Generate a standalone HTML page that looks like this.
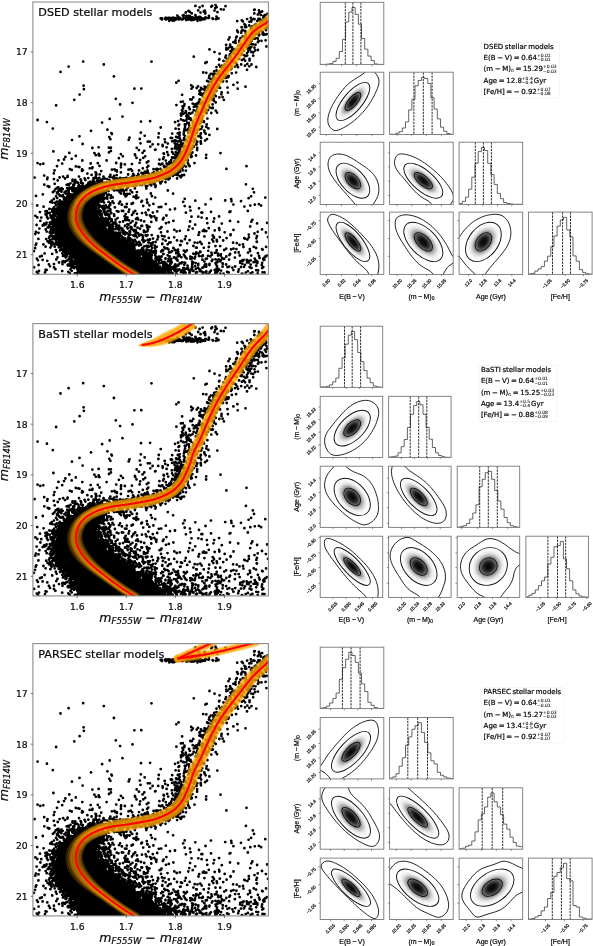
<!DOCTYPE html><html><head><meta charset="utf-8"><title>Stellar models</title>
<style>html,body{margin:0;padding:0;background:#fff}svg{display:block}text{font-family:"DejaVu Sans","Liberation Sans",sans-serif;fill:#0a0a0a;stroke:#0a0a0a;stroke-width:0.22px}.lib{font-family:"Liberation Sans","DejaVu Sans",sans-serif;stroke:#0a0a0a;stroke-width:0.2px}.it{font-style:italic}</style></head><body>
<svg width="593" height="946" viewBox="0 0 593 946">
<rect width="593" height="946" fill="#fff"/>
<defs>
<g id="stars"><path d="M84.3 190.0L69.6 195.5L62.5 202.7L58.8 211.0L55.5 222.3L56.4 233.1L60.0 239.4L65.4 247.2L71.8 255.6L79.3 264.1L85.3 276.0L157.2 276.0L141.0 263.0L117.9 242.6L100.4 221.8L94.1 206.6L94.3 195.8L101.1 191.3L94.5 191.5Z" fill="#000" stroke="#000" stroke-width="2" stroke-linejoin="round"/><path d="M149.0 257.5h0M133.3 252.5h0M159.6 258.6h0M160.2 267.0h0M169.9 273.4h0M164.4 273.5h0M163.5 272.9h0M46.3 224.0h0M165.5 258.8h0M61.3 242.4h0M151.6 270.1h0M133.5 230.0h0M155.5 268.9h0M121.8 244.7h0M152.2 263.2h0M156.7 271.7h0M174.2 237.3h0M128.7 248.0h0M180.0 263.1h0M55.1 223.0h0M172.7 268.7h0M216.5 272.5h0M143.0 262.7h0M149.3 262.6h0M150.7 252.4h0M102.5 220.4h0M148.5 253.5h0M138.0 260.1h0M105.6 226.0h0M156.9 270.2h0M133.5 253.8h0M108.9 231.2h0M157.9 271.1h0M206.2 264.4h0M185.1 262.9h0M50.5 215.3h0M106.5 225.7h0M121.8 242.3h0M143.3 254.0h0M51.9 221.7h0M156.6 267.4h0M54.9 210.8h0M118.5 236.7h0M171.9 272.9h0M122.9 238.4h0M168.3 268.7h0M125.6 247.6h0M156.8 272.3h0M119.3 243.1h0M52.9 223.4h0M151.1 269.2h0M108.1 220.9h0M112.5 228.4h0M103.2 221.6h0M184.4 273.5h0M58.6 207.1h0M102.8 224.5h0M152.8 268.5h0M151.8 259.6h0M159.1 269.9h0M148.5 266.2h0M135.5 252.0h0M125.6 244.2h0M74.3 263.2h0M152.2 263.6h0M183.3 273.8h0M181.8 270.4h0M177.0 266.2h0M145.8 255.8h0M174.6 268.1h0M140.7 261.6h0M155.5 258.5h0M54.4 220.5h0M136.8 259.0h0M143.1 261.0h0M154.1 270.5h0M153.8 266.1h0M125.7 246.5h0M128.4 234.1h0M111.2 221.3h0M120.7 242.4h0M144.5 252.7h0M57.8 235.7h0M168.1 273.8h0M113.3 223.7h0M182.0 271.7h0M52.5 221.4h0M147.3 246.9h0M54.1 221.3h0M155.6 271.4h0M154.2 266.6h0M126.1 243.9h0M70.4 259.1h0M136.7 258.8h0M143.6 242.0h0M139.1 260.8h0M169.5 265.7h0M135.5 255.9h0M164.0 269.4h0M151.7 270.8h0M132.0 254.9h0M144.3 259.3h0M136.6 257.1h0M163.0 263.8h0M139.2 235.5h0M53.9 225.1h0M172.3 267.5h0M149.5 266.7h0M189.9 271.8h0M151.4 267.5h0M70.9 259.8h0M102.6 223.3h0M142.4 240.0h0M171.8 272.8h0M52.9 217.9h0M149.7 269.4h0M150.1 263.7h0M136.8 258.4h0M110.5 229.9h0M122.7 245.3h0M159.9 266.6h0M97.2 211.0h0M149.6 267.3h0M115.4 229.2h0M142.9 257.3h0M165.6 267.4h0M148.6 265.2h0M148.4 266.4h0M129.3 252.3h0M146.8 262.4h0M154.7 270.8h0M56.0 241.1h0M125.7 249.4h0M191.7 268.3h0M128.1 239.5h0M163.5 270.0h0M139.5 252.5h0M77.6 265.1h0M143.3 261.1h0M175.9 250.4h0M117.9 228.8h0M137.9 259.1h0M126.0 246.4h0M71.1 263.7h0M129.1 248.2h0M146.2 257.7h0M114.9 237.9h0M160.7 270.5h0M150.7 262.4h0M52.2 211.7h0M141.9 262.9h0M142.5 235.4h0M175.2 268.4h0M148.5 268.0h0M112.5 233.8h0M148.1 266.6h0M69.1 265.6h0M122.0 245.3h0M154.7 273.1h0M184.5 262.6h0M146.5 262.6h0M148.8 263.1h0M79.2 266.1h0M127.5 250.6h0M169.9 265.2h0M151.3 270.3h0M134.4 244.4h0M138.4 255.7h0M141.7 261.6h0M137.2 257.5h0M157.4 273.2h0M52.6 216.8h0M162.2 262.3h0M117.3 237.5h0M58.9 239.6h0M155.5 271.7h0M57.2 235.2h0M178.2 256.3h0M151.0 270.5h0M130.9 252.4h0M148.1 267.4h0M165.3 262.6h0M55.1 224.1h0M170.2 271.3h0M152.2 262.6h0M176.6 269.5h0M153.2 272.7h0M144.6 265.1h0M209.5 264.0h0M147.9 265.1h0M140.0 259.0h0M139.6 242.6h0M137.5 227.7h0M152.2 244.3h0M159.0 272.8h0M167.6 271.2h0M178.0 255.9h0M154.7 272.8h0M138.9 257.6h0M124.4 245.5h0M52.7 220.8h0M151.4 270.5h0M141.3 262.2h0M136.7 257.5h0M112.4 234.3h0M117.8 240.0h0M204.6 265.5h0M136.8 242.7h0M55.4 226.3h0M156.1 272.8h0M152.1 270.4h0M56.6 213.7h0M181.8 271.0h0M143.4 258.4h0M154.4 268.1h0M103.8 211.9h0M191.5 269.3h0M163.8 268.2h0M135.7 257.8h0M202.9 255.8h0M147.6 268.0h0M220.3 273.6h0M145.6 265.4h0M179.3 269.4h0M60.0 206.4h0M127.9 249.4h0M150.0 266.9h0M166.6 264.4h0M135.5 257.6h0M122.4 243.4h0M165.1 273.4h0M57.7 207.4h0M70.4 254.8h0M154.6 269.7h0M184.8 256.2h0M132.5 221.2h0M150.5 266.4h0M145.9 254.0h0M168.0 261.3h0M167.7 271.5h0M137.5 259.0h0M162.8 273.3h0M184.0 268.1h0M122.9 245.7h0M196.6 272.1h0M151.0 259.8h0M37.3 217.4h0M137.0 259.4h0M154.4 271.1h0M134.5 251.3h0M152.5 271.8h0M135.8 257.2h0M158.4 268.3h0M60.4 240.3h0M118.4 242.9h0M52.6 222.0h0M47.7 227.3h0M174.8 271.0h0M138.2 258.4h0M140.4 260.2h0M176.5 270.8h0M170.9 268.8h0M143.6 254.0h0M139.9 258.1h0M159.7 267.9h0M165.9 265.9h0M134.3 251.8h0M154.6 264.4h0M71.1 259.5h0M140.4 258.7h0M52.2 216.0h0M156.9 272.9h0M121.3 245.5h0M189.5 272.3h0M168.5 271.7h0M134.2 253.9h0M62.6 245.8h0M184.3 271.9h0M56.9 244.6h0M199.7 271.1h0M138.9 250.7h0M146.1 261.6h0M154.7 251.0h0M146.1 266.5h0M154.3 262.2h0M151.3 245.8h0M146.9 262.7h0M139.0 253.1h0M157.8 272.9h0M163.2 265.5h0M65.3 248.3h0M156.2 259.1h0M169.3 259.4h0M125.0 226.1h0M128.8 249.8h0M128.2 249.1h0M152.7 267.9h0M171.2 267.3h0M105.5 223.8h0M118.6 242.2h0M142.3 252.8h0M148.0 263.9h0M56.7 213.2h0M107.8 224.7h0M126.9 248.8h0M148.0 267.6h0M114.2 237.2h0M56.6 252.2h0M184.8 272.6h0M49.4 208.9h0M146.0 251.2h0M60.9 203.1h0M131.5 248.9h0M142.6 260.3h0M118.7 227.2h0M132.2 253.2h0M178.6 270.1h0M116.2 236.0h0M170.0 272.3h0M54.6 216.5h0M130.4 234.6h0M142.1 261.1h0M152.7 260.8h0M45.5 214.3h0M56.6 234.0h0M146.2 266.0h0M148.1 265.5h0M55.7 236.1h0M145.0 264.4h0M143.4 261.8h0M117.6 218.1h0M78.5 265.0h0M151.9 271.3h0M128.5 224.7h0M169.6 256.4h0M139.4 254.6h0M147.9 263.9h0M132.0 253.1h0M149.9 267.5h0M106.8 219.6h0M157.8 267.5h0M156.8 273.2h0M140.0 228.7h0M130.7 250.5h0M176.0 271.3h0M66.3 254.8h0M153.2 269.3h0M51.9 228.6h0M183.8 254.6h0M118.1 233.8h0M135.1 255.8h0M159.2 267.2h0M153.7 272.0h0M158.0 271.8h0M134.5 248.6h0M149.2 259.9h0M108.9 207.5h0M53.0 232.0h0M146.0 262.5h0M108.3 231.1h0M157.7 273.6h0M45.6 246.7h0M57.3 242.1h0M154.2 263.0h0M158.0 236.2h0M162.9 271.7h0M156.1 258.5h0M145.9 263.7h0M139.7 257.3h0M132.8 248.1h0M162.3 270.8h0M136.2 222.9h0M170.5 262.0h0M154.9 271.4h0M156.0 250.8h0M91.6 174.9h0M97.0 197.3h0M87.6 184.9h0M92.7 183.4h0M89.9 184.5h0M100.5 193.5h0M100.3 185.7h0M96.1 200.5h0M87.1 189.9h0M97.2 195.0h0M92.8 183.6h0M100.6 184.3h0M99.5 189.2h0M93.0 180.4h0M92.0 188.6h0M100.9 189.3h0M71.3 194.8h0M101.3 188.4h0M88.8 190.0h0M80.3 190.9h0M98.8 181.0h0M103.8 197.6h0M97.1 186.7h0M100.1 188.9h0M90.0 189.3h0M95.0 187.0h0M82.6 188.7h0M65.9 193.7h0M96.2 188.0h0M82.1 188.0h0M102.7 198.0h0M102.0 192.3h0M89.9 186.0h0M95.7 176.9h0M81.3 190.9h0M93.8 186.0h0M97.6 180.1h0M93.0 184.2h0M97.7 197.5h0M95.9 185.5h0M90.9 184.8h0M90.6 190.4h0M103.9 194.2h0M100.6 186.4h0M97.2 181.1h0M94.8 199.1h0M88.1 190.3h0M94.6 184.1h0M102.5 197.3h0M99.1 186.1h0M99.0 194.8h0M96.1 189.5h0M93.3 189.7h0M97.9 178.6h0M94.1 189.9h0M93.4 186.8h0M87.0 187.0h0M88.7 188.4h0M97.7 190.0h0M80.3 187.0h0M82.7 187.4h0M85.6 187.6h0M93.4 185.0h0M98.3 200.1h0M100.9 191.1h0M92.1 188.9h0M88.0 184.0h0M87.0 188.4h0M102.7 190.8h0M92.6 185.0h0M95.4 186.2h0M94.0 188.1h0M99.3 188.6h0M98.0 185.3h0M95.4 187.8h0M97.3 193.8h0M95.6 188.4h0M102.8 194.9h0M95.2 190.6h0M76.6 182.0h0M88.0 188.7h0M102.9 191.1h0M92.8 188.7h0M93.6 179.8h0M95.2 199.9h0M95.8 194.9h0M77.5 191.6h0M88.8 188.6h0M99.9 201.0h0M100.5 195.3h0M101.6 191.2h0M98.0 202.8h0M96.5 195.1h0M78.9 185.1h0M96.5 174.5h0M100.5 190.1h0M101.4 190.6h0M103.8 199.2h0M102.8 199.7h0M98.2 197.3h0M96.9 184.2h0M79.0 188.1h0M100.9 196.2h0M101.3 195.7h0M96.5 185.1h0M100.1 189.1h0M100.7 190.7h0M87.1 189.9h0M80.0 187.9h0M96.8 205.4h0M97.1 190.1h0M88.0 190.0h0M73.2 190.0h0M92.2 182.2h0M94.7 198.9h0M97.5 199.6h0M101.9 197.3h0M96.1 201.5h0M101.1 197.0h0M98.8 198.6h0M98.1 197.0h0M102.3 191.5h0M99.9 188.4h0M96.6 187.3h0M86.0 186.7h0M62.8 195.7h0M102.1 188.9h0M100.9 185.3h0M98.3 194.6h0M94.1 188.3h0M87.2 188.8h0M173.2 153.7h0M161.0 175.1h0M117.7 184.3h0M148.7 179.6h0M183.7 163.9h0M177.9 172.6h0M119.0 184.1h0M135.6 184.4h0M90.3 186.8h0M113.6 187.7h0M151.3 179.3h0M103.8 193.9h0M105.2 182.9h0M113.7 180.2h0M83.9 189.2h0M188.9 147.4h0M160.6 183.4h0M187.9 163.1h0M117.6 183.5h0M187.3 146.0h0M137.4 176.0h0M136.8 183.4h0M99.7 183.9h0M176.3 159.0h0M132.9 180.4h0M100.2 189.2h0M168.3 169.5h0M183.4 161.0h0M150.6 182.3h0M92.5 183.1h0M116.4 180.2h0M130.6 178.0h0M93.6 188.7h0M119.8 185.4h0M113.7 184.5h0M154.1 177.0h0M175.9 166.1h0M173.9 172.2h0M100.3 189.7h0M110.2 183.7h0M95.8 196.2h0M179.1 145.2h0M158.0 176.4h0M180.7 146.6h0M146.7 172.7h0M106.5 182.4h0M187.6 152.5h0M108.6 182.6h0M189.6 166.2h0M101.9 188.2h0M101.9 181.4h0M123.1 180.4h0M93.6 188.9h0M153.9 184.0h0M156.0 169.4h0M171.0 173.0h0M102.8 186.6h0M133.8 181.7h0M191.1 155.6h0M143.4 179.9h0M190.6 149.6h0M110.8 186.6h0M165.9 171.7h0M166.6 178.1h0M188.8 150.9h0M188.3 152.9h0M149.3 179.2h0M152.0 179.1h0M182.6 146.8h0M145.9 186.3h0M97.7 198.8h0M117.2 190.0h0M188.3 147.1h0M160.5 168.9h0M110.4 187.7h0M155.3 178.6h0M182.9 160.7h0M108.2 183.9h0M137.0 177.6h0M141.9 179.0h0M147.0 177.6h0M107.1 179.1h0M197.1 150.1h0M172.4 164.0h0M102.8 190.9h0M159.1 179.3h0M141.3 179.2h0M134.5 178.2h0M155.4 187.0h0M179.2 153.6h0M120.9 179.0h0M133.7 181.0h0M108.1 183.5h0M105.2 192.3h0M160.3 175.2h0M178.6 172.2h0M156.0 181.0h0M180.9 153.0h0M133.7 185.3h0M144.8 176.3h0M128.5 181.5h0M164.7 175.4h0M99.4 185.0h0M187.0 153.7h0M115.1 184.8h0M169.3 162.1h0M95.9 189.1h0M131.4 179.4h0M158.0 176.3h0M157.5 173.1h0M150.8 183.2h0M99.7 196.4h0M174.4 158.2h0M92.1 190.4h0M95.5 188.2h0M127.9 181.8h0M151.2 178.7h0M111.5 186.7h0M107.1 184.9h0M176.1 167.3h0M189.0 151.0h0M123.1 180.3h0M85.1 186.8h0M186.1 155.5h0M158.6 178.1h0M131.0 180.5h0M90.3 181.9h0M176.8 163.4h0M127.0 185.2h0M175.5 166.6h0M184.4 157.7h0M179.8 157.2h0M139.5 180.3h0M88.1 188.9h0M179.3 163.0h0M126.0 178.0h0M188.5 147.2h0M102.7 194.4h0M155.7 173.8h0M114.8 187.0h0M192.4 152.5h0M158.0 180.3h0M147.8 181.7h0M140.8 179.9h0M142.8 176.6h0M179.5 164.1h0M128.4 180.7h0M180.6 162.3h0M158.6 178.0h0M139.6 177.1h0M169.5 164.1h0M98.0 187.2h0M114.5 185.3h0M101.8 183.6h0M120.1 177.8h0M148.6 178.9h0M172.5 168.1h0M187.0 148.0h0M144.8 176.3h0M112.6 189.0h0M108.9 184.0h0M104.1 193.0h0M129.2 181.7h0M182.9 154.7h0M115.6 183.7h0M115.0 183.9h0M157.5 171.5h0M108.5 185.2h0M184.0 153.1h0M170.1 167.9h0M160.1 174.5h0M129.3 182.6h0M188.1 146.3h0M116.8 178.4h0M181.4 159.7h0M109.6 187.2h0M155.2 180.7h0M183.9 164.9h0M155.6 175.2h0M150.3 177.5h0M166.6 163.5h0M166.0 178.5h0M136.7 179.5h0M101.3 184.4h0M142.5 178.2h0M184.6 158.6h0M175.3 165.4h0M182.0 156.4h0M126.6 177.8h0M157.9 176.2h0M184.4 148.3h0M158.7 180.2h0M98.2 189.3h0M118.3 184.3h0M94.4 196.1h0M186.9 159.9h0M176.0 168.2h0M165.8 173.1h0M107.8 190.5h0M133.9 182.4h0M136.5 178.0h0M129.1 185.3h0M149.1 181.8h0M172.5 175.5h0M174.2 161.7h0M179.2 160.5h0M126.3 189.7h0M174.2 166.1h0M171.1 174.5h0M88.5 186.6h0M96.4 186.7h0M180.3 159.7h0M143.5 173.1h0M170.5 172.0h0M128.2 179.4h0M101.3 186.6h0M173.6 170.5h0M109.8 181.7h0M152.8 182.5h0M179.5 155.7h0M91.4 184.1h0M126.0 182.5h0M109.4 186.2h0M110.9 183.9h0M141.5 173.0h0M187.8 149.7h0M109.2 182.1h0M177.0 169.3h0M186.1 153.3h0M149.0 177.9h0M114.1 190.4h0M128.7 178.3h0M156.3 179.8h0M178.7 169.0h0M112.6 177.6h0M126.4 190.2h0M138.5 174.9h0M111.7 187.9h0M180.8 159.3h0M155.4 174.7h0M99.8 195.1h0M122.3 184.1h0M148.3 180.9h0M128.0 187.6h0M161.4 172.8h0M127.9 181.9h0M112.8 186.8h0M176.5 159.9h0M185.1 159.6h0M186.5 150.6h0M110.7 182.7h0M132.5 185.7h0M121.2 181.3h0M150.5 175.5h0M177.1 167.4h0M171.8 168.1h0M169.6 177.9h0M105.3 185.8h0M137.6 176.9h0M178.3 173.1h0M180.1 163.7h0M123.8 190.9h0M88.5 189.6h0M187.3 156.1h0M174.5 166.4h0M110.2 187.0h0M114.9 183.3h0M99.0 193.2h0M135.8 185.6h0M115.7 184.4h0M110.4 187.7h0M184.1 156.7h0M166.1 166.7h0M187.1 150.2h0M133.2 181.9h0M181.7 153.4h0M149.5 180.4h0M143.9 182.2h0M154.6 183.9h0M120.9 188.8h0M176.4 163.8h0M175.4 163.7h0M101.1 183.6h0M149.3 182.4h0M99.6 192.9h0M160.1 182.1h0M122.3 179.1h0M112.9 183.5h0M185.3 146.5h0M110.1 183.1h0M90.3 186.9h0M95.4 196.7h0M119.6 184.0h0M147.2 186.1h0M188.6 164.5h0M143.1 174.5h0M170.9 169.0h0M97.2 190.4h0M178.8 157.3h0M161.0 171.8h0M180.3 152.1h0M105.7 184.7h0M101.5 184.8h0M115.6 183.8h0M122.3 189.7h0M173.1 163.1h0M158.6 174.2h0M178.2 156.9h0M123.1 185.9h0M116.6 190.2h0M163.1 178.3h0M153.2 181.3h0M165.5 182.2h0M182.3 155.1h0M178.0 156.7h0M162.3 178.1h0M109.5 180.2h0M154.0 174.3h0M128.1 183.3h0M129.6 193.9h0M190.8 148.2h0M128.4 181.0h0M172.8 175.9h0M103.5 184.4h0M142.1 180.0h0M183.8 153.7h0M165.7 174.4h0M104.8 178.6h0M190.9 157.0h0M100.9 185.2h0M189.7 150.6h0M166.0 171.8h0M187.7 155.5h0M177.8 169.1h0M182.2 152.3h0M180.8 168.1h0M157.8 169.1h0M149.6 184.2h0M99.3 178.0h0M136.4 185.2h0M153.2 173.8h0M177.2 164.7h0M162.4 173.5h0M125.6 179.5h0M152.1 177.0h0M185.3 151.5h0M185.7 149.6h0M182.9 145.5h0M179.6 167.0h0M164.8 172.3h0M156.5 168.9h0M123.6 179.3h0M121.0 189.8h0M179.5 165.9h0M132.7 179.1h0M174.7 174.6h0M101.6 193.1h0M187.8 154.1h0M97.4 183.5h0M164.9 174.2h0M121.2 186.2h0M127.3 187.3h0M142.9 177.0h0M123.1 180.5h0M184.6 146.9h0M117.8 190.1h0M124.2 194.4h0M136.9 192.1h0M119.5 183.2h0M156.3 175.4h0M162.8 174.2h0M148.4 178.2h0M121.6 179.4h0M102.3 185.2h0M172.9 167.5h0M100.8 184.8h0M190.5 148.1h0M162.5 173.7h0M117.5 182.9h0M147.9 172.3h0M102.4 187.8h0M184.2 153.9h0M114.7 182.0h0M152.3 177.8h0M88.5 189.5h0M168.6 171.3h0M123.5 178.4h0M146.3 188.5h0M183.3 155.6h0M161.8 170.4h0M96.9 200.9h0M179.5 160.7h0M96.0 187.6h0M187.8 160.3h0M131.0 180.5h0M118.7 186.9h0M125.5 183.7h0M185.9 150.3h0M139.2 182.4h0M89.1 190.5h0M133.1 173.9h0M144.8 183.9h0M144.7 179.7h0M186.8 152.2h0M111.4 186.3h0M155.8 185.7h0M102.7 179.1h0M182.9 160.7h0M113.7 184.4h0M101.2 186.1h0M106.0 192.9h0M174.7 166.6h0M108.0 188.6h0M160.2 173.1h0M96.9 195.9h0M94.5 182.0h0M179.2 162.1h0M160.1 178.1h0M182.3 158.7h0M110.8 183.1h0M121.7 190.3h0M139.0 170.5h0M96.5 195.0h0M180.2 166.5h0M175.3 155.6h0M176.7 174.9h0M117.4 182.2h0M177.9 175.1h0M146.7 176.3h0M139.7 184.9h0M154.5 175.9h0M125.1 180.5h0M124.4 185.0h0M114.8 182.8h0M96.7 190.8h0M177.0 166.2h0M156.5 176.1h0M187.3 159.2h0M166.1 170.6h0M130.5 190.4h0M122.0 182.1h0M100.5 190.2h0M122.2 178.6h0M184.7 149.1h0M169.2 174.0h0M146.9 177.0h0M89.4 189.7h0M185.0 159.6h0M162.0 177.4h0M175.8 167.9h0M165.1 173.1h0M131.8 181.9h0M120.3 184.3h0M137.4 183.0h0M142.6 178.8h0M103.2 183.4h0M162.8 172.7h0M168.0 176.2h0M84.9 186.5h0M133.4 183.1h0M94.7 189.5h0M136.8 179.9h0M169.7 178.2h0M183.6 150.8h0M107.2 185.5h0M166.8 173.7h0M185.0 149.9h0M116.3 179.7h0M93.5 190.1h0M122.9 189.4h0M142.1 176.2h0M125.1 180.7h0M191.8 147.9h0M114.3 179.7h0M143.2 182.0h0M106.9 186.8h0M147.5 170.5h0M141.8 181.7h0M158.4 179.5h0M120.6 181.3h0M101.5 189.0h0M125.7 185.1h0M145.8 182.2h0M116.2 183.0h0M112.8 186.5h0M122.8 183.2h0M105.9 190.5h0M160.4 173.7h0M125.4 178.2h0M180.2 171.7h0M134.4 181.5h0M92.3 187.7h0M164.7 172.3h0M143.4 176.1h0M180.8 153.6h0M101.8 193.6h0M94.9 198.2h0M100.7 186.7h0M117.5 183.3h0M106.6 183.1h0M191.2 153.4h0M111.3 182.1h0M185.5 148.7h0M165.1 176.4h0M82.6 185.8h0M108.6 191.1h0M152.6 173.9h0M149.0 177.9h0M163.8 165.9h0M82.1 188.0h0M89.4 189.7h0M149.5 183.5h0M172.9 164.7h0M185.9 170.7h0M95.3 187.6h0M182.4 145.3h0M185.6 159.9h0M106.0 193.0h0M175.0 167.1h0M145.0 181.1h0M158.3 177.1h0M150.5 175.7h0M186.0 166.6h0M103.2 190.3h0M191.8 147.9h0M185.4 150.9h0M123.8 185.6h0M109.9 185.5h0M188.5 146.5h0M129.9 182.3h0M162.1 181.3h0M162.0 175.8h0M174.6 169.6h0M92.4 190.9h0M180.4 165.8h0M122.2 183.6h0M181.9 163.4h0M180.3 157.5h0M162.0 172.6h0M128.9 184.0h0M154.0 172.4h0M186.0 151.9h0M119.6 184.3h0M94.8 189.9h0M154.4 178.1h0M184.3 155.4h0M100.5 186.2h0M182.0 160.9h0M128.1 174.5h0M149.5 174.2h0M171.0 162.5h0M145.9 182.4h0M174.5 168.5h0M110.3 176.9h0M88.1 185.8h0M180.1 159.6h0M103.2 186.0h0M155.0 177.7h0M102.8 186.6h0M166.8 168.0h0M169.5 176.0h0M129.6 184.8h0M144.9 177.0h0M105.5 186.5h0M127.1 181.0h0M130.4 181.0h0M177.2 160.5h0M180.9 157.9h0M164.4 178.0h0M106.9 184.2h0M185.7 157.6h0M154.5 180.8h0M121.8 190.6h0M148.8 173.8h0M143.1 178.1h0M165.3 173.5h0M92.7 188.5h0M146.3 177.7h0M101.0 187.7h0M119.4 187.2h0M176.9 149.2h0M159.0 173.7h0M256.9 31.2h0M230.5 51.1h0M184.8 124.4h0M208.4 128.4h0M185.2 149.3h0M224.2 66.4h0M192.5 145.3h0M241.5 46.1h0M196.1 122.8h0M203.9 102.7h0M224.0 69.6h0M251.2 27.7h0M231.8 73.3h0M186.6 130.1h0M233.8 53.5h0M260.1 12.1h0M202.8 96.4h0M207.5 88.2h0M203.8 109.8h0M251.0 28.5h0M249.2 25.5h0M251.4 44.1h0M255.1 34.5h0M253.7 37.3h0M223.2 71.5h0M218.9 74.8h0M203.0 103.0h0M217.3 87.0h0M210.7 74.0h0M211.4 108.1h0M202.4 116.4h0M259.0 35.4h0M262.6 34.2h0M194.9 104.5h0M197.0 141.7h0M245.6 56.2h0M239.0 58.8h0M220.2 74.2h0M214.0 94.6h0M244.4 43.3h0M195.1 130.1h0M232.9 61.6h0M232.5 61.4h0M198.5 118.9h0M191.4 137.8h0M191.1 120.1h0M245.4 31.3h0M241.1 45.0h0M241.9 46.4h0M255.1 38.5h0M262.1 20.3h0M219.2 74.2h0M179.9 148.4h0M245.7 40.2h0M267.3 27.0h0M199.1 129.5h0M257.9 34.1h0M201.7 89.0h0M260.0 30.4h0M258.0 28.5h0M258.4 18.9h0M237.2 64.9h0M197.2 114.7h0M240.2 48.4h0M252.5 26.9h0M247.0 41.8h0M199.7 113.0h0M213.8 86.4h0M216.2 90.7h0M237.5 49.7h0M199.0 117.7h0M232.0 47.5h0M222.7 81.5h0M252.1 26.5h0M246.5 43.1h0M267.2 26.9h0M230.9 69.3h0M236.9 50.9h0M254.5 30.3h0M210.1 98.4h0M251.4 20.2h0M198.4 113.8h0M205.2 87.7h0M265.0 15.4h0M261.6 20.6h0M188.0 142.8h0M235.8 63.0h0M202.3 103.4h0M249.5 38.0h0M184.7 135.8h0M249.0 44.8h0M224.8 74.4h0M231.6 52.7h0M251.9 32.4h0M204.7 108.0h0M228.5 39.6h0M193.2 137.7h0M265.0 22.4h0M191.7 99.6h0M204.9 108.8h0M260.9 26.9h0M257.8 38.6h0M228.7 75.8h0M205.9 98.6h0M240.6 47.9h0M186.4 156.4h0M239.3 42.2h0M203.9 104.1h0M211.6 98.4h0M191.8 132.5h0M201.8 110.3h0M200.3 136.4h0M195.8 114.8h0M216.6 83.5h0M192.2 140.8h0M255.6 33.4h0M257.3 26.1h0M214.0 100.9h0M191.7 133.1h0M202.7 108.6h0M245.8 39.4h0M191.8 131.1h0M212.4 80.9h0M258.2 26.3h0M230.7 57.6h0M255.8 27.6h0M250.9 34.9h0M219.9 78.0h0M226.1 44.8h0M216.5 70.5h0M259.0 19.9h0M229.9 54.5h0M189.9 141.4h0M226.0 55.6h0M191.5 128.2h0M201.4 121.6h0M260.8 22.9h0M201.0 143.7h0M219.1 59.8h0M194.0 142.1h0M237.6 49.0h0M243.8 59.0h0M263.4 33.4h0M251.5 41.1h0M213.3 78.3h0M224.6 68.4h0M251.3 47.1h0M194.6 138.8h0M239.3 40.7h0M251.3 47.1h0M252.7 38.9h0M263.4 17.4h0M216.0 90.6h0M185.3 158.9h0M185.8 153.9h0M246.8 42.5h0M211.6 96.3h0M255.9 24.1h0M234.5 49.2h0M196.7 118.8h0M210.8 92.9h0M202.3 107.7h0M256.1 24.4h0M252.6 34.7h0M197.8 122.1h0M224.6 75.8h0M264.9 22.3h0M202.5 109.9h0M262.0 31.1h0M266.5 24.5h0M262.8 32.4h0M261.1 21.0h0M196.6 104.6h0M202.2 126.6h0M202.1 105.5h0M198.5 114.6h0M241.5 46.9h0M200.9 133.3h0M244.4 55.3h0M187.9 150.5h0M212.9 95.5h0M201.1 138.0h0M189.0 113.2h0M206.4 113.1h0M213.7 98.7h0M203.4 109.6h0M250.5 37.1h0M252.3 34.5h0M226.0 75.3h0M222.2 68.2h0M214.1 85.1h0M216.6 83.6h0M228.4 76.4h0M261.9 24.7h0M258.3 27.7h0M238.0 67.2h0M263.9 17.3h0M194.6 134.7h0M212.6 104.4h0M191.1 137.0h0M189.5 127.5h0M239.0 49.2h0M209.4 75.7h0M196.4 103.8h0M223.5 60.9h0M191.0 153.3h0M196.4 125.8h0M236.5 55.3h0M251.4 52.0h0M202.2 105.5h0M192.8 146.9h0M266.8 27.5h0M233.5 50.0h0M186.7 141.0h0M218.7 85.6h0M184.0 138.1h0M244.1 44.7h0M187.4 114.8h0M212.0 85.3h0M206.7 62.2h0M260.3 23.4h0M205.1 140.6h0M247.6 48.6h0M180.0 149.2h0M208.5 105.4h0M243.6 50.7h0M245.5 40.0h0M193.4 128.1h0M208.0 97.4h0M208.0 110.1h0M215.7 102.4h0M227.3 61.4h0M263.6 34.8h0M200.2 123.1h0M254.5 31.2h0M247.2 55.6h0M248.2 51.5h0M200.2 103.3h0M232.3 50.0h0M224.9 67.8h0M265.9 18.9h0M206.0 112.2h0M241.6 27.2h0M200.6 133.9h0M227.4 76.4h0M183.2 156.3h0M189.7 138.6h0M215.0 78.6h0M246.1 45.3h0M193.3 97.4h0M196.0 155.5h0M220.4 74.3h0M183.4 158.7h0M199.1 103.5h0M265.5 34.6h0M223.0 81.0h0M263.4 16.1h0M219.4 80.0h0M189.4 154.1h0M227.7 68.4h0M265.2 22.7h0M231.3 67.1h0M204.0 122.0h0M199.3 94.0h0M181.3 142.8h0M203.8 89.3h0M242.1 44.1h0M226.5 61.6h0M210.6 92.9h0M208.7 97.0h0M242.9 21.4h0M190.3 129.9h0M203.2 105.9h0M199.3 117.8h0M247.0 53.1h0M183.5 157.9h0M245.1 60.7h0M215.8 79.9h0M195.0 133.5h0M208.4 87.9h0M193.4 126.7h0M194.0 123.4h0M225.4 69.1h0M192.5 112.6h0M246.9 38.6h0M212.8 79.6h0M216.5 67.1h0M210.6 79.0h0M184.6 128.8h0M225.4 57.5h0M253.5 18.9h0M193.1 121.6h0M204.0 93.2h0M229.5 47.3h0M246.3 27.1h0M251.9 30.5h0M216.9 78.3h0M266.7 14.7h0M262.9 20.4h0M239.7 50.4h0M197.3 141.8h0M232.3 62.0h0M238.1 50.1h0M218.9 75.6h0M197.1 109.6h0M221.4 94.3h0M199.8 100.2h0M233.4 62.0h0M264.4 16.5h0M263.2 23.1h0M198.9 124.0h0M240.6 54.3h0M233.4 84.8h0M234.2 61.8h0M189.0 107.4h0M245.8 36.1h0M210.9 82.4h0M214.1 71.3h0M199.4 91.0h0M220.1 87.9h0M226.5 64.9h0M207.4 101.4h0M255.0 34.4h0M189.8 131.8h0M226.3 71.5h0M196.4 129.9h0M227.7 70.1h0M218.7 72.2h0M194.5 163.1h0M224.1 77.1h0M208.3 100.4h0M259.8 18.9h0M200.5 93.0h0M267.4 13.9h0M199.1 122.7h0M264.3 22.5h0M256.3 67.0h0M254.7 9.6h0M209.6 96.7h0M194.3 139.4h0M229.8 55.3h0M259.2 25.4h0M212.8 73.8h0M261.8 21.0h0M204.3 130.7h0M198.0 86.3h0M220.1 71.6h0M250.8 17.8h0M241.6 31.2h0M195.2 128.1h0M245.5 25.2h0M201.0 115.0h0M255.2 29.1h0M241.9 60.1h0M200.7 142.1h0M202.7 94.1h0M223.8 74.4h0M192.8 86.9h0M206.1 157.9h0M249.3 66.3h0M198.7 101.9h0M250.0 42.4h0M266.3 21.1h0M208.8 85.1h0M234.2 50.6h0M220.8 75.4h0M235.9 63.1h0M189.5 148.4h0M193.8 106.8h0M237.2 21.1h0M188.4 130.0h0M212.0 81.5h0M217.3 129.0h0M257.3 20.9h0M264.7 15.1h0M192.7 103.6h0M192.0 148.7h0M178.5 125.3h0M222.6 97.1h0M201.3 128.9h0M244.8 30.9h0M223.4 74.1h0M221.6 92.4h0M225.7 70.9h0M196.5 144.5h0M262.5 19.9h0M202.6 111.4h0M213.1 92.7h0M265.4 18.2h0M195.0 131.4h0M253.2 55.7h0M244.5 24.2h0M197.4 112.0h0M237.4 82.6h0M229.6 37.3h0M211.1 89.4h0M225.8 77.6h0M266.0 30.2h0M244.0 43.8h0M209.4 134.9h0M227.9 92.6h0M254.2 9.9h0M209.5 107.3h0M264.7 15.1h0M187.3 123.0h0M185.0 153.6h0M219.0 64.8h0M211.3 113.0h0M215.7 110.6h0M262.1 11.5h0M260.8 14.9h0M229.7 58.4h0M212.9 108.0h0M235.4 54.6h0M237.1 30.6h0M255.5 44.7h0M226.7 77.5h0M196.1 111.4h0M241.8 20.3h0M249.9 49.4h0M261.5 40.8h0M215.7 79.1h0M249.4 21.8h0M237.9 32.2h0M244.7 37.0h0M241.5 53.3h0M236.1 37.7h0M253.0 44.4h0M236.1 72.6h0M241.6 31.2h0M248.4 47.6h0M219.3 76.7h0M249.5 60.5h0M206.3 72.8h0M252.1 33.4h0M200.4 120.4h0M258.7 40.9h0M206.7 124.5h0M201.0 87.9h0M231.5 60.5h0M254.5 38.7h0M206.2 154.8h0M226.7 81.4h0M266.8 34.2h0M254.3 13.4h0M265.6 40.3h0M203.5 121.8h0M247.0 69.8h0M213.5 76.0h0M251.5 41.0h0M200.3 118.3h0M196.9 132.7h0M214.6 94.9h0M235.0 66.6h0M191.8 156.6h0M217.0 83.0h0M225.2 77.9h0M191.2 85.3h0M240.4 38.1h0M217.9 87.4h0M230.6 57.5h0M231.1 66.1h0M214.5 52.1h0M188.4 132.8h0M205.4 63.0h0M245.5 86.7h0M175.4 140.3h0M184.8 130.3h0M204.5 132.0h0M207.4 118.6h0M245.9 43.5h0M245.7 33.4h0M206.4 98.8h0M183.4 143.6h0M257.9 42.2h0M190.5 118.4h0M224.9 64.5h0M184.5 104.1h0M203.4 103.9h0M182.1 94.8h0M219.6 53.7h0M254.5 19.2h0M249.3 41.0h0M242.0 54.4h0M213.2 92.0h0M250.7 38.1h0M227.6 59.2h0M241.4 48.4h0M212.2 81.6h0M204.7 89.8h0M265.1 18.8h0M219.4 97.4h0M242.5 30.0h0M250.0 47.8h0M207.8 89.9h0M191.5 88.7h0M201.8 118.9h0M237.7 88.7h0M203.7 121.1h0M262.2 24.0h0M226.4 49.6h0M242.7 48.5h0M191.6 156.6h0M220.9 81.0h0M180.9 101.8h0M200.7 141.4h0M203.5 111.8h0M241.2 64.5h0M235.6 42.9h0M217.0 112.6h0M258.9 10.4h0M206.0 91.2h0M195.2 139.7h0M247.3 64.0h0M210.8 94.4h0M251.6 29.1h0M210.2 99.1h0M226.8 61.0h0M196.7 88.0h0M190.2 136.8h0M257.3 38.2h0M212.6 107.9h0M199.6 99.4h0M230.1 44.6h0M257.8 14.6h0M207.0 139.1h0M225.3 65.6h0M213.4 89.9h0M236.8 36.6h0M197.2 147.9h0M231.7 68.2h0M259.2 12.8h0M215.8 96.2h0M204.6 86.6h0M211.8 82.9h0M193.9 146.5h0M219.4 59.2h0M210.1 94.1h0M208.3 81.6h0M210.5 86.8h0M241.5 49.3h0M235.5 40.5h0M245.0 65.7h0M197.4 103.5h0M182.0 144.4h0M255.1 50.5h0M246.5 47.1h0M193.7 110.2h0M258.9 32.8h0M233.4 42.2h0M242.8 36.5h0M227.6 49.0h0M206.3 126.9h0M264.9 28.4h0M238.6 45.7h0M247.1 19.1h0M212.6 99.6h0M230.6 55.9h0M197.7 107.1h0M203.2 72.5h0M254.9 38.3h0M200.8 94.7h0M222.2 65.6h0M196.2 144.4h0M227.5 87.6h0M195.4 132.2h0M210.5 98.5h0M214.9 88.5h0M200.0 90.4h0M219.7 80.2h0M256.1 33.8h0M249.6 58.9h0M257.4 28.7h0M246.9 39.4h0M254.5 47.7h0M226.3 48.0h0M196.1 106.4h0M228.3 77.1h0M266.4 46.5h0M219.4 73.5h0M257.9 50.0h0M222.9 72.9h0M179.6 135.5h0M209.0 77.9h0M196.5 129.9h0M243.1 36.7h0M215.7 91.2h0M215.3 73.9h0M251.5 64.5h0M223.9 99.8h0M206.8 102.5h0M247.2 40.4h0M197.6 115.6h0M241.3 32.8h0M237.2 30.7h0M207.1 80.9h0M228.9 57.8h0M234.2 53.7h0M216.8 74.1h0M205.7 109.9h0M254.7 24.9h0M222.8 77.7h0M253.2 52.4h0M245.0 27.0h0M230.5 46.4h0M205.7 133.7h0M221.5 79.1h0M251.3 21.6h0M262.1 20.3h0M213.8 74.5h0M259.2 34.8h0M202.3 102.0h0M216.3 90.8h0M209.3 85.4h0M223.1 73.9h0M175.4 146.9h0M176.6 153.5h0M183.2 154.7h0M173.8 164.3h0M168.2 155.0h0M180.9 156.4h0M172.1 151.9h0M177.4 145.2h0M172.2 133.6h0M178.2 163.9h0M174.7 161.4h0M172.1 141.3h0M186.8 151.1h0M179.9 150.2h0M180.7 145.0h0M175.7 154.8h0M179.7 151.7h0M176.4 156.1h0M167.2 152.2h0M174.6 143.3h0M180.3 149.4h0M179.1 136.7h0M178.2 155.7h0M178.2 155.8h0M181.1 143.0h0M179.9 153.5h0M183.9 140.0h0M181.2 140.6h0M172.1 157.4h0M180.1 139.4h0M176.9 144.7h0M167.8 143.6h0M175.6 145.7h0M188.5 137.1h0M179.7 132.7h0M178.4 158.5h0M174.8 140.7h0M180.6 155.1h0M178.7 147.0h0M162.7 146.2h0M182.8 146.6h0M179.3 151.3h0M176.6 141.2h0M173.4 157.7h0M174.7 148.4h0M183.2 158.4h0M176.8 155.0h0M176.1 136.9h0M175.7 152.1h0M179.7 146.7h0M179.3 152.7h0M178.1 148.1h0M177.8 153.8h0M178.9 150.8h0M177.1 144.1h0M176.9 146.5h0M172.1 138.1h0M175.6 128.7h0M176.4 156.9h0M179.8 138.5h0M186.8 147.4h0M179.2 124.6h0M182.6 111.6h0M186.2 120.5h0M189.5 118.9h0M183.7 134.5h0M189.8 109.2h0M194.9 132.2h0M189.2 137.3h0M182.5 106.4h0M190.3 99.4h0M178.1 121.1h0M175.1 122.2h0M185.2 140.0h0M190.8 130.9h0M185.1 127.0h0M182.0 110.2h0M180.9 113.7h0M183.1 120.4h0M176.4 105.1h0M188.9 122.9h0M187.4 118.3h0M189.2 125.3h0M184.1 120.7h0M184.3 105.6h0M181.1 115.7h0M185.3 112.9h0M198.3 136.2h0M190.7 148.2h0M188.1 118.3h0M183.1 108.3h0M185.8 111.1h0M185.9 112.3h0M188.5 116.4h0M186.4 115.9h0M186.8 117.6h0M183.1 113.9h0M182.8 101.6h0M190.4 113.7h0M188.0 129.2h0M177.4 137.6h0M185.8 139.6h0M185.6 124.4h0M193.2 124.7h0M177.8 133.4h0M179.8 19.1h0M192.5 18.6h0M168.5 17.8h0M197.7 18.6h0M200.4 17.1h0M186.5 19.8h0M181.5 19.3h0M218.5 18.4h0M185.0 18.2h0M212.6 18.5h0M196.0 18.8h0M189.2 19.0h0M203.5 18.7h0M190.6 17.2h0M195.6 18.9h0M166.1 18.0h0M199.3 16.8h0M166.2 19.5h0M187.2 18.2h0M197.6 17.6h0M190.9 20.0h0M204.2 19.2h0M180.9 18.9h0M189.7 18.6h0M188.1 18.8h0M216.0 19.2h0M216.5 16.7h0M184.6 17.8h0M194.8 18.2h0M165.5 17.8h0M196.8 17.7h0M198.5 18.2h0M186.3 20.0h0M205.2 17.6h0M194.1 19.4h0M194.8 17.7h0M173.1 18.0h0M179.5 17.7h0M174.0 20.6h0M175.5 18.1h0M178.7 17.4h0M169.3 20.8h0M178.0 17.9h0M208.3 18.1h0M195.0 18.4h0M188.0 17.1h0M182.2 19.4h0M175.8 18.4h0M165.3 19.0h0M172.4 20.6h0M171.1 19.7h0M165.0 18.7h0M176.7 19.1h0M169.8 18.0h0M187.6 18.7h0M199.5 17.5h0M203.1 18.8h0M161.9 18.4h0M204.2 18.6h0M175.2 18.7h0M185.9 17.5h0M172.4 18.0h0M169.8 19.1h0M200.3 20.2h0M184.1 17.6h0M198.2 17.7h0M175.1 18.7h0M209.0 17.8h0M201.4 18.2h0M191.9 17.9h0M183.6 18.2h0M182.8 19.0h0M217.3 18.7h0M178.3 18.3h0M160.7 18.4h0M172.1 18.2h0M177.4 15.7h0M175.5 19.7h0M197.5 20.8h0M201.4 18.9h0M172.9 19.9h0M186.4 17.5h0M196.6 18.5h0M205.2 18.9h0M169.2 19.3h0M173.4 19.8h0M172.6 18.5h0M194.0 19.8h0M167.3 18.6h0M197.8 19.3h0M182.8 15.6h0M173.6 17.8h0M188.0 18.6h0M187.0 18.6h0M192.4 17.3h0M161.9 19.4h0M196.4 18.0h0M170.7 18.4h0M174.8 19.4h0M202.2 19.4h0M197.9 18.2h0M186.0 16.5h0M183.0 19.2h0M203.0 18.8h0M196.0 16.9h0M175.2 19.1h0M175.9 18.4h0M192.0 20.0h0M179.3 17.9h0M173.5 19.7h0M205.8 17.6h0M189.9 16.2h0M192.2 18.6h0M187.9 18.7h0M192.6 18.1h0M178.6 19.3h0M188.3 19.6h0M187.4 18.9h0M190.9 17.7h0M213.0 18.9h0M199.6 7.3h0M205.2 12.2h0M183.6 15.1h0M195.4 15.2h0M195.4 5.9h0M185.7 12.7h0M225.5 6.2h0M188.9 16.0h0M191.7 13.4h0M202.6 6.0h0M203.8 11.5h0M189.8 11.8h0M214.5 10.6h0M200.5 12.6h0M215.2 8.2h0M198.2 10.4h0M188.5 11.0h0M208.9 16.0h0M186.5 16.0h0M220.9 9.3h0M217.5 12.2h0M215.5 5.1h0M204.9 10.6h0M205.2 13.6h0M205.1 12.6h0M185.9 12.4h0M211.3 6.7h0M216.7 7.1h0M212.1 5.8h0M223.7 9.6h0M115.8 98.8h0M180.9 156.9h0M134.2 175.3h0M134.4 88.7h0M78.4 186.4h0M121.1 163.7h0M164.8 176.7h0M165.8 160.6h0M111.6 183.2h0M140.8 132.7h0M66.7 184.8h0M67.6 176.0h0M95.8 155.2h0M159.0 164.0h0M79.6 94.6h0M103.8 64.5h0M79.0 176.6h0M75.8 155.9h0M92.5 167.3h0M75.8 166.4h0M120.9 172.4h0M99.5 155.5h0M121.0 164.9h0M144.2 178.5h0M141.0 121.6h0M182.1 168.1h0M87.4 173.6h0M181.9 175.2h0M178.8 129.1h0M181.0 119.4h0M174.3 140.7h0M107.4 129.7h0M90.1 181.9h0M171.8 148.8h0M148.2 176.9h0M134.9 154.4h0M144.3 150.8h0M152.6 173.1h0M184.1 175.0h0M102.1 122.6h0M63.1 176.6h0M153.5 169.2h0M90.7 163.5h0M105.4 182.9h0M158.2 144.3h0M79.5 136.3h0M140.5 143.3h0M183.1 166.4h0M176.9 152.8h0M136.3 179.5h0M103.5 176.6h0M110.4 139.2h0M176.0 173.6h0M65.4 156.9h0M143.3 157.8h0M68.5 184.8h0M148.4 161.3h0M82.0 170.9h0M142.6 152.8h0M40.3 164.3h0M168.5 179.4h0M83.9 89.2h0M163.8 157.3h0M128.7 139.8h0M166.6 147.3h0M144.7 181.0h0M80.2 186.2h0M129.5 137.7h0M122.9 156.3h0M123.8 179.1h0M177.5 166.8h0M122.5 116.6h0M162.6 144.9h0M138.2 174.0h0M54.5 170.5h0M180.9 177.3h0M139.8 139.0h0M44.2 175.6h0M158.4 137.4h0M132.3 176.5h0M165.2 142.2h0M53.8 173.4h0M37.6 163.1h0M99.7 174.4h0M150.4 179.6h0M98.6 147.3h0M49.3 186.7h0M147.8 141.7h0M114.5 169.3h0M171.6 170.8h0M177.1 178.5h0M160.7 127.5h0M148.3 166.0h0M43.3 163.7h0M144.8 171.7h0M142.8 168.3h0M54.7 183.8h0M183.9 132.0h0M116.9 171.5h0M73.4 184.7h0M89.7 168.3h0M179.9 176.2h0M182.9 170.3h0M163.6 153.3h0M140.2 159.8h0M145.4 172.1h0M132.1 170.7h0M149.9 141.7h0M59.8 189.3h0M97.6 182.4h0M55.7 188.8h0M116.2 163.0h0M165.7 179.0h0M163.0 177.2h0M168.1 164.5h0M149.1 175.8h0M109.7 118.9h0M145.2 173.0h0M69.3 152.9h0M146.8 162.5h0M118.8 181.9h0M99.5 165.9h0M95.5 172.3h0M170.9 161.1h0M111.9 134.0h0M124.8 164.4h0M164.0 153.9h0M154.1 174.3h0M57.7 180.4h0M47.2 179.2h0M98.7 153.9h0M53.9 179.2h0M47.5 177.6h0M177.4 148.2h0M82.8 183.5h0M184.3 130.4h0M109.3 137.2h0M103.7 182.8h0M178.6 80.8h0M174.5 173.2h0M176.6 174.2h0M165.8 175.0h0M150.3 177.6h0M37.6 120.0h0M122.6 183.0h0M110.9 150.9h0M175.8 170.6h0M111.9 169.7h0M181.1 156.2h0M160.6 164.6h0M46.9 122.1h0M53.4 151.4h0M109.5 176.9h0M172.5 169.7h0M79.4 167.1h0M62.2 163.6h0M139.6 162.8h0M98.8 155.3h0M167.3 176.9h0M175.6 170.5h0M111.4 133.1h0M101.2 171.1h0M160.8 177.2h0M159.4 159.6h0M173.0 174.4h0M120.9 167.3h0M86.7 185.7h0M82.3 160.5h0M83.6 85.7h0M85.4 180.0h0M49.1 187.1h0M74.0 187.8h0M116.8 170.5h0M130.7 169.1h0M106.6 160.5h0M164.7 139.3h0M178.7 141.4h0M108.9 147.7h0M92.2 168.3h0M110.4 175.0h0M118.9 158.2h0M145.2 156.3h0M128.5 169.7h0M110.9 147.7h0M150.3 146.7h0M176.3 82.7h0M114.2 181.7h0M72.5 179.8h0M154.6 175.7h0M127.7 178.6h0M170.8 137.9h0M114.1 176.0h0M163.1 159.0h0M162.4 171.6h0M117.5 178.9h0M131.9 164.1h0M115.2 170.4h0M91.0 130.8h0M177.2 170.6h0M116.7 175.1h0M84.6 178.3h0M44.3 184.7h0M132.8 182.6h0M178.2 158.0h0M78.4 166.8h0M171.2 167.2h0M138.9 150.1h0M80.9 187.3h0M162.3 163.7h0M168.0 168.4h0M109.0 152.4h0M144.5 172.8h0M180.0 169.5h0M164.4 167.4h0M136.7 147.8h0M80.5 187.3h0M145.3 176.1h0M82.1 169.5h0M144.7 135.8h0M47.7 186.2h0M173.1 172.1h0M171.3 159.8h0M155.1 149.8h0M69.9 169.2h0M118.5 179.3h0M65.0 178.5h0M115.1 178.6h0M155.5 149.6h0M183.4 145.2h0M94.4 153.1h0M162.3 272.0h0M241.0 267.0h0M253.5 262.2h0M156.4 259.7h0M159.0 258.7h0M164.2 261.8h0M177.0 240.4h0M190.1 221.5h0M123.2 211.0h0M169.4 268.3h0M160.3 270.6h0M159.0 259.1h0M242.3 263.7h0M148.6 268.3h0M223.7 258.8h0M254.0 192.3h0M145.1 256.8h0M215.9 264.3h0M145.6 212.7h0M261.1 205.6h0M250.7 264.6h0M165.3 248.4h0M207.5 86.9h0M249.8 249.1h0M189.9 207.0h0M214.7 230.4h0M143.9 232.1h0M201.7 244.0h0M170.9 270.8h0M250.6 273.4h0M245.9 184.3h0M244.3 238.2h0M152.9 242.5h0M155.1 248.4h0M246.7 259.9h0M226.6 238.1h0M239.5 244.8h0M221.0 260.1h0M144.9 259.9h0M195.1 256.9h0M256.2 265.7h0M125.6 196.4h0M143.5 253.9h0M155.5 252.1h0M148.0 229.6h0M196.3 252.5h0M209.8 272.0h0M206.1 265.1h0M238.2 271.7h0M232.4 267.7h0M136.1 236.0h0M126.8 204.0h0M127.4 227.4h0M175.4 264.4h0M135.2 155.3h0M162.3 273.7h0M179.4 255.9h0M200.3 269.7h0M226.1 264.5h0M142.1 225.9h0M206.3 231.1h0M152.6 144.4h0M222.8 263.9h0M178.4 253.4h0M171.7 262.3h0M124.0 193.2h0M219.0 269.7h0M168.5 258.9h0M221.9 257.8h0M148.3 246.6h0M148.4 242.6h0M151.5 245.0h0M120.9 154.2h0M184.7 206.1h0M149.2 240.3h0M247.4 239.5h0M201.4 271.4h0M184.3 264.8h0M120.5 240.7h0M193.4 246.0h0M245.7 272.6h0M164.3 247.4h0M263.7 260.1h0M223.5 273.7h0M262.6 249.7h0M198.3 263.8h0M131.2 251.4h0M255.2 262.1h0M196.1 247.7h0M267.1 222.9h0M227.1 271.9h0M156.5 218.1h0M168.8 237.9h0M141.2 262.6h0M220.3 261.4h0M224.7 232.3h0M257.4 261.7h0M248.0 252.7h0M203.7 272.4h0M265.1 256.7h0M182.0 241.3h0M243.5 247.0h0M170.5 252.2h0M200.1 251.7h0M150.8 243.5h0M163.1 250.5h0M136.5 157.8h0M130.8 239.6h0M202.4 259.7h0M187.3 269.0h0M175.9 257.9h0M194.8 257.4h0M129.5 251.0h0M139.0 245.6h0M251.3 221.7h0M192.7 228.6h0M133.2 235.3h0M192.1 261.7h0M243.6 259.8h0M263.2 258.9h0M198.0 267.8h0M184.5 270.7h0M130.3 252.6h0M174.4 270.0h0M256.9 236.2h0M151.9 254.9h0M248.8 234.6h0M183.4 272.7h0M233.4 270.1h0M137.0 255.8h0M209.2 243.1h0M204.4 236.5h0M258.1 270.5h0M171.1 263.4h0M185.4 257.3h0M155.2 197.6h0M182.9 271.2h0M162.3 268.7h0M166.5 269.9h0M263.3 267.1h0M211.0 211.8h0M220.5 153.1h0M246.5 166.2h0M127.4 224.3h0M185.9 212.7h0M178.0 249.6h0M133.5 253.1h0M156.3 257.6h0M256.4 238.3h0M173.7 266.7h0M167.8 190.5h0M168.9 270.9h0M204.4 261.6h0M177.6 270.7h0M184.3 270.4h0M156.2 267.7h0M178.3 252.0h0M249.6 267.1h0M189.3 226.5h0M206.4 273.3h0M141.0 220.4h0M125.1 225.7h0M169.2 242.7h0M190.3 256.6h0M201.6 217.6h0M144.4 246.3h0M203.6 267.1h0M225.2 200.5h0M174.0 257.5h0M219.1 216.5h0M143.3 239.9h0M150.1 259.5h0M189.6 240.2h0M153.7 266.6h0M153.3 268.7h0M231.2 199.2h0M243.0 260.7h0M155.3 255.2h0M266.8 255.6h0M201.7 256.3h0M251.3 255.6h0M152.3 267.6h0M165.0 263.9h0M217.0 270.8h0M147.8 260.9h0M128.4 237.2h0M137.0 257.2h0M203.8 247.8h0M132.6 252.8h0M240.1 262.8h0M167.4 248.5h0M193.1 262.2h0M184.9 239.2h0M161.2 207.0h0M144.9 262.2h0M121.6 229.9h0M256.7 241.7h0M161.5 227.1h0M212.2 239.6h0M176.9 273.6h0M234.9 257.6h0M136.3 198.4h0M167.9 266.7h0M191.8 257.4h0M167.5 265.3h0M211.4 252.7h0M153.4 203.9h0M216.7 268.4h0M214.2 218.5h0M245.0 238.7h0M230.1 254.0h0M166.9 266.1h0M167.7 255.3h0M217.5 260.1h0M229.2 266.6h0M202.8 273.9h0M193.5 270.9h0M151.2 185.4h0M244.9 264.8h0M227.5 267.2h0M205.8 258.9h0M215.4 273.4h0M241.0 201.2h0M257.4 263.1h0M176.7 231.4h0M206.9 258.6h0M163.6 218.0h0M130.6 252.7h0M218.6 259.4h0M250.7 260.4h0M155.6 242.0h0M202.9 273.1h0M152.0 248.0h0M259.6 257.9h0M137.1 237.3h0M127.0 242.7h0M155.4 271.4h0M226.4 168.9h0M241.9 273.6h0M175.0 269.7h0M243.0 244.4h0M192.0 258.3h0M149.9 239.5h0M151.3 221.9h0M226.2 248.7h0M176.1 273.9h0M242.4 274.0h0M195.8 268.9h0M165.9 269.4h0M147.1 252.7h0M128.7 252.1h0M262.1 262.8h0M208.0 255.8h0M194.7 242.6h0M209.4 265.0h0M172.1 251.2h0M162.0 177.0h0M169.8 265.8h0M185.6 272.7h0M139.8 255.3h0M165.8 204.1h0M206.3 271.5h0M161.4 256.8h0M202.3 212.6h0M135.9 251.8h0M127.0 245.8h0M156.5 256.9h0M170.2 264.0h0M127.7 228.5h0M214.9 252.8h0M160.6 228.3h0M195.9 273.0h0M215.5 259.3h0M138.9 259.0h0M250.1 251.1h0M214.0 237.7h0M167.7 244.3h0M175.0 268.0h0M183.8 250.6h0M161.1 259.9h0M230.0 220.9h0M222.6 263.5h0M252.4 272.4h0M169.0 271.8h0M159.8 263.2h0M162.9 239.3h0M188.3 229.9h0M181.8 175.8h0M201.4 212.6h0M189.5 273.1h0M181.0 240.9h0M196.7 247.7h0M175.0 208.7h0M150.2 267.0h0M169.0 252.5h0M190.4 258.9h0M166.0 264.4h0M157.5 272.1h0M239.7 255.5h0M128.9 235.7h0M210.4 256.4h0M242.0 260.7h0M148.4 210.0h0M236.4 249.1h0M186.6 258.4h0M256.9 241.9h0M161.1 251.5h0M165.5 258.3h0M194.6 258.6h0M196.9 272.4h0M149.4 266.8h0M199.1 256.0h0M99.5 214.7h0M238.8 269.4h0M147.1 265.2h0M218.4 268.9h0M229.1 259.6h0M111.8 227.5h0M191.9 269.2h0M118.7 232.9h0M161.6 273.2h0M142.9 260.3h0M149.8 260.4h0M192.7 263.7h0M215.4 272.3h0M165.1 265.4h0M155.7 253.0h0M164.4 272.9h0M137.3 252.1h0M123.1 238.5h0M132.9 246.2h0M116.0 238.5h0M136.0 231.7h0M122.0 237.5h0M192.7 270.8h0M182.0 262.3h0M162.3 250.2h0M135.3 224.8h0M163.7 262.7h0M170.9 272.4h0M169.4 272.8h0M137.6 250.6h0M143.9 230.6h0M181.5 263.3h0M178.7 264.3h0M206.2 266.8h0M119.4 240.7h0M152.6 266.7h0M165.5 273.5h0M152.8 212.6h0M151.0 268.4h0M142.4 259.7h0M150.8 263.0h0M175.3 270.6h0M129.4 252.7h0M138.3 257.4h0M100.5 218.8h0M134.8 226.0h0M183.3 268.1h0M157.9 273.5h0M176.2 253.2h0M156.8 264.5h0M172.7 273.4h0M148.7 268.8h0M99.0 207.4h0M224.2 258.7h0M165.8 268.4h0M142.0 201.0h0M185.8 236.4h0M157.0 263.9h0M210.9 270.7h0M120.2 190.3h0M156.1 266.6h0M127.4 219.9h0M170.7 270.6h0M156.4 258.2h0M164.0 270.9h0M164.8 271.5h0M130.7 226.9h0M151.4 256.9h0M162.1 262.8h0M192.2 264.2h0M158.4 260.5h0M148.7 259.4h0M169.5 271.5h0M202.8 230.9h0M187.5 265.6h0M150.1 270.2h0M148.6 253.6h0M129.9 240.6h0M149.4 205.3h0M156.3 271.8h0M147.2 263.7h0M142.3 262.1h0M180.1 245.2h0M150.5 258.9h0M120.3 234.7h0M174.7 265.6h0M164.6 268.7h0M176.3 259.2h0M180.9 272.2h0M178.4 265.4h0M181.4 257.3h0M167.7 269.3h0M147.8 239.9h0M153.5 269.1h0M153.5 252.6h0M119.0 203.5h0M132.4 255.1h0M228.6 272.5h0M147.2 257.2h0M126.6 194.4h0M240.2 261.3h0M156.8 246.8h0M150.1 254.3h0M163.5 273.0h0M198.5 234.9h0M111.9 233.8h0M143.3 258.4h0M115.6 237.4h0M160.5 273.9h0M134.0 250.2h0M133.1 241.0h0M151.6 267.9h0M143.6 259.9h0M108.5 213.9h0M148.7 250.1h0M124.4 243.4h0M99.9 219.0h0M156.1 270.5h0M166.1 265.9h0M133.0 255.3h0M127.0 233.2h0M161.6 256.3h0M177.6 260.7h0M134.9 239.9h0M226.3 256.4h0M130.1 238.4h0M101.2 216.5h0M164.6 269.9h0M135.2 210.9h0M164.5 273.8h0M216.5 273.1h0M143.0 255.6h0M163.2 253.8h0M123.7 232.1h0M134.2 247.3h0M103.2 223.5h0M195.1 266.2h0M158.9 256.7h0M149.7 266.1h0M149.0 246.6h0M155.8 262.0h0M137.5 258.9h0M159.3 267.3h0M123.3 233.6h0M136.0 219.0h0M121.9 210.8h0M146.8 262.7h0M147.2 202.5h0M162.3 244.2h0M101.5 198.8h0M143.2 264.6h0M215.6 263.1h0M171.0 260.7h0M125.7 214.2h0M125.1 234.4h0M158.2 237.1h0M179.8 255.4h0M124.9 238.6h0M188.0 267.8h0M105.6 224.8h0M142.0 213.1h0M139.9 251.1h0M155.8 218.4h0M127.3 193.8h0M192.1 266.5h0M173.4 248.0h0M154.7 245.7h0M136.6 250.8h0M181.6 270.7h0M118.8 228.6h0M115.5 222.3h0M146.6 266.0h0M151.3 217.3h0M134.9 255.6h0M123.7 233.3h0M115.6 219.7h0M151.7 235.1h0M146.7 246.0h0M190.5 210.6h0M149.1 258.1h0M154.2 269.1h0M255.4 260.1h0M102.9 223.9h0M189.2 270.1h0M130.3 238.9h0M114.5 236.0h0M128.4 241.4h0M151.2 250.4h0M154.8 265.0h0M138.2 197.6h0M117.7 240.3h0M126.3 217.4h0M151.5 216.4h0M157.2 257.8h0M164.5 236.5h0M162.3 243.6h0M193.4 253.7h0M128.6 211.9h0M110.4 209.8h0M158.8 261.5h0M198.3 216.7h0M128.5 250.0h0M110.2 209.2h0M147.4 226.7h0M137.5 217.8h0M163.6 272.1h0M122.4 228.7h0M163.5 254.1h0M165.6 240.7h0M144.2 221.4h0M137.2 244.2h0M137.4 254.0h0M112.0 221.2h0M162.3 268.1h0M216.7 250.2h0M206.2 265.9h0M116.5 224.5h0M177.0 259.4h0M146.8 255.1h0M195.7 254.2h0M145.8 263.2h0M186.4 268.6h0M146.4 259.5h0M214.7 270.1h0M141.3 201.8h0M105.7 222.8h0M140.9 234.7h0M143.5 254.4h0M192.3 267.4h0M113.6 203.1h0M109.4 205.5h0M134.5 249.9h0M105.8 205.4h0M130.1 249.2h0M107.5 219.0h0M167.5 231.5h0M150.0 251.3h0M101.0 218.9h0M151.9 196.2h0M130.6 222.8h0M110.1 204.9h0M106.3 198.1h0M112.9 226.5h0M102.2 207.6h0M159.6 228.6h0M120.1 201.7h0M129.2 209.6h0M100.7 219.4h0M149.5 226.9h0M107.4 207.1h0M132.0 214.9h0M101.3 213.9h0M147.5 235.1h0M133.5 212.8h0M100.3 201.2h0M119.5 192.0h0M105.6 198.2h0M120.2 234.8h0M129.1 245.6h0M183.2 201.8h0M124.5 216.3h0M137.0 213.8h0M141.1 249.9h0M141.7 250.3h0M130.8 246.5h0M121.2 240.4h0M143.2 206.0h0M97.0 194.5h0M173.4 220.9h0M125.0 207.0h0M132.7 248.5h0M147.5 202.9h0M166.0 223.2h0M133.5 212.2h0M120.5 239.3h0M184.7 198.8h0M224.2 250.0h0M130.7 248.7h0M119.2 239.1h0M168.6 249.6h0M114.2 215.9h0M109.8 226.3h0M185.3 251.9h0M96.3 194.7h0M132.2 192.3h0M115.9 226.3h0M102.8 195.3h0M105.9 198.2h0M108.9 231.7h0M128.9 251.4h0M98.7 212.4h0M170.0 209.6h0M126.7 220.1h0M107.1 197.2h0M109.2 226.7h0M94.7 202.5h0M104.8 212.7h0M130.1 232.0h0M102.8 218.0h0M146.7 249.4h0M133.0 203.0h0M170.7 242.3h0M117.8 228.1h0M127.5 217.6h0M112.7 197.5h0M97.0 200.9h0M131.6 203.9h0M145.7 235.2h0M147.4 226.0h0M147.3 227.5h0M174.9 209.1h0M128.2 248.7h0M186.9 250.4h0M103.9 195.1h0M123.0 221.5h0M120.5 232.6h0M136.0 196.9h0M157.4 239.4h0M180.6 245.1h0M173.1 193.7h0M187.2 243.3h0M206.8 218.5h0M140.4 250.6h0M118.3 233.1h0M197.5 242.8h0M156.3 220.2h0M110.6 227.7h0M166.4 215.5h0M112.5 201.3h0M99.5 195.2h0M109.9 232.7h0M100.4 206.1h0M200.5 252.0h0M143.2 250.6h0M142.9 237.5h0M130.2 242.4h0M129.0 220.3h0M143.4 249.4h0M134.7 197.1h0M138.2 219.4h0M96.3 205.9h0M102.2 196.4h0M146.4 235.9h0M115.0 223.0h0M108.2 215.0h0M146.5 250.0h0M135.8 241.6h0M95.7 196.6h0M109.0 216.6h0M146.5 214.8h0M109.3 215.1h0M107.2 207.4h0M133.6 196.7h0M103.1 200.5h0M120.8 244.1h0M98.0 204.9h0M150.8 193.5h0M98.8 196.7h0M134.0 231.3h0M132.6 251.3h0M135.8 244.9h0M162.9 219.4h0M191.5 216.7h0M110.4 211.2h0M118.3 238.8h0M109.1 224.9h0M100.4 218.4h0M100.7 211.2h0M154.3 216.3h0M148.3 246.0h0M251.1 196.3h0M146.7 225.4h0M109.0 194.7h0M100.6 220.5h0M119.9 236.0h0M141.4 225.9h0M96.5 201.9h0M104.4 210.8h0M100.0 210.6h0M134.2 248.3h0M111.0 195.5h0M142.8 250.8h0M131.0 243.2h0M104.1 222.8h0M111.3 213.1h0M115.2 234.2h0M179.8 230.8h0M158.8 207.2h0M138.2 233.5h0M162.0 235.9h0M120.9 193.5h0M135.6 230.1h0M126.6 195.6h0M95.7 202.7h0M142.6 250.9h0M136.4 232.7h0M130.5 227.5h0M149.9 215.5h0M136.4 195.3h0M125.1 220.0h0M199.0 208.3h0M161.0 232.3h0M101.7 215.1h0M153.0 238.6h0M132.3 240.0h0M99.5 201.4h0M103.1 223.7h0M125.7 194.5h0M111.7 219.3h0M146.8 199.6h0M125.2 232.5h0M119.7 222.1h0M175.0 250.0h0M110.7 197.9h0M104.2 207.2h0M157.2 211.4h0M155.0 247.4h0M128.0 247.6h0M108.6 201.9h0M255.9 260.6h0M230.4 211.5h0M264.0 257.8h0M257.7 273.5h0M254.5 233.5h0M248.6 262.4h0M219.8 237.1h0M252.4 219.8h0M261.8 265.1h0M229.5 212.0h0M199.2 232.5h0M230.6 234.5h0M218.1 255.5h0M235.2 252.5h0M256.3 270.2h0M219.4 230.0h0M216.2 262.7h0M233.1 242.7h0M268.0 237.2h0M259.0 256.0h0M205.5 204.4h0M233.4 204.6h0M207.3 223.2h0M238.2 221.8h0M209.1 274.0h0M262.0 229.4h0M236.8 243.1h0M195.7 263.1h0M262.2 268.0h0M195.3 200.7h0M257.7 231.8h0M231.5 201.3h0M264.5 259.6h0M247.9 260.9h0M248.6 198.2h0M254.8 204.7h0M266.1 246.9h0M218.1 254.0h0M204.0 230.0h0M202.8 255.3h0M212.5 259.7h0M208.8 228.2h0M253.8 246.8h0M202.5 267.7h0M265.3 197.6h0M233.5 229.9h0M220.9 254.4h0M265.9 232.5h0M215.0 270.1h0M213.3 241.5h0M200.2 242.0h0M247.8 210.9h0M219.1 228.2h0M262.1 249.2h0M217.0 265.9h0M220.2 246.1h0M217.0 241.4h0M248.8 261.0h0M250.3 205.6h0M238.7 252.5h0M208.2 250.8h0M235.2 266.5h0M247.0 262.4h0M244.0 266.8h0M222.6 266.7h0M204.8 231.0h0M244.4 206.6h0M216.7 239.9h0M247.9 271.3h0M231.1 249.4h0M264.5 272.5h0M198.2 265.0h0M221.8 223.6h0M250.6 267.7h0M199.1 268.8h0M195.2 224.7h0M257.9 253.2h0M220.6 255.5h0M210.9 199.0h0M211.8 261.0h0M265.7 256.6h0M230.5 235.2h0M254.7 258.6h0M217.9 271.3h0M250.2 226.5h0M233.5 248.6h0M223.2 240.5h0M262.5 272.3h0M211.9 254.7h0M229.4 255.1h0M217.6 262.1h0M198.4 253.6h0M257.1 223.4h0M208.8 247.0h0M221.1 270.6h0M212.7 235.5h0M251.5 267.9h0M205.3 264.3h0M248.9 237.3h0M256.1 248.0h0M213.5 221.7h0M213.7 236.9h0M215.8 273.0h0M216.4 252.4h0M62.5 264.2h0M39.0 271.0h0M44.6 253.4h0M74.8 273.3h0M82.6 144.0h0M53.9 264.1h0M72.0 140.1h0M38.4 238.9h0M42.6 259.9h0M40.4 220.9h0M42.7 225.5h0M33.9 251.2h0M38.6 265.0h0M40.0 256.6h0M47.3 260.8h0M77.2 273.7h0M59.6 177.5h0M37.9 260.3h0M36.3 243.7h0M56.5 239.8h0M74.3 99.8h0M57.0 166.2h0M51.5 245.5h0M55.4 269.2h0M64.0 159.5h0M36.0 195.9h0M58.5 160.3h0M50.0 266.3h0M58.7 247.3h0M62.2 271.1h0M56.1 105.4h0M45.0 272.5h0M34.6 177.6h0M43.6 206.7h0M36.6 225.0h0M46.2 239.1h0M55.5 233.1h0M59.0 262.5h0M82.9 170.3h0M41.8 255.9h0M57.5 257.3h0M49.7 236.5h0M39.4 228.6h0M50.7 217.5h0M52.2 217.2h0M48.9 264.3h0M63.3 251.6h0M69.8 273.4h0M35.1 248.2h0M36.8 272.0h0M71.7 158.8h0M35.3 234.1h0M71.7 270.8h0M52.8 128.6h0M52.2 253.9h0M54.3 211.1h0M38.1 273.9h0M54.0 267.4h0M35.7 245.1h0M45.6 269.8h0M46.6 270.0h0M71.6 260.2h0M59.1 208.8h0M54.4 191.0h0M34.1 267.3h0M60.2 204.6h0M76.7 266.7h0M252.8 188.8h0M141.3 88.6h0M83.2 61.6h0M220.3 66.8h0M151.5 61.7h0M145.4 261.8h0M150.1 121.2h0M215.5 246.1h0M142.0 185.0h0M174.3 229.8h0M132.5 102.8h0M178.2 162.9h0M199.7 120.0h0M193.8 56.7h0M120.1 104.5h0M134.9 188.4h0M68.6 66.6h0M209.5 49.4h0M60.5 71.9h0M113.9 76.4h0M147.1 167.3h0M51.2 235.8h0M168.8 222.3h0M148.1 256.2h0M158.8 133.4h0M258.9 204.2h0M82.2 186.8h0M76.1 188.4h0M70.7 194.3h0M80.2 187.5h0M82.8 189.5h0M80.6 179.5h0M76.5 191.7h0M74.3 184.8h0M73.1 186.4h0M68.7 191.1h0M82.8 186.3h0M79.3 189.7h0M78.2 186.8h0M68.7 185.2h0M69.6 188.0h0M68.7 192.4h0M77.1 191.8h0M80.5 189.3h0M68.4 191.3h0M72.5 190.6h0M67.2 188.2h0M68.6 190.1h0M72.6 180.0h0M74.4 188.3h0M71.1 188.8h0M75.2 179.9h0M74.5 192.5h0M67.5 176.9h0M68.3 189.5h0M82.9 186.6h0M73.4 186.9h0M75.2 182.7h0M71.7 169.9h0M78.8 185.2h0M73.0 187.7h0M72.4 191.0h0M77.6 188.9h0M70.5 183.3h0M75.4 190.4h0M82.4 189.0h0M68.3 192.8h0M82.4 188.9h0M68.2 184.3h0M78.2 183.0h0M81.0 189.8h0M81.2 180.7h0M81.2 183.0h0M74.7 182.2h0M81.2 189.8h0M71.5 187.6h0M72.5 181.0h0M59.8 200.4h0M56.0 196.3h0M60.4 190.5h0M64.8 198.3h0M66.1 198.0h0M64.0 198.9h0M64.7 198.4h0M62.8 195.2h0M63.5 196.9h0M61.4 191.7h0M68.0 196.5h0M64.5 192.5h0M67.3 196.5h0M59.7 195.5h0M57.2 198.0h0M60.5 190.3h0M58.5 190.4h0M61.3 201.9h0M67.5 196.4h0M62.7 189.2h0M64.4 197.5h0M57.8 192.1h0M57.2 187.9h0M57.0 193.4h0M58.4 187.3h0M57.2 192.3h0M61.6 188.1h0M58.9 194.3h0M52.9 192.2h0M68.3 194.6h0M62.1 201.6h0M61.0 196.1h0M65.9 191.1h0M58.2 210.0h0M52.4 202.6h0M59.4 206.0h0M61.8 202.2h0M57.5 208.1h0M55.0 203.0h0M53.4 208.6h0M54.0 207.3h0M56.9 209.1h0M61.7 202.9h0M57.7 204.1h0M57.9 207.7h0M59.1 205.4h0M56.8 201.7h0M53.9 199.0h0M58.7 204.8h0M55.9 205.3h0M59.9 205.7h0M57.6 210.7h0M59.3 201.4h0M55.5 209.2h0M50.2 202.1h0M59.6 202.5h0M51.8 200.6h0M42.8 194.4h0M60.3 205.3h0M60.9 202.9h0M59.9 202.3h0M58.7 207.7h0M52.2 217.3h0M45.4 211.4h0M37.2 205.5h0M39.9 212.1h0M53.2 217.3h0M56.4 212.2h0M54.5 215.3h0M54.8 220.0h0M55.1 215.3h0M57.2 212.5h0M55.7 213.1h0M53.5 212.5h0M46.9 211.1h0M56.3 212.2h0M35.4 215.8h0M49.7 213.0h0M52.5 219.4h0M54.9 221.2h0M55.4 220.0h0M47.7 212.9h0M52.5 218.5h0M46.5 214.9h0M53.9 209.4h0M47.0 216.9h0M54.4 221.5h0M47.3 213.3h0M47.8 218.5h0M53.8 218.3h0M53.3 215.0h0M53.1 212.3h0M52.2 217.7h0M41.3 217.6h0M52.3 209.6h0M53.6 211.4h0M51.7 218.3h0M52.8 217.5h0M51.9 209.3h0M45.7 229.5h0M55.7 230.5h0M53.9 231.1h0M52.7 233.2h0M53.0 222.5h0M51.5 227.6h0M54.3 223.6h0M48.1 227.5h0M49.8 222.6h0M55.5 231.9h0M52.7 228.4h0M38.5 232.8h0M52.5 228.9h0M35.9 232.0h0M52.9 225.7h0M50.6 227.2h0M52.6 224.3h0M46.6 222.7h0M54.6 222.1h0M51.9 229.7h0M52.8 228.2h0M53.7 228.8h0M50.3 224.0h0M51.6 228.4h0M51.5 232.7h0M50.8 230.0h0M52.6 224.2h0M50.7 233.6h0M53.5 226.8h0M52.7 229.0h0M49.1 225.5h0M53.5 224.3h0M44.6 225.0h0M44.1 223.7h0M49.7 232.4h0M46.7 231.6h0M53.4 237.9h0M55.7 236.7h0M47.6 241.3h0M51.3 242.3h0M49.1 238.0h0M49.1 242.7h0M57.4 238.8h0M51.2 244.6h0M56.5 239.1h0M55.4 235.5h0M51.3 235.8h0M52.6 239.2h0M50.0 240.2h0M57.4 237.3h0M52.5 242.3h0M55.0 239.0h0M53.6 236.4h0M52.3 239.4h0M56.8 236.2h0M53.6 238.9h0M51.9 236.3h0M43.4 244.4h0M56.1 238.0h0M56.0 236.9h0M54.7 246.7h0M57.8 244.6h0M64.0 246.5h0M58.7 241.9h0M59.0 245.3h0M60.8 249.3h0M36.9 258.7h0M64.0 248.0h0M61.0 246.8h0M59.7 242.3h0M61.9 244.4h0M54.0 244.2h0M60.1 250.4h0M59.0 244.7h0M62.0 249.7h0M64.4 247.3h0M56.1 242.4h0M62.7 244.4h0M60.2 246.2h0M54.5 244.2h0M61.8 243.2h0M63.9 248.0h0M61.3 249.0h0M57.1 243.4h0M61.2 249.4h0M59.7 244.6h0M58.5 242.6h0M55.8 250.1h0M50.4 247.6h0M67.8 254.3h0M64.5 247.9h0M66.4 249.6h0M66.5 256.4h0M62.5 262.1h0M56.3 259.5h0M69.6 257.1h0M70.5 255.5h0M68.8 253.3h0M62.4 261.6h0M66.4 254.8h0M65.1 253.0h0M65.4 252.9h0M63.0 249.2h0M67.1 253.5h0M63.5 261.2h0M66.7 255.1h0M65.0 250.0h0M65.6 249.2h0M67.9 253.0h0M67.6 252.5h0M63.0 255.9h0M65.6 257.3h0M65.9 257.3h0M62.3 253.3h0M70.6 255.7h0M63.7 250.3h0M63.6 255.4h0M65.2 255.4h0M63.8 249.2h0M65.5 249.4h0M67.2 251.6h0M68.8 259.0h0M70.6 263.8h0M73.9 268.2h0M72.9 260.9h0M65.0 262.2h0M73.5 266.4h0M73.9 263.2h0M68.3 271.8h0M77.3 265.6h0M71.2 265.8h0M67.9 265.6h0M71.5 261.8h0M75.9 263.9h0M67.7 265.2h0M77.1 263.8h0M76.8 262.9h0M72.3 257.4h0M68.7 264.5h0M77.7 263.4h0M68.0 264.6h0M74.1 267.3h0M73.3 266.5h0M70.5 269.3h0M67.0 260.6h0M75.5 261.5h0M75.6 266.9h0M74.0 263.8h0M66.1 260.8h0M72.0 264.0h0M72.6 266.5h0M74.7 260.8h0M69.8 261.6h0M71.5 267.4h0M77.3 266.9h0M79.7 265.5h0M78.4 271.9h0M77.1 268.8h0M81.2 273.5h0M77.0 273.0h0M78.8 272.4h0M82.8 273.0h0M81.3 270.8h0M83.8 273.5h0M80.7 271.7h0M79.3 268.2h0M79.5 271.6h0M81.6 270.6h0M77.6 267.8h0M80.4 273.0h0M81.4 268.8h0M77.6 269.7h0M80.4 269.4h0M78.7 268.3h0M79.7 270.0h0M151.2 266.6h0M145.8 263.0h0M157.6 265.6h0M155.2 255.4h0M144.0 264.4h0M144.0 264.4h0M155.3 271.0h0M146.0 260.9h0M152.0 270.9h0M155.0 263.2h0M145.2 265.2h0M144.6 262.7h0M147.8 263.5h0M158.1 271.1h0M146.2 266.3h0M152.2 251.9h0M152.2 271.2h0M171.3 258.8h0M155.9 259.5h0M144.1 260.7h0M150.1 255.9h0M148.1 267.8h0M145.9 265.7h0M146.1 263.6h0M145.3 262.0h0M150.5 269.8h0M150.6 266.0h0M158.0 268.4h0M148.4 257.7h0M154.1 270.9h0M144.3 261.8h0M155.7 259.6h0M151.8 269.7h0M148.7 254.2h0M151.6 265.4h0M152.4 265.8h0M151.7 269.7h0M157.7 271.6h0M145.2 264.8h0M156.1 262.9h0M146.2 263.7h0M153.0 271.2h0M153.8 268.1h0M153.0 269.2h0M157.9 273.6h0M159.7 271.1h0M150.0 260.3h0M155.5 272.1h0M153.4 270.0h0M146.9 266.7h0M145.0 263.6h0M146.0 265.9h0M144.2 264.5h0M144.4 259.8h0M157.4 273.7h0M157.8 264.4h0M153.1 251.5h0M159.9 269.8h0M150.5 268.7h0M149.8 258.7h0M158.3 269.4h0M166.7 265.4h0M137.5 256.7h0M131.2 240.3h0M138.3 258.3h0M136.5 252.2h0M139.1 241.8h0M122.7 245.8h0M140.2 258.8h0M141.1 244.6h0M126.9 245.2h0M127.6 246.8h0M131.8 245.3h0M147.4 231.3h0M134.6 256.5h0M126.1 240.7h0M122.2 245.6h0M138.8 251.3h0M130.4 251.8h0M142.4 247.8h0M125.4 246.4h0M132.2 243.6h0M133.3 243.0h0M145.5 231.9h0M134.2 246.7h0M125.4 238.3h0M136.4 258.0h0M142.2 251.1h0M139.1 258.8h0M132.9 246.9h0M122.8 245.3h0M127.4 249.6h0M123.4 237.6h0M123.7 239.7h0M137.0 256.0h0M136.2 256.0h0M141.9 260.9h0M132.7 251.1h0M121.8 240.6h0M144.1 258.7h0M122.6 238.2h0M131.1 245.6h0M129.3 248.1h0M119.2 241.8h0M136.0 256.1h0M130.6 249.5h0M129.0 245.5h0M132.7 253.8h0M129.2 250.5h0M119.6 241.9h0M139.2 253.5h0M145.1 240.8h0M129.9 243.3h0M133.9 253.1h0M127.2 240.7h0M128.7 244.7h0M136.1 252.8h0M141.4 258.4h0M136.2 256.9h0M127.0 248.1h0M136.5 256.7h0M140.9 253.9h0M139.0 255.9h0M134.0 253.7h0M135.9 256.5h0M124.5 242.1h0M122.1 241.0h0M125.7 243.9h0M139.9 245.0h0M130.4 252.2h0M133.5 255.6h0M138.1 259.6h0M134.6 236.0h0M138.7 259.1h0M141.1 261.6h0M127.6 249.8h0M124.2 246.9h0M128.9 249.7h0M118.6 242.5h0M135.5 233.8h0M123.6 246.2h0M136.1 254.0h0M132.1 253.8h0M121.9 240.0h0M127.0 243.0h0M124.0 245.5h0M140.5 253.2h0M132.2 253.3h0M141.2 252.4h0M147.4 253.2h0M131.4 252.8h0M130.9 245.3h0M130.1 250.8h0M115.4 223.7h0M123.6 231.0h0M111.1 230.7h0M108.0 221.9h0M109.1 230.2h0M121.5 236.1h0M118.5 226.2h0M116.1 232.7h0M116.9 239.9h0M114.9 235.9h0M106.5 224.4h0M131.1 229.2h0M104.2 223.3h0M113.3 231.6h0M104.2 221.7h0M115.8 236.7h0M112.8 234.6h0M131.6 227.6h0M113.1 231.8h0M118.7 228.8h0M110.5 230.5h0M111.0 229.0h0M107.1 222.1h0M104.8 224.9h0M107.6 220.3h0M111.3 224.7h0M108.7 223.5h0M103.2 223.4h0M109.1 227.1h0M111.1 233.6h0M111.8 227.6h0M108.5 230.3h0M118.1 235.4h0M117.8 238.3h0M118.1 240.9h0M115.4 234.4h0M108.4 219.6h0M115.1 238.3h0M118.1 235.0h0M116.1 228.3h0M108.9 228.7h0M114.4 232.9h0M109.5 228.5h0M110.2 225.0h0M114.1 234.9h0M107.5 223.8h0M118.0 239.7h0M108.9 229.5h0M111.5 233.4h0M119.1 225.6h0M110.6 232.0h0M107.3 224.2h0M106.0 221.2h0M115.4 234.1h0M124.0 231.7h0M125.2 218.9h0M104.6 223.6h0M118.3 237.0h0M111.6 234.4h0M104.1 224.8h0M109.0 222.8h0M103.8 219.8h0M116.8 211.1h0M109.1 224.5h0M114.2 234.6h0M120.7 227.8h0M104.3 225.3h0M113.0 228.8h0M114.1 222.8h0M119.0 238.4h0M113.1 232.2h0M112.1 230.9h0M123.1 231.6h0M104.6 225.0h0M105.7 224.0h0M110.1 218.5h0M118.8 230.0h0M106.1 224.0h0M129.5 231.3h0M101.0 219.9h0M103.3 219.0h0M103.4 219.0h0M100.7 220.3h0M98.7 208.1h0M96.1 208.0h0M105.0 208.4h0M100.6 220.7h0M95.2 207.9h0M103.4 208.2h0M97.7 210.7h0M109.2 216.6h0M107.7 210.9h0M100.4 218.5h0M103.5 219.0h0M102.3 220.1h0M106.1 213.0h0M99.5 212.2h0M99.6 210.4h0M102.9 219.1h0M102.1 219.3h0M103.3 205.8h0M98.0 213.5h0M100.6 218.7h0M100.6 219.4h0M105.7 218.4h0M122.0 204.8h0M104.9 214.3h0M101.5 213.7h0M105.7 215.1h0M118.5 211.7h0M99.7 215.0h0M114.9 207.4h0M96.4 210.5h0M114.1 214.4h0M101.3 206.6h0M126.5 207.1h0M100.9 220.7h0M101.3 206.4h0M96.9 211.2h0M103.2 209.6h0M95.5 207.4h0M95.6 207.3h0M109.3 210.6h0M98.6 208.2h0M98.0 212.0h0M94.8 198.2h0M95.4 203.9h0M98.6 201.0h0M96.9 204.3h0M110.4 203.5h0M98.4 200.0h0M97.3 199.6h0M96.7 204.6h0M97.9 204.7h0M98.7 198.2h0M99.6 199.3h0M94.7 200.1h0M97.4 199.2h0M95.5 198.8h0M95.3 198.6h0M97.7 201.6h0M96.5 197.7h0M95.5 204.0h0M99.4 204.9h0M98.0 200.4h0M97.5 201.2h0M96.5 204.3h0M104.1 202.6h0M96.6 201.6h0M121.7 204.7h0M100.1 205.7h0M96.8 199.5h0M98.9 195.4h0M107.3 198.7h0M97.3 194.5h0M99.0 194.9h0M104.2 191.0h0M103.7 192.2h0M96.3 194.8h0M101.6 201.7h0M107.3 195.1h0M101.0 195.8h0M103.9 191.1h0M96.4 194.8h0M100.2 194.4h0M98.6 196.4h0M100.7 192.0h0M103.2 192.3h0M100.1 198.2h0M97.4 194.7h0M100.0 200.2h0M98.4 193.4h0M99.0 195.5h0M110.4 203.8h0M102.7 189.7h0M100.1 193.8h0M97.2 196.7h0M108.2 195.1h0M99.3 192.7h0M102.5 190.0h0M96.5 189.7h0M100.6 189.9h0M98.2 189.2h0M99.3 182.0h0M97.7 182.0h0M95.1 189.7h0M101.1 180.2h0M99.6 181.9h0M102.6 192.0h0M98.4 187.8h0M99.4 189.3h0M102.7 192.7h0M95.7 189.8h0M98.8 187.1h0M101.7 184.0h0M96.3 191.0h0M101.2 184.5h0M97.1 186.5h0M101.9 189.3h0M103.1 189.5h0M96.8 189.5h0M101.3 186.9h0M97.6 185.4h0M94.7 190.6h0M96.6 189.2h0M102.0 192.0h0M94.4 189.4h0M88.3 178.1h0M86.8 187.4h0M94.5 182.8h0M93.5 178.1h0M84.2 188.1h0M94.9 185.8h0M88.3 185.4h0M86.2 185.6h0M87.8 189.4h0M86.2 189.6h0M90.9 185.8h0M95.9 178.1h0M85.6 187.0h0M92.4 148.0h0M87.5 187.9h0M84.4 188.2h0M92.3 185.7h0M91.5 189.0h0M86.6 185.8h0M92.2 182.3h0M84.9 188.7h0M85.9 185.9h0M90.1 184.1h0M88.6 182.6h0M92.4 187.2h0M96.0 172.6h0M93.4 183.2h0M96.0 174.8h0M87.7 185.7h0M91.9 190.3h0M97.8 163.2h0M91.3 190.4h0" fill="none" stroke="#000" stroke-width="2.8" stroke-linecap="round"/></g>
<clipPath id="cmdclip"><rect x="32.9" y="2.0" width="235.5" height="272.3"/></clipPath>
</defs>
<g transform="translate(0,0.0)">
<g clip-path="url(#cmdclip)">
<use href="#stars"/>
<path d="M272.0 16.0L271.1 17.8L269.9 19.4L268.6 20.8L267.2 22.1L265.6 23.3L264.0 24.4L262.3 25.4L260.6 26.4L258.9 27.4L257.3 28.5L255.7 29.7L254.2 31.0L252.8 32.3L251.5 33.8L250.2 35.3L249.0 36.8L247.8 38.4L246.7 40.0L245.6 41.7L244.5 43.3L243.3 45.0L242.2 46.6L241.1 48.2L240.0 49.9L238.9 51.5L237.8 53.1L236.6 54.7L235.5 56.3L234.3 57.8L233.2 59.4L232.0 61.0L230.8 62.5L229.6 64.0L228.4 65.6L227.2 67.1L225.9 68.6L224.7 70.2L223.5 71.7L222.3 73.3L221.1 74.8L219.9 76.4L218.8 78.0L217.7 79.6L216.6 81.2L215.5 82.9L214.5 84.6L213.5 86.3L212.5 88.0L211.6 89.7L210.7 91.4L209.7 93.1L208.9 94.9L208.0 96.6L207.2 98.4L206.3 100.2L205.5 102.0L204.8 103.8L204.0 105.6L203.2 107.4L202.4 109.2L201.7 111.0L200.9 112.8L200.0 114.6L199.2 116.3L198.4 118.1L197.7 119.9L196.9 121.7L196.2 123.6L195.4 125.4L194.8 127.2L194.1 129.1L193.5 130.9L192.9 132.8L192.3 134.7L191.8 136.6L191.2 138.4L190.6 140.3L190.0 142.2L189.3 144.0L188.5 145.8L187.8 147.6L187.0 149.4L186.2 151.2L185.4 153.0L184.6 154.8L183.7 156.5L182.7 158.2L181.7 159.9L180.6 161.5L179.3 163.0L178.0 164.5L176.7 165.9L175.2 167.3L173.7 168.5L172.1 169.7L170.5 170.8L168.8 171.8L167.1 172.7L165.3 173.5L163.5 174.3L161.7 175.1L159.9 175.8L158.1 176.5L156.2 177.2L154.3 177.7L152.4 178.2L150.5 178.7L148.6 179.1L146.7 179.5L144.7 179.8L142.8 180.2L140.9 180.5L139.0 180.9L137.0 181.2L135.1 181.6L133.2 181.9L131.2 182.2L129.3 182.5L127.4 182.8L125.4 183.1L123.5 183.3L121.5 183.6L119.6 183.9L117.6 184.1L115.7 184.4L113.8 184.7L111.8 185.1L109.9 185.4L108.0 185.9L106.1 186.4L104.2 186.9L102.3 187.5L100.5 188.1L98.6 188.8L96.8 189.5L95.0 190.3L93.2 191.1L91.5 192.0L89.8 193.0L88.1 194.1L86.5 195.2L85.0 196.5L83.5 197.8L82.2 199.2L80.9 200.7L79.8 202.3L78.9 204.1L78.0 205.8" fill="none" stroke="#ffa500" stroke-opacity="0.15" stroke-width="10.4" stroke-linejoin="round"/>
<path d="M272.0 16.0L271.1 17.8L269.9 19.4L268.6 20.8L267.2 22.1L265.6 23.3L264.0 24.4L262.3 25.4L260.6 26.4L258.9 27.4L257.3 28.5L255.7 29.7L254.2 31.0L252.8 32.3L251.5 33.8L250.2 35.3L249.0 36.8L247.8 38.4L246.7 40.0L245.6 41.7L244.5 43.3L243.3 45.0L242.2 46.6L241.1 48.2L240.0 49.9L238.9 51.5L237.8 53.1L236.6 54.7L235.5 56.3L234.3 57.8L233.2 59.4L232.0 61.0L230.8 62.5L229.6 64.0L228.4 65.6L227.2 67.1L225.9 68.6L224.7 70.2L223.5 71.7L222.3 73.3L221.1 74.8L219.9 76.4L218.8 78.0L217.7 79.6L216.6 81.2L215.5 82.9L214.5 84.6L213.5 86.3L212.5 88.0L211.6 89.7L210.7 91.4L209.7 93.1L208.9 94.9L208.0 96.6L207.2 98.4L206.3 100.2L205.5 102.0L204.8 103.8L204.0 105.6L203.2 107.4L202.4 109.2L201.7 111.0L200.9 112.8L200.0 114.6L199.2 116.3L198.4 118.1L197.7 119.9L196.9 121.7L196.2 123.6L195.4 125.4L194.8 127.2L194.1 129.1L193.5 130.9L192.9 132.8L192.3 134.7L191.8 136.6L191.2 138.4L190.6 140.3L190.0 142.2L189.3 144.0L188.5 145.8L187.8 147.6L187.0 149.4L186.2 151.2L185.4 153.0L184.6 154.8L183.7 156.5L182.7 158.2L181.7 159.9L180.6 161.5L179.3 163.0L178.0 164.5L176.7 165.9L175.2 167.3L173.7 168.5L172.1 169.7L170.5 170.8L168.8 171.8L167.1 172.7L165.3 173.5L163.5 174.3L161.7 175.1L159.9 175.8L158.1 176.5L156.2 177.2L154.3 177.7L152.4 178.2L150.5 178.7L148.6 179.1L146.7 179.5L144.7 179.8L142.8 180.2L140.9 180.5L139.0 180.9L137.0 181.2L135.1 181.6L133.2 181.9L131.2 182.2L129.3 182.5L127.4 182.8L125.4 183.1L123.5 183.3L121.5 183.6L119.6 183.9L117.6 184.1L115.7 184.4L113.8 184.7L111.8 185.1L109.9 185.4L108.0 185.9L106.1 186.4L104.2 186.9L102.3 187.5L100.5 188.1L98.6 188.8L96.8 189.5L95.0 190.3L93.2 191.1L91.5 192.0L89.8 193.0L88.1 194.1L86.5 195.2L85.0 196.5L83.5 197.8" fill="none" stroke="#ffa500" stroke-opacity="0.15" stroke-width="10.4" stroke-linejoin="round"/>
<path d="M272.0 16.0L271.1 17.8L269.9 19.4L268.6 20.8L267.2 22.1L265.6 23.3L264.0 24.4L262.3 25.4L260.6 26.4L258.9 27.4L257.3 28.5L255.7 29.7L254.2 31.0L252.8 32.3L251.5 33.8L250.2 35.3L249.0 36.8L247.8 38.4L246.7 40.0L245.6 41.7L244.5 43.3L243.3 45.0L242.2 46.6L241.1 48.2L240.0 49.9L238.9 51.5L237.8 53.1L236.6 54.7L235.5 56.3L234.3 57.8L233.2 59.4L232.0 61.0L230.8 62.5L229.6 64.0L228.4 65.6L227.2 67.1L225.9 68.6L224.7 70.2L223.5 71.7L222.3 73.3L221.1 74.8L219.9 76.4L218.8 78.0L217.7 79.6L216.6 81.2L215.5 82.9L214.5 84.6L213.5 86.3L212.5 88.0L211.6 89.7L210.7 91.4L209.7 93.1L208.9 94.9L208.0 96.6L207.2 98.4L206.3 100.2L205.5 102.0L204.8 103.8L204.0 105.6L203.2 107.4L202.4 109.2L201.7 111.0L200.9 112.8L200.0 114.6L199.2 116.3L198.4 118.1L197.7 119.9L196.9 121.7L196.2 123.6L195.4 125.4L194.8 127.2L194.1 129.1L193.5 130.9L192.9 132.8L192.3 134.7L191.8 136.6L191.2 138.4L190.6 140.3L190.0 142.2L189.3 144.0L188.5 145.8L187.8 147.6L187.0 149.4L186.2 151.2L185.4 153.0L184.6 154.8L183.7 156.5L182.7 158.2L181.7 159.9L180.6 161.5L179.3 163.0L178.0 164.5L176.7 165.9L175.2 167.3L173.7 168.5L172.1 169.7L170.5 170.8L168.8 171.8L167.1 172.7L165.3 173.5L163.5 174.3L161.7 175.1L159.9 175.8L158.1 176.5L156.2 177.2L154.3 177.7L152.4 178.2L150.5 178.7L148.6 179.1L146.7 179.5L144.7 179.8L142.8 180.2L140.9 180.5L139.0 180.9L137.0 181.2L135.1 181.6L133.2 181.9L131.2 182.2L129.3 182.5L127.4 182.8L125.4 183.1L123.5 183.3L121.5 183.6L119.6 183.9L117.6 184.1L115.7 184.4L113.8 184.7L111.8 185.1L109.9 185.4L108.0 185.9L106.1 186.4L104.2 186.9L102.3 187.5L100.5 188.1L98.6 188.8L96.8 189.5L95.0 190.3L93.2 191.1L91.5 192.0" fill="none" stroke="#ffa500" stroke-opacity="0.15" stroke-width="10.4" stroke-linejoin="round"/>
<path d="M272.0 16.0L271.1 17.8L269.9 19.4L268.6 20.8L267.2 22.1L265.6 23.3L264.0 24.4L262.3 25.4L260.6 26.4L258.9 27.4L257.3 28.5L255.7 29.7L254.2 31.0L252.8 32.3L251.5 33.8L250.2 35.3L249.0 36.8L247.8 38.4L246.7 40.0L245.6 41.7L244.5 43.3L243.3 45.0L242.2 46.6L241.1 48.2L240.0 49.9L238.9 51.5L237.8 53.1L236.6 54.7L235.5 56.3L234.3 57.8L233.2 59.4L232.0 61.0L230.8 62.5L229.6 64.0L228.4 65.6L227.2 67.1L225.9 68.6L224.7 70.2L223.5 71.7L222.3 73.3L221.1 74.8L219.9 76.4L218.8 78.0L217.7 79.6L216.6 81.2L215.5 82.9L214.5 84.6L213.5 86.3L212.5 88.0L211.6 89.7L210.7 91.4L209.7 93.1L208.9 94.9L208.0 96.6L207.2 98.4L206.3 100.2L205.5 102.0L204.8 103.8L204.0 105.6L203.2 107.4L202.4 109.2L201.7 111.0L200.9 112.8L200.0 114.6L199.2 116.3L198.4 118.1L197.7 119.9L196.9 121.7L196.2 123.6L195.4 125.4L194.8 127.2L194.1 129.1L193.5 130.9L192.9 132.8L192.3 134.7L191.8 136.6L191.2 138.4L190.6 140.3L190.0 142.2L189.3 144.0L188.5 145.8L187.8 147.6L187.0 149.4L186.2 151.2L185.4 153.0L184.6 154.8L183.7 156.5L182.7 158.2L181.7 159.9L180.6 161.5L179.3 163.0L178.0 164.5L176.7 165.9L175.2 167.3L173.7 168.5L172.1 169.7L170.5 170.8L168.8 171.8L167.1 172.7L165.3 173.5L163.5 174.3L161.7 175.1L159.9 175.8L158.1 176.5L156.2 177.2L154.3 177.7L152.4 178.2L150.5 178.7L148.6 179.1L146.7 179.5L144.7 179.8L142.8 180.2L140.9 180.5L139.0 180.9L137.0 181.2L135.1 181.6L133.2 181.9L131.2 182.2L129.3 182.5L127.4 182.8L125.4 183.1L123.5 183.3L121.5 183.6L119.6 183.9L117.6 184.1L115.7 184.4L113.8 184.7L111.8 185.1L109.9 185.4L108.0 185.9L106.1 186.4L104.2 186.9L102.3 187.5L100.5 188.1L98.6 188.8" fill="none" stroke="#ffa500" stroke-opacity="0.15" stroke-width="10.4" stroke-linejoin="round"/>
<path d="M272.0 16.0L271.1 17.8L269.9 19.4L268.6 20.8L267.2 22.1L265.6 23.3L264.0 24.4L262.3 25.4L260.6 26.4L258.9 27.4L257.3 28.5L255.7 29.7L254.2 31.0L252.8 32.3L251.5 33.8L250.2 35.3L249.0 36.8L247.8 38.4L246.7 40.0L245.6 41.7L244.5 43.3L243.3 45.0L242.2 46.6L241.1 48.2L240.0 49.9L238.9 51.5L237.8 53.1L236.6 54.7L235.5 56.3L234.3 57.8L233.2 59.4L232.0 61.0L230.8 62.5L229.6 64.0L228.4 65.6L227.2 67.1L225.9 68.6L224.7 70.2L223.5 71.7L222.3 73.3L221.1 74.8L219.9 76.4L218.8 78.0L217.7 79.6L216.6 81.2L215.5 82.9L214.5 84.6L213.5 86.3L212.5 88.0L211.6 89.7L210.7 91.4L209.7 93.1L208.9 94.9L208.0 96.6L207.2 98.4L206.3 100.2L205.5 102.0L204.8 103.8L204.0 105.6L203.2 107.4L202.4 109.2L201.7 111.0L200.9 112.8L200.0 114.6L199.2 116.3L198.4 118.1L197.7 119.9L196.9 121.7L196.2 123.6L195.4 125.4L194.8 127.2L194.1 129.1L193.5 130.9L192.9 132.8L192.3 134.7L191.8 136.6L191.2 138.4L190.6 140.3L190.0 142.2L189.3 144.0L188.5 145.8L187.8 147.6L187.0 149.4L186.2 151.2L185.4 153.0L184.6 154.8L183.7 156.5L182.7 158.2L181.7 159.9L180.6 161.5L179.3 163.0L178.0 164.5L176.7 165.9L175.2 167.3L173.7 168.5L172.1 169.7L170.5 170.8L168.8 171.8L167.1 172.7L165.3 173.5L163.5 174.3L161.7 175.1L159.9 175.8L158.1 176.5L156.2 177.2L154.3 177.7L152.4 178.2L150.5 178.7L148.6 179.1L146.7 179.5L144.7 179.8L142.8 180.2L140.9 180.5L139.0 180.9L137.0 181.2L135.1 181.6L133.2 181.9L131.2 182.2L129.3 182.5L127.4 182.8L125.4 183.1L123.5 183.3L121.5 183.6L119.6 183.9L117.6 184.1L115.7 184.4L113.8 184.7L111.8 185.1L109.9 185.4L108.0 185.9" fill="none" stroke="#ffa500" stroke-opacity="0.15" stroke-width="10.4" stroke-linejoin="round"/>
<path d="M272.0 16.0L271.1 17.8L269.9 19.4L268.6 20.8L267.2 22.1L265.6 23.3L264.0 24.4L262.3 25.4L260.6 26.4L258.9 27.4L257.3 28.5L255.7 29.7L254.2 31.0L252.8 32.3L251.5 33.8L250.2 35.3L249.0 36.8L247.8 38.4L246.7 40.0L245.6 41.7L244.5 43.3L243.3 45.0L242.2 46.6L241.1 48.2L240.0 49.9L238.9 51.5L237.8 53.1L236.6 54.7L235.5 56.3L234.3 57.8L233.2 59.4L232.0 61.0L230.8 62.5L229.6 64.0L228.4 65.6L227.2 67.1L225.9 68.6L224.7 70.2L223.5 71.7L222.3 73.3L221.1 74.8L219.9 76.4L218.8 78.0L217.7 79.6L216.6 81.2L215.5 82.9L214.5 84.6L213.5 86.3L212.5 88.0L211.6 89.7L210.7 91.4L209.7 93.1L208.9 94.9L208.0 96.6L207.2 98.4L206.3 100.2L205.5 102.0L204.8 103.8L204.0 105.6L203.2 107.4L202.4 109.2L201.7 111.0L200.9 112.8L200.0 114.6L199.2 116.3L198.4 118.1L197.7 119.9L196.9 121.7L196.2 123.6L195.4 125.4L194.8 127.2L194.1 129.1L193.5 130.9L192.9 132.8L192.3 134.7L191.8 136.6L191.2 138.4L190.6 140.3L190.0 142.2L189.3 144.0L188.5 145.8L187.8 147.6L187.0 149.4L186.2 151.2L185.4 153.0L184.6 154.8L183.7 156.5L182.7 158.2L181.7 159.9L180.6 161.5L179.3 163.0L178.0 164.5L176.7 165.9L175.2 167.3L173.7 168.5L172.1 169.7L170.5 170.8L168.8 171.8L167.1 172.7L165.3 173.5L163.5 174.3L161.7 175.1L159.9 175.8L158.1 176.5L156.2 177.2L154.3 177.7L152.4 178.2L150.5 178.7L148.6 179.1L146.7 179.5L144.7 179.8L142.8 180.2L140.9 180.5L139.0 180.9L137.0 181.2L135.1 181.6L133.2 181.9L131.2 182.2L129.3 182.5L127.4 182.8L125.4 183.1L123.5 183.3L121.5 183.6L119.6 183.9L117.6 184.1" fill="none" stroke="#ffa500" stroke-opacity="0.15" stroke-width="10.4" stroke-linejoin="round"/>
<path d="M275.7 17.7L274.1 20.7L272.0 23.2L269.7 25.3L267.3 27.1L265.0 28.6L262.7 29.9L260.6 31.2L258.7 32.6L257.0 34.0L255.4 35.6L253.8 37.4L252.3 39.3L250.8 41.3L249.3 43.4L247.9 45.6L246.4 47.8L244.9 50.0L243.4 52.2L241.9 54.4L240.4 56.5L238.8 58.7L237.3 60.8L235.7 62.9L234.0 65.0L232.4 67.1L230.8 69.2L229.1 71.2L227.5 73.2L225.9 75.3L224.4 77.3L222.9 79.3L221.4 81.4L220.0 83.5L218.7 85.6L217.4 87.8L216.1 90.0L214.9 92.2L213.7 94.4L212.5 96.7L211.4 99.0L210.3 101.3L209.3 103.6L208.3 106.0L207.2 108.4L206.2 110.8L205.1 113.3L204.0 115.7L203.0 118.0L201.9 120.4L200.9 122.7L200.0 125.1L199.0 127.4L198.2 129.8L197.4 132.2L196.6 134.6L195.9 137.1L195.1 139.6L194.3 142.2L193.3 144.8L192.3 147.4L191.3 149.9L190.2 152.3L189.1 154.7L187.9 157.2L186.6 159.7L185.1 162.2L183.4 164.5L181.5 166.8L179.5 168.9L177.4 170.8L175.1 172.6L172.7 174.3L170.1 175.7L167.6 177.0L165.1 178.1L162.7 179.1L160.1 180.1L157.5 181.1L154.8 181.9L152.1 182.5L149.4 183.1L146.8 183.6L144.2 184.1L141.6 184.6L139.1 185.0L136.5 185.5L133.9 185.9L131.2 186.4L128.6 186.8L126.0 187.1L123.3 187.5L120.8 187.8L118.2 188.2L115.7 188.5L113.2 188.9L110.8 189.4L108.3 190.0L105.9 190.6L103.6 191.3L101.2 192.1L98.9 192.9L96.7 193.9L94.5 195.0L92.4 196.2L90.4 197.5L88.6 198.9L86.9 200.5L85.5 202.2L84.3 203.9L83.4 205.8L82.6 207.8L82.0 209.9L81.6 212.0L81.3 214.1L81.3 216.1L81.4 217.9L81.8 219.9L82.4 221.9L83.1 223.9L84.1 225.9L85.1 227.9L86.3 229.9L87.6 231.9L89.0 233.9L90.5 235.9L92.1 237.8L93.8 239.7L95.5 241.5L97.3 243.2L99.2 245.0L101.1 246.6L103.0 248.3L105.1 250.0L107.1 251.6L109.1 253.2L111.2 254.8L113.2 256.4L115.3 258.0L117.4 259.5L119.5 261.0L121.6 262.5L123.7 264.0L125.8 265.4L128.0 266.8L130.2 268.2L132.4 269.6L134.6 270.9L136.9 272.3L139.1 273.7" fill="none" stroke="#ffa200" stroke-opacity="0.17" stroke-width="3" stroke-linejoin="round"/>
<path d="M275.0 17.4L273.4 20.2L271.4 22.7L269.2 24.7L266.9 26.4L264.6 27.9L262.3 29.2L260.2 30.5L258.2 31.9L256.5 33.4L254.8 35.1L253.2 36.9L251.6 38.8L250.1 40.9L248.6 43.0L247.2 45.2L245.7 47.4L244.2 49.5L242.7 51.7L241.2 53.9L239.7 56.0L238.2 58.2L236.6 60.3L235.0 62.4L233.4 64.5L231.8 66.6L230.1 68.6L228.5 70.7L226.9 72.7L225.3 74.8L223.7 76.8L222.2 78.8L220.7 80.9L219.3 83.0L218.0 85.2L216.7 87.4L215.4 89.6L214.2 91.8L213.0 94.1L211.8 96.3L210.7 98.6L209.6 101.0L208.5 103.3L207.5 105.7L206.5 108.1L205.4 110.5L204.4 112.9L203.3 115.3L202.2 117.7L201.2 120.1L200.2 122.4L199.2 124.8L198.3 127.1L197.4 129.5L196.6 131.9L195.8 134.4L195.1 136.9L194.3 139.4L193.5 142.0L192.6 144.5L191.6 147.1L190.5 149.5L189.4 151.9L188.4 154.3L187.2 156.8L185.9 159.3L184.4 161.7L182.8 164.0L180.9 166.2L179.0 168.3L176.9 170.2L174.6 172.0L172.2 173.6L169.8 175.0L167.3 176.2L164.8 177.3L162.4 178.4L159.8 179.4L157.2 180.3L154.6 181.1L151.9 181.7L149.2 182.3L146.6 182.8L144.1 183.3L141.5 183.8L138.9 184.2L136.3 184.7L133.7 185.1L131.1 185.6L128.5 186.0L125.9 186.3L123.2 186.7L120.7 187.0L118.1 187.4L115.6 187.7L113.1 188.1L110.6 188.6L108.1 189.2L105.7 189.8L103.3 190.5L100.9 191.3L98.6 192.2L96.3 193.2L94.1 194.3L92.0 195.5L90.0 196.8L88.1 198.3L86.3 199.9L84.8 201.6L83.6 203.4L82.5 205.3L81.7 207.4L81.0 209.6L80.5 211.8L80.2 214.0L80.2 216.1L80.3 218.1L80.7 220.1L81.4 222.2L82.2 224.3L83.1 226.4L84.3 228.5L85.5 230.5L86.9 232.5L88.3 234.5L89.9 236.5L91.5 238.4L93.2 240.3L95.0 242.1L96.8 243.8L98.7 245.5L100.6 247.2L102.6 248.9L104.6 250.5L106.7 252.1L108.7 253.7L110.8 255.3L112.9 256.9L114.9 258.5L117.0 260.0L119.1 261.6L121.2 263.1L123.3 264.5L125.5 266.0L127.6 267.4L129.8 268.7L132.0 270.1L134.3 271.5L136.5 272.8L138.8 274.3" fill="none" stroke="#ffa200" stroke-opacity="0.21" stroke-width="3" stroke-linejoin="round"/>
<path d="M274.2 17.0L272.7 19.8L270.8 22.1L268.7 24.0L266.4 25.7L264.1 27.2L261.9 28.5L259.7 29.9L257.7 31.3L255.9 32.8L254.2 34.5L252.5 36.3L251.0 38.3L249.5 40.4L248.0 42.5L246.5 44.7L245.0 46.9L243.5 49.1L242.0 51.3L240.5 53.4L239.0 55.6L237.5 57.7L235.9 59.8L234.4 61.9L232.7 64.0L231.1 66.1L229.5 68.1L227.8 70.2L226.2 72.2L224.6 74.2L223.1 76.3L221.5 78.4L220.1 80.5L218.7 82.6L217.3 84.7L216.0 86.9L214.7 89.2L213.4 91.4L212.2 93.7L211.1 96.0L209.9 98.3L208.8 100.6L207.8 103.0L206.8 105.4L205.7 107.8L204.7 110.2L203.6 112.6L202.6 115.0L201.5 117.4L200.4 119.7L199.4 122.1L198.4 124.5L197.5 126.9L196.6 129.3L195.8 131.7L195.0 134.1L194.3 136.6L193.5 139.2L192.7 141.7L191.8 144.3L190.8 146.8L189.8 149.2L188.7 151.6L187.6 154.0L186.5 156.4L185.2 158.9L183.7 161.3L182.1 163.5L180.3 165.7L178.4 167.7L176.3 169.6L174.1 171.3L171.8 172.9L169.4 174.3L166.9 175.5L164.5 176.6L162.0 177.6L159.5 178.6L157.0 179.5L154.3 180.3L151.7 180.9L149.1 181.5L146.5 182.0L143.9 182.5L141.3 182.9L138.8 183.4L136.2 183.9L133.6 184.3L131.0 184.8L128.4 185.2L125.7 185.5L123.1 185.9L120.5 186.2L118.0 186.5L115.4 186.9L112.9 187.3L110.4 187.8L108.0 188.4L105.5 189.0L103.1 189.8L100.7 190.6L98.3 191.5L96.0 192.5L93.7 193.5L91.6 194.8L89.5 196.1L87.5 197.6L85.8 199.2L84.2 201.0L82.8 202.9L81.7 204.9L80.8 207.0L80.0 209.3L79.5 211.6L79.2 213.8L79.1 216.1L79.2 218.2L79.7 220.4L80.3 222.6L81.2 224.8L82.2 226.9L83.4 229.0L84.7 231.1L86.1 233.2L87.6 235.2L89.2 237.1L90.9 239.0L92.6 240.9L94.4 242.7L96.3 244.4L98.2 246.1L100.2 247.8L102.2 249.4L104.2 251.1L106.3 252.7L108.3 254.3L110.4 255.9L112.5 257.4L114.5 259.0L116.6 260.6L118.7 262.1L120.8 263.6L123.0 265.1L125.1 266.5L127.3 267.9L129.5 269.3L131.7 270.6L133.9 272.0L136.2 273.4L138.4 274.8" fill="none" stroke="#ffa200" stroke-opacity="0.24" stroke-width="3" stroke-linejoin="round"/>
<path d="M273.5 16.7L272.1 19.3L270.2 21.5L268.2 23.4L266.0 25.0L263.7 26.5L261.4 27.8L259.3 29.2L257.2 30.6L255.3 32.2L253.6 33.9L251.9 35.8L250.3 37.8L248.8 39.9L247.3 42.0L245.8 44.2L244.3 46.4L242.9 48.6L241.4 50.8L239.9 53.0L238.4 55.1L236.8 57.2L235.3 59.3L233.7 61.4L232.1 63.5L230.5 65.6L228.8 67.6L227.2 69.7L225.6 71.7L224.0 73.7L222.4 75.8L220.9 77.9L219.4 80.0L218.0 82.1L216.6 84.3L215.3 86.5L214.0 88.8L212.7 91.0L211.5 93.3L210.3 95.6L209.2 97.9L208.1 100.3L207.0 102.6L206.0 105.0L205.0 107.4L203.9 109.8L202.9 112.3L201.8 114.6L200.7 117.0L199.7 119.4L198.7 121.8L197.7 124.2L196.7 126.6L195.9 129.0L195.0 131.4L194.3 133.9L193.5 136.4L192.8 138.9L191.9 141.4L191.0 144.0L190.1 146.4L189.0 148.9L187.9 151.3L186.9 153.7L185.7 156.1L184.5 158.5L183.1 160.8L181.5 163.0L179.7 165.1L177.8 167.1L175.8 169.0L173.7 170.7L171.4 172.2L169.0 173.5L166.6 174.7L164.2 175.8L161.7 176.8L159.2 177.8L156.7 178.7L154.1 179.5L151.5 180.1L148.9 180.7L146.3 181.2L143.8 181.7L141.2 182.1L138.6 182.6L136.0 183.1L133.4 183.5L130.8 183.9L128.2 184.3L125.6 184.7L123.0 185.1L120.4 185.4L117.9 185.7L115.3 186.1L112.8 186.5L110.3 187.0L107.8 187.6L105.3 188.3L102.8 189.0L100.4 189.8L98.0 190.7L95.7 191.7L93.4 192.8L91.2 194.1L89.0 195.4L87.0 196.9L85.2 198.6L83.5 200.4L82.1 202.3L80.9 204.4L79.9 206.6L79.1 208.9L78.5 211.3L78.1 213.7L78.0 216.1L78.1 218.4L78.6 220.7L79.3 223.0L80.2 225.2L81.3 227.4L82.5 229.6L83.9 231.7L85.3 233.8L86.9 235.8L88.6 237.7L90.3 239.6L92.1 241.5L93.9 243.3L95.8 245.0L97.7 246.7L99.7 248.4L101.7 250.0L103.8 251.6L105.9 253.2L107.9 254.8L110.0 256.4L112.1 258.0L114.2 259.5L116.2 261.1L118.4 262.6L120.5 264.1L122.6 265.6L124.8 267.0L126.9 268.4L129.1 269.8L131.4 271.2L133.6 272.6L135.8 273.9L138.1 275.3" fill="none" stroke="#ffa200" stroke-opacity="0.28" stroke-width="3" stroke-linejoin="round"/>
<path d="M272.7 16.3L271.4 18.8L269.7 21.0L267.7 22.8L265.5 24.3L263.3 25.8L261.0 27.1L258.8 28.5L256.7 30.0L254.8 31.6L253.0 33.4L251.3 35.3L249.7 37.3L248.1 39.4L246.6 41.6L245.1 43.8L243.7 46.0L242.2 48.2L240.7 50.3L239.2 52.5L237.7 54.6L236.2 56.7L234.6 58.8L233.1 60.9L231.5 63.0L229.8 65.1L228.2 67.1L226.6 69.1L224.9 71.2L223.3 73.2L221.8 75.3L220.2 77.4L218.7 79.5L217.3 81.7L215.9 83.9L214.5 86.1L213.2 88.4L212.0 90.6L210.8 92.9L209.6 95.2L208.5 97.6L207.4 99.9L206.3 102.3L205.3 104.7L204.2 107.1L203.2 109.5L202.1 111.9L201.1 114.3L200.0 116.7L198.9 119.1L197.9 121.5L196.9 123.9L196.0 126.3L195.1 128.7L194.3 131.2L193.5 133.7L192.7 136.2L192.0 138.7L191.2 141.2L190.3 143.7L189.3 146.1L188.3 148.5L187.2 150.9L186.1 153.3L185.0 155.7L183.8 158.1L182.4 160.4L180.8 162.5L179.1 164.6L177.2 166.5L175.3 168.3L173.2 170.0L170.9 171.5L168.6 172.8L166.2 174.0L163.8 175.1L161.4 176.1L159.0 177.1L156.5 177.9L153.9 178.7L151.3 179.3L148.8 179.9L146.2 180.4L143.6 180.9L141.0 181.3L138.5 181.8L135.9 182.3L133.3 182.7L130.7 183.1L128.1 183.5L125.5 183.9L122.9 184.2L120.3 184.6L117.8 184.9L115.2 185.3L112.6 185.7L110.1 186.2L107.6 186.8L105.1 187.5L102.6 188.2L100.1 189.1L97.7 190.0L95.3 191.0L93.0 192.1L90.8 193.4L88.6 194.8L86.5 196.3L84.6 198.0L82.8 199.8L81.3 201.8L80.0 203.9L78.9 206.2L78.1 208.6L77.4 211.1L77.0 213.6L76.9 216.1L77.0 218.5L77.5 221.0L78.2 223.4L79.2 225.7L80.3 228.0L81.6 230.2L83.1 232.3L84.6 234.4L86.2 236.4L87.9 238.3L89.7 240.2L91.5 242.1L93.4 243.9L95.3 245.6L97.3 247.3L99.3 248.9L101.3 250.5L103.4 252.1L105.4 253.7L107.5 255.3L109.6 256.9L111.7 258.5L113.8 260.1L115.9 261.6L118.0 263.1L120.1 264.6L122.3 266.1L124.4 267.6L126.6 269.0L128.8 270.4L131.0 271.7L133.3 273.1L135.5 274.5L137.7 275.9" fill="none" stroke="#ffa200" stroke-opacity="0.31" stroke-width="3" stroke-linejoin="round"/>
<path d="M272.0 16.0L270.7 18.4L269.1 20.4L267.2 22.1L265.1 23.6L262.9 25.1L260.6 26.4L258.4 27.8L256.2 29.3L254.2 31.0L252.4 32.8L250.7 34.8L249.0 36.8L247.5 38.9L245.9 41.1L244.5 43.3L243.0 45.5L241.5 47.7L240.0 49.9L238.5 52.0L237.0 54.1L235.5 56.3L234.0 58.4L232.4 60.4L230.8 62.5L229.2 64.6L227.6 66.6L225.9 68.6L224.3 70.7L222.7 72.7L221.1 74.8L219.5 76.9L218.0 79.1L216.6 81.2L215.2 83.4L213.8 85.7L212.5 88.0L211.3 90.2L210.0 92.6L208.9 94.9L207.7 97.2L206.6 99.6L205.5 102.0L204.5 104.4L203.5 106.8L202.4 109.2L201.4 111.6L200.3 114.0L199.2 116.3L198.2 118.7L197.1 121.1L196.2 123.6L195.2 126.0L194.3 128.5L193.5 130.9L192.7 133.4L191.9 135.9L191.2 138.4L190.4 140.9L189.5 143.4L188.5 145.8L187.5 148.2L186.4 150.6L185.4 153.0L184.3 155.4L183.1 157.7L181.7 159.9L180.2 162.0L178.5 164.0L176.7 165.9L174.7 167.7L172.7 169.3L170.5 170.8L168.2 172.1L165.9 173.2L163.5 174.3L161.1 175.3L158.7 176.3L156.2 177.2L153.7 177.9L151.2 178.5L148.6 179.1L146.0 179.6L143.5 180.1L140.9 180.5L138.3 181.0L135.7 181.5L133.2 181.9L130.6 182.3L128.0 182.7L125.4 183.1L122.8 183.4L120.2 183.8L117.6 184.1L115.1 184.5L112.5 184.9L109.9 185.4L107.4 186.0L104.8 186.7L102.3 187.5L99.9 188.3L97.4 189.2L95.0 190.3L92.7 191.4L90.4 192.7L88.1 194.1L86.0 195.6L84.0 197.3L82.2 199.2L80.5 201.3L79.2 203.5L78.0 205.8L77.1 208.3L76.4 210.9L75.9 213.4L75.8 216.1L75.9 218.7L76.4 221.2L77.2 223.7L78.2 226.2L79.4 228.5L80.8 230.7L82.2 232.9L83.8 235.0L85.5 237.0L87.2 238.9L89.0 240.8L90.9 242.7L92.8 244.5L94.8 246.2L96.8 247.9L98.8 249.5L100.9 251.1L103.0 252.7L105.0 254.3L107.1 255.9L109.2 257.5L111.3 259.0L113.4 260.6L115.5 262.1L117.6 263.7L119.7 265.2L121.9 266.6L124.1 268.1L126.3 269.5L128.5 270.9L130.7 272.3L132.9 273.6L135.2 275.0L137.4 276.4" fill="none" stroke="#ffa200" stroke-opacity="0.35" stroke-width="3" stroke-linejoin="round"/>
<path d="M271.3 15.7L270.0 17.9L268.5 19.8L266.6 21.5L264.6 23.0L262.4 24.4L260.2 25.7L257.9 27.1L255.7 28.7L253.7 30.4L251.8 32.2L250.0 34.2L248.4 36.3L246.8 38.5L245.3 40.7L243.8 42.9L242.3 45.1L240.8 47.2L239.3 49.4L237.9 51.5L236.4 53.7L234.8 55.8L233.3 57.9L231.7 59.9L230.2 62.0L228.6 64.0L226.9 66.1L225.3 68.1L223.7 70.2L222.0 72.2L220.4 74.3L218.9 76.4L217.4 78.6L215.9 80.8L214.5 83.0L213.1 85.3L211.8 87.5L210.5 89.9L209.3 92.2L208.1 94.5L207.0 96.9L205.9 99.3L204.8 101.7L203.8 104.1L202.7 106.5L201.7 108.9L200.6 111.2L199.6 113.6L198.5 116.0L197.4 118.4L196.4 120.8L195.4 123.3L194.4 125.7L193.5 128.2L192.7 130.7L191.9 133.2L191.2 135.7L190.4 138.2L189.6 140.7L188.7 143.1L187.8 145.5L186.8 147.9L185.7 150.3L184.6 152.7L183.5 155.0L182.3 157.3L181.0 159.5L179.5 161.5L177.9 163.5L176.1 165.3L174.2 167.1L172.2 168.7L170.1 170.1L167.9 171.4L165.5 172.5L163.2 173.5L160.8 174.6L158.4 175.5L155.9 176.4L153.5 177.1L151.0 177.7L148.4 178.3L145.9 178.8L143.3 179.2L140.7 179.7L138.2 180.2L135.6 180.7L133.0 181.1L130.5 181.5L127.9 181.9L125.3 182.3L122.7 182.6L120.1 183.0L117.5 183.3L114.9 183.7L112.3 184.1L109.7 184.6L107.2 185.2L104.6 185.9L102.1 186.7L99.6 187.5L97.1 188.5L94.7 189.5L92.3 190.7L89.9 191.9L87.6 193.3L85.4 194.9L83.3 196.6L81.4 198.5L79.6 200.6L78.1 202.9L76.8 205.3L75.8 207.9L75.0 210.5L74.5 213.3L74.3 216.1L74.5 218.9L75.0 221.6L75.8 224.2L76.9 226.8L78.2 229.2L79.6 231.5L81.2 233.7L82.8 235.8L84.6 237.8L86.4 239.7L88.3 241.6L90.2 243.4L92.2 245.2L94.2 246.9L96.2 248.5L98.3 250.2L100.4 251.7L102.5 253.3L104.6 254.9L106.7 256.5L108.7 258.0L110.8 259.6L113.0 261.2L115.1 262.7L117.2 264.2L119.3 265.7L121.5 267.2L123.7 268.7L125.9 270.1L128.1 271.5L130.3 272.9L132.6 274.2L134.8 275.6L137.0 277.0" fill="none" stroke="#ffa200" stroke-opacity="0.31" stroke-width="3" stroke-linejoin="round"/>
<path d="M270.5 15.3L269.3 17.5L267.9 19.3L266.1 20.8L264.2 22.3L262.0 23.7L259.7 25.0L257.5 26.4L255.2 28.0L253.1 29.8L251.2 31.7L249.4 33.7L247.7 35.8L246.1 38.0L244.6 40.2L243.1 42.4L241.6 44.6L240.1 46.8L238.7 48.9L237.2 51.1L235.7 53.2L234.2 55.3L232.6 57.4L231.1 59.4L229.5 61.5L227.9 63.5L226.3 65.6L224.6 67.6L223.0 69.7L221.4 71.7L219.8 73.8L218.2 76.0L216.7 78.1L215.2 80.3L213.8 82.6L212.4 84.9L211.1 87.1L209.8 89.5L208.6 91.8L207.4 94.2L206.2 96.5L205.1 98.9L204.0 101.3L203.0 103.7L202.0 106.1L200.9 108.5L199.9 110.9L198.8 113.3L197.7 115.7L196.7 118.1L195.6 120.5L194.6 122.9L193.7 125.4L192.8 127.9L191.9 130.4L191.1 132.9L190.4 135.5L189.6 138.0L188.8 140.4L188.0 142.8L187.0 145.2L186.0 147.5L184.9 149.9L183.9 152.3L182.8 154.6L181.6 156.9L180.3 159.0L178.9 161.0L177.3 162.9L175.5 164.8L173.7 166.5L171.7 168.0L169.7 169.4L167.5 170.6L165.2 171.7L162.8 172.8L160.5 173.8L158.1 174.8L155.7 175.6L153.3 176.3L150.8 176.9L148.3 177.5L145.7 178.0L143.2 178.4L140.6 178.9L138.0 179.4L135.5 179.8L132.9 180.3L130.3 180.7L127.8 181.1L125.2 181.5L122.6 181.8L120.0 182.1L117.4 182.5L114.8 182.9L112.2 183.3L109.6 183.8L107.0 184.5L104.4 185.1L101.8 185.9L99.3 186.8L96.8 187.7L94.3 188.8L91.9 189.9L89.5 191.2L87.1 192.6L84.8 194.1L82.6 195.9L80.6 197.8L78.7 199.9L77.0 202.3L75.7 204.8L74.5 207.5L73.7 210.2L73.1 213.1L72.8 216.1L73.0 219.0L73.6 222.0L74.4 224.8L75.6 227.4L76.9 229.9L78.5 232.2L80.1 234.4L81.9 236.5L83.7 238.6L85.6 240.5L87.5 242.3L89.5 244.1L91.5 245.9L93.6 247.6L95.7 249.2L97.8 250.8L99.9 252.4L102.0 253.9L104.1 255.5L106.2 257.1L108.3 258.6L110.4 260.2L112.5 261.7L114.6 263.3L116.8 264.8L118.9 266.3L121.1 267.8L123.3 269.3L125.5 270.7L127.7 272.1L130.0 273.5L132.2 274.8L134.4 276.2L136.6 277.6" fill="none" stroke="#ffa200" stroke-opacity="0.28" stroke-width="3" stroke-linejoin="round"/>
<path d="M269.8 15.0L268.7 17.0L267.3 18.7L265.6 20.2L263.7 21.6L261.6 23.0L259.3 24.3L257.0 25.7L254.7 27.4L252.6 29.2L250.6 31.1L248.8 33.2L247.1 35.3L245.4 37.5L243.9 39.7L242.4 42.0L240.9 44.1L239.5 46.3L238.0 48.5L236.5 50.6L235.0 52.7L233.5 54.8L232.0 56.9L230.4 58.9L228.9 61.0L227.3 63.0L225.6 65.1L224.0 67.1L222.4 69.2L220.7 71.2L219.1 73.3L217.5 75.5L216.0 77.7L214.5 79.9L213.1 82.2L211.7 84.4L210.4 86.7L209.1 89.1L207.9 91.4L206.7 93.8L205.5 96.2L204.4 98.6L203.3 101.0L202.2 103.4L201.2 105.8L200.2 108.2L199.1 110.6L198.1 113.0L197.0 115.3L195.9 117.7L194.9 120.2L193.9 122.6L192.9 125.1L192.0 127.6L191.1 130.2L190.3 132.7L189.6 135.2L188.8 137.7L188.1 140.1L187.2 142.5L186.3 144.9L185.3 147.2L184.2 149.6L183.1 152.0L182.1 154.3L180.9 156.5L179.6 158.5L178.2 160.5L176.6 162.4L174.9 164.2L173.1 165.8L171.2 167.4L169.2 168.7L167.1 169.9L164.9 171.0L162.5 172.0L160.1 173.1L157.8 174.0L155.4 174.8L153.0 175.5L150.6 176.1L148.1 176.7L145.6 177.2L143.0 177.6L140.4 178.1L137.9 178.6L135.3 179.0L132.8 179.5L130.2 179.9L127.7 180.3L125.1 180.7L122.5 181.0L119.9 181.3L117.3 181.7L114.7 182.1L112.0 182.5L109.4 183.1L106.8 183.7L104.2 184.4L101.6 185.1L99.0 186.0L96.5 187.0L94.0 188.0L91.5 189.2L89.0 190.4L86.6 191.8L84.2 193.4L81.9 195.1L79.8 197.1L77.7 199.3L76.0 201.7L74.5 204.3L73.3 207.1L72.3 209.9L71.6 212.9L71.4 216.1L71.5 219.2L72.1 222.3L73.1 225.3L74.3 228.0L75.7 230.6L77.3 232.9L79.0 235.2L80.9 237.3L82.8 239.3L84.7 241.3L86.7 243.1L88.8 244.9L90.9 246.6L93.0 248.3L95.1 249.9L97.3 251.5L99.4 253.0L101.5 254.6L103.6 256.1L105.7 257.7L107.9 259.2L110.0 260.8L112.1 262.3L114.2 263.9L116.4 265.4L118.5 266.9L120.7 268.4L122.9 269.9L125.1 271.3L127.4 272.7L129.6 274.1L131.8 275.4L134.0 276.8L136.2 278.2" fill="none" stroke="#ffa200" stroke-opacity="0.24" stroke-width="3" stroke-linejoin="round"/>
<path d="M269.0 14.6L268.0 16.5L266.7 18.1L265.1 19.6L263.2 20.9L261.1 22.3L258.9 23.6L256.6 25.1L254.2 26.7L252.0 28.6L250.0 30.6L248.1 32.7L246.4 34.8L244.8 37.0L243.2 39.3L241.7 41.5L240.3 43.7L238.8 45.9L237.3 48.0L235.8 50.1L234.4 52.2L232.8 54.3L231.3 56.4L229.8 58.5L228.2 60.5L226.6 62.5L225.0 64.5L223.4 66.6L221.7 68.6L220.1 70.7L218.5 72.8L216.9 75.0L215.3 77.2L213.8 79.5L212.4 81.7L211.0 84.0L209.7 86.3L208.4 88.7L207.1 91.0L205.9 93.4L204.8 95.8L203.6 98.2L202.5 100.7L201.5 103.1L200.5 105.5L199.4 107.9L198.4 110.2L197.3 112.6L196.2 115.0L195.2 117.4L194.1 119.9L193.1 122.3L192.1 124.8L191.2 127.4L190.4 129.9L189.6 132.5L188.8 135.0L188.1 137.5L187.3 139.9L186.4 142.2L185.5 144.5L184.5 146.9L183.4 149.3L182.4 151.6L181.3 153.9L180.2 156.1L179.0 158.1L177.6 160.0L176.0 161.8L174.4 163.6L172.6 165.2L170.7 166.7L168.8 168.0L166.7 169.2L164.5 170.3L162.2 171.3L159.8 172.3L157.5 173.2L155.2 174.0L152.8 174.7L150.4 175.3L148.0 175.9L145.4 176.4L142.9 176.8L140.3 177.3L137.7 177.8L135.2 178.2L132.6 178.7L130.1 179.1L127.5 179.5L125.0 179.8L122.4 180.2L119.8 180.5L117.2 180.9L114.5 181.3L111.9 181.7L109.2 182.3L106.6 182.9L103.9 183.6L101.3 184.4L98.7 185.2L96.2 186.2L93.6 187.2L91.1 188.4L88.6 189.7L86.1 191.1L83.6 192.6L81.2 194.4L78.9 196.4L76.8 198.6L74.9 201.1L73.3 203.8L72.0 206.6L70.9 209.6L70.2 212.7L69.9 216.0L70.1 219.4L70.7 222.7L71.7 225.8L73.0 228.6L74.5 231.3L76.2 233.7L78.0 236.0L79.9 238.1L81.9 240.1L83.9 242.0L86.0 243.9L88.1 245.6L90.2 247.3L92.4 249.0L94.6 250.6L96.7 252.1L98.9 253.7L101.0 255.2L103.2 256.7L105.3 258.3L107.4 259.8L109.5 261.3L111.7 262.9L113.8 264.4L116.0 266.0L118.1 267.5L120.3 269.0L122.5 270.4L124.7 271.9L127.0 273.3L129.2 274.7L131.5 276.0L133.7 277.4L135.8 278.8" fill="none" stroke="#ffa200" stroke-opacity="0.21" stroke-width="3" stroke-linejoin="round"/>
<path d="M268.3 14.3L267.3 16.1L266.1 17.6L264.6 18.9L262.8 20.2L260.7 21.6L258.5 22.9L256.1 24.4L253.7 26.1L251.5 28.0L249.4 30.0L247.5 32.1L245.8 34.3L244.1 36.6L242.6 38.8L241.0 41.0L239.6 43.2L238.1 45.4L236.6 47.5L235.2 49.7L233.7 51.8L232.2 53.8L230.7 55.9L229.1 58.0L227.6 60.0L226.0 62.0L224.4 64.0L222.7 66.1L221.1 68.1L219.4 70.2L217.8 72.4L216.2 74.5L214.7 76.7L213.2 79.0L211.7 81.3L210.3 83.6L209.0 85.9L207.7 88.3L206.4 90.7L205.2 93.1L204.0 95.5L202.9 97.9L201.8 100.3L200.7 102.8L199.7 105.2L198.7 107.6L197.6 109.9L196.6 112.3L195.5 114.7L194.4 117.1L193.4 119.5L192.3 122.0L191.4 124.6L190.4 127.1L189.6 129.7L188.8 132.2L188.0 134.8L187.3 137.2L186.5 139.6L185.7 141.9L184.8 144.2L183.8 146.6L182.7 148.9L181.6 151.3L180.6 153.6L179.5 155.7L178.3 157.6L176.9 159.5L175.4 161.3L173.8 163.0L172.1 164.6L170.2 166.0L168.4 167.3L166.4 168.5L164.2 169.5L161.9 170.5L159.5 171.5L157.2 172.5L154.9 173.3L152.6 174.0L150.2 174.5L147.8 175.1L145.3 175.6L142.7 176.0L140.1 176.5L137.6 177.0L135.0 177.4L132.5 177.9L129.9 178.3L127.4 178.7L124.9 179.0L122.3 179.4L119.7 179.7L117.1 180.1L114.4 180.5L111.7 180.9L109.1 181.5L106.4 182.1L103.7 182.8L101.1 183.6L98.5 184.5L95.9 185.4L93.3 186.5L90.7 187.6L88.1 188.9L85.6 190.3L83.1 191.9L80.6 193.6L78.1 195.6L75.9 198.0L73.9 200.5L72.1 203.3L70.7 206.2L69.6 209.3L68.8 212.6L68.4 216.0L68.6 219.6L69.2 223.1L70.3 226.3L71.7 229.2L73.3 231.9L75.0 234.4L76.9 236.7L78.9 238.9L81.0 240.9L83.1 242.8L85.2 244.6L87.4 246.4L89.6 248.0L91.8 249.7L94.0 251.3L96.2 252.8L98.4 254.3L100.6 255.8L102.7 257.3L104.8 258.9L107.0 260.4L109.1 261.9L111.2 263.5L113.4 265.0L115.5 266.5L117.7 268.1L119.9 269.6L122.1 271.0L124.4 272.5L126.6 273.9L128.9 275.3L131.1 276.6L133.3 278.0L135.5 279.4" fill="none" stroke="#ffa200" stroke-opacity="0.17" stroke-width="3" stroke-linejoin="round"/>
<path d="M109.2 185.4L106.7 186.0L104.2 186.7L101.6 187.5L99.2 188.3L96.7 189.3L94.3 190.4L92.0 191.5L89.7 192.8L87.5 194.3L85.3 195.8L83.3 197.6L81.5 199.5L79.9 201.6L78.6 203.9L77.5 206.3L76.6 208.8L75.9 211.4L75.5 214.1L75.4 216.7L75.7 219.4L76.2 222.0L77.1 224.5L78.2 226.9L79.4 229.2L80.8 231.5L82.4 233.6L84.0 235.7L85.7 237.7L87.5 239.6L89.3 241.5L91.2 243.3L93.1 245.1L95.1 246.8L97.2 248.4L99.2 250.1L101.3 251.7L103.4 253.3L105.4 254.8L107.5 256.4L109.6 258.0L111.7 259.6L113.8 261.1L115.9 262.7L118.0 264.2L120.2 265.7L122.3 267.2L124.5 268.6L126.7 270.0L128.9 271.4L131.2 272.8L133.4 274.1L135.6 275.5L137.8 276.9" fill="none" stroke="#ffa200" stroke-opacity="0.33" stroke-width="2.6" stroke-linejoin="round"/>
<path d="M109.0 184.4L106.4 185.0L103.9 185.7L101.3 186.5L98.8 187.4L96.3 188.4L93.9 189.4L91.5 190.6L89.1 191.9L86.8 193.3L84.6 194.9L82.4 196.7L80.5 198.6L78.7 200.8L77.2 203.2L76.0 205.7L74.9 208.3L74.2 211.1L73.7 213.9L73.6 216.8L73.8 219.7L74.5 222.5L75.4 225.2L76.6 227.7L77.9 230.1L79.4 232.4L81.1 234.6L82.8 236.7L84.6 238.7L86.5 240.6L88.4 242.4L90.3 244.2L92.4 246.0L94.4 247.6L96.5 249.3L98.6 250.9L100.7 252.5L102.8 254.0L104.9 255.6L107.0 257.2L109.1 258.7L111.2 260.3L113.3 261.8L115.4 263.4L117.5 264.9L119.7 266.4L121.8 267.9L124.0 269.3L126.2 270.8L128.5 272.2L130.7 273.5L132.9 274.9L135.2 276.3L137.3 277.7" fill="none" stroke="#ffa200" stroke-opacity="0.33" stroke-width="2.6" stroke-linejoin="round"/>
<path d="M108.8 183.4L106.2 184.0L103.6 184.7L101.0 185.5L98.5 186.4L95.9 187.4L93.4 188.5L91.0 189.6L88.5 190.9L86.1 192.4L83.8 194.0L81.6 195.8L79.4 197.8L77.5 200.0L75.9 202.5L74.5 205.1L73.3 207.9L72.4 210.7L71.9 213.7L71.7 216.8L72.0 220.0L72.7 223.0L73.7 225.8L74.9 228.5L76.4 231.0L78.0 233.3L79.8 235.5L81.6 237.6L83.5 239.6L85.4 241.5L87.4 243.4L89.5 245.1L91.6 246.9L93.7 248.5L95.8 250.1L97.9 251.7L100.0 253.3L102.2 254.8L104.3 256.3L106.4 257.9L108.5 259.5L110.6 261.0L112.7 262.6L114.9 264.1L117.0 265.6L119.2 267.1L121.4 268.6L123.6 270.1L125.8 271.5L128.0 272.9L130.3 274.3L132.5 275.6L134.7 277.0L136.9 278.4" fill="none" stroke="#ffa200" stroke-opacity="0.33" stroke-width="2.6" stroke-linejoin="round"/>

<path d="M272.0 16.0L271.1 17.8L269.9 19.4L268.6 20.8L267.2 22.1L265.6 23.3L264.0 24.4L262.3 25.4L260.6 26.4L258.9 27.4L257.3 28.5L255.7 29.7L254.2 31.0L252.8 32.3L251.5 33.8L250.2 35.3L249.0 36.8L247.8 38.4L246.7 40.0L245.6 41.7L244.5 43.3L243.3 45.0L242.2 46.6L241.1 48.2L240.0 49.9L238.9 51.5L237.8 53.1L236.6 54.7L235.5 56.3L234.3 57.8L233.2 59.4L232.0 61.0L230.8 62.5L229.6 64.0L228.4 65.6L227.2 67.1L225.9 68.6L224.7 70.2L223.5 71.7L222.3 73.3L221.1 74.8L219.9 76.4L218.8 78.0L217.7 79.6L216.6 81.2L215.5 82.9L214.5 84.6L213.5 86.3L212.5 88.0L211.6 89.7L210.7 91.4L209.7 93.1L208.9 94.9L208.0 96.6L207.2 98.4L206.3 100.2L205.5 102.0L204.8 103.8L204.0 105.6L203.2 107.4L202.4 109.2L201.7 111.0L200.9 112.8L200.0 114.6L199.2 116.3L198.4 118.1L197.7 119.9L196.9 121.7L196.2 123.6L195.4 125.4L194.8 127.2L194.1 129.1L193.5 130.9L192.9 132.8L192.3 134.7L191.8 136.6L191.2 138.4L190.6 140.3L190.0 142.2L189.3 144.0L188.5 145.8L187.8 147.6L187.0 149.4L186.2 151.2L185.4 153.0L184.6 154.8L183.7 156.5L182.7 158.2L181.7 159.9L180.6 161.5L179.3 163.0L178.0 164.5L176.7 165.9L175.2 167.3L173.7 168.5L172.1 169.7L170.5 170.8L168.8 171.8L167.1 172.7L165.3 173.5L163.5 174.3L161.7 175.1L159.9 175.8L158.1 176.5L156.2 177.2L154.3 177.7L152.4 178.2L150.5 178.7L148.6 179.1L146.7 179.5L144.7 179.8L142.8 180.2L140.9 180.5L139.0 180.9L137.0 181.2L135.1 181.6L133.2 181.9L131.2 182.2L129.3 182.5L127.4 182.8L125.4 183.1L123.5 183.3L121.5 183.6L119.6 183.9L117.6 184.1L115.7 184.4L113.8 184.7L111.8 185.1L109.9 185.4L108.0 185.9L106.1 186.4L104.2 186.9L102.3 187.5L100.5 188.1L98.6 188.8L96.8 189.5L95.0 190.3L93.2 191.1L91.5 192.0L89.8 193.0L88.1 194.1L86.5 195.2L85.0 196.5L83.5 197.8L82.2 199.2L80.9 200.7L79.8 202.3L78.9 204.1L78.0 205.8L77.3 207.7L76.7 209.6L76.2 211.5L75.9 213.4L75.8 215.4L75.8 217.4L76.0 219.3L76.4 221.2L77.0 223.1L77.7 225.0L78.5 226.8L79.4 228.5L80.4 230.2L81.5 231.8L82.6 233.4L83.8 235.0L85.1 236.5L86.4 238.0L87.7 239.4L89.0 240.8L90.4 242.2L91.9 243.6L93.3 244.9L94.8 246.2L96.3 247.4L97.8 248.7L99.3 249.9L100.9 251.1L102.4 252.3L104.0 253.5L105.6 254.7L107.1 255.9L108.7 257.1L110.2 258.2L111.8 259.4L113.4 260.6L115.0 261.7L116.5 262.9L118.1 264.0L119.7 265.2L121.4 266.3L123.0 267.4L124.6 268.5L126.3 269.5L127.9 270.6L129.6 271.6L131.3 272.6L132.9 273.6L134.6 274.7L136.3 275.7L137.9 276.8" fill="none" stroke="#ff0000" stroke-width="2.1" stroke-linejoin="round"/>
</g>
<rect x="32.9" y="2.0" width="235.5" height="272.3" fill="none" stroke="#8c8c8c" stroke-width="1.1"/>
<path d="M32.9 51.9h-2.2" stroke="#555" stroke-width="0.8"/>
<text x="27.6" y="55.3" font-size="9.2" text-anchor="end">17</text>
<path d="M32.9 102.6h-2.2" stroke="#555" stroke-width="0.8"/>
<text x="27.6" y="106.0" font-size="9.2" text-anchor="end">18</text>
<path d="M32.9 153.3h-2.2" stroke="#555" stroke-width="0.8"/>
<text x="27.6" y="156.7" font-size="9.2" text-anchor="end">19</text>
<path d="M32.9 204.0h-2.2" stroke="#555" stroke-width="0.8"/>
<text x="27.6" y="207.4" font-size="9.2" text-anchor="end">20</text>
<path d="M32.9 254.7h-2.2" stroke="#555" stroke-width="0.8"/>
<text x="27.6" y="258.1" font-size="9.2" text-anchor="end">21</text>
<path d="M77.2 274.3v2.2" stroke="#555" stroke-width="0.8"/>
<text x="77.2" y="288.0" font-size="9.2" text-anchor="middle">1.6</text>
<path d="M126.3 274.3v2.2" stroke="#555" stroke-width="0.8"/>
<text x="126.3" y="288.0" font-size="9.2" text-anchor="middle">1.7</text>
<path d="M175.4 274.3v2.2" stroke="#555" stroke-width="0.8"/>
<text x="175.4" y="288.0" font-size="9.2" text-anchor="middle">1.8</text>
<path d="M224.5 274.3v2.2" stroke="#555" stroke-width="0.8"/>
<text x="224.5" y="288.0" font-size="9.2" text-anchor="middle">1.9</text>
<text x="38.3" y="16.4" font-size="11.2">DSED stellar models</text>
<text x="150.6" y="300.6" font-size="12.5" text-anchor="middle" class="it">m<tspan font-size="8.6" dy="2.2">F555W</tspan><tspan dy="-2.2"> − m</tspan><tspan font-size="8.6" dy="2.2">F814W</tspan></text>
<text transform="translate(8.2,139) rotate(-90)" font-size="12.6" text-anchor="middle" class="it">m<tspan font-size="8.4" dy="2.2">F814W</tspan></text>
</g>
<g transform="translate(0,321.6)">
<g clip-path="url(#cmdclip)">
<use href="#stars"/>
<path d="M271.0 4.0L270.1 5.8L269.1 7.6L268.0 9.2L266.8 10.8L265.6 12.3L264.2 13.8L262.9 15.3L261.4 16.7L260.0 18.1L258.6 19.6L257.2 21.0L255.8 22.4L254.4 23.9L253.1 25.4L251.9 27.0L250.6 28.6L249.5 30.2L248.3 31.8L247.2 33.5L246.1 35.1L245.0 36.8L243.9 38.5L242.8 40.2L241.7 41.9L240.6 43.6L239.5 45.2L238.4 46.9L237.2 48.6L236.1 50.2L235.0 51.9L233.9 53.5L232.8 55.2L231.6 56.9L230.5 58.5L229.4 60.2L228.3 61.9L227.2 63.5L226.1 65.2L225.1 66.9L224.0 68.6L222.9 70.3L221.9 72.0L220.8 73.7L219.8 75.5L218.8 77.2L217.8 78.9L216.9 80.7L215.9 82.5L215.0 84.2L214.1 86.0L213.2 87.8L212.3 89.6L211.5 91.4L210.7 93.2L209.8 95.1L209.0 96.9L208.2 98.7L207.5 100.6L206.7 102.4L205.9 104.3L205.1 106.1L204.3 108.0L203.6 109.8L202.8 111.7L202.0 113.5L201.2 115.3L200.3 117.2L199.5 119.0L198.6 120.8L197.7 122.6L196.8 124.3L195.8 126.1L194.9 127.9L194.1 129.7L193.3 131.5L192.6 133.4L192.0 135.3L191.4 137.3L190.9 139.2L190.3 141.1L189.7 143.0L188.9 144.9L188.2 146.7L187.4 148.5L186.5 150.4L185.7 152.2L184.9 154.0L184.0 155.8L183.1 157.6L182.1 159.3L180.9 161.0L179.7 162.6L178.4 164.1L177.0 165.6L175.6 167.0L174.1 168.3L172.5 169.5L170.8 170.6L169.1 171.6L167.3 172.6L165.5 173.4L163.7 174.2L161.8 175.0L160.0 175.8L158.1 176.5L156.2 177.2L154.3 177.7L152.4 178.3L150.4 178.7L148.4 179.1L146.5 179.5L144.5 179.9L142.5 180.2L140.6 180.6L138.6 180.9L136.6 181.3L134.7 181.7L132.7 182.0L130.7 182.3L128.7 182.6L126.8 182.9L124.8 183.2L122.8 183.4L120.8 183.7L118.8 184.0L116.8 184.2L114.8 184.5L112.9 184.9L110.9 185.2L108.9 185.7L107.0 186.1L105.1 186.6L103.1 187.2L101.2 187.8L99.3 188.5L97.5 189.2L95.6 190.0L93.8 190.8L92.0 191.7L90.3 192.7L88.6 193.8L86.9 194.9L85.3 196.2L83.8 197.5L82.4 199.0L81.1 200.5L80.0 202.1L79.0 203.9L78.1 205.7" fill="none" stroke="#ffa500" stroke-opacity="0.15" stroke-width="10.6" stroke-linejoin="round"/>
<path d="M271.0 4.0L270.1 5.8L269.1 7.6L268.0 9.2L266.8 10.8L265.6 12.3L264.2 13.8L262.9 15.3L261.4 16.7L260.0 18.1L258.6 19.6L257.2 21.0L255.8 22.4L254.4 23.9L253.1 25.4L251.9 27.0L250.6 28.6L249.5 30.2L248.3 31.8L247.2 33.5L246.1 35.1L245.0 36.8L243.9 38.5L242.8 40.2L241.7 41.9L240.6 43.6L239.5 45.2L238.4 46.9L237.2 48.6L236.1 50.2L235.0 51.9L233.9 53.5L232.8 55.2L231.6 56.9L230.5 58.5L229.4 60.2L228.3 61.9L227.2 63.5L226.1 65.2L225.1 66.9L224.0 68.6L222.9 70.3L221.9 72.0L220.8 73.7L219.8 75.5L218.8 77.2L217.8 78.9L216.9 80.7L215.9 82.5L215.0 84.2L214.1 86.0L213.2 87.8L212.3 89.6L211.5 91.4L210.7 93.2L209.8 95.1L209.0 96.9L208.2 98.7L207.5 100.6L206.7 102.4L205.9 104.3L205.1 106.1L204.3 108.0L203.6 109.8L202.8 111.7L202.0 113.5L201.2 115.3L200.3 117.2L199.5 119.0L198.6 120.8L197.7 122.6L196.8 124.3L195.8 126.1L194.9 127.9L194.1 129.7L193.3 131.5L192.6 133.4L192.0 135.3L191.4 137.3L190.9 139.2L190.3 141.1L189.7 143.0L188.9 144.9L188.2 146.7L187.4 148.5L186.5 150.4L185.7 152.2L184.9 154.0L184.0 155.8L183.1 157.6L182.1 159.3L180.9 161.0L179.7 162.6L178.4 164.1L177.0 165.6L175.6 167.0L174.1 168.3L172.5 169.5L170.8 170.6L169.1 171.6L167.3 172.6L165.5 173.4L163.7 174.2L161.8 175.0L160.0 175.8L158.1 176.5L156.2 177.2L154.3 177.7L152.4 178.3L150.4 178.7L148.4 179.1L146.5 179.5L144.5 179.9L142.5 180.2L140.6 180.6L138.6 180.9L136.6 181.3L134.7 181.7L132.7 182.0L130.7 182.3L128.7 182.6L126.8 182.9L124.8 183.2L122.8 183.4L120.8 183.7L118.8 184.0L116.8 184.2L114.8 184.5L112.9 184.9L110.9 185.2L108.9 185.7L107.0 186.1L105.1 186.6L103.1 187.2L101.2 187.8L99.3 188.5L97.5 189.2L95.6 190.0L93.8 190.8L92.0 191.7L90.3 192.7L88.6 193.8L86.9 194.9L85.3 196.2L83.8 197.5" fill="none" stroke="#ffa500" stroke-opacity="0.15" stroke-width="10.6" stroke-linejoin="round"/>
<path d="M271.0 4.0L270.1 5.8L269.1 7.6L268.0 9.2L266.8 10.8L265.6 12.3L264.2 13.8L262.9 15.3L261.4 16.7L260.0 18.1L258.6 19.6L257.2 21.0L255.8 22.4L254.4 23.9L253.1 25.4L251.9 27.0L250.6 28.6L249.5 30.2L248.3 31.8L247.2 33.5L246.1 35.1L245.0 36.8L243.9 38.5L242.8 40.2L241.7 41.9L240.6 43.6L239.5 45.2L238.4 46.9L237.2 48.6L236.1 50.2L235.0 51.9L233.9 53.5L232.8 55.2L231.6 56.9L230.5 58.5L229.4 60.2L228.3 61.9L227.2 63.5L226.1 65.2L225.1 66.9L224.0 68.6L222.9 70.3L221.9 72.0L220.8 73.7L219.8 75.5L218.8 77.2L217.8 78.9L216.9 80.7L215.9 82.5L215.0 84.2L214.1 86.0L213.2 87.8L212.3 89.6L211.5 91.4L210.7 93.2L209.8 95.1L209.0 96.9L208.2 98.7L207.5 100.6L206.7 102.4L205.9 104.3L205.1 106.1L204.3 108.0L203.6 109.8L202.8 111.7L202.0 113.5L201.2 115.3L200.3 117.2L199.5 119.0L198.6 120.8L197.7 122.6L196.8 124.3L195.8 126.1L194.9 127.9L194.1 129.7L193.3 131.5L192.6 133.4L192.0 135.3L191.4 137.3L190.9 139.2L190.3 141.1L189.7 143.0L188.9 144.9L188.2 146.7L187.4 148.5L186.5 150.4L185.7 152.2L184.9 154.0L184.0 155.8L183.1 157.6L182.1 159.3L180.9 161.0L179.7 162.6L178.4 164.1L177.0 165.6L175.6 167.0L174.1 168.3L172.5 169.5L170.8 170.6L169.1 171.6L167.3 172.6L165.5 173.4L163.7 174.2L161.8 175.0L160.0 175.8L158.1 176.5L156.2 177.2L154.3 177.7L152.4 178.3L150.4 178.7L148.4 179.1L146.5 179.5L144.5 179.9L142.5 180.2L140.6 180.6L138.6 180.9L136.6 181.3L134.7 181.7L132.7 182.0L130.7 182.3L128.7 182.6L126.8 182.9L124.8 183.2L122.8 183.4L120.8 183.7L118.8 184.0L116.8 184.2L114.8 184.5L112.9 184.9L110.9 185.2L108.9 185.7L107.0 186.1L105.1 186.6L103.1 187.2L101.2 187.8L99.3 188.5L97.5 189.2L95.6 190.0L93.8 190.8L92.0 191.7" fill="none" stroke="#ffa500" stroke-opacity="0.15" stroke-width="10.6" stroke-linejoin="round"/>
<path d="M271.0 4.0L270.1 5.8L269.1 7.6L268.0 9.2L266.8 10.8L265.6 12.3L264.2 13.8L262.9 15.3L261.4 16.7L260.0 18.1L258.6 19.6L257.2 21.0L255.8 22.4L254.4 23.9L253.1 25.4L251.9 27.0L250.6 28.6L249.5 30.2L248.3 31.8L247.2 33.5L246.1 35.1L245.0 36.8L243.9 38.5L242.8 40.2L241.7 41.9L240.6 43.6L239.5 45.2L238.4 46.9L237.2 48.6L236.1 50.2L235.0 51.9L233.9 53.5L232.8 55.2L231.6 56.9L230.5 58.5L229.4 60.2L228.3 61.9L227.2 63.5L226.1 65.2L225.1 66.9L224.0 68.6L222.9 70.3L221.9 72.0L220.8 73.7L219.8 75.5L218.8 77.2L217.8 78.9L216.9 80.7L215.9 82.5L215.0 84.2L214.1 86.0L213.2 87.8L212.3 89.6L211.5 91.4L210.7 93.2L209.8 95.1L209.0 96.9L208.2 98.7L207.5 100.6L206.7 102.4L205.9 104.3L205.1 106.1L204.3 108.0L203.6 109.8L202.8 111.7L202.0 113.5L201.2 115.3L200.3 117.2L199.5 119.0L198.6 120.8L197.7 122.6L196.8 124.3L195.8 126.1L194.9 127.9L194.1 129.7L193.3 131.5L192.6 133.4L192.0 135.3L191.4 137.3L190.9 139.2L190.3 141.1L189.7 143.0L188.9 144.9L188.2 146.7L187.4 148.5L186.5 150.4L185.7 152.2L184.9 154.0L184.0 155.8L183.1 157.6L182.1 159.3L180.9 161.0L179.7 162.6L178.4 164.1L177.0 165.6L175.6 167.0L174.1 168.3L172.5 169.5L170.8 170.6L169.1 171.6L167.3 172.6L165.5 173.4L163.7 174.2L161.8 175.0L160.0 175.8L158.1 176.5L156.2 177.2L154.3 177.7L152.4 178.3L150.4 178.7L148.4 179.1L146.5 179.5L144.5 179.9L142.5 180.2L140.6 180.6L138.6 180.9L136.6 181.3L134.7 181.7L132.7 182.0L130.7 182.3L128.7 182.6L126.8 182.9L124.8 183.2L122.8 183.4L120.8 183.7L118.8 184.0L116.8 184.2L114.8 184.5L112.9 184.9L110.9 185.2L108.9 185.7L107.0 186.1L105.1 186.6L103.1 187.2L101.2 187.8L99.3 188.5" fill="none" stroke="#ffa500" stroke-opacity="0.15" stroke-width="10.6" stroke-linejoin="round"/>
<path d="M271.0 4.0L270.1 5.8L269.1 7.6L268.0 9.2L266.8 10.8L265.6 12.3L264.2 13.8L262.9 15.3L261.4 16.7L260.0 18.1L258.6 19.6L257.2 21.0L255.8 22.4L254.4 23.9L253.1 25.4L251.9 27.0L250.6 28.6L249.5 30.2L248.3 31.8L247.2 33.5L246.1 35.1L245.0 36.8L243.9 38.5L242.8 40.2L241.7 41.9L240.6 43.6L239.5 45.2L238.4 46.9L237.2 48.6L236.1 50.2L235.0 51.9L233.9 53.5L232.8 55.2L231.6 56.9L230.5 58.5L229.4 60.2L228.3 61.9L227.2 63.5L226.1 65.2L225.1 66.9L224.0 68.6L222.9 70.3L221.9 72.0L220.8 73.7L219.8 75.5L218.8 77.2L217.8 78.9L216.9 80.7L215.9 82.5L215.0 84.2L214.1 86.0L213.2 87.8L212.3 89.6L211.5 91.4L210.7 93.2L209.8 95.1L209.0 96.9L208.2 98.7L207.5 100.6L206.7 102.4L205.9 104.3L205.1 106.1L204.3 108.0L203.6 109.8L202.8 111.7L202.0 113.5L201.2 115.3L200.3 117.2L199.5 119.0L198.6 120.8L197.7 122.6L196.8 124.3L195.8 126.1L194.9 127.9L194.1 129.7L193.3 131.5L192.6 133.4L192.0 135.3L191.4 137.3L190.9 139.2L190.3 141.1L189.7 143.0L188.9 144.9L188.2 146.7L187.4 148.5L186.5 150.4L185.7 152.2L184.9 154.0L184.0 155.8L183.1 157.6L182.1 159.3L180.9 161.0L179.7 162.6L178.4 164.1L177.0 165.6L175.6 167.0L174.1 168.3L172.5 169.5L170.8 170.6L169.1 171.6L167.3 172.6L165.5 173.4L163.7 174.2L161.8 175.0L160.0 175.8L158.1 176.5L156.2 177.2L154.3 177.7L152.4 178.3L150.4 178.7L148.4 179.1L146.5 179.5L144.5 179.9L142.5 180.2L140.6 180.6L138.6 180.9L136.6 181.3L134.7 181.7L132.7 182.0L130.7 182.3L128.7 182.6L126.8 182.9L124.8 183.2L122.8 183.4L120.8 183.7L118.8 184.0L116.8 184.2L114.8 184.5L112.9 184.9L110.9 185.2L108.9 185.7" fill="none" stroke="#ffa500" stroke-opacity="0.15" stroke-width="10.6" stroke-linejoin="round"/>
<path d="M271.0 4.0L270.1 5.8L269.1 7.6L268.0 9.2L266.8 10.8L265.6 12.3L264.2 13.8L262.9 15.3L261.4 16.7L260.0 18.1L258.6 19.6L257.2 21.0L255.8 22.4L254.4 23.9L253.1 25.4L251.9 27.0L250.6 28.6L249.5 30.2L248.3 31.8L247.2 33.5L246.1 35.1L245.0 36.8L243.9 38.5L242.8 40.2L241.7 41.9L240.6 43.6L239.5 45.2L238.4 46.9L237.2 48.6L236.1 50.2L235.0 51.9L233.9 53.5L232.8 55.2L231.6 56.9L230.5 58.5L229.4 60.2L228.3 61.9L227.2 63.5L226.1 65.2L225.1 66.9L224.0 68.6L222.9 70.3L221.9 72.0L220.8 73.7L219.8 75.5L218.8 77.2L217.8 78.9L216.9 80.7L215.9 82.5L215.0 84.2L214.1 86.0L213.2 87.8L212.3 89.6L211.5 91.4L210.7 93.2L209.8 95.1L209.0 96.9L208.2 98.7L207.5 100.6L206.7 102.4L205.9 104.3L205.1 106.1L204.3 108.0L203.6 109.8L202.8 111.7L202.0 113.5L201.2 115.3L200.3 117.2L199.5 119.0L198.6 120.8L197.7 122.6L196.8 124.3L195.8 126.1L194.9 127.9L194.1 129.7L193.3 131.5L192.6 133.4L192.0 135.3L191.4 137.3L190.9 139.2L190.3 141.1L189.7 143.0L188.9 144.9L188.2 146.7L187.4 148.5L186.5 150.4L185.7 152.2L184.9 154.0L184.0 155.8L183.1 157.6L182.1 159.3L180.9 161.0L179.7 162.6L178.4 164.1L177.0 165.6L175.6 167.0L174.1 168.3L172.5 169.5L170.8 170.6L169.1 171.6L167.3 172.6L165.5 173.4L163.7 174.2L161.8 175.0L160.0 175.8L158.1 176.5L156.2 177.2L154.3 177.7L152.4 178.3L150.4 178.7L148.4 179.1L146.5 179.5L144.5 179.9L142.5 180.2L140.6 180.6L138.6 180.9L136.6 181.3L134.7 181.7L132.7 182.0L130.7 182.3L128.7 182.6L126.8 182.9L124.8 183.2L122.8 183.4L120.8 183.7L118.8 184.0" fill="none" stroke="#ffa500" stroke-opacity="0.15" stroke-width="10.6" stroke-linejoin="round"/>
<path d="M274.8 5.7L273.5 8.5L271.9 11.0L270.1 13.4L268.3 15.6L266.4 17.7L264.4 19.7L262.5 21.6L260.6 23.5L258.8 25.3L257.2 27.2L255.6 29.1L254.0 31.1L252.5 33.2L251.0 35.3L249.6 37.5L248.1 39.7L246.7 41.9L245.2 44.2L243.7 46.4L242.2 48.7L240.7 50.9L239.2 53.1L237.7 55.3L236.2 57.5L234.8 59.8L233.3 62.0L231.8 64.2L230.4 66.4L229.0 68.6L227.5 70.8L226.2 73.1L224.8 75.3L223.5 77.6L222.1 79.8L220.9 82.1L219.6 84.4L218.4 86.7L217.3 89.1L216.1 91.4L215.0 93.8L214.0 96.2L212.9 98.6L211.8 101.0L210.8 103.5L209.8 105.9L208.7 108.4L207.7 110.8L206.6 113.3L205.6 115.8L204.4 118.3L203.3 120.8L202.1 123.3L200.8 125.7L199.6 128.1L198.4 130.3L197.4 132.5L196.6 134.8L195.8 137.2L195.1 139.7L194.3 142.4L193.4 145.1L192.3 147.7L191.2 150.3L190.1 152.7L189.0 155.2L187.8 157.7L186.4 160.3L184.8 162.8L183.0 165.2L181.0 167.5L179.0 169.6L176.7 171.5L174.3 173.3L171.8 174.9L169.2 176.3L166.6 177.5L164.1 178.6L161.5 179.7L158.9 180.7L156.1 181.6L153.4 182.3L150.6 183.0L147.9 183.5L145.3 184.0L142.7 184.5L140.0 185.0L137.4 185.4L134.7 185.9L132.0 186.3L129.4 186.8L126.7 187.2L124.0 187.5L121.3 187.8L118.7 188.2L116.1 188.6L113.6 189.0L111.1 189.4L108.6 190.0L106.2 190.6L103.7 191.3L101.3 192.1L99.0 193.0L96.7 194.0L94.5 195.0L92.3 196.2L90.3 197.6L88.4 199.0L86.8 200.6L85.3 202.3L84.1 204.1L83.2 206.1L82.4 208.2L81.8 210.3L81.3 212.5L81.1 214.6L81.1 216.6L81.3 218.5L81.8 220.6L82.5 222.6L83.3 224.7L84.3 226.7L85.5 228.8L86.8 230.9L88.2 232.9L89.7 234.9L91.3 236.9L92.9 238.8L94.7 240.7L96.5 242.5L98.4 244.2L100.3 246.0L102.3 247.7L104.3 249.4L106.4 251.0L108.5 252.7L110.6 254.3L112.7 256.0L114.8 257.6L116.9 259.1L119.0 260.7L121.2 262.2L123.4 263.7L125.5 265.2L127.7 266.7L129.9 268.1L132.2 269.4L134.5 270.8L136.8 272.2L139.1 273.7" fill="none" stroke="#ffa200" stroke-opacity="0.17" stroke-width="3" stroke-linejoin="round"/>
<path d="M274.1 5.4L272.7 8.1L271.2 10.6L269.5 12.9L267.6 15.1L265.8 17.1L263.8 19.1L261.9 21.0L260.0 22.9L258.2 24.7L256.5 26.6L254.9 28.6L253.3 30.6L251.8 32.7L250.3 34.8L248.9 37.0L247.4 39.2L246.0 41.5L244.5 43.7L243.0 46.0L241.5 48.2L240.0 50.4L238.5 52.7L237.0 54.9L235.6 57.1L234.1 59.3L232.6 61.5L231.1 63.7L229.7 65.9L228.2 68.2L226.8 70.4L225.4 72.6L224.1 74.9L222.7 77.2L221.4 79.4L220.1 81.7L218.9 84.0L217.7 86.3L216.5 88.7L215.4 91.0L214.3 93.4L213.2 95.8L212.1 98.3L211.1 100.7L210.0 103.1L209.0 105.6L207.9 108.0L206.9 110.5L205.9 113.0L204.8 115.5L203.7 117.9L202.5 120.4L201.3 122.9L200.1 125.3L198.8 127.7L197.7 130.0L196.7 132.2L195.8 134.5L195.0 136.9L194.3 139.5L193.5 142.1L192.6 144.8L191.5 147.4L190.4 149.9L189.3 152.4L188.2 154.8L187.0 157.3L185.7 159.9L184.1 162.4L182.3 164.7L180.4 166.9L178.4 168.9L176.2 170.9L173.8 172.6L171.4 174.2L168.8 175.6L166.3 176.8L163.8 177.8L161.2 178.9L158.6 179.9L155.9 180.8L153.2 181.5L150.5 182.1L147.8 182.7L145.1 183.2L142.5 183.6L139.9 184.1L137.2 184.6L134.6 185.1L131.9 185.5L129.2 185.9L126.5 186.3L123.9 186.7L121.2 187.0L118.6 187.4L116.0 187.7L113.5 188.1L110.9 188.6L108.4 189.2L106.0 189.8L103.5 190.5L101.1 191.3L98.7 192.2L96.4 193.2L94.1 194.3L91.9 195.5L89.9 196.9L87.9 198.4L86.2 200.0L84.6 201.8L83.4 203.6L82.3 205.6L81.5 207.8L80.8 210.0L80.3 212.3L80.1 214.5L80.0 216.6L80.3 218.7L80.8 220.9L81.5 223.0L82.4 225.1L83.4 227.3L84.7 229.4L86.0 231.4L87.5 233.5L89.0 235.5L90.6 237.5L92.3 239.4L94.1 241.3L96.0 243.1L97.9 244.8L99.8 246.5L101.9 248.2L103.9 249.9L106.0 251.6L108.1 253.2L110.2 254.9L112.3 256.5L114.4 258.1L116.5 259.7L118.7 261.2L120.8 262.8L123.0 264.3L125.2 265.8L127.4 267.2L129.6 268.6L131.9 270.0L134.1 271.4L136.4 272.8L138.7 274.2" fill="none" stroke="#ffa200" stroke-opacity="0.21" stroke-width="3" stroke-linejoin="round"/>
<path d="M273.3 5.0L272.0 7.6L270.5 10.1L268.8 12.4L267.0 14.5L265.1 16.5L263.2 18.5L261.3 20.4L259.4 22.3L257.6 24.2L255.9 26.1L254.3 28.1L252.7 30.1L251.1 32.2L249.6 34.4L248.2 36.5L246.7 38.8L245.2 41.0L243.8 43.3L242.3 45.5L240.8 47.7L239.3 50.0L237.8 52.2L236.3 54.4L234.9 56.6L233.4 58.8L231.9 61.0L230.4 63.2L229.0 65.5L227.5 67.7L226.1 69.9L224.7 72.2L223.3 74.5L222.0 76.7L220.7 79.0L219.4 81.3L218.2 83.6L216.9 86.0L215.8 88.3L214.6 90.7L213.5 93.1L212.4 95.5L211.3 97.9L210.3 100.4L209.2 102.8L208.2 105.3L207.2 107.7L206.1 110.2L205.1 112.6L204.0 115.1L202.9 117.6L201.8 120.0L200.6 122.5L199.3 124.9L198.1 127.3L196.9 129.6L195.9 131.9L195.0 134.2L194.2 136.7L193.5 139.2L192.7 141.9L191.8 144.5L190.8 147.1L189.7 149.6L188.6 152.0L187.5 154.5L186.3 157.0L184.9 159.5L183.4 161.9L181.7 164.2L179.8 166.3L177.8 168.3L175.7 170.2L173.4 171.9L170.9 173.5L168.4 174.8L165.9 176.0L163.4 177.1L160.9 178.1L158.3 179.1L155.7 180.0L153.0 180.7L150.3 181.3L147.6 181.9L145.0 182.3L142.3 182.8L139.7 183.3L137.1 183.8L134.4 184.2L131.8 184.7L129.1 185.1L126.4 185.5L123.8 185.8L121.1 186.2L118.5 186.5L115.9 186.9L113.3 187.3L110.8 187.8L108.2 188.4L105.7 189.0L103.2 189.8L100.8 190.6L98.4 191.5L96.0 192.5L93.7 193.6L91.5 194.8L89.4 196.2L87.4 197.7L85.6 199.4L84.0 201.2L82.6 203.1L81.5 205.2L80.6 207.4L79.8 209.7L79.3 212.1L79.0 214.4L79.0 216.7L79.2 218.9L79.7 221.1L80.5 223.4L81.4 225.6L82.6 227.8L83.8 229.9L85.2 232.0L86.7 234.1L88.3 236.1L90.0 238.1L91.8 240.0L93.6 241.8L95.4 243.7L97.4 245.4L99.4 247.1L101.4 248.8L103.5 250.5L105.6 252.1L107.7 253.8L109.8 255.4L111.9 257.0L114.0 258.6L116.1 260.2L118.3 261.8L120.5 263.3L122.6 264.8L124.8 266.3L127.0 267.7L129.3 269.1L131.5 270.5L133.8 271.9L136.1 273.3L138.4 274.8" fill="none" stroke="#ffa200" stroke-opacity="0.24" stroke-width="3" stroke-linejoin="round"/>
<path d="M272.5 4.7L271.3 7.2L269.8 9.6L268.2 11.9L266.4 14.0L264.5 16.0L262.6 17.9L260.7 19.8L258.8 21.7L257.0 23.6L255.3 25.5L253.6 27.5L252.0 29.6L250.4 31.7L248.9 33.9L247.5 36.1L246.0 38.3L244.5 40.5L243.1 42.8L241.6 45.0L240.1 47.3L238.6 49.5L237.1 51.7L235.7 53.9L234.2 56.1L232.7 58.4L231.2 60.6L229.7 62.8L228.3 65.0L226.8 67.2L225.4 69.5L224.0 71.8L222.6 74.0L221.3 76.3L220.0 78.6L218.7 80.9L217.4 83.2L216.2 85.6L215.0 87.9L213.9 90.3L212.7 92.7L211.6 95.1L210.6 97.6L209.5 100.0L208.5 102.5L207.4 104.9L206.4 107.4L205.4 109.9L204.3 112.3L203.2 114.8L202.1 117.2L201.0 119.7L199.8 122.1L198.6 124.5L197.3 126.9L196.2 129.2L195.1 131.6L194.2 134.0L193.4 136.4L192.7 139.0L191.9 141.6L191.0 144.2L190.0 146.8L188.9 149.2L187.8 151.7L186.7 154.1L185.5 156.6L184.2 159.0L182.7 161.4L181.0 163.6L179.2 165.7L177.2 167.7L175.1 169.6L172.9 171.3L170.5 172.8L168.1 174.1L165.6 175.2L163.1 176.3L160.6 177.3L158.0 178.3L155.4 179.2L152.8 179.9L150.1 180.5L147.5 181.0L144.8 181.5L142.2 182.0L139.6 182.5L136.9 183.0L134.3 183.4L131.6 183.9L129.0 184.3L126.3 184.7L123.7 185.0L121.0 185.4L118.4 185.7L115.8 186.1L113.2 186.5L110.6 187.0L108.0 187.6L105.5 188.2L103.0 189.0L100.5 189.8L98.1 190.7L95.7 191.7L93.3 192.9L91.1 194.1L88.9 195.5L86.9 197.1L85.0 198.8L83.3 200.6L81.9 202.6L80.6 204.8L79.6 207.0L78.9 209.4L78.3 211.9L78.0 214.3L77.9 216.7L78.2 219.1L78.7 221.4L79.5 223.8L80.5 226.1L81.7 228.3L83.0 230.5L84.5 232.6L86.0 234.7L87.7 236.7L89.4 238.7L91.2 240.6L93.0 242.4L94.9 244.2L96.9 246.0L98.9 247.7L101.0 249.4L103.1 251.0L105.2 252.7L107.3 254.3L109.4 255.9L111.5 257.5L113.6 259.1L115.8 260.7L117.9 262.3L120.1 263.8L122.3 265.3L124.5 266.8L126.7 268.3L128.9 269.7L131.2 271.1L133.5 272.5L135.8 273.9L138.0 275.3" fill="none" stroke="#ffa200" stroke-opacity="0.28" stroke-width="3" stroke-linejoin="round"/>
<path d="M271.8 4.3L270.5 6.8L269.1 9.1L267.5 11.3L265.8 13.4L263.9 15.4L262.0 17.3L260.1 19.2L258.2 21.1L256.4 23.0L254.6 25.0L252.9 27.0L251.3 29.1L249.8 31.2L248.2 33.4L246.8 35.6L245.3 37.8L243.8 40.1L242.4 42.3L240.9 44.6L239.4 46.8L237.9 49.0L236.5 51.2L235.0 53.5L233.5 55.7L232.0 57.9L230.5 60.1L229.0 62.3L227.6 64.6L226.1 66.8L224.7 69.0L223.3 71.3L221.9 73.6L220.6 75.9L219.2 78.2L217.9 80.5L216.7 82.8L215.4 85.2L214.3 87.6L213.1 90.0L212.0 92.4L210.9 94.8L209.8 97.2L208.7 99.7L207.7 102.1L206.7 104.6L205.6 107.1L204.6 109.5L203.5 112.0L202.5 114.4L201.4 116.9L200.3 119.3L199.1 121.7L197.8 124.1L196.6 126.5L195.4 128.9L194.3 131.3L193.4 133.7L192.6 136.2L191.9 138.8L191.1 141.4L190.2 143.9L189.2 146.4L188.1 148.9L187.0 151.3L185.9 153.8L184.8 156.2L183.5 158.6L182.0 160.9L180.4 163.1L178.6 165.2L176.7 167.1L174.6 168.9L172.4 170.6L170.1 172.0L167.7 173.3L165.2 174.5L162.8 175.5L160.3 176.6L157.8 177.5L155.2 178.4L152.6 179.1L149.9 179.7L147.3 180.2L144.7 180.7L142.0 181.2L139.4 181.7L136.8 182.1L134.1 182.6L131.5 183.0L128.9 183.4L126.2 183.8L123.5 184.2L120.9 184.5L118.3 184.9L115.6 185.3L113.0 185.7L110.4 186.2L107.8 186.8L105.3 187.4L102.7 188.2L100.2 189.0L97.8 190.0L95.3 191.0L93.0 192.2L90.7 193.4L88.5 194.8L86.3 196.4L84.4 198.1L82.6 200.0L81.1 202.1L79.8 204.3L78.7 206.7L77.9 209.1L77.3 211.7L76.9 214.2L76.8 216.7L77.1 219.3L77.7 221.7L78.5 224.2L79.6 226.5L80.8 228.8L82.2 231.0L83.7 233.2L85.3 235.3L87.0 237.3L88.7 239.3L90.6 241.2L92.5 243.0L94.4 244.8L96.4 246.6L98.5 248.3L100.5 249.9L102.6 251.6L104.7 253.2L106.9 254.8L109.0 256.5L111.1 258.1L113.2 259.7L115.4 261.2L117.5 262.8L119.7 264.4L121.9 265.9L124.1 267.4L126.3 268.8L128.6 270.2L130.9 271.6L133.1 273.0L135.4 274.4L137.7 275.9" fill="none" stroke="#ffa200" stroke-opacity="0.31" stroke-width="3" stroke-linejoin="round"/>
<path d="M271.0 4.0L269.8 6.4L268.4 8.7L266.8 10.8L265.1 12.8L263.3 14.8L261.4 16.7L259.5 18.6L257.6 20.5L255.8 22.4L254.0 24.4L252.3 26.5L250.6 28.6L249.1 30.7L247.5 32.9L246.1 35.1L244.6 37.4L243.1 39.6L241.7 41.9L240.2 44.1L238.7 46.3L237.2 48.6L235.8 50.8L234.3 53.0L232.8 55.2L231.3 57.4L229.8 59.6L228.3 61.9L226.9 64.1L225.4 66.3L224.0 68.6L222.6 70.9L221.2 73.2L219.8 75.5L218.5 77.8L217.2 80.1L215.9 82.5L214.7 84.8L213.5 87.2L212.3 89.6L211.2 92.0L210.1 94.5L209.0 96.9L208.0 99.4L206.9 101.8L205.9 104.3L204.9 106.7L203.8 109.2L202.8 111.7L201.7 114.1L200.6 116.5L199.5 119.0L198.3 121.4L197.1 123.7L195.8 126.1L194.6 128.5L193.5 130.9L192.6 133.4L191.8 136.0L191.1 138.5L190.3 141.1L189.4 143.6L188.4 146.1L187.4 148.5L186.3 151.0L185.2 153.4L184.0 155.8L182.8 158.2L181.3 160.4L179.7 162.6L178.0 164.6L176.1 166.5L174.1 168.3L171.9 169.9L169.7 171.3L167.3 172.6L164.9 173.7L162.4 174.8L160.0 175.8L157.5 176.7L154.9 177.6L152.4 178.3L149.8 178.9L147.1 179.4L144.5 179.9L141.9 180.3L139.3 180.8L136.6 181.3L134.0 181.8L131.4 182.2L128.7 182.6L126.1 183.0L123.4 183.3L120.8 183.7L118.1 184.0L115.5 184.4L112.9 184.9L110.2 185.4L107.6 186.0L105.1 186.6L102.5 187.4L100.0 188.3L97.5 189.2L95.0 190.3L92.6 191.4L90.3 192.7L88.0 194.2L85.8 195.8L83.8 197.5L82.0 199.5L80.3 201.6L79.0 203.9L77.8 206.3L76.9 208.8L76.3 211.5L75.9 214.1L75.8 216.8L76.0 219.4L76.6 222.0L77.5 224.6L78.6 227.0L79.9 229.4L81.3 231.6L82.9 233.8L84.6 235.9L86.3 237.9L88.1 239.9L90.0 241.8L91.9 243.6L93.9 245.4L95.9 247.1L98.0 248.8L100.1 250.5L102.2 252.1L104.3 253.8L106.5 255.4L108.6 257.0L110.7 258.6L112.8 260.2L115.0 261.8L117.2 263.3L119.3 264.9L121.5 266.4L123.8 267.9L126.0 269.4L128.2 270.8L130.5 272.2L132.8 273.6L135.1 275.0L137.3 276.4" fill="none" stroke="#ffa200" stroke-opacity="0.35" stroke-width="3" stroke-linejoin="round"/>
<path d="M270.2 3.7L269.1 6.0L267.7 8.2L266.2 10.3L264.5 12.3L262.7 14.2L260.9 16.1L259.0 18.0L257.0 19.9L255.2 21.9L253.4 23.9L251.6 26.0L250.0 28.1L248.4 30.3L246.9 32.5L245.4 34.7L243.9 36.9L242.4 39.2L241.0 41.4L239.5 43.7L238.0 45.9L236.5 48.1L235.1 50.3L233.6 52.5L232.1 54.7L230.6 56.9L229.1 59.2L227.6 61.4L226.2 63.6L224.7 65.9L223.3 68.2L221.9 70.4L220.5 72.7L219.1 75.0L217.8 77.4L216.5 79.7L215.2 82.1L213.9 84.4L212.7 86.8L211.6 89.3L210.5 91.7L209.3 94.1L208.3 96.6L207.2 99.0L206.2 101.5L205.1 104.0L204.1 106.4L203.0 108.9L202.0 111.3L200.9 113.8L199.9 116.2L198.7 118.6L197.6 121.0L196.3 123.4L195.1 125.7L193.9 128.1L192.8 130.6L191.8 133.2L191.0 135.7L190.3 138.3L189.5 140.8L188.6 143.3L187.7 145.8L186.6 148.2L185.5 150.6L184.4 153.1L183.3 155.5L182.0 157.8L180.6 160.0L179.1 162.0L177.4 164.0L175.5 165.9L173.5 167.6L171.4 169.2L169.3 170.6L166.9 171.8L164.6 172.9L162.1 174.0L159.7 175.0L157.2 175.9L154.7 176.7L152.2 177.4L149.6 178.0L147.0 178.5L144.4 179.0L141.7 179.5L139.1 180.0L136.5 180.5L133.9 180.9L131.2 181.4L128.6 181.8L126.0 182.2L123.3 182.5L120.7 182.9L118.0 183.2L115.4 183.6L112.7 184.0L110.1 184.6L107.4 185.2L104.8 185.8L102.2 186.6L99.7 187.5L97.2 188.4L94.7 189.5L92.2 190.7L89.8 192.0L87.5 193.4L85.2 195.0L83.1 196.8L81.1 198.7L79.4 200.9L77.9 203.3L76.6 205.8L75.6 208.4L74.9 211.2L74.4 214.0L74.3 216.8L74.6 219.7L75.2 222.5L76.2 225.1L77.3 227.7L78.7 230.1L80.2 232.4L81.9 234.6L83.6 236.7L85.4 238.7L87.3 240.7L89.2 242.5L91.2 244.4L93.3 246.1L95.4 247.8L97.5 249.5L99.6 251.2L101.7 252.8L103.9 254.4L106.0 256.0L108.1 257.6L110.3 259.2L112.4 260.8L114.6 262.4L116.7 263.9L118.9 265.5L121.1 267.0L123.4 268.5L125.6 269.9L127.9 271.4L130.2 272.8L132.4 274.2L134.7 275.6L136.9 277.0" fill="none" stroke="#ffa200" stroke-opacity="0.31" stroke-width="3" stroke-linejoin="round"/>
<path d="M269.5 3.3L268.3 5.6L267.0 7.7L265.5 9.8L263.9 11.7L262.1 13.6L260.3 15.5L258.4 17.4L256.5 19.3L254.6 21.3L252.7 23.3L251.0 25.4L249.3 27.6L247.7 29.8L246.2 32.0L244.7 34.2L243.2 36.5L241.7 38.7L240.3 41.0L238.8 43.2L237.3 45.4L235.9 47.6L234.4 49.8L232.9 52.0L231.4 54.3L229.9 56.5L228.4 58.7L226.9 60.9L225.4 63.2L224.0 65.4L222.6 67.7L221.1 70.0L219.7 72.3L218.4 74.6L217.0 76.9L215.7 79.3L214.4 81.7L213.2 84.1L212.0 86.5L210.8 88.9L209.7 91.3L208.6 93.8L207.5 96.2L206.4 98.7L205.4 101.2L204.3 103.6L203.3 106.1L202.3 108.5L201.2 111.0L200.2 113.4L199.1 115.9L198.0 118.2L196.8 120.6L195.6 123.0L194.4 125.3L193.1 127.8L192.0 130.3L191.0 132.9L190.2 135.5L189.5 138.1L188.7 140.6L187.9 143.0L186.9 145.4L185.8 147.9L184.7 150.3L183.6 152.7L182.5 155.1L181.3 157.3L180.0 159.5L178.4 161.5L176.7 163.5L174.9 165.3L173.0 167.0L171.0 168.5L168.8 169.9L166.6 171.1L164.2 172.2L161.8 173.2L159.3 174.2L156.9 175.1L154.5 175.9L152.0 176.6L149.4 177.2L146.8 177.7L144.2 178.2L141.6 178.7L139.0 179.2L136.3 179.6L133.7 180.1L131.1 180.5L128.5 181.0L125.9 181.3L123.2 181.7L120.6 182.0L117.9 182.4L115.2 182.8L112.6 183.2L109.9 183.7L107.2 184.3L104.6 185.0L102.0 185.8L99.4 186.7L96.8 187.7L94.3 188.7L91.8 189.9L89.4 191.2L87.0 192.6L84.6 194.2L82.4 196.0L80.3 198.0L78.4 200.3L76.8 202.7L75.4 205.3L74.3 208.0L73.5 210.9L73.0 213.8L72.8 216.9L73.1 219.9L73.8 222.9L74.8 225.7L76.1 228.3L77.5 230.8L79.1 233.1L80.8 235.3L82.6 237.5L84.5 239.5L86.5 241.4L88.5 243.3L90.5 245.1L92.6 246.9L94.8 248.5L96.9 250.2L99.1 251.8L101.2 253.4L103.4 255.0L105.5 256.6L107.7 258.2L109.8 259.8L112.0 261.4L114.2 262.9L116.3 264.5L118.5 266.0L120.7 267.6L123.0 269.1L125.2 270.5L127.5 272.0L129.8 273.4L132.1 274.8L134.3 276.2L136.6 277.6" fill="none" stroke="#ffa200" stroke-opacity="0.28" stroke-width="3" stroke-linejoin="round"/>
<path d="M268.7 3.0L267.6 5.2L266.3 7.3L264.9 9.3L263.2 11.2L261.5 13.1L259.7 14.9L257.8 16.8L255.9 18.7L253.9 20.7L252.1 22.8L250.3 24.9L248.6 27.1L247.0 29.3L245.5 31.5L244.0 33.8L242.5 36.0L241.0 38.3L239.6 40.5L238.1 42.7L236.6 44.9L235.2 47.2L233.7 49.4L232.2 51.6L230.7 53.8L229.2 56.0L227.7 58.2L226.2 60.5L224.7 62.7L223.3 65.0L221.8 67.3L220.4 69.6L219.0 71.9L217.7 74.2L216.3 76.5L215.0 78.9L213.7 81.3L212.4 83.7L211.2 86.1L210.1 88.5L208.9 91.0L207.8 93.4L206.7 95.9L205.7 98.4L204.6 100.8L203.6 103.3L202.5 105.8L201.5 108.2L200.5 110.7L199.4 113.1L198.3 115.5L197.2 117.9L196.1 120.2L194.9 122.6L193.6 125.0L192.4 127.4L191.2 130.0L190.2 132.6L189.4 135.2L188.6 137.8L187.9 140.3L187.1 142.7L186.1 145.1L185.1 147.5L184.0 150.0L182.9 152.4L181.8 154.7L180.6 156.9L179.3 159.0L177.8 161.0L176.1 162.9L174.3 164.7L172.5 166.3L170.5 167.8L168.4 169.1L166.2 170.3L163.9 171.4L161.4 172.4L159.0 173.4L156.6 174.4L154.2 175.1L151.8 175.8L149.2 176.4L146.7 176.9L144.1 177.4L141.4 177.9L138.8 178.3L136.2 178.8L133.6 179.3L131.0 179.7L128.4 180.1L125.7 180.5L123.1 180.9L120.5 181.2L117.8 181.6L115.1 182.0L112.4 182.4L109.7 182.9L107.1 183.5L104.4 184.2L101.7 185.0L99.1 185.9L96.5 186.9L94.0 188.0L91.4 189.1L88.9 190.4L86.4 191.9L84.0 193.5L81.7 195.3L79.5 197.3L77.4 199.6L75.7 202.1L74.2 204.8L73.0 207.7L72.1 210.6L71.5 213.7L71.4 216.9L71.7 220.2L72.4 223.3L73.4 226.2L74.8 229.0L76.3 231.5L78.0 233.9L79.8 236.1L81.7 238.3L83.6 240.3L85.7 242.2L87.7 244.1L89.9 245.8L92.0 247.6L94.2 249.2L96.4 250.9L98.6 252.5L100.7 254.0L102.9 255.6L105.1 257.2L107.2 258.8L109.4 260.4L111.6 261.9L113.7 263.5L115.9 265.1L118.1 266.6L120.3 268.2L122.6 269.7L124.8 271.1L127.1 272.6L129.4 274.0L131.7 275.4L134.0 276.7L136.2 278.2" fill="none" stroke="#ffa200" stroke-opacity="0.24" stroke-width="3" stroke-linejoin="round"/>
<path d="M267.9 2.6L266.9 4.8L265.6 6.8L264.2 8.7L262.6 10.6L260.9 12.5L259.1 14.3L257.2 16.2L255.3 18.1L253.3 20.1L251.5 22.2L249.7 24.4L248.0 26.6L246.3 28.8L244.8 31.0L243.3 33.3L241.8 35.6L240.3 37.8L238.9 40.0L237.4 42.3L235.9 44.5L234.5 46.7L233.0 48.9L231.5 51.1L230.0 53.3L228.5 55.5L227.0 57.8L225.5 60.0L224.0 62.3L222.6 64.5L221.1 66.8L219.7 69.1L218.3 71.4L216.9 73.8L215.6 76.1L214.2 78.5L213.0 80.9L211.7 83.3L210.5 85.7L209.3 88.2L208.2 90.6L207.0 93.1L206.0 95.6L204.9 98.0L203.8 100.5L202.8 103.0L201.8 105.4L200.7 107.9L199.7 110.3L198.6 112.8L197.6 115.2L196.5 117.5L195.3 119.9L194.1 122.2L192.9 124.6L191.6 127.0L190.4 129.6L189.4 132.3L188.6 135.0L187.8 137.6L187.1 140.1L186.3 142.4L185.3 144.8L184.3 147.2L183.2 149.6L182.1 152.0L181.0 154.3L179.9 156.5L178.6 158.5L177.1 160.5L175.5 162.3L173.8 164.1L171.9 165.7L170.0 167.1L168.0 168.4L165.8 169.5L163.5 170.6L161.1 171.7L158.7 172.7L156.4 173.6L154.0 174.3L151.6 175.0L149.1 175.6L146.5 176.1L143.9 176.6L141.3 177.0L138.7 177.5L136.0 178.0L133.4 178.5L130.8 178.9L128.2 179.3L125.6 179.7L123.0 180.0L120.4 180.4L117.7 180.7L115.0 181.1L112.3 181.6L109.6 182.1L106.9 182.7L104.2 183.4L101.5 184.2L98.8 185.1L96.2 186.1L93.6 187.2L91.0 188.4L88.5 189.7L85.9 191.1L83.4 192.7L81.0 194.5L78.6 196.6L76.5 199.0L74.6 201.6L73.0 204.3L71.7 207.3L70.7 210.3L70.1 213.6L69.9 217.0L70.2 220.4L71.0 223.7L72.1 226.8L73.5 229.6L75.1 232.2L76.9 234.6L78.7 236.9L80.7 239.0L82.8 241.1L84.9 243.0L87.0 244.8L89.2 246.6L91.4 248.3L93.6 249.9L95.8 251.6L98.0 253.1L100.2 254.7L102.4 256.2L104.6 257.8L106.8 259.4L108.9 260.9L111.1 262.5L113.3 264.1L115.5 265.7L117.7 267.2L119.9 268.7L122.2 270.2L124.5 271.7L126.8 273.2L129.1 274.6L131.3 276.0L133.6 277.3L135.8 278.7" fill="none" stroke="#ffa200" stroke-opacity="0.21" stroke-width="3" stroke-linejoin="round"/>
<path d="M267.2 2.3L266.1 4.4L264.9 6.3L263.5 8.2L262.0 10.1L260.3 11.9L258.5 13.8L256.6 15.6L254.7 17.6L252.7 19.6L250.8 21.7L249.0 23.8L247.3 26.1L245.7 28.3L244.1 30.6L242.6 32.8L241.1 35.1L239.6 37.4L238.2 39.6L236.7 41.8L235.2 44.0L233.8 46.2L232.3 48.4L230.8 50.6L229.3 52.9L227.8 55.1L226.3 57.3L224.8 59.6L223.3 61.8L221.9 64.1L220.4 66.4L219.0 68.7L217.6 71.0L216.2 73.3L214.8 75.7L213.5 78.1L212.2 80.5L211.0 82.9L209.7 85.4L208.5 87.8L207.4 90.3L206.3 92.8L205.2 95.2L204.1 97.7L203.1 100.2L202.0 102.6L201.0 105.1L199.9 107.6L198.9 110.0L197.9 112.4L196.8 114.8L195.7 117.2L194.6 119.5L193.4 121.8L192.1 124.2L190.9 126.7L189.7 129.3L188.6 132.1L187.8 134.8L187.0 137.4L186.3 139.8L185.5 142.1L184.6 144.5L183.5 146.8L182.4 149.3L181.4 151.7L180.3 154.0L179.1 156.1L177.9 158.0L176.5 159.9L174.9 161.7L173.2 163.4L171.4 165.0L169.5 166.4L167.6 167.7L165.5 168.8L163.2 169.9L160.8 170.9L158.4 171.9L156.1 172.8L153.7 173.5L151.3 174.2L148.9 174.7L146.4 175.2L143.8 175.7L141.1 176.2L138.5 176.7L135.9 177.2L133.3 177.6L130.7 178.1L128.1 178.5L125.5 178.8L122.9 179.2L120.3 179.5L117.6 179.9L114.9 180.3L112.1 180.8L109.4 181.3L106.7 181.9L103.9 182.6L101.2 183.4L98.6 184.3L95.9 185.3L93.3 186.4L90.6 187.6L88.0 188.9L85.4 190.3L82.8 191.9L80.2 193.8L77.8 195.9L75.5 198.3L73.5 201.0L71.8 203.8L70.4 206.9L69.4 210.0L68.6 213.4L68.4 217.0L68.7 220.7L69.5 224.1L70.7 227.3L72.2 230.3L73.9 232.9L75.7 235.4L77.7 237.7L79.8 239.8L81.9 241.8L84.1 243.7L86.3 245.6L88.5 247.3L90.8 249.0L93.0 250.6L95.3 252.2L97.5 253.8L99.8 255.3L102.0 256.9L104.1 258.4L106.3 260.0L108.5 261.5L110.7 263.1L112.9 264.7L115.1 266.2L117.3 267.8L119.5 269.3L121.8 270.8L124.1 272.3L126.4 273.8L128.7 275.2L131.0 276.6L133.2 277.9L135.4 279.3" fill="none" stroke="#ffa200" stroke-opacity="0.17" stroke-width="3" stroke-linejoin="round"/>
<path d="M110.2 185.2L107.6 185.8L105.0 186.4L102.4 187.2L99.9 188.1L97.4 189.0L94.9 190.1L92.5 191.2L90.2 192.5L87.9 194.0L85.7 195.6L83.6 197.3L81.7 199.3L80.1 201.4L78.7 203.7L77.5 206.2L76.6 208.7L75.9 211.4L75.5 214.1L75.4 216.8L75.7 219.5L76.3 222.1L77.2 224.7L78.3 227.2L79.6 229.5L81.1 231.8L82.6 234.0L84.3 236.1L86.1 238.1L87.9 240.1L89.8 242.0L91.7 243.8L93.7 245.6L95.8 247.3L97.9 249.0L100.0 250.7L102.1 252.3L104.2 253.9L106.3 255.5L108.5 257.1L110.6 258.7L112.7 260.3L114.9 261.9L117.1 263.5L119.2 265.0L121.4 266.5L123.7 268.0L125.9 269.5L128.2 270.9L130.4 272.3L132.7 273.7L135.0 275.1L137.2 276.5" fill="none" stroke="#ffa200" stroke-opacity="0.33" stroke-width="2.6" stroke-linejoin="round"/>
<path d="M110.0 184.1L107.3 184.7L104.7 185.4L102.1 186.2L99.5 187.1L97.0 188.1L94.5 189.1L92.0 190.3L89.6 191.6L87.2 193.0L84.9 194.6L82.7 196.4L80.7 198.4L78.9 200.6L77.3 203.0L76.0 205.6L75.0 208.2L74.2 211.0L73.7 213.9L73.6 216.9L73.9 219.8L74.5 222.7L75.5 225.4L76.7 228.0L78.1 230.4L79.7 232.7L81.3 235.0L83.1 237.1L85.0 239.1L86.9 241.0L88.9 242.9L90.9 244.7L93.0 246.5L95.1 248.2L97.2 249.9L99.3 251.5L101.5 253.1L103.6 254.7L105.8 256.3L107.9 257.9L110.0 259.5L112.2 261.1L114.4 262.6L116.5 264.2L118.7 265.8L120.9 267.3L123.2 268.8L125.4 270.2L127.7 271.7L130.0 273.1L132.3 274.5L134.5 275.9L136.8 277.3" fill="none" stroke="#ffa200" stroke-opacity="0.33" stroke-width="2.6" stroke-linejoin="round"/>
<path d="M109.8 183.1L107.1 183.7L104.4 184.4L101.8 185.2L99.2 186.1L96.6 187.1L94.0 188.1L91.5 189.3L89.0 190.6L86.6 192.1L84.2 193.7L81.8 195.5L79.7 197.5L77.7 199.8L76.0 202.3L74.5 204.9L73.3 207.7L72.5 210.7L71.9 213.7L71.7 216.9L72.0 220.1L72.7 223.2L73.8 226.1L75.1 228.8L76.6 231.3L78.3 233.7L80.0 235.9L81.9 238.1L83.9 240.1L85.9 242.0L87.9 243.9L90.0 245.7L92.2 247.4L94.3 249.1L96.5 250.7L98.7 252.3L100.9 253.9L103.0 255.5L105.2 257.0L107.3 258.6L109.5 260.2L111.7 261.8L113.8 263.4L116.0 264.9L118.2 266.5L120.4 268.0L122.7 269.5L124.9 271.0L127.2 272.4L129.5 273.8L131.8 275.2L134.1 276.6L136.3 278.0" fill="none" stroke="#ffa200" stroke-opacity="0.33" stroke-width="2.6" stroke-linejoin="round"/>
<path d="M138.6 24.4L140.7 24.9L142.9 25.1L145.0 25.3L147.2 25.4L149.4 25.4L151.6 25.3L153.8 25.2L156.1 25.0L158.3 24.7L160.5 24.3L162.7 23.8L164.9 23.3L167.0 22.8L169.0 22.0L171.0 21.1L172.9 20.3L174.8 19.3L176.8 18.4L178.7 17.4L180.6 16.4L182.6 15.4L184.5 14.3L186.3 13.2L188.2 12.0L190.0 10.9L191.7 9.8L193.5 8.7L195.2 7.6L196.9 6.5L191.2 -4.8L189.4 -3.7L187.6 -2.5L185.8 -1.4L184.1 -0.3L182.4 0.8L180.7 1.9L178.9 2.9L177.2 3.9L175.5 4.8L173.8 5.8L172.1 6.7L170.3 7.5L168.5 8.4L166.6 9.3L164.8 10.1L162.9 11.0L161.2 12.0L159.5 13.1L157.9 14.2L156.2 15.2L154.4 16.1L152.7 17.0L150.9 17.9L149.1 18.7L147.2 19.5L145.3 20.3L143.3 21.1L141.4 21.9L139.4 22.7Z" fill="#ffa500" fill-opacity="0.35"/>
<path d="M138.6 24.4L140.7 24.8L142.8 24.9L145.0 25.0L147.1 25.0L149.3 25.0L151.5 24.9L153.7 24.7L155.9 24.4L158.1 24.0L160.3 23.6L162.4 23.1L164.5 22.6L166.7 22.0L168.7 21.2L170.6 20.3L172.5 19.4L174.4 18.5L176.4 17.6L178.3 16.6L180.2 15.6L182.1 14.6L184.0 13.5L185.9 12.4L187.7 11.3L189.5 10.1L191.2 9.0L193.0 7.9L194.7 6.8L196.5 5.7L191.7 -4.0L189.9 -2.9L188.1 -1.8L186.3 -0.7L184.6 0.5L182.8 1.6L181.1 2.6L179.4 3.7L177.7 4.7L176.0 5.6L174.2 6.6L172.5 7.5L170.7 8.3L168.8 9.2L167.0 10.1L165.1 10.9L163.3 11.8L161.6 12.8L159.8 13.9L158.1 14.9L156.4 15.8L154.6 16.7L152.9 17.6L151.0 18.4L149.2 19.2L147.3 19.9L145.3 20.6L143.4 21.3L141.4 22.0L139.4 22.7Z" fill="#ffa500" fill-opacity="0.55"/>
<path d="M138.6 24.4L140.7 24.6L142.8 24.7L144.9 24.7L147.1 24.6L149.2 24.5L151.4 24.3L153.5 24.0L155.7 23.6L157.8 23.2L159.9 22.7L162.0 22.2L164.1 21.5L166.2 20.9L168.2 20.1L170.1 19.2L172.0 18.3L173.9 17.4L175.8 16.5L177.7 15.6L179.6 14.6L181.5 13.5L183.4 12.5L185.2 11.4L187.0 10.2L188.8 9.1L190.6 8.0L192.3 6.9L194.1 5.8L195.8 4.7L192.3 -3.0L190.5 -1.9L188.7 -0.8L187.0 0.4L185.2 1.5L183.5 2.6L181.7 3.6L180.0 4.7L178.3 5.7L176.6 6.7L174.8 7.6L173.0 8.5L171.2 9.4L169.4 10.3L167.5 11.2L165.6 12.0L163.8 12.9L162.0 13.9L160.2 14.8L158.5 15.8L156.7 16.7L154.9 17.5L153.1 18.3L151.2 19.0L149.3 19.7L147.4 20.4L145.4 21.0L143.4 21.6L141.4 22.2L139.4 22.8Z" fill="#ffa500" fill-opacity="0.60"/>
<path d="M142.6 23.3L143.6 23.1L144.7 23.0L145.7 22.8L146.7 22.6L147.7 22.5L148.8 22.3L149.8 22.1L150.8 21.8L151.8 21.6L152.8 21.3L153.8 21.1L154.8 20.8L155.8 20.5L156.8 20.2L157.8 19.8L158.8 19.5L159.7 19.1L160.7 18.7L161.7 18.4L162.6 18.0L163.6 17.6L164.5 17.1L165.5 16.7L166.4 16.3L167.4 15.9L168.3 15.4L169.3 15.0L170.2 14.5L171.2 14.1L172.1 13.7L173.0 13.2L174.0 12.7L174.9 12.3L175.8 11.8L176.7 11.3L177.7 10.9L178.6 10.4L179.5 9.9L180.4 9.3L181.3 8.8L182.2 8.3L183.1 7.8L183.9 7.2L184.8 6.7L185.7 6.1L186.6 5.6L187.5 5.0L188.3 4.5L189.2 3.9L190.1 3.3L191.0 2.8L191.9 2.2L192.7 1.7L193.6 1.1L194.5 0.6" fill="none" stroke="#ff0000" stroke-width="2.1" stroke-linecap="round"/>
<path d="M271.0 4.0L270.1 5.8L269.1 7.6L268.0 9.2L266.8 10.8L265.6 12.3L264.2 13.8L262.9 15.3L261.4 16.7L260.0 18.1L258.6 19.6L257.2 21.0L255.8 22.4L254.4 23.9L253.1 25.4L251.9 27.0L250.6 28.6L249.5 30.2L248.3 31.8L247.2 33.5L246.1 35.1L245.0 36.8L243.9 38.5L242.8 40.2L241.7 41.9L240.6 43.6L239.5 45.2L238.4 46.9L237.2 48.6L236.1 50.2L235.0 51.9L233.9 53.5L232.8 55.2L231.6 56.9L230.5 58.5L229.4 60.2L228.3 61.9L227.2 63.5L226.1 65.2L225.1 66.9L224.0 68.6L222.9 70.3L221.9 72.0L220.8 73.7L219.8 75.5L218.8 77.2L217.8 78.9L216.9 80.7L215.9 82.5L215.0 84.2L214.1 86.0L213.2 87.8L212.3 89.6L211.5 91.4L210.7 93.2L209.8 95.1L209.0 96.9L208.2 98.7L207.5 100.6L206.7 102.4L205.9 104.3L205.1 106.1L204.3 108.0L203.6 109.8L202.8 111.7L202.0 113.5L201.2 115.3L200.3 117.2L199.5 119.0L198.6 120.8L197.7 122.6L196.8 124.3L195.8 126.1L194.9 127.9L194.1 129.7L193.3 131.5L192.6 133.4L192.0 135.3L191.4 137.3L190.9 139.2L190.3 141.1L189.7 143.0L188.9 144.9L188.2 146.7L187.4 148.5L186.5 150.4L185.7 152.2L184.9 154.0L184.0 155.8L183.1 157.6L182.1 159.3L180.9 161.0L179.7 162.6L178.4 164.1L177.0 165.6L175.6 167.0L174.1 168.3L172.5 169.5L170.8 170.6L169.1 171.6L167.3 172.6L165.5 173.4L163.7 174.2L161.8 175.0L160.0 175.8L158.1 176.5L156.2 177.2L154.3 177.7L152.4 178.3L150.4 178.7L148.4 179.1L146.5 179.5L144.5 179.9L142.5 180.2L140.6 180.6L138.6 180.9L136.6 181.3L134.7 181.7L132.7 182.0L130.7 182.3L128.7 182.6L126.8 182.9L124.8 183.2L122.8 183.4L120.8 183.7L118.8 184.0L116.8 184.2L114.8 184.5L112.9 184.9L110.9 185.2L108.9 185.7L107.0 186.1L105.1 186.6L103.1 187.2L101.2 187.8L99.3 188.5L97.5 189.2L95.6 190.0L93.8 190.8L92.0 191.7L90.3 192.7L88.6 193.8L86.9 194.9L85.3 196.2L83.8 197.5L82.4 199.0L81.1 200.5L80.0 202.1L79.0 203.9L78.1 205.7L77.3 207.6L76.7 209.5L76.3 211.5L75.9 213.4L75.8 215.4L75.8 217.4L76.0 219.4L76.5 221.4L77.1 223.3L77.8 225.2L78.6 227.0L79.6 228.8L80.6 230.5L81.7 232.2L82.9 233.8L84.1 235.4L85.4 236.9L86.7 238.4L88.1 239.9L89.5 241.3L90.9 242.7L92.4 244.1L93.9 245.4L95.4 246.7L97.0 248.0L98.5 249.3L100.1 250.5L101.7 251.7L103.3 252.9L104.9 254.2L106.5 255.4L108.0 256.6L109.6 257.8L111.2 259.0L112.8 260.2L114.5 261.4L116.1 262.6L117.7 263.7L119.3 264.9L121.0 266.0L122.6 267.2L124.3 268.3L126.0 269.4L127.7 270.4L129.4 271.5L131.1 272.5L132.8 273.6L134.5 274.6L136.2 275.7L137.9 276.8" fill="none" stroke="#ff0000" stroke-width="2.1" stroke-linejoin="round"/>
</g>
<rect x="32.9" y="2.0" width="235.5" height="272.3" fill="none" stroke="#8c8c8c" stroke-width="1.1"/>
<path d="M32.9 51.9h-2.2" stroke="#555" stroke-width="0.8"/>
<text x="27.6" y="55.3" font-size="9.2" text-anchor="end">17</text>
<path d="M32.9 102.6h-2.2" stroke="#555" stroke-width="0.8"/>
<text x="27.6" y="106.0" font-size="9.2" text-anchor="end">18</text>
<path d="M32.9 153.3h-2.2" stroke="#555" stroke-width="0.8"/>
<text x="27.6" y="156.7" font-size="9.2" text-anchor="end">19</text>
<path d="M32.9 204.0h-2.2" stroke="#555" stroke-width="0.8"/>
<text x="27.6" y="207.4" font-size="9.2" text-anchor="end">20</text>
<path d="M32.9 254.7h-2.2" stroke="#555" stroke-width="0.8"/>
<text x="27.6" y="258.1" font-size="9.2" text-anchor="end">21</text>
<path d="M77.2 274.3v2.2" stroke="#555" stroke-width="0.8"/>
<text x="77.2" y="288.0" font-size="9.2" text-anchor="middle">1.6</text>
<path d="M126.3 274.3v2.2" stroke="#555" stroke-width="0.8"/>
<text x="126.3" y="288.0" font-size="9.2" text-anchor="middle">1.7</text>
<path d="M175.4 274.3v2.2" stroke="#555" stroke-width="0.8"/>
<text x="175.4" y="288.0" font-size="9.2" text-anchor="middle">1.8</text>
<path d="M224.5 274.3v2.2" stroke="#555" stroke-width="0.8"/>
<text x="224.5" y="288.0" font-size="9.2" text-anchor="middle">1.9</text>
<text x="38.3" y="16.4" font-size="11.2">BaSTI stellar models</text>
<text x="150.6" y="300.6" font-size="12.5" text-anchor="middle" class="it">m<tspan font-size="8.6" dy="2.2">F555W</tspan><tspan dy="-2.2"> − m</tspan><tspan font-size="8.6" dy="2.2">F814W</tspan></text>
<text transform="translate(8.2,139) rotate(-90)" font-size="12.6" text-anchor="middle" class="it">m<tspan font-size="8.4" dy="2.2">F814W</tspan></text>
</g>
<g transform="translate(0,641.6)">
<g clip-path="url(#cmdclip)">
<use href="#stars"/>
<path d="M272.0 16.5L270.7 17.9L269.3 19.3L267.9 20.7L266.5 22.0L265.0 23.4L263.6 24.7L262.1 26.0L260.7 27.3L259.2 28.6L257.8 30.0L256.4 31.3L255.0 32.7L253.7 34.1L252.3 35.5L251.0 37.0L249.8 38.5L248.5 40.0L247.3 41.5L246.1 43.0L244.9 44.5L243.7 46.1L242.5 47.6L241.3 49.2L240.1 50.7L238.9 52.3L237.7 53.8L236.5 55.4L235.3 56.9L234.1 58.5L232.9 60.0L231.7 61.6L230.5 63.1L229.3 64.7L228.2 66.2L227.0 67.8L225.9 69.4L224.7 71.0L223.6 72.6L222.5 74.2L221.4 75.8L220.3 77.5L219.3 79.1L218.3 80.8L217.2 82.5L216.3 84.1L215.3 85.8L214.4 87.6L213.5 89.3L212.6 91.0L211.7 92.8L210.8 94.5L210.0 96.3L209.1 98.1L208.3 99.8L207.5 101.6L206.7 103.4L205.9 105.2L205.1 107.0L204.3 108.8L203.5 110.5L202.7 112.3L201.9 114.1L201.1 115.9L200.2 117.6L199.3 119.4L198.4 121.1L197.5 122.8L196.6 124.6L195.7 126.3L194.8 128.1L194.0 129.8L193.3 131.6L192.6 133.5L192.0 135.3L191.5 137.2L190.9 139.1L190.3 141.0L189.7 142.8L189.0 144.6L188.3 146.5L187.5 148.2L186.7 150.0L185.9 151.8L185.1 153.6L184.3 155.4L183.4 157.1L182.4 158.8L181.3 160.4L180.2 162.0L178.9 163.5L177.6 165.0L176.2 166.4L174.8 167.7L173.2 168.9L171.6 170.1L170.0 171.1L168.3 172.1L166.5 172.9L164.8 173.7L163.0 174.5L161.2 175.3L159.4 176.0L157.5 176.7L155.7 177.3L153.8 177.9L151.9 178.4L150.0 178.8L148.1 179.2L146.2 179.6L144.2 179.9L142.3 180.3L140.4 180.6L138.5 181.0L136.5 181.3L134.6 181.7L132.7 182.0L130.8 182.3L128.8 182.6L126.9 182.9L125.0 183.2L123.0 183.4L121.1 183.7L119.1 183.9L117.2 184.2L115.3 184.5L113.3 184.8L111.4 185.1L109.5 185.5L107.6 186.0L105.7 186.5L103.8 187.0L102.0 187.6L100.1 188.2L98.3 188.9L96.5 189.6L94.7 190.4L92.9 191.3L91.2 192.2L89.5 193.2L87.8 194.3L86.2 195.4L84.7 196.7L83.3 198.0L82.0 199.4L80.7 201.0L79.7 202.6L78.7 204.3L77.9 206.1" fill="none" stroke="#ffa500" stroke-opacity="0.15" stroke-width="12.0" stroke-linejoin="round"/>
<path d="M272.0 16.5L270.7 17.9L269.3 19.3L267.9 20.7L266.5 22.0L265.0 23.4L263.6 24.7L262.1 26.0L260.7 27.3L259.2 28.6L257.8 30.0L256.4 31.3L255.0 32.7L253.7 34.1L252.3 35.5L251.0 37.0L249.8 38.5L248.5 40.0L247.3 41.5L246.1 43.0L244.9 44.5L243.7 46.1L242.5 47.6L241.3 49.2L240.1 50.7L238.9 52.3L237.7 53.8L236.5 55.4L235.3 56.9L234.1 58.5L232.9 60.0L231.7 61.6L230.5 63.1L229.3 64.7L228.2 66.2L227.0 67.8L225.9 69.4L224.7 71.0L223.6 72.6L222.5 74.2L221.4 75.8L220.3 77.5L219.3 79.1L218.3 80.8L217.2 82.5L216.3 84.1L215.3 85.8L214.4 87.6L213.5 89.3L212.6 91.0L211.7 92.8L210.8 94.5L210.0 96.3L209.1 98.1L208.3 99.8L207.5 101.6L206.7 103.4L205.9 105.2L205.1 107.0L204.3 108.8L203.5 110.5L202.7 112.3L201.9 114.1L201.1 115.9L200.2 117.6L199.3 119.4L198.4 121.1L197.5 122.8L196.6 124.6L195.7 126.3L194.8 128.1L194.0 129.8L193.3 131.6L192.6 133.5L192.0 135.3L191.5 137.2L190.9 139.1L190.3 141.0L189.7 142.8L189.0 144.6L188.3 146.5L187.5 148.2L186.7 150.0L185.9 151.8L185.1 153.6L184.3 155.4L183.4 157.1L182.4 158.8L181.3 160.4L180.2 162.0L178.9 163.5L177.6 165.0L176.2 166.4L174.8 167.7L173.2 168.9L171.6 170.1L170.0 171.1L168.3 172.1L166.5 172.9L164.8 173.7L163.0 174.5L161.2 175.3L159.4 176.0L157.5 176.7L155.7 177.3L153.8 177.9L151.9 178.4L150.0 178.8L148.1 179.2L146.2 179.6L144.2 179.9L142.3 180.3L140.4 180.6L138.5 181.0L136.5 181.3L134.6 181.7L132.7 182.0L130.8 182.3L128.8 182.6L126.9 182.9L125.0 183.2L123.0 183.4L121.1 183.7L119.1 183.9L117.2 184.2L115.3 184.5L113.3 184.8L111.4 185.1L109.5 185.5L107.6 186.0L105.7 186.5L103.8 187.0L102.0 187.6L100.1 188.2L98.3 188.9L96.5 189.6L94.7 190.4L92.9 191.3L91.2 192.2L89.5 193.2L87.8 194.3L86.2 195.4L84.7 196.7L83.3 198.0" fill="none" stroke="#ffa500" stroke-opacity="0.15" stroke-width="12.0" stroke-linejoin="round"/>
<path d="M272.0 16.5L270.7 17.9L269.3 19.3L267.9 20.7L266.5 22.0L265.0 23.4L263.6 24.7L262.1 26.0L260.7 27.3L259.2 28.6L257.8 30.0L256.4 31.3L255.0 32.7L253.7 34.1L252.3 35.5L251.0 37.0L249.8 38.5L248.5 40.0L247.3 41.5L246.1 43.0L244.9 44.5L243.7 46.1L242.5 47.6L241.3 49.2L240.1 50.7L238.9 52.3L237.7 53.8L236.5 55.4L235.3 56.9L234.1 58.5L232.9 60.0L231.7 61.6L230.5 63.1L229.3 64.7L228.2 66.2L227.0 67.8L225.9 69.4L224.7 71.0L223.6 72.6L222.5 74.2L221.4 75.8L220.3 77.5L219.3 79.1L218.3 80.8L217.2 82.5L216.3 84.1L215.3 85.8L214.4 87.6L213.5 89.3L212.6 91.0L211.7 92.8L210.8 94.5L210.0 96.3L209.1 98.1L208.3 99.8L207.5 101.6L206.7 103.4L205.9 105.2L205.1 107.0L204.3 108.8L203.5 110.5L202.7 112.3L201.9 114.1L201.1 115.9L200.2 117.6L199.3 119.4L198.4 121.1L197.5 122.8L196.6 124.6L195.7 126.3L194.8 128.1L194.0 129.8L193.3 131.6L192.6 133.5L192.0 135.3L191.5 137.2L190.9 139.1L190.3 141.0L189.7 142.8L189.0 144.6L188.3 146.5L187.5 148.2L186.7 150.0L185.9 151.8L185.1 153.6L184.3 155.4L183.4 157.1L182.4 158.8L181.3 160.4L180.2 162.0L178.9 163.5L177.6 165.0L176.2 166.4L174.8 167.7L173.2 168.9L171.6 170.1L170.0 171.1L168.3 172.1L166.5 172.9L164.8 173.7L163.0 174.5L161.2 175.3L159.4 176.0L157.5 176.7L155.7 177.3L153.8 177.9L151.9 178.4L150.0 178.8L148.1 179.2L146.2 179.6L144.2 179.9L142.3 180.3L140.4 180.6L138.5 181.0L136.5 181.3L134.6 181.7L132.7 182.0L130.8 182.3L128.8 182.6L126.9 182.9L125.0 183.2L123.0 183.4L121.1 183.7L119.1 183.9L117.2 184.2L115.3 184.5L113.3 184.8L111.4 185.1L109.5 185.5L107.6 186.0L105.7 186.5L103.8 187.0L102.0 187.6L100.1 188.2L98.3 188.9L96.5 189.6L94.7 190.4L92.9 191.3L91.2 192.2" fill="none" stroke="#ffa500" stroke-opacity="0.15" stroke-width="12.0" stroke-linejoin="round"/>
<path d="M272.0 16.5L270.7 17.9L269.3 19.3L267.9 20.7L266.5 22.0L265.0 23.4L263.6 24.7L262.1 26.0L260.7 27.3L259.2 28.6L257.8 30.0L256.4 31.3L255.0 32.7L253.7 34.1L252.3 35.5L251.0 37.0L249.8 38.5L248.5 40.0L247.3 41.5L246.1 43.0L244.9 44.5L243.7 46.1L242.5 47.6L241.3 49.2L240.1 50.7L238.9 52.3L237.7 53.8L236.5 55.4L235.3 56.9L234.1 58.5L232.9 60.0L231.7 61.6L230.5 63.1L229.3 64.7L228.2 66.2L227.0 67.8L225.9 69.4L224.7 71.0L223.6 72.6L222.5 74.2L221.4 75.8L220.3 77.5L219.3 79.1L218.3 80.8L217.2 82.5L216.3 84.1L215.3 85.8L214.4 87.6L213.5 89.3L212.6 91.0L211.7 92.8L210.8 94.5L210.0 96.3L209.1 98.1L208.3 99.8L207.5 101.6L206.7 103.4L205.9 105.2L205.1 107.0L204.3 108.8L203.5 110.5L202.7 112.3L201.9 114.1L201.1 115.9L200.2 117.6L199.3 119.4L198.4 121.1L197.5 122.8L196.6 124.6L195.7 126.3L194.8 128.1L194.0 129.8L193.3 131.6L192.6 133.5L192.0 135.3L191.5 137.2L190.9 139.1L190.3 141.0L189.7 142.8L189.0 144.6L188.3 146.5L187.5 148.2L186.7 150.0L185.9 151.8L185.1 153.6L184.3 155.4L183.4 157.1L182.4 158.8L181.3 160.4L180.2 162.0L178.9 163.5L177.6 165.0L176.2 166.4L174.8 167.7L173.2 168.9L171.6 170.1L170.0 171.1L168.3 172.1L166.5 172.9L164.8 173.7L163.0 174.5L161.2 175.3L159.4 176.0L157.5 176.7L155.7 177.3L153.8 177.9L151.9 178.4L150.0 178.8L148.1 179.2L146.2 179.6L144.2 179.9L142.3 180.3L140.4 180.6L138.5 181.0L136.5 181.3L134.6 181.7L132.7 182.0L130.8 182.3L128.8 182.6L126.9 182.9L125.0 183.2L123.0 183.4L121.1 183.7L119.1 183.9L117.2 184.2L115.3 184.5L113.3 184.8L111.4 185.1L109.5 185.5L107.6 186.0L105.7 186.5L103.8 187.0L102.0 187.6L100.1 188.2L98.3 188.9" fill="none" stroke="#ffa500" stroke-opacity="0.15" stroke-width="12.0" stroke-linejoin="round"/>
<path d="M272.0 16.5L270.7 17.9L269.3 19.3L267.9 20.7L266.5 22.0L265.0 23.4L263.6 24.7L262.1 26.0L260.7 27.3L259.2 28.6L257.8 30.0L256.4 31.3L255.0 32.7L253.7 34.1L252.3 35.5L251.0 37.0L249.8 38.5L248.5 40.0L247.3 41.5L246.1 43.0L244.9 44.5L243.7 46.1L242.5 47.6L241.3 49.2L240.1 50.7L238.9 52.3L237.7 53.8L236.5 55.4L235.3 56.9L234.1 58.5L232.9 60.0L231.7 61.6L230.5 63.1L229.3 64.7L228.2 66.2L227.0 67.8L225.9 69.4L224.7 71.0L223.6 72.6L222.5 74.2L221.4 75.8L220.3 77.5L219.3 79.1L218.3 80.8L217.2 82.5L216.3 84.1L215.3 85.8L214.4 87.6L213.5 89.3L212.6 91.0L211.7 92.8L210.8 94.5L210.0 96.3L209.1 98.1L208.3 99.8L207.5 101.6L206.7 103.4L205.9 105.2L205.1 107.0L204.3 108.8L203.5 110.5L202.7 112.3L201.9 114.1L201.1 115.9L200.2 117.6L199.3 119.4L198.4 121.1L197.5 122.8L196.6 124.6L195.7 126.3L194.8 128.1L194.0 129.8L193.3 131.6L192.6 133.5L192.0 135.3L191.5 137.2L190.9 139.1L190.3 141.0L189.7 142.8L189.0 144.6L188.3 146.5L187.5 148.2L186.7 150.0L185.9 151.8L185.1 153.6L184.3 155.4L183.4 157.1L182.4 158.8L181.3 160.4L180.2 162.0L178.9 163.5L177.6 165.0L176.2 166.4L174.8 167.7L173.2 168.9L171.6 170.1L170.0 171.1L168.3 172.1L166.5 172.9L164.8 173.7L163.0 174.5L161.2 175.3L159.4 176.0L157.5 176.7L155.7 177.3L153.8 177.9L151.9 178.4L150.0 178.8L148.1 179.2L146.2 179.6L144.2 179.9L142.3 180.3L140.4 180.6L138.5 181.0L136.5 181.3L134.6 181.7L132.7 182.0L130.8 182.3L128.8 182.6L126.9 182.9L125.0 183.2L123.0 183.4L121.1 183.7L119.1 183.9L117.2 184.2L115.3 184.5L113.3 184.8L111.4 185.1L109.5 185.5L107.6 186.0" fill="none" stroke="#ffa500" stroke-opacity="0.15" stroke-width="12.0" stroke-linejoin="round"/>
<path d="M272.0 16.5L270.7 17.9L269.3 19.3L267.9 20.7L266.5 22.0L265.0 23.4L263.6 24.7L262.1 26.0L260.7 27.3L259.2 28.6L257.8 30.0L256.4 31.3L255.0 32.7L253.7 34.1L252.3 35.5L251.0 37.0L249.8 38.5L248.5 40.0L247.3 41.5L246.1 43.0L244.9 44.5L243.7 46.1L242.5 47.6L241.3 49.2L240.1 50.7L238.9 52.3L237.7 53.8L236.5 55.4L235.3 56.9L234.1 58.5L232.9 60.0L231.7 61.6L230.5 63.1L229.3 64.7L228.2 66.2L227.0 67.8L225.9 69.4L224.7 71.0L223.6 72.6L222.5 74.2L221.4 75.8L220.3 77.5L219.3 79.1L218.3 80.8L217.2 82.5L216.3 84.1L215.3 85.8L214.4 87.6L213.5 89.3L212.6 91.0L211.7 92.8L210.8 94.5L210.0 96.3L209.1 98.1L208.3 99.8L207.5 101.6L206.7 103.4L205.9 105.2L205.1 107.0L204.3 108.8L203.5 110.5L202.7 112.3L201.9 114.1L201.1 115.9L200.2 117.6L199.3 119.4L198.4 121.1L197.5 122.8L196.6 124.6L195.7 126.3L194.8 128.1L194.0 129.8L193.3 131.6L192.6 133.5L192.0 135.3L191.5 137.2L190.9 139.1L190.3 141.0L189.7 142.8L189.0 144.6L188.3 146.5L187.5 148.2L186.7 150.0L185.9 151.8L185.1 153.6L184.3 155.4L183.4 157.1L182.4 158.8L181.3 160.4L180.2 162.0L178.9 163.5L177.6 165.0L176.2 166.4L174.8 167.7L173.2 168.9L171.6 170.1L170.0 171.1L168.3 172.1L166.5 172.9L164.8 173.7L163.0 174.5L161.2 175.3L159.4 176.0L157.5 176.7L155.7 177.3L153.8 177.9L151.9 178.4L150.0 178.8L148.1 179.2L146.2 179.6L144.2 179.9L142.3 180.3L140.4 180.6L138.5 181.0L136.5 181.3L134.6 181.7L132.7 182.0L130.8 182.3L128.8 182.6L126.9 182.9L125.0 183.2L123.0 183.4L121.1 183.7L119.1 183.9L117.2 184.2" fill="none" stroke="#ffa500" stroke-opacity="0.15" stroke-width="12.0" stroke-linejoin="round"/>
<path d="M275.6 19.8L273.7 21.8L271.8 23.8L269.8 25.6L267.9 27.4L265.9 29.2L264.0 30.9L262.1 32.7L260.3 34.4L258.5 36.1L256.8 37.9L255.2 39.7L253.5 41.6L251.9 43.6L250.3 45.5L248.7 47.6L247.1 49.6L245.5 51.7L243.9 53.7L242.3 55.8L240.7 57.9L239.1 59.9L237.5 62.0L236.0 64.0L234.4 66.1L232.9 68.1L231.3 70.2L229.8 72.3L228.4 74.3L226.9 76.4L225.5 78.5L224.1 80.7L222.8 82.8L221.5 84.9L220.2 87.1L219.0 89.3L217.8 91.6L216.6 93.8L215.5 96.1L214.4 98.4L213.3 100.7L212.2 103.1L211.2 105.4L210.1 107.8L209.1 110.2L208.0 112.6L206.9 115.0L205.8 117.4L204.6 119.8L203.4 122.2L202.1 124.6L200.9 126.9L199.8 129.1L198.7 131.3L197.8 133.4L197.1 135.6L196.3 138.0L195.6 140.5L194.8 143.1L193.8 145.8L192.8 148.4L191.7 150.8L190.6 153.2L189.5 155.7L188.3 158.2L187.0 160.7L185.4 163.2L183.6 165.6L181.6 167.8L179.6 169.9L177.4 171.9L175.0 173.7L172.5 175.3L169.9 176.7L167.4 177.9L164.9 179.0L162.4 180.1L159.8 181.1L157.1 182.0L154.4 182.8L151.7 183.4L149.0 184.0L146.4 184.5L143.8 185.0L141.3 185.4L138.7 185.9L136.1 186.4L133.5 186.8L130.9 187.2L128.2 187.6L125.6 188.0L123.0 188.3L120.4 188.7L117.9 189.0L115.4 189.4L112.9 189.8L110.5 190.2L108.1 190.8L105.8 191.4L103.4 192.1L101.1 192.8L98.8 193.7L96.6 194.6L94.4 195.6L92.4 196.7L90.4 198.0L88.6 199.4L86.9 200.9L85.5 202.5L84.3 204.2L83.4 206.1L82.6 208.1L82.0 210.2L81.6 212.3L81.3 214.3L81.3 216.3L81.5 218.1L81.9 220.1L82.5 222.0L83.2 224.0L84.2 226.0L85.2 228.1L86.4 230.1L87.8 232.1L89.2 234.1L90.7 236.0L92.2 237.9L93.9 239.8L95.6 241.6L97.4 243.3L99.3 245.1L101.2 246.7L103.2 248.4L105.2 250.0L107.2 251.7L109.2 253.3L111.3 254.9L113.3 256.5L115.4 258.0L117.5 259.6L119.5 261.1L121.6 262.6L123.8 264.0L125.9 265.5L128.0 266.9L130.2 268.2L132.4 269.6L134.6 270.9L136.9 272.3L139.1 273.7" fill="none" stroke="#ffa200" stroke-opacity="0.17" stroke-width="3" stroke-linejoin="round"/>
<path d="M274.9 19.1L273.0 21.1L271.1 23.1L269.2 24.9L267.2 26.7L265.3 28.5L263.3 30.2L261.4 31.9L259.6 33.7L257.8 35.4L256.1 37.2L254.4 39.1L252.8 41.0L251.1 42.9L249.5 44.9L247.9 47.0L246.4 49.0L244.8 51.1L243.1 53.1L241.5 55.2L239.9 57.3L238.4 59.3L236.8 61.4L235.2 63.4L233.6 65.5L232.1 67.5L230.6 69.6L229.0 71.7L227.6 73.8L226.1 75.9L224.7 78.0L223.3 80.1L221.9 82.3L220.6 84.4L219.4 86.6L218.1 88.9L216.9 91.1L215.8 93.4L214.6 95.7L213.5 98.0L212.4 100.3L211.3 102.7L210.3 105.0L209.2 107.4L208.2 109.8L207.1 112.2L206.0 114.6L204.9 117.0L203.7 119.4L202.5 121.8L201.3 124.1L200.0 126.4L198.9 128.6L197.8 130.9L196.9 133.0L196.1 135.3L195.4 137.7L194.7 140.2L193.9 142.8L192.9 145.5L191.9 148.0L190.8 150.4L189.7 152.8L188.7 155.2L187.5 157.7L186.1 160.2L184.5 162.7L182.8 165.0L180.9 167.2L178.9 169.2L176.8 171.1L174.5 172.9L172.0 174.5L169.5 175.9L167.0 177.1L164.5 178.1L162.0 179.2L159.5 180.2L156.8 181.1L154.2 181.8L151.5 182.5L148.8 183.0L146.2 183.5L143.7 184.0L141.1 184.5L138.5 184.9L135.9 185.4L133.3 185.9L130.7 186.3L128.1 186.7L125.5 187.0L122.9 187.4L120.3 187.7L117.8 188.0L115.2 188.4L112.8 188.8L110.3 189.3L107.9 189.9L105.5 190.5L103.1 191.2L100.8 192.0L98.5 192.8L96.2 193.7L94.0 194.8L91.9 195.9L89.9 197.2L88.0 198.7L86.3 200.2L84.8 201.9L83.5 203.7L82.5 205.6L81.7 207.7L81.0 209.8L80.5 212.0L80.2 214.2L80.2 216.3L80.4 218.3L80.8 220.3L81.4 222.4L82.3 224.5L83.2 226.6L84.4 228.6L85.6 230.7L87.0 232.7L88.5 234.7L90.0 236.6L91.6 238.5L93.3 240.4L95.1 242.2L96.9 243.9L98.8 245.6L100.7 247.3L102.7 249.0L104.7 250.6L106.8 252.2L108.8 253.8L110.9 255.4L112.9 257.0L115.0 258.5L117.1 260.1L119.2 261.6L121.3 263.1L123.4 264.6L125.5 266.0L127.7 267.4L129.9 268.8L132.1 270.1L134.3 271.5L136.5 272.9L138.8 274.3" fill="none" stroke="#ffa200" stroke-opacity="0.21" stroke-width="3" stroke-linejoin="round"/>
<path d="M274.2 18.5L272.3 20.4L270.4 22.4L268.5 24.2L266.5 26.0L264.6 27.7L262.7 29.5L260.8 31.2L258.9 33.0L257.1 34.7L255.4 36.6L253.7 38.4L252.0 40.4L250.4 42.3L248.8 44.3L247.2 46.4L245.6 48.4L244.0 50.5L242.4 52.5L240.8 54.6L239.2 56.7L237.6 58.7L236.0 60.8L234.4 62.8L232.8 64.9L231.3 67.0L229.8 69.0L228.2 71.1L226.8 73.2L225.3 75.3L223.9 77.5L222.5 79.6L221.1 81.8L219.8 84.0L218.5 86.2L217.3 88.4L216.1 90.7L214.9 92.9L213.7 95.2L212.6 97.6L211.5 99.9L210.5 102.2L209.4 104.6L208.3 107.0L207.3 109.4L206.2 111.8L205.1 114.1L204.0 116.5L202.8 118.9L201.6 121.3L200.4 123.7L199.2 125.9L198.0 128.2L196.9 130.5L196.0 132.7L195.2 135.0L194.5 137.4L193.7 139.9L192.9 142.5L192.0 145.1L191.0 147.6L189.9 150.0L188.8 152.4L187.8 154.8L186.6 157.3L185.3 159.7L183.7 162.1L182.0 164.4L180.2 166.5L178.2 168.5L176.1 170.4L173.9 172.1L171.5 173.6L169.0 175.0L166.6 176.2L164.1 177.2L161.7 178.3L159.1 179.3L156.5 180.1L153.9 180.9L151.3 181.5L148.6 182.1L146.0 182.6L143.5 183.0L140.9 183.5L138.3 184.0L135.8 184.4L133.2 184.9L130.6 185.3L128.0 185.7L125.3 186.1L122.7 186.4L120.2 186.7L117.6 187.1L115.1 187.4L112.6 187.9L110.1 188.4L107.7 188.9L105.2 189.6L102.8 190.3L100.5 191.1L98.1 192.0L95.8 192.9L93.6 194.0L91.4 195.2L89.4 196.5L87.4 198.0L85.7 199.5L84.1 201.3L82.8 203.1L81.6 205.2L80.7 207.3L80.0 209.5L79.5 211.8L79.2 214.1L79.1 216.3L79.3 218.4L79.7 220.6L80.4 222.8L81.3 225.0L82.3 227.1L83.5 229.2L84.8 231.3L86.2 233.3L87.8 235.3L89.3 237.2L91.0 239.1L92.8 241.0L94.6 242.8L96.4 244.5L98.3 246.2L100.3 247.9L102.3 249.5L104.3 251.1L106.4 252.7L108.4 254.3L110.5 255.9L112.5 257.5L114.6 259.1L116.7 260.6L118.8 262.1L120.9 263.6L123.0 265.1L125.2 266.5L127.3 267.9L129.5 269.3L131.7 270.7L134.0 272.0L136.2 273.4L138.4 274.8" fill="none" stroke="#ffa200" stroke-opacity="0.24" stroke-width="3" stroke-linejoin="round"/>
<path d="M273.4 17.8L271.6 19.8L269.7 21.6L267.8 23.5L265.9 25.3L263.9 27.0L262.0 28.8L260.1 30.5L258.2 32.3L256.4 34.1L254.7 35.9L252.9 37.8L251.3 39.7L249.6 41.7L248.0 43.7L246.4 45.8L244.8 47.8L243.2 49.9L241.6 51.9L240.0 54.0L238.4 56.1L236.8 58.1L235.2 60.2L233.6 62.2L232.1 64.3L230.5 66.4L229.0 68.5L227.4 70.5L226.0 72.7L224.5 74.8L223.0 76.9L221.6 79.1L220.3 81.3L218.9 83.5L217.6 85.7L216.4 87.9L215.2 90.2L214.0 92.5L212.9 94.8L211.7 97.1L210.6 99.5L209.6 101.8L208.5 104.2L207.4 106.6L206.4 109.0L205.3 111.4L204.2 113.7L203.1 116.1L202.0 118.5L200.8 120.9L199.5 123.2L198.3 125.5L197.1 127.8L196.0 130.1L195.1 132.3L194.3 134.7L193.5 137.1L192.8 139.7L192.0 142.2L191.1 144.7L190.1 147.2L189.0 149.6L188.0 152.0L186.9 154.4L185.7 156.8L184.4 159.2L182.9 161.6L181.3 163.8L179.5 165.8L177.6 167.8L175.5 169.6L173.3 171.3L171.0 172.8L168.6 174.1L166.2 175.3L163.7 176.3L161.3 177.4L158.8 178.3L156.3 179.2L153.7 179.9L151.1 180.6L148.5 181.1L145.9 181.6L143.3 182.1L140.7 182.5L138.2 183.0L135.6 183.5L133.0 183.9L130.4 184.3L127.8 184.7L125.2 185.1L122.6 185.4L120.0 185.8L117.5 186.1L114.9 186.5L112.4 186.9L109.9 187.4L107.4 188.0L105.0 188.6L102.5 189.4L100.1 190.2L97.8 191.1L95.4 192.1L93.2 193.2L91.0 194.4L88.9 195.8L86.9 197.2L85.0 198.9L83.4 200.7L82.0 202.6L80.8 204.7L79.8 206.9L79.0 209.2L78.4 211.6L78.1 214.0L78.0 216.3L78.2 218.6L78.6 220.9L79.4 223.2L80.3 225.4L81.4 227.6L82.6 229.8L84.0 231.9L85.5 233.9L87.0 235.9L88.7 237.9L90.4 239.7L92.2 241.6L94.0 243.4L95.9 245.1L97.9 246.8L99.8 248.4L101.9 250.1L103.9 251.7L106.0 253.3L108.0 254.9L110.1 256.5L112.1 258.0L114.2 259.6L116.3 261.1L118.4 262.6L120.5 264.1L122.7 265.6L124.8 267.1L127.0 268.5L129.2 269.8L131.4 271.2L133.6 272.6L135.8 273.9L138.1 275.3" fill="none" stroke="#ffa200" stroke-opacity="0.28" stroke-width="3" stroke-linejoin="round"/>
<path d="M272.7 17.2L270.9 19.1L269.1 20.9L267.2 22.8L265.2 24.5L263.3 26.3L261.4 28.0L259.4 29.8L257.6 31.6L255.7 33.4L253.9 35.2L252.2 37.1L250.5 39.1L248.9 41.1L247.2 43.1L245.6 45.1L244.0 47.2L242.4 49.3L240.8 51.3L239.2 53.4L237.6 55.5L236.0 57.5L234.4 59.6L232.9 61.6L231.3 63.7L229.7 65.8L228.2 67.9L226.7 70.0L225.1 72.1L223.7 74.2L222.2 76.4L220.8 78.5L219.4 80.7L218.1 83.0L216.8 85.2L215.5 87.5L214.3 89.7L213.1 92.1L212.0 94.4L210.9 96.7L209.8 99.1L208.7 101.4L207.6 103.8L206.5 106.2L205.5 108.6L204.4 110.9L203.3 113.3L202.2 115.7L201.1 118.1L199.9 120.4L198.7 122.7L197.4 125.0L196.3 127.3L195.2 129.6L194.2 132.0L193.3 134.4L192.6 136.9L191.9 139.4L191.1 141.9L190.2 144.4L189.2 146.8L188.1 149.2L187.1 151.6L186.0 154.0L184.8 156.4L183.6 158.7L182.1 161.0L180.5 163.1L178.8 165.2L176.9 167.1L174.9 168.9L172.7 170.5L170.5 172.0L168.2 173.2L165.8 174.4L163.4 175.4L160.9 176.5L158.5 177.4L156.0 178.3L153.4 179.0L150.8 179.6L148.3 180.2L145.7 180.6L143.1 181.1L140.6 181.6L138.0 182.1L135.4 182.5L132.9 183.0L130.3 183.4L127.7 183.8L125.1 184.1L122.5 184.5L119.9 184.8L117.3 185.1L114.8 185.5L112.2 186.0L109.7 186.5L107.2 187.1L104.7 187.7L102.2 188.5L99.8 189.3L97.4 190.2L95.1 191.3L92.7 192.4L90.5 193.6L88.4 195.0L86.3 196.5L84.4 198.2L82.7 200.1L81.2 202.1L79.9 204.2L78.8 206.5L78.0 208.9L77.4 211.4L77.0 213.8L76.9 216.3L77.1 218.8L77.6 221.2L78.3 223.6L79.3 225.9L80.5 228.2L81.8 230.3L83.2 232.5L84.7 234.5L86.3 236.5L88.0 238.5L89.8 240.4L91.6 242.2L93.5 244.0L95.4 245.7L97.4 247.4L99.4 249.0L101.4 250.6L103.5 252.2L105.5 253.8L107.6 255.4L109.7 257.0L111.8 258.6L113.8 260.1L115.9 261.7L118.0 263.2L120.2 264.7L122.3 266.2L124.5 267.6L126.6 269.0L128.8 270.4L131.1 271.8L133.3 273.1L135.5 274.5L137.7 275.9" fill="none" stroke="#ffa200" stroke-opacity="0.31" stroke-width="3" stroke-linejoin="round"/>
<path d="M272.0 16.5L270.2 18.4L268.4 20.2L266.5 22.0L264.6 23.8L262.6 25.6L260.7 27.3L258.8 29.1L256.9 30.8L255.0 32.7L253.2 34.6L251.5 36.5L249.8 38.5L248.1 40.5L246.5 42.5L244.9 44.5L243.3 46.6L241.7 48.7L240.1 50.7L238.5 52.8L236.9 54.9L235.3 56.9L233.7 59.0L232.1 61.0L230.5 63.1L228.9 65.2L227.4 67.3L225.9 69.4L224.3 71.5L222.9 73.7L221.4 75.8L220.0 78.0L218.6 80.2L217.2 82.5L215.9 84.7L214.7 87.0L213.5 89.3L212.3 91.6L211.1 93.9L210.0 96.3L208.9 98.7L207.8 101.0L206.7 103.4L205.6 105.8L204.6 108.2L203.5 110.5L202.4 112.9L201.3 115.3L200.2 117.6L199.0 120.0L197.8 122.3L196.6 124.6L195.4 126.9L194.3 129.2L193.3 131.6L192.4 134.1L191.6 136.6L190.9 139.1L190.1 141.6L189.3 144.0L188.3 146.5L187.2 148.8L186.2 151.2L185.1 153.6L184.0 156.0L182.7 158.2L181.3 160.4L179.8 162.5L178.1 164.5L176.2 166.4L174.3 168.1L172.2 169.7L170.0 171.1L167.7 172.4L165.4 173.5L163.0 174.5L160.6 175.5L158.1 176.5L155.7 177.3L153.2 178.0L150.6 178.7L148.1 179.2L145.5 179.7L142.9 180.1L140.4 180.6L137.8 181.1L135.3 181.5L132.7 182.0L130.1 182.4L127.5 182.8L125.0 183.2L122.4 183.5L119.8 183.8L117.2 184.2L114.6 184.6L112.1 185.0L109.5 185.5L107.0 186.1L104.4 186.8L102.0 187.6L99.5 188.4L97.1 189.4L94.7 190.4L92.3 191.6L90.0 192.9L87.8 194.3L85.7 195.8L83.8 197.6L82.0 199.4L80.4 201.5L79.0 203.7L77.9 206.1L77.0 208.6L76.3 211.1L75.9 213.7L75.8 216.3L76.0 218.9L76.5 221.5L77.3 224.0L78.3 226.4L79.5 228.7L80.9 230.9L82.4 233.1L84.0 235.1L85.6 237.1L87.4 239.1L89.2 241.0L91.0 242.8L92.9 244.6L94.9 246.3L96.9 248.0L98.9 249.6L101.0 251.2L103.1 252.8L105.1 254.4L107.2 255.9L109.3 257.5L111.4 259.1L113.5 260.6L115.6 262.2L117.7 263.7L119.8 265.2L121.9 266.7L124.1 268.1L126.3 269.6L128.5 270.9L130.7 272.3L133.0 273.7L135.2 275.0L137.4 276.4" fill="none" stroke="#ffa200" stroke-opacity="0.35" stroke-width="3" stroke-linejoin="round"/>
<path d="M271.3 15.8L269.5 17.7L267.7 19.5L265.8 21.3L263.9 23.1L262.0 24.8L260.0 26.6L258.1 28.3L256.2 30.1L254.3 32.0L252.5 33.9L250.7 35.8L249.0 37.8L247.4 39.8L245.7 41.9L244.1 43.9L242.5 46.0L240.9 48.1L239.3 50.1L237.7 52.2L236.1 54.2L234.5 56.3L232.9 58.4L231.3 60.4L229.7 62.5L228.2 64.6L226.6 66.7L225.1 68.8L223.5 71.0L222.1 73.1L220.6 75.3L219.2 77.5L217.8 79.7L216.4 82.0L215.1 84.2L213.8 86.5L212.6 88.8L211.4 91.2L210.2 93.5L209.1 95.9L208.0 98.2L206.9 100.6L205.8 103.0L204.7 105.4L203.7 107.8L202.6 110.1L201.5 112.5L200.4 114.9L199.3 117.2L198.2 119.5L196.9 121.8L195.7 124.1L194.5 126.5L193.4 128.8L192.3 131.3L191.5 133.8L190.7 136.3L190.0 138.8L189.2 141.3L188.4 143.7L187.4 146.1L186.3 148.4L185.3 150.8L184.2 153.2L183.1 155.5L181.9 157.8L180.5 159.9L179.0 161.9L177.3 163.8L175.5 165.7L173.6 167.4L171.6 168.9L169.5 170.3L167.3 171.5L165.0 172.6L162.6 173.6L160.2 174.6L157.8 175.6L155.4 176.4L152.9 177.1L150.4 177.7L147.9 178.2L145.3 178.7L142.8 179.2L140.2 179.7L137.6 180.1L135.1 180.6L132.5 181.0L130.0 181.4L127.4 181.8L124.8 182.2L122.2 182.5L119.7 182.9L117.1 183.2L114.5 183.6L111.9 184.1L109.3 184.6L106.7 185.2L104.2 185.9L101.7 186.7L99.2 187.5L96.7 188.5L94.3 189.5L91.9 190.7L89.5 192.0L87.2 193.4L85.0 195.0L82.9 196.7L81.0 198.6L79.2 200.8L77.7 203.1L76.5 205.5L75.5 208.1L74.7 210.8L74.2 213.5L74.0 216.3L74.2 219.2L74.8 221.9L75.6 224.6L76.7 227.1L78.0 229.5L79.5 231.8L81.1 234.0L82.8 236.1L84.6 238.1L86.4 240.0L88.3 241.8L90.2 243.6L92.2 245.4L94.2 247.1L96.3 248.7L98.4 250.3L100.4 251.9L102.5 253.5L104.6 255.0L106.7 256.6L108.8 258.1L110.9 259.7L113.0 261.3L115.1 262.8L117.2 264.3L119.4 265.8L121.5 267.3L123.7 268.8L125.9 270.2L128.1 271.6L130.3 272.9L132.6 274.3L134.8 275.7L137.0 277.0" fill="none" stroke="#ffa200" stroke-opacity="0.31" stroke-width="3" stroke-linejoin="round"/>
<path d="M270.6 15.2L268.8 17.0L267.0 18.8L265.1 20.6L263.2 22.4L261.3 24.1L259.4 25.8L257.4 27.6L255.5 29.4L253.6 31.3L251.8 33.2L250.0 35.2L248.3 37.2L246.6 39.2L244.9 41.3L243.3 43.3L241.7 45.4L240.1 47.5L238.5 49.5L236.9 51.6L235.3 53.6L233.7 55.7L232.1 57.8L230.5 59.8L228.9 61.9L227.4 64.0L225.8 66.1L224.3 68.3L222.7 70.4L221.2 72.6L219.8 74.8L218.3 77.0L216.9 79.2L215.6 81.5L214.2 83.7L213.0 86.1L211.7 88.4L210.5 90.7L209.3 93.1L208.2 95.5L207.1 97.8L206.0 100.2L204.9 102.6L203.8 105.0L202.8 107.4L201.7 109.7L200.7 112.1L199.6 114.4L198.4 116.8L197.3 119.1L196.1 121.3L194.8 123.7L193.6 126.0L192.5 128.4L191.4 130.9L190.5 133.5L189.8 136.0L189.0 138.5L188.3 141.0L187.4 143.3L186.5 145.7L185.4 148.0L184.4 150.4L183.3 152.8L182.2 155.1L181.0 157.3L179.7 159.3L178.2 161.3L176.6 163.2L174.9 165.0L173.0 166.6L171.0 168.1L169.0 169.4L166.8 170.6L164.5 171.7L162.2 172.7L159.8 173.7L157.5 174.7L155.1 175.5L152.7 176.2L150.2 176.8L147.7 177.3L145.2 177.8L142.6 178.2L140.0 178.7L137.5 179.2L134.9 179.6L132.4 180.1L129.8 180.5L127.3 180.9L124.7 181.2L122.1 181.5L119.5 181.9L116.9 182.2L114.3 182.6L111.7 183.1L109.1 183.6L106.5 184.3L103.9 185.0L101.4 185.8L98.8 186.6L96.3 187.6L93.8 188.7L91.4 189.8L89.0 191.1L86.6 192.5L84.3 194.1L82.1 195.8L80.0 197.8L78.1 200.0L76.5 202.4L75.1 204.9L73.9 207.6L73.0 210.4L72.4 213.3L72.2 216.4L72.4 219.4L73.0 222.4L74.0 225.2L75.2 227.9L76.6 230.4L78.1 232.7L79.8 234.9L81.6 237.0L83.5 239.0L85.4 240.9L87.4 242.7L89.4 244.5L91.5 246.2L93.6 247.9L95.7 249.5L97.8 251.0L99.9 252.6L102.0 254.1L104.1 255.7L106.2 257.2L108.3 258.8L110.4 260.3L112.5 261.9L114.7 263.4L116.8 264.9L118.9 266.4L121.1 267.9L123.3 269.4L125.5 270.8L127.7 272.2L130.0 273.6L132.2 274.9L134.4 276.3L136.6 277.7" fill="none" stroke="#ffa200" stroke-opacity="0.28" stroke-width="3" stroke-linejoin="round"/>
<path d="M269.8 14.5L268.1 16.4L266.3 18.1L264.5 19.9L262.6 21.6L260.7 23.4L258.7 25.1L256.8 26.9L254.8 28.7L252.9 30.6L251.1 32.6L249.3 34.5L247.5 36.6L245.8 38.6L244.2 40.7L242.5 42.7L240.9 44.8L239.3 46.9L237.7 48.9L236.1 51.0L234.5 53.0L232.9 55.1L231.3 57.2L229.7 59.3L228.2 61.3L226.6 63.4L225.0 65.6L223.5 67.7L221.9 69.8L220.4 72.0L219.0 74.2L217.5 76.4L216.1 78.7L214.7 81.0L213.4 83.3L212.1 85.6L210.8 87.9L209.6 90.3L208.5 92.7L207.3 95.0L206.2 97.4L205.1 99.8L204.0 102.2L203.0 104.6L201.9 107.0L200.8 109.3L199.8 111.7L198.7 114.0L197.6 116.3L196.4 118.6L195.2 120.9L194.0 123.2L192.8 125.6L191.6 128.0L190.5 130.6L189.6 133.2L188.8 135.8L188.1 138.3L187.3 140.7L186.5 143.0L185.6 145.3L184.6 147.6L183.5 150.0L182.4 152.4L181.3 154.6L180.2 156.8L178.9 158.8L177.5 160.7L175.9 162.5L174.2 164.2L172.4 165.8L170.5 167.3L168.5 168.6L166.4 169.7L164.1 170.8L161.8 171.8L159.4 172.8L157.1 173.7L154.8 174.5L152.4 175.2L150.0 175.8L147.5 176.3L145.0 176.8L142.4 177.3L139.9 177.7L137.3 178.2L134.7 178.7L132.2 179.1L129.7 179.5L127.1 179.9L124.6 180.2L122.0 180.6L119.4 180.9L116.8 181.3L114.2 181.7L111.5 182.1L108.9 182.7L106.3 183.3L103.6 184.0L101.1 184.8L98.5 185.7L96.0 186.7L93.4 187.8L90.9 189.0L88.5 190.2L86.0 191.7L83.6 193.2L81.3 195.0L79.1 197.0L77.0 199.2L75.2 201.7L73.6 204.3L72.4 207.1L71.4 210.1L70.7 213.2L70.4 216.4L70.6 219.7L71.3 222.9L72.3 225.9L73.6 228.6L75.1 231.2L76.8 233.6L78.6 235.8L80.5 237.9L82.4 239.9L84.4 241.8L86.5 243.6L88.6 245.3L90.7 247.0L92.9 248.7L95.0 250.2L97.2 251.8L99.4 253.3L101.5 254.8L103.6 256.3L105.7 257.9L107.9 259.4L110.0 260.9L112.1 262.5L114.2 264.0L116.4 265.5L118.5 267.0L120.7 268.5L122.9 270.0L125.1 271.4L127.3 272.8L129.6 274.2L131.8 275.6L134.0 276.9L136.2 278.3" fill="none" stroke="#ffa200" stroke-opacity="0.24" stroke-width="3" stroke-linejoin="round"/>
<path d="M269.1 13.9L267.4 15.7L265.6 17.4L263.8 19.2L261.9 20.9L260.0 22.6L258.1 24.4L256.1 26.2L254.2 28.0L252.2 29.9L250.4 31.9L248.5 33.9L246.8 35.9L245.1 38.0L243.4 40.1L241.8 42.1L240.2 44.2L238.6 46.3L237.0 48.3L235.4 50.4L233.8 52.4L232.2 54.5L230.6 56.6L229.0 58.7L227.4 60.8L225.8 62.9L224.2 65.0L222.7 67.1L221.1 69.3L219.6 71.5L218.1 73.7L216.7 75.9L215.3 78.2L213.9 80.5L212.5 82.8L211.2 85.1L210.0 87.5L208.8 89.8L207.6 92.2L206.4 94.6L205.3 97.0L204.2 99.4L203.1 101.8L202.1 104.2L201.0 106.6L199.9 108.9L198.9 111.3L197.8 113.6L196.7 115.9L195.5 118.2L194.3 120.4L193.1 122.7L191.9 125.1L190.7 127.6L189.6 130.2L188.7 132.9L187.9 135.5L187.2 138.0L186.4 140.4L185.6 142.6L184.7 144.9L183.7 147.2L182.6 149.6L181.5 152.0L180.5 154.2L179.3 156.3L178.1 158.2L176.7 160.1L175.2 161.8L173.5 163.5L171.8 165.1L169.9 166.5L168.0 167.7L166.0 168.9L163.7 169.9L161.4 170.9L159.1 171.9L156.8 172.8L154.5 173.6L152.2 174.3L149.8 174.8L147.3 175.3L144.8 175.8L142.2 176.3L139.7 176.8L137.1 177.2L134.6 177.7L132.0 178.1L129.5 178.5L127.0 178.9L124.4 179.3L121.9 179.6L119.3 180.0L116.6 180.3L114.0 180.7L111.3 181.2L108.7 181.7L106.0 182.4L103.4 183.1L100.8 183.9L98.2 184.8L95.6 185.8L93.0 186.9L90.5 188.1L88.0 189.4L85.4 190.8L82.9 192.4L80.5 194.1L78.1 196.1L75.9 198.5L73.9 201.0L72.2 203.8L70.8 206.7L69.7 209.7L69.0 213.0L68.7 216.4L68.8 219.9L69.5 223.3L70.6 226.5L72.0 229.4L73.6 232.1L75.4 234.5L77.3 236.8L79.3 238.9L81.4 240.8L83.5 242.7L85.6 244.5L87.8 246.2L90.0 247.8L92.2 249.4L94.4 251.0L96.6 252.5L98.8 254.0L101.0 255.5L103.1 257.0L105.2 258.5L107.4 260.0L109.5 261.6L111.6 263.1L113.8 264.6L115.9 266.2L118.1 267.7L120.3 269.1L122.5 270.6L124.7 272.1L126.9 273.5L129.2 274.8L131.4 276.2L133.6 277.5L135.8 278.9" fill="none" stroke="#ffa200" stroke-opacity="0.21" stroke-width="3" stroke-linejoin="round"/>
<path d="M268.4 13.2L266.7 15.0L265.0 16.7L263.1 18.5L261.3 20.2L259.3 21.9L257.4 23.7L255.4 25.5L253.5 27.3L251.5 29.2L249.6 31.2L247.8 33.2L246.0 35.3L244.3 37.4L242.6 39.4L241.0 41.5L239.4 43.6L237.8 45.7L236.2 47.7L234.6 49.8L233.0 51.8L231.4 53.9L229.8 56.0L228.2 58.1L226.6 60.2L225.0 62.3L223.4 64.4L221.9 66.5L220.3 68.7L218.8 70.9L217.3 73.1L215.9 75.4L214.4 77.7L213.0 80.0L211.7 82.3L210.4 84.7L209.1 87.0L207.9 89.4L206.7 91.8L205.6 94.2L204.4 96.6L203.3 99.0L202.2 101.4L201.2 103.8L200.1 106.2L199.0 108.5L198.0 110.9L196.9 113.2L195.8 115.5L194.7 117.7L193.5 120.0L192.2 122.3L191.0 124.7L189.8 127.2L188.7 129.9L187.7 132.6L186.9 135.2L186.2 137.7L185.5 140.1L184.7 142.3L183.8 144.5L182.8 146.8L181.7 149.2L180.6 151.6L179.6 153.8L178.5 155.8L177.3 157.7L176.0 159.5L174.5 161.2L172.8 162.8L171.1 164.3L169.3 165.7L167.5 166.9L165.5 168.0L163.3 169.0L161.0 170.0L158.7 171.0L156.4 171.9L154.2 172.7L151.9 173.3L149.6 173.9L147.1 174.4L144.6 174.9L142.1 175.3L139.5 175.8L137.0 176.3L134.4 176.7L131.9 177.2L129.4 177.6L126.8 177.9L124.3 178.3L121.7 178.6L119.1 179.0L116.5 179.3L113.8 179.8L111.2 180.2L108.5 180.8L105.8 181.4L103.1 182.2L100.5 183.0L97.8 183.9L95.2 184.9L92.6 186.0L90.0 187.2L87.4 188.5L84.8 189.9L82.2 191.5L79.7 193.3L77.2 195.3L74.8 197.7L72.6 200.3L70.8 203.2L69.3 206.2L68.1 209.3L67.2 212.8L66.9 216.4L67.1 220.2L67.8 223.8L68.9 227.1L70.4 230.1L72.1 232.9L74.0 235.4L76.0 237.7L78.1 239.8L80.3 241.8L82.5 243.6L84.7 245.4L87.0 247.0L89.3 248.7L91.5 250.2L93.8 251.8L96.0 253.2L98.3 254.7L100.5 256.2L102.6 257.7L104.8 259.2L106.9 260.7L109.0 262.2L111.2 263.7L113.3 265.2L115.5 266.8L117.7 268.3L119.8 269.8L122.1 271.2L124.3 272.7L126.6 274.1L128.8 275.5L131.0 276.8L133.2 278.2L135.4 279.5" fill="none" stroke="#ffa200" stroke-opacity="0.17" stroke-width="3" stroke-linejoin="round"/>
<path d="M108.8 185.4L106.3 186.1L103.8 186.8L101.3 187.6L98.8 188.4L96.4 189.4L94.0 190.5L91.6 191.7L89.4 193.0L87.1 194.4L85.0 196.0L83.1 197.8L81.3 199.7L79.7 201.9L78.4 204.2L77.3 206.6L76.4 209.1L75.8 211.7L75.4 214.3L75.3 217.0L75.6 219.6L76.2 222.2L77.1 224.8L78.2 227.2L79.5 229.5L80.9 231.7L82.4 233.8L84.1 235.9L85.8 237.9L87.6 239.8L89.4 241.6L91.3 243.5L93.2 245.2L95.2 246.9L97.3 248.6L99.3 250.2L101.4 251.8L103.4 253.3L105.5 254.9L107.6 256.5L109.7 258.1L111.8 259.6L113.9 261.2L116.0 262.7L118.1 264.2L120.2 265.7L122.4 267.2L124.6 268.6L126.7 270.1L129.0 271.4L131.2 272.8L133.4 274.2L135.6 275.5L137.8 276.9" fill="none" stroke="#ffa200" stroke-opacity="0.33" stroke-width="2.6" stroke-linejoin="round"/>
<path d="M108.5 184.3L106.0 184.9L103.4 185.6L100.9 186.4L98.4 187.3L95.9 188.3L93.4 189.4L91.0 190.6L88.7 191.9L86.4 193.3L84.1 194.9L82.0 196.7L80.0 198.7L78.3 200.9L76.7 203.3L75.5 205.9L74.5 208.5L73.7 211.3L73.2 214.2L73.1 217.1L73.4 220.0L74.1 222.9L75.1 225.6L76.3 228.1L77.7 230.5L79.2 232.8L80.9 235.0L82.7 237.0L84.5 239.0L86.4 240.9L88.3 242.7L90.3 244.5L92.3 246.2L94.4 247.9L96.5 249.5L98.6 251.1L100.7 252.6L102.8 254.2L104.9 255.7L107.0 257.3L109.1 258.8L111.2 260.4L113.3 261.9L115.4 263.5L117.5 265.0L119.7 266.5L121.9 268.0L124.0 269.4L126.3 270.8L128.5 272.2L130.7 273.6L132.9 274.9L135.1 276.3L137.3 277.7" fill="none" stroke="#ffa200" stroke-opacity="0.33" stroke-width="2.6" stroke-linejoin="round"/>
<path d="M108.3 183.1L105.7 183.7L103.1 184.5L100.5 185.3L97.9 186.2L95.4 187.2L92.9 188.3L90.4 189.5L88.0 190.8L85.6 192.3L83.2 193.9L80.9 195.7L78.8 197.7L76.8 200.0L75.1 202.5L73.7 205.2L72.5 208.0L71.6 210.9L71.0 214.0L70.9 217.2L71.2 220.4L71.9 223.5L73.0 226.4L74.3 229.1L75.9 231.6L77.5 233.9L79.3 236.1L81.2 238.2L83.2 240.2L85.2 242.0L87.2 243.8L89.3 245.6L91.4 247.2L93.6 248.9L95.7 250.4L97.9 252.0L100.0 253.5L102.2 255.0L104.3 256.6L106.4 258.1L108.5 259.6L110.6 261.2L112.7 262.7L114.9 264.2L117.0 265.8L119.2 267.3L121.3 268.7L123.5 270.2L125.8 271.6L128.0 273.0L130.2 274.4L132.4 275.7L134.6 277.1L136.8 278.5" fill="none" stroke="#ffa200" stroke-opacity="0.33" stroke-width="2.6" stroke-linejoin="round"/>
<path d="M177.6 17.0L210.1 2.1L213.0 0.8" fill="none" stroke="#ffa200" stroke-opacity="0.40" stroke-width="8.5" stroke-linecap="round" stroke-linejoin="round"/>
<path d="M177.6 17.0L210.1 2.1L213.0 0.8" fill="none" stroke="#ffa200" stroke-opacity="0.50" stroke-width="6.5" stroke-linecap="round" stroke-linejoin="round"/>
<path d="M177.6 17.0L210.1 2.1L213.0 0.8" fill="none" stroke="#ffa200" stroke-opacity="0.60" stroke-width="4.5" stroke-linecap="round" stroke-linejoin="round"/>
<path d="M177.6 17.0L179.6 16.8L181.7 16.6L183.7 16.4L185.8 16.1L187.8 15.9L189.8 15.6L191.9 15.3L193.9 15.0L195.9 14.6L198.0 14.3L200.0 13.9L202.0 13.6L204.0 13.2L206.0 12.8L208.1 12.4L210.1 12.0L212.1 11.5L214.1 11.1L216.1 10.7L218.1 10.2L220.1 9.8L222.1 9.3L224.1 8.8L226.1 8.3L228.1 7.9L230.1 7.4L232.1 6.9L234.1 6.4L236.1 5.9L238.1 5.4L240.1 4.9L242.1 4.4L244.1 3.9L246.0 3.3L248.0 2.8L250.0 2.3L252.0 1.8L254.0 1.3L256.0 0.8" fill="none" stroke="#ffa200" stroke-opacity="0.40" stroke-width="8.5" stroke-linecap="round" stroke-linejoin="round"/>
<path d="M177.6 17.0L179.6 16.8L181.7 16.6L183.7 16.4L185.8 16.1L187.8 15.9L189.8 15.6L191.9 15.3L193.9 15.0L195.9 14.6L198.0 14.3L200.0 13.9L202.0 13.6L204.0 13.2L206.0 12.8L208.1 12.4L210.1 12.0L212.1 11.5L214.1 11.1L216.1 10.7L218.1 10.2L220.1 9.8L222.1 9.3L224.1 8.8L226.1 8.3L228.1 7.9L230.1 7.4L232.1 6.9L234.1 6.4L236.1 5.9L238.1 5.4L240.1 4.9L242.1 4.4L244.1 3.9L246.0 3.3L248.0 2.8L250.0 2.3L252.0 1.8L254.0 1.3L256.0 0.8" fill="none" stroke="#ffa200" stroke-opacity="0.50" stroke-width="6.5" stroke-linecap="round" stroke-linejoin="round"/>
<path d="M177.6 17.0L179.6 16.8L181.7 16.6L183.7 16.4L185.8 16.1L187.8 15.9L189.8 15.6L191.9 15.3L193.9 15.0L195.9 14.6L198.0 14.3L200.0 13.9L202.0 13.6L204.0 13.2L206.0 12.8L208.1 12.4L210.1 12.0L212.1 11.5L214.1 11.1L216.1 10.7L218.1 10.2L220.1 9.8L222.1 9.3L224.1 8.8L226.1 8.3L228.1 7.9L230.1 7.4L232.1 6.9L234.1 6.4L236.1 5.9L238.1 5.4L240.1 4.9L242.1 4.4L244.1 3.9L246.0 3.3L248.0 2.8L250.0 2.3L252.0 1.8L254.0 1.3L256.0 0.8" fill="none" stroke="#ffa200" stroke-opacity="0.60" stroke-width="4.5" stroke-linecap="round" stroke-linejoin="round"/>
<path d="M177.6 17.0L210.1 2.1L213.0 0.8" fill="none" stroke="#ff0000" stroke-width="2.1" stroke-linejoin="round"/>
<path d="M177.6 17.0L179.6 16.8L181.7 16.6L183.7 16.4L185.8 16.1L187.8 15.9L189.8 15.6L191.9 15.3L193.9 15.0L195.9 14.6L198.0 14.3L200.0 13.9L202.0 13.6L204.0 13.2L206.0 12.8L208.1 12.4L210.1 12.0L212.1 11.5L214.1 11.1L216.1 10.7L218.1 10.2L220.1 9.8L222.1 9.3L224.1 8.8L226.1 8.3L228.1 7.9L230.1 7.4L232.1 6.9L234.1 6.4L236.1 5.9L238.1 5.4L240.1 4.9L242.1 4.4L244.1 3.9L246.0 3.3L248.0 2.8L250.0 2.3L252.0 1.8L254.0 1.3L256.0 0.8" fill="none" stroke="#ff0000" stroke-width="2.1" stroke-linejoin="round"/>
<path d="M177.6 17L189 14.6L201 13.2" fill="none" stroke="#ff0000" stroke-width="1.6" stroke-linejoin="round"/>
<path d="M272.0 16.5L270.7 17.9L269.3 19.3L267.9 20.7L266.5 22.0L265.0 23.4L263.6 24.7L262.1 26.0L260.7 27.3L259.2 28.6L257.8 30.0L256.4 31.3L255.0 32.7L253.7 34.1L252.3 35.5L251.0 37.0L249.8 38.5L248.5 40.0L247.3 41.5L246.1 43.0L244.9 44.5L243.7 46.1L242.5 47.6L241.3 49.2L240.1 50.7L238.9 52.3L237.7 53.8L236.5 55.4L235.3 56.9L234.1 58.5L232.9 60.0L231.7 61.6L230.5 63.1L229.3 64.7L228.2 66.2L227.0 67.8L225.9 69.4L224.7 71.0L223.6 72.6L222.5 74.2L221.4 75.8L220.3 77.5L219.3 79.1L218.3 80.8L217.2 82.5L216.3 84.1L215.3 85.8L214.4 87.6L213.5 89.3L212.6 91.0L211.7 92.8L210.8 94.5L210.0 96.3L209.1 98.1L208.3 99.8L207.5 101.6L206.7 103.4L205.9 105.2L205.1 107.0L204.3 108.8L203.5 110.5L202.7 112.3L201.9 114.1L201.1 115.9L200.2 117.6L199.3 119.4L198.4 121.1L197.5 122.8L196.6 124.6L195.7 126.3L194.8 128.1L194.0 129.8L193.3 131.6L192.6 133.5L192.0 135.3L191.5 137.2L190.9 139.1L190.3 141.0L189.7 142.8L189.0 144.6L188.3 146.5L187.5 148.2L186.7 150.0L185.9 151.8L185.1 153.6L184.3 155.4L183.4 157.1L182.4 158.8L181.3 160.4L180.2 162.0L178.9 163.5L177.6 165.0L176.2 166.4L174.8 167.7L173.2 168.9L171.6 170.1L170.0 171.1L168.3 172.1L166.5 172.9L164.8 173.7L163.0 174.5L161.2 175.3L159.4 176.0L157.5 176.7L155.7 177.3L153.8 177.9L151.9 178.4L150.0 178.8L148.1 179.2L146.2 179.6L144.2 179.9L142.3 180.3L140.4 180.6L138.5 181.0L136.5 181.3L134.6 181.7L132.7 182.0L130.8 182.3L128.8 182.6L126.9 182.9L125.0 183.2L123.0 183.4L121.1 183.7L119.1 183.9L117.2 184.2L115.3 184.5L113.3 184.8L111.4 185.1L109.5 185.5L107.6 186.0L105.7 186.5L103.8 187.0L102.0 187.6L100.1 188.2L98.3 188.9L96.5 189.6L94.7 190.4L92.9 191.3L91.2 192.2L89.5 193.2L87.8 194.3L86.2 195.4L84.7 196.7L83.3 198.0L82.0 199.4L80.7 201.0L79.7 202.6L78.7 204.3L77.9 206.1L77.2 208.0L76.6 209.9L76.2 211.8L75.9 213.7L75.8 215.7L75.8 217.6L76.1 219.6L76.5 221.5L77.1 223.4L77.8 225.2L78.6 227.0L79.5 228.7L80.5 230.4L81.6 232.0L82.8 233.6L84.0 235.1L85.2 236.6L86.5 238.1L87.8 239.6L89.2 241.0L90.6 242.3L92.0 243.7L93.4 245.0L94.9 246.3L96.4 247.5L97.9 248.8L99.4 250.0L101.0 251.2L102.5 252.4L104.1 253.6L105.6 254.8L107.2 255.9L108.8 257.1L110.3 258.3L111.9 259.5L113.5 260.6L115.0 261.8L116.6 262.9L118.2 264.1L119.8 265.2L121.4 266.3L123.0 267.4L124.7 268.5L126.3 269.6L127.9 270.6L129.6 271.6L131.3 272.6L133.0 273.7L134.6 274.7L136.3 275.7L137.9 276.8" fill="none" stroke="#ff0000" stroke-width="2.1" stroke-linejoin="round"/>
</g>
<rect x="32.9" y="2.0" width="235.5" height="272.3" fill="none" stroke="#8c8c8c" stroke-width="1.1"/>
<path d="M32.9 51.9h-2.2" stroke="#555" stroke-width="0.8"/>
<text x="27.6" y="55.3" font-size="9.2" text-anchor="end">17</text>
<path d="M32.9 102.6h-2.2" stroke="#555" stroke-width="0.8"/>
<text x="27.6" y="106.0" font-size="9.2" text-anchor="end">18</text>
<path d="M32.9 153.3h-2.2" stroke="#555" stroke-width="0.8"/>
<text x="27.6" y="156.7" font-size="9.2" text-anchor="end">19</text>
<path d="M32.9 204.0h-2.2" stroke="#555" stroke-width="0.8"/>
<text x="27.6" y="207.4" font-size="9.2" text-anchor="end">20</text>
<path d="M32.9 254.7h-2.2" stroke="#555" stroke-width="0.8"/>
<text x="27.6" y="258.1" font-size="9.2" text-anchor="end">21</text>
<path d="M77.2 274.3v2.2" stroke="#555" stroke-width="0.8"/>
<text x="77.2" y="288.0" font-size="9.2" text-anchor="middle">1.6</text>
<path d="M126.3 274.3v2.2" stroke="#555" stroke-width="0.8"/>
<text x="126.3" y="288.0" font-size="9.2" text-anchor="middle">1.7</text>
<path d="M175.4 274.3v2.2" stroke="#555" stroke-width="0.8"/>
<text x="175.4" y="288.0" font-size="9.2" text-anchor="middle">1.8</text>
<path d="M224.5 274.3v2.2" stroke="#555" stroke-width="0.8"/>
<text x="224.5" y="288.0" font-size="9.2" text-anchor="middle">1.9</text>
<text x="38.3" y="16.4" font-size="11.2">PARSEC stellar models</text>
<text x="150.6" y="300.6" font-size="12.5" text-anchor="middle" class="it">m<tspan font-size="8.6" dy="2.2">F555W</tspan><tspan dy="-2.2"> − m</tspan><tspan font-size="8.6" dy="2.2">F814W</tspan></text>
<text transform="translate(8.2,139) rotate(-90)" font-size="12.6" text-anchor="middle" class="it">m<tspan font-size="8.4" dy="2.2">F814W</tspan></text>
</g>
<g>
<clipPath id="ca00"><rect x="320.2" y="2.3" width="63.6" height="62.3"/></clipPath>
<clipPath id="ca10"><rect x="320.2" y="72.2" width="63.6" height="62.3"/></clipPath>
<clipPath id="ca11"><rect x="389.6" y="72.2" width="63.6" height="62.3"/></clipPath>
<clipPath id="ca20"><rect x="320.2" y="142.2" width="63.6" height="62.3"/></clipPath>
<clipPath id="ca21"><rect x="389.6" y="142.2" width="63.6" height="62.3"/></clipPath>
<clipPath id="ca22"><rect x="459.1" y="142.2" width="63.6" height="62.3"/></clipPath>
<clipPath id="ca30"><rect x="320.2" y="212.1" width="63.6" height="62.3"/></clipPath>
<clipPath id="ca31"><rect x="389.6" y="212.1" width="63.6" height="62.3"/></clipPath>
<clipPath id="ca32"><rect x="459.1" y="212.1" width="63.6" height="62.3"/></clipPath>
<clipPath id="ca33"><rect x="528.5" y="212.1" width="63.6" height="62.3"/></clipPath>
<g clip-path="url(#ca00)">
<path d="M320.2 64.6V64.4H323.4V64.4H326.6V64.1H329.7V63.6H332.9V61.4H336.1V58.3H339.3V51.5H342.5V39.4H345.6V22.0H348.8V12.1H352.0V7.6H355.2V14.4H358.4V24.2H361.5V38.6H364.7V49.2H367.9V56.1H371.1V60.6H374.3V63.9H377.4V64.4H380.6V64.4H383.8" fill="none" stroke="#3c3c3c" stroke-width="0.8"/>
<path d="M345.3 2.3V64.6" stroke="#111" stroke-width="0.9" stroke-dasharray="2.3 1"/>
<path d="M352.9 2.3V64.6" stroke="#111" stroke-width="0.9" stroke-dasharray="2.3 1"/>
<path d="M360.9 2.3V64.6" stroke="#111" stroke-width="0.9" stroke-dasharray="2.3 1"/>
</g>
<rect x="320.2" y="2.3" width="63.6" height="62.3" fill="none" stroke="#777" stroke-width="0.9"/>
<path d="M326.3 64.6v1.8M341.5 64.6v1.8M356.7 64.6v1.8M371.9 64.6v1.8" stroke="#333" stroke-width="0.5"/>
<g clip-path="url(#ca10)">
<ellipse cx="352.9" cy="101.5" rx="25.63" ry="10.23" transform="rotate(130.1 352.9 101.5)" fill="#000" fill-opacity="0.001"/>
<ellipse cx="352.9" cy="101.5" rx="23.88" ry="9.53" transform="rotate(130.1 352.9 101.5)" fill="#000" fill-opacity="0.004"/>
<ellipse cx="352.9" cy="101.5" rx="22.13" ry="8.83" transform="rotate(130.1 352.9 101.5)" fill="#000" fill-opacity="0.010"/>
<ellipse cx="352.9" cy="101.5" rx="20.39" ry="8.14" transform="rotate(130.1 352.9 101.5)" fill="#000" fill-opacity="0.022"/>
<ellipse cx="352.9" cy="101.5" rx="18.64" ry="7.44" transform="rotate(130.1 352.9 101.5)" fill="#000" fill-opacity="0.044"/>
<ellipse cx="352.9" cy="101.5" rx="16.89" ry="6.74" transform="rotate(130.1 352.9 101.5)" fill="#000" fill-opacity="0.077"/>
<ellipse cx="352.9" cy="101.5" rx="15.14" ry="6.04" transform="rotate(130.1 352.9 101.5)" fill="#000" fill-opacity="0.120"/>
<ellipse cx="352.9" cy="101.5" rx="13.40" ry="5.35" transform="rotate(130.1 352.9 101.5)" fill="#000" fill-opacity="0.172"/>
<ellipse cx="352.9" cy="101.5" rx="11.65" ry="4.65" transform="rotate(130.1 352.9 101.5)" fill="#000" fill-opacity="0.229"/>
<ellipse cx="352.9" cy="101.5" rx="9.90" ry="3.95" transform="rotate(130.1 352.9 101.5)" fill="#000" fill-opacity="0.289"/>
<ellipse cx="352.9" cy="101.5" rx="8.15" ry="3.25" transform="rotate(130.1 352.9 101.5)" fill="#000" fill-opacity="0.349"/>
<ellipse cx="352.9" cy="101.5" rx="6.41" ry="2.56" transform="rotate(130.1 352.9 101.5)" fill="#000" fill-opacity="0.400"/>
<ellipse cx="352.9" cy="101.5" rx="4.66" ry="1.86" transform="rotate(130.1 352.9 101.5)" fill="#000" fill-opacity="0.421"/>
<ellipse cx="352.9" cy="101.5" rx="2.91" ry="1.16" transform="rotate(130.1 352.9 101.5)" fill="#000" fill-opacity="0.360"/>
<ellipse cx="352.9" cy="101.5" rx="1.16" ry="0.46" transform="rotate(130.1 352.9 101.5)" fill="#000" fill-opacity="0.173"/>
<ellipse cx="352.9" cy="101.5" rx="11.07" ry="4.42" transform="rotate(130.1 352.9 101.5)" fill="none" stroke="#141414" stroke-width="0.95"/>
<ellipse cx="352.9" cy="101.5" rx="23.65" ry="9.44" transform="rotate(130.1 352.9 101.5)" fill="none" stroke="#141414" stroke-width="0.95"/>
<path d="M365.7 71.7L364.1 73.0L362.6 74.2L361.0 75.3L359.4 76.3L357.8 77.3L356.2 78.3L354.6 79.3L353.1 80.3L351.6 81.3L350.1 82.4L348.7 83.5L347.3 84.8L346.0 86.1L344.7 87.5L343.5 89.0L342.3 90.5L341.1 92.0L339.9 93.5L338.8 95.1L337.7 96.6L336.7 98.1L335.6 99.7L334.7 101.3L333.7 102.9L332.8 104.5L332.0 106.1L331.2 107.8L330.4 109.5L329.8 111.3L329.1 113.1L328.6 114.9L328.2 116.8L327.9 118.7L327.8 120.6L328.0 122.4L328.4 124.2L329.2 126.0L330.3 127.6L331.7 129.1L333.3 130.1L335.1 130.6L336.8 130.5L338.5 130.0L340.3 129.3L342.0 128.5L343.7 127.6L345.3 126.7L346.9 125.8L348.5 124.8L350.1 123.7L351.6 122.6L353.1 121.5L354.6 120.3L356.0 119.1L357.4 117.8L358.8 116.5L360.2 115.2L361.5 113.8L362.7 112.4L364.0 111.0L365.2 109.6L366.3 108.1L367.5 106.6L368.6 105.0L369.6 103.5L370.6 101.9L371.6 100.3L372.5 98.6L373.4 97.0L374.3 95.3L375.1 93.6L375.9 91.9L376.7 90.2L377.4 88.5L378.0 86.8L378.5 85.1L378.9 83.3L379.0 81.6L378.9 79.8L378.4 78.0L377.7 76.3L376.5 74.5L375.1 72.8L373.7 71.1L372.4 69.7L371.2 68.7L370.0 68.6L368.6 69.2L367.2 70.4Z" fill="none" stroke="#141414" stroke-width="0.95" stroke-linejoin="round"/>
</g>
<rect x="320.2" y="72.2" width="63.6" height="62.3" fill="none" stroke="#777" stroke-width="0.9"/>
<path d="M326.3 134.5v1.8M341.5 134.5v1.8M356.7 134.5v1.8M371.9 134.5v1.8M320.2 127.2h-1.8M320.2 112.9h-1.8M320.2 98.3h-1.8M320.2 83.7h-1.8" stroke="#333" stroke-width="0.5"/>
<g clip-path="url(#ca11)">
<path d="M389.6 134.5V134.3H392.8V134.3H396.0V133.2H399.1V131.7H402.3V128.0H405.5V121.9H408.7V109.9H411.9V99.3H415.0V85.8H418.2V80.5H421.4V77.5H424.6V78.5H427.8V83.5H430.9V97.8H434.1V109.1H437.3V118.9H440.5V127.2H443.7V131.3H446.8V133.5H450.0V134.3H453.2" fill="none" stroke="#3c3c3c" stroke-width="0.8"/>
<path d="M413.9 72.2V134.5" stroke="#111" stroke-width="0.9" stroke-dasharray="2.3 1"/>
<path d="M423.3 72.2V134.5" stroke="#111" stroke-width="0.9" stroke-dasharray="2.3 1"/>
<path d="M432.1 72.2V134.5" stroke="#111" stroke-width="0.9" stroke-dasharray="2.3 1"/>
</g>
<rect x="389.6" y="72.2" width="63.6" height="62.3" fill="none" stroke="#777" stroke-width="0.9"/>
<path d="M397.1 134.5v1.8M411.7 134.5v1.8M426.6 134.5v1.8M441.5 134.5v1.8" stroke="#333" stroke-width="0.5"/>
<g clip-path="url(#ca20)">
<ellipse cx="352.9" cy="180.7" rx="23.18" ry="12.48" transform="rotate(47.0 352.9 180.7)" fill="#000" fill-opacity="0.001"/>
<ellipse cx="352.9" cy="180.7" rx="21.60" ry="11.62" transform="rotate(47.0 352.9 180.7)" fill="#000" fill-opacity="0.004"/>
<ellipse cx="352.9" cy="180.7" rx="20.02" ry="10.77" transform="rotate(47.0 352.9 180.7)" fill="#000" fill-opacity="0.010"/>
<ellipse cx="352.9" cy="180.7" rx="18.44" ry="9.92" transform="rotate(47.0 352.9 180.7)" fill="#000" fill-opacity="0.022"/>
<ellipse cx="352.9" cy="180.7" rx="16.86" ry="9.07" transform="rotate(47.0 352.9 180.7)" fill="#000" fill-opacity="0.044"/>
<ellipse cx="352.9" cy="180.7" rx="15.28" ry="8.22" transform="rotate(47.0 352.9 180.7)" fill="#000" fill-opacity="0.077"/>
<ellipse cx="352.9" cy="180.7" rx="13.70" ry="7.37" transform="rotate(47.0 352.9 180.7)" fill="#000" fill-opacity="0.120"/>
<ellipse cx="352.9" cy="180.7" rx="12.12" ry="6.52" transform="rotate(47.0 352.9 180.7)" fill="#000" fill-opacity="0.172"/>
<ellipse cx="352.9" cy="180.7" rx="10.54" ry="5.67" transform="rotate(47.0 352.9 180.7)" fill="#000" fill-opacity="0.229"/>
<ellipse cx="352.9" cy="180.7" rx="8.96" ry="4.82" transform="rotate(47.0 352.9 180.7)" fill="#000" fill-opacity="0.289"/>
<ellipse cx="352.9" cy="180.7" rx="7.38" ry="3.97" transform="rotate(47.0 352.9 180.7)" fill="#000" fill-opacity="0.349"/>
<ellipse cx="352.9" cy="180.7" rx="5.80" ry="3.12" transform="rotate(47.0 352.9 180.7)" fill="#000" fill-opacity="0.400"/>
<ellipse cx="352.9" cy="180.7" rx="4.22" ry="2.27" transform="rotate(47.0 352.9 180.7)" fill="#000" fill-opacity="0.421"/>
<ellipse cx="352.9" cy="180.7" rx="2.63" ry="1.42" transform="rotate(47.0 352.9 180.7)" fill="#000" fill-opacity="0.360"/>
<ellipse cx="352.9" cy="180.7" rx="1.05" ry="0.57" transform="rotate(47.0 352.9 180.7)" fill="#000" fill-opacity="0.173"/>
<ellipse cx="352.9" cy="180.7" rx="10.01" ry="5.39" transform="rotate(47.0 352.9 180.7)" fill="none" stroke="#141414" stroke-width="0.95"/>
<ellipse cx="352.9" cy="180.7" rx="21.39" ry="11.51" transform="rotate(47.0 352.9 180.7)" fill="none" stroke="#141414" stroke-width="0.95"/>
<path d="M328.0 164.0L328.2 162.2L328.6 160.4L329.2 158.8L330.1 157.3L331.3 156.1L332.8 155.2L334.5 154.5L336.3 154.2L338.2 154.0L340.0 154.1L341.7 154.3L343.4 154.6L345.1 155.1L346.8 155.7L348.4 156.5L350.0 157.3L351.6 158.2L353.2 159.1L354.8 160.1L356.3 161.1L357.9 162.2L359.5 163.2L361.1 164.2L362.6 165.2L364.1 166.3L365.7 167.3L367.1 168.4L368.5 169.6L369.9 170.7L371.2 171.9L372.4 173.2L373.6 174.5L374.6 175.9L375.6 177.4L376.4 179.0L377.2 180.6L377.8 182.3L378.3 184.0L378.6 185.8L378.8 187.6L378.9 189.4L378.8 191.2L378.6 193.0L378.2 194.7L377.6 196.4L376.9 198.1L376.0 199.8L375.1 201.4L374.1 203.0L373.0 204.6L371.9 206.2L370.7 207.6L369.4 208.9L368.0 209.9L366.5 210.5L364.9 210.8L363.3 210.7L361.7 210.2L360.2 209.4L358.8 208.3L357.5 207.0L356.2 205.5L355.0 204.0L353.7 202.6L352.5 201.1L351.3 199.7L350.1 198.3L348.9 197.0L347.7 195.6L346.5 194.3L345.4 193.0L344.2 191.7L343.0 190.4L341.9 189.1L340.7 187.7L339.6 186.4L338.4 185.0L337.3 183.6L336.2 182.2L335.1 180.7L334.0 179.2L332.9 177.6L331.9 176.0L330.9 174.4L330.1 172.7L329.4 171.0L328.8 169.3L328.4 167.6L328.1 165.8Z" fill="none" stroke="#141414" stroke-width="0.95" stroke-linejoin="round"/>
</g>
<rect x="320.2" y="142.2" width="63.6" height="62.3" fill="none" stroke="#777" stroke-width="0.9"/>
<path d="M326.3 204.5v1.8M341.5 204.5v1.8M356.7 204.5v1.8M371.9 204.5v1.8M320.2 195.4h-1.8M320.2 181.2h-1.8M320.2 166.9h-1.8M320.2 152.9h-1.8" stroke="#333" stroke-width="0.5"/>
<g clip-path="url(#ca21)">
<ellipse cx="423.3" cy="180.7" rx="26.05" ry="11.27" transform="rotate(-139.5 423.3 180.7)" fill="#000" fill-opacity="0.001"/>
<ellipse cx="423.3" cy="180.7" rx="24.27" ry="10.50" transform="rotate(-139.5 423.3 180.7)" fill="#000" fill-opacity="0.004"/>
<ellipse cx="423.3" cy="180.7" rx="22.50" ry="9.74" transform="rotate(-139.5 423.3 180.7)" fill="#000" fill-opacity="0.010"/>
<ellipse cx="423.3" cy="180.7" rx="20.72" ry="8.97" transform="rotate(-139.5 423.3 180.7)" fill="#000" fill-opacity="0.022"/>
<ellipse cx="423.3" cy="180.7" rx="18.95" ry="8.20" transform="rotate(-139.5 423.3 180.7)" fill="#000" fill-opacity="0.044"/>
<ellipse cx="423.3" cy="180.7" rx="17.17" ry="7.43" transform="rotate(-139.5 423.3 180.7)" fill="#000" fill-opacity="0.077"/>
<ellipse cx="423.3" cy="180.7" rx="15.39" ry="6.66" transform="rotate(-139.5 423.3 180.7)" fill="#000" fill-opacity="0.120"/>
<ellipse cx="423.3" cy="180.7" rx="13.62" ry="5.89" transform="rotate(-139.5 423.3 180.7)" fill="#000" fill-opacity="0.172"/>
<ellipse cx="423.3" cy="180.7" rx="11.84" ry="5.12" transform="rotate(-139.5 423.3 180.7)" fill="#000" fill-opacity="0.229"/>
<ellipse cx="423.3" cy="180.7" rx="10.06" ry="4.36" transform="rotate(-139.5 423.3 180.7)" fill="#000" fill-opacity="0.289"/>
<ellipse cx="423.3" cy="180.7" rx="8.29" ry="3.59" transform="rotate(-139.5 423.3 180.7)" fill="#000" fill-opacity="0.349"/>
<ellipse cx="423.3" cy="180.7" rx="6.51" ry="2.82" transform="rotate(-139.5 423.3 180.7)" fill="#000" fill-opacity="0.400"/>
<ellipse cx="423.3" cy="180.7" rx="4.74" ry="2.05" transform="rotate(-139.5 423.3 180.7)" fill="#000" fill-opacity="0.421"/>
<ellipse cx="423.3" cy="180.7" rx="2.96" ry="1.28" transform="rotate(-139.5 423.3 180.7)" fill="#000" fill-opacity="0.360"/>
<ellipse cx="423.3" cy="180.7" rx="1.18" ry="0.51" transform="rotate(-139.5 423.3 180.7)" fill="#000" fill-opacity="0.173"/>
<ellipse cx="423.3" cy="180.7" rx="11.25" ry="4.87" transform="rotate(-139.5 423.3 180.7)" fill="none" stroke="#141414" stroke-width="0.95"/>
<ellipse cx="423.3" cy="180.7" rx="24.04" ry="10.40" transform="rotate(-139.5 423.3 180.7)" fill="none" stroke="#141414" stroke-width="0.95"/>
<path d="M394.5 162.3L394.7 160.4L395.2 158.5L396.0 156.7L397.2 155.3L398.7 154.3L400.4 153.9L402.4 153.9L404.5 154.2L406.5 154.6L408.4 155.1L410.3 155.7L412.2 156.3L414.0 157.1L415.8 157.9L417.5 158.7L419.2 159.7L420.9 160.6L422.5 161.7L424.1 162.7L425.7 163.8L427.3 165.0L428.8 166.1L430.3 167.3L431.8 168.5L433.3 169.7L434.7 171.0L436.2 172.2L437.6 173.5L438.9 174.9L440.3 176.2L441.6 177.6L442.9 179.1L444.2 180.5L445.4 182.0L446.7 183.6L447.8 185.2L449.0 186.8L450.1 188.5L451.2 190.3L452.1 192.0L452.8 193.7L453.3 195.5L453.5 197.2L453.5 198.9L452.9 200.5L451.9 202.1L450.8 203.7L449.8 205.5L448.8 207.2L447.7 208.9L446.5 210.3L444.9 211.3L443.0 211.8L441.0 211.8L438.9 211.5L437.0 210.8L435.4 209.7L434.1 208.2L433.0 206.7L432.0 205.0L430.9 203.4L429.6 202.0L428.0 200.8L426.3 199.8L424.5 198.8L422.8 197.8L421.2 196.8L419.6 195.6L418.2 194.4L416.7 193.2L415.4 191.9L414.1 190.5L412.8 189.1L411.5 187.7L410.3 186.2L409.0 184.8L407.8 183.3L406.6 181.8L405.3 180.2L404.0 178.7L402.7 177.2L401.4 175.7L400.0 174.2L398.8 172.6L397.6 171.0L396.6 169.4L395.7 167.7L395.0 166.0L394.6 164.2Z" fill="none" stroke="#141414" stroke-width="0.95" stroke-linejoin="round"/>
</g>
<rect x="389.6" y="142.2" width="63.6" height="62.3" fill="none" stroke="#777" stroke-width="0.9"/>
<path d="M397.1 204.5v1.8M411.7 204.5v1.8M426.6 204.5v1.8M441.5 204.5v1.8M389.6 195.4h-1.8M389.6 181.2h-1.8M389.6 166.9h-1.8M389.6 152.9h-1.8" stroke="#333" stroke-width="0.5"/>
<g clip-path="url(#ca22)">
<path d="M459.1 203.9V203.7H462.3V201.3H465.5V197.2H468.6V189.2H471.8V177.2H475.0V163.3H478.2V151.6H481.4V147.5H484.5V150.5H487.7V163.3H490.9V174.6H494.1V184.4H497.3V193.4H500.4V198.7H503.6V202.5H506.8V203.5H510.0V204.0H513.2V204.3H516.3V204.3H519.5V204.3H522.7" fill="none" stroke="#3c3c3c" stroke-width="0.8"/>
<path d="M475.3 142.2V204.5" stroke="#111" stroke-width="0.9" stroke-dasharray="2.3 1"/>
<path d="M483.4 142.2V204.5" stroke="#111" stroke-width="0.9" stroke-dasharray="2.3 1"/>
<path d="M491.4 142.2V204.5" stroke="#111" stroke-width="0.9" stroke-dasharray="2.3 1"/>
</g>
<rect x="459.1" y="142.2" width="63.6" height="62.3" fill="none" stroke="#777" stroke-width="0.9"/>
<path d="M468.4 204.5v1.8M482.9 204.5v1.8M497.5 204.5v1.8M511.8 204.5v1.8" stroke="#333" stroke-width="0.5"/>
<g clip-path="url(#ca30)">
<ellipse cx="352.9" cy="241.9" rx="26.25" ry="9.98" transform="rotate(51.0 352.9 241.9)" fill="#000" fill-opacity="0.001"/>
<ellipse cx="352.9" cy="241.9" rx="24.46" ry="9.30" transform="rotate(51.0 352.9 241.9)" fill="#000" fill-opacity="0.004"/>
<ellipse cx="352.9" cy="241.9" rx="22.67" ry="8.62" transform="rotate(51.0 352.9 241.9)" fill="#000" fill-opacity="0.010"/>
<ellipse cx="352.9" cy="241.9" rx="20.88" ry="7.94" transform="rotate(51.0 352.9 241.9)" fill="#000" fill-opacity="0.022"/>
<ellipse cx="352.9" cy="241.9" rx="19.09" ry="7.26" transform="rotate(51.0 352.9 241.9)" fill="#000" fill-opacity="0.044"/>
<ellipse cx="352.9" cy="241.9" rx="17.30" ry="6.58" transform="rotate(51.0 352.9 241.9)" fill="#000" fill-opacity="0.077"/>
<ellipse cx="352.9" cy="241.9" rx="15.51" ry="5.90" transform="rotate(51.0 352.9 241.9)" fill="#000" fill-opacity="0.120"/>
<ellipse cx="352.9" cy="241.9" rx="13.72" ry="5.22" transform="rotate(51.0 352.9 241.9)" fill="#000" fill-opacity="0.172"/>
<ellipse cx="352.9" cy="241.9" rx="11.93" ry="4.54" transform="rotate(51.0 352.9 241.9)" fill="#000" fill-opacity="0.229"/>
<ellipse cx="352.9" cy="241.9" rx="10.14" ry="3.86" transform="rotate(51.0 352.9 241.9)" fill="#000" fill-opacity="0.289"/>
<ellipse cx="352.9" cy="241.9" rx="8.35" ry="3.18" transform="rotate(51.0 352.9 241.9)" fill="#000" fill-opacity="0.349"/>
<ellipse cx="352.9" cy="241.9" rx="6.56" ry="2.50" transform="rotate(51.0 352.9 241.9)" fill="#000" fill-opacity="0.400"/>
<ellipse cx="352.9" cy="241.9" rx="4.77" ry="1.82" transform="rotate(51.0 352.9 241.9)" fill="#000" fill-opacity="0.421"/>
<ellipse cx="352.9" cy="241.9" rx="2.98" ry="1.13" transform="rotate(51.0 352.9 241.9)" fill="#000" fill-opacity="0.360"/>
<ellipse cx="352.9" cy="241.9" rx="1.19" ry="0.45" transform="rotate(51.0 352.9 241.9)" fill="#000" fill-opacity="0.173"/>
<ellipse cx="352.9" cy="241.9" rx="11.33" ry="4.31" transform="rotate(51.0 352.9 241.9)" fill="none" stroke="#141414" stroke-width="0.95"/>
<ellipse cx="352.9" cy="241.9" rx="24.22" ry="9.21" transform="rotate(51.0 352.9 241.9)" fill="none" stroke="#141414" stroke-width="0.95"/>
<path d="M327.6 220.0L327.9 218.1L328.8 216.4L330.2 215.1L331.9 214.4L333.8 214.4L335.7 214.9L337.6 215.6L339.4 216.4L341.2 217.2L342.8 218.2L344.5 219.1L346.1 220.2L347.6 221.3L349.1 222.5L350.6 223.7L352.0 224.9L353.4 226.2L354.8 227.6L356.2 228.9L357.6 230.3L359.0 231.7L360.4 233.1L361.7 234.6L363.1 236.0L364.5 237.5L365.8 239.0L367.1 240.5L368.4 242.0L369.6 243.5L370.8 245.1L371.9 246.7L373.0 248.3L374.0 249.9L374.9 251.6L375.8 253.2L376.6 255.0L377.2 256.7L377.8 258.5L378.2 260.3L378.6 262.2L378.8 264.1L378.9 266.0L378.8 268.0L378.6 270.0L378.3 272.1L377.8 274.2L377.1 276.3L376.2 278.2L375.1 279.6L373.9 280.3L372.7 280.0L371.5 278.9L370.4 277.4L369.5 275.6L368.6 273.6L367.6 271.8L366.4 270.2L365.1 268.8L363.6 267.5L362.2 266.3L360.7 265.1L359.3 263.8L357.9 262.5L356.5 261.2L355.1 259.8L353.8 258.4L352.5 256.9L351.3 255.5L350.0 254.0L348.8 252.5L347.6 250.9L346.4 249.4L345.2 247.8L344.0 246.3L342.8 244.7L341.7 243.1L340.5 241.6L339.4 240.0L338.2 238.4L337.1 236.9L335.9 235.3L334.8 233.8L333.7 232.2L332.7 230.6L331.6 229.0L330.6 227.3L329.7 225.6L328.8 223.8L328.0 221.9Z" fill="none" stroke="#141414" stroke-width="0.95" stroke-linejoin="round"/>
</g>
<rect x="320.2" y="212.1" width="63.6" height="62.3" fill="none" stroke="#777" stroke-width="0.9"/>
<path d="M326.3 274.4v1.8M341.5 274.4v1.8M356.7 274.4v1.8M371.9 274.4v1.8M320.2 256.3h-1.8M320.2 238.5h-1.8M320.2 220.6h-1.8" stroke="#333" stroke-width="0.5"/>
<g clip-path="url(#ca31)">
<ellipse cx="423.3" cy="241.9" rx="26.43" ry="14.24" transform="rotate(45.5 423.3 241.9)" fill="#000" fill-opacity="0.001"/>
<ellipse cx="423.3" cy="241.9" rx="24.63" ry="13.27" transform="rotate(45.5 423.3 241.9)" fill="#000" fill-opacity="0.004"/>
<ellipse cx="423.3" cy="241.9" rx="22.82" ry="12.30" transform="rotate(45.5 423.3 241.9)" fill="#000" fill-opacity="0.010"/>
<ellipse cx="423.3" cy="241.9" rx="21.02" ry="11.33" transform="rotate(45.5 423.3 241.9)" fill="#000" fill-opacity="0.022"/>
<ellipse cx="423.3" cy="241.9" rx="19.22" ry="10.36" transform="rotate(45.5 423.3 241.9)" fill="#000" fill-opacity="0.044"/>
<ellipse cx="423.3" cy="241.9" rx="17.42" ry="9.38" transform="rotate(45.5 423.3 241.9)" fill="#000" fill-opacity="0.077"/>
<ellipse cx="423.3" cy="241.9" rx="15.62" ry="8.41" transform="rotate(45.5 423.3 241.9)" fill="#000" fill-opacity="0.120"/>
<ellipse cx="423.3" cy="241.9" rx="13.82" ry="7.44" transform="rotate(45.5 423.3 241.9)" fill="#000" fill-opacity="0.172"/>
<ellipse cx="423.3" cy="241.9" rx="12.01" ry="6.47" transform="rotate(45.5 423.3 241.9)" fill="#000" fill-opacity="0.229"/>
<ellipse cx="423.3" cy="241.9" rx="10.21" ry="5.50" transform="rotate(45.5 423.3 241.9)" fill="#000" fill-opacity="0.289"/>
<ellipse cx="423.3" cy="241.9" rx="8.41" ry="4.53" transform="rotate(45.5 423.3 241.9)" fill="#000" fill-opacity="0.349"/>
<ellipse cx="423.3" cy="241.9" rx="6.61" ry="3.56" transform="rotate(45.5 423.3 241.9)" fill="#000" fill-opacity="0.400"/>
<ellipse cx="423.3" cy="241.9" rx="4.81" ry="2.59" transform="rotate(45.5 423.3 241.9)" fill="#000" fill-opacity="0.421"/>
<ellipse cx="423.3" cy="241.9" rx="3.00" ry="1.62" transform="rotate(45.5 423.3 241.9)" fill="#000" fill-opacity="0.360"/>
<ellipse cx="423.3" cy="241.9" rx="1.20" ry="0.65" transform="rotate(45.5 423.3 241.9)" fill="#000" fill-opacity="0.173"/>
<ellipse cx="423.3" cy="241.9" rx="11.41" ry="6.15" transform="rotate(45.5 423.3 241.9)" fill="none" stroke="#141414" stroke-width="0.95"/>
<ellipse cx="423.3" cy="241.9" rx="24.39" ry="13.14" transform="rotate(45.5 423.3 241.9)" fill="none" stroke="#141414" stroke-width="0.95"/>
<path d="M395.2 222.7L395.5 220.5L396.2 218.6L397.6 217.1L399.6 216.0L401.8 215.3L403.9 214.9L406.0 214.8L408.1 214.9L410.1 215.2L412.1 215.6L414.1 216.1L416.1 216.7L418.0 217.5L419.9 218.4L421.8 219.3L423.6 220.4L425.4 221.5L427.2 222.7L428.9 224.0L430.6 225.3L432.2 226.7L433.7 228.2L435.2 229.6L436.7 231.2L438.1 232.7L439.4 234.3L440.7 235.9L441.9 237.6L443.1 239.3L444.2 241.0L445.4 242.7L446.4 244.5L447.5 246.4L448.4 248.2L449.4 250.1L450.3 252.0L451.3 254.0L452.4 255.8L454.0 257.4L455.5 258.8L456.2 260.1L455.3 261.5L453.5 262.8L451.6 264.1L450.0 265.2L448.5 266.4L447.1 267.8L445.9 269.5L444.7 271.6L443.5 273.9L442.3 276.2L441.2 278.2L440.1 279.7L438.9 280.4L437.7 280.1L436.5 278.9L435.2 277.2L433.9 275.1L432.3 273.2L430.7 271.5L428.9 270.3L427.1 269.3L425.3 268.3L423.5 267.3L421.8 266.2L420.2 265.0L418.6 263.7L417.1 262.3L415.7 260.8L414.3 259.3L412.9 257.7L411.6 256.1L410.3 254.4L409.1 252.7L407.8 250.9L406.6 249.2L405.5 247.3L404.3 245.5L403.2 243.7L402.0 241.9L400.9 240.1L399.9 238.2L398.8 236.4L397.9 234.5L397.1 232.7L396.4 230.7L395.8 228.8L395.4 226.8L395.2 224.8Z" fill="none" stroke="#141414" stroke-width="0.95" stroke-linejoin="round"/>
</g>
<rect x="389.6" y="212.1" width="63.6" height="62.3" fill="none" stroke="#777" stroke-width="0.9"/>
<path d="M397.1 274.4v1.8M411.7 274.4v1.8M426.6 274.4v1.8M441.5 274.4v1.8M389.6 256.3h-1.8M389.6 238.5h-1.8M389.6 220.6h-1.8" stroke="#333" stroke-width="0.5"/>
<g clip-path="url(#ca32)">
<ellipse cx="483.4" cy="241.9" rx="24.02" ry="15.91" transform="rotate(127.8 483.4 241.9)" fill="#000" fill-opacity="0.001"/>
<ellipse cx="483.4" cy="241.9" rx="22.38" ry="14.82" transform="rotate(127.8 483.4 241.9)" fill="#000" fill-opacity="0.004"/>
<ellipse cx="483.4" cy="241.9" rx="20.75" ry="13.74" transform="rotate(127.8 483.4 241.9)" fill="#000" fill-opacity="0.010"/>
<ellipse cx="483.4" cy="241.9" rx="19.11" ry="12.65" transform="rotate(127.8 483.4 241.9)" fill="#000" fill-opacity="0.022"/>
<ellipse cx="483.4" cy="241.9" rx="17.47" ry="11.57" transform="rotate(127.8 483.4 241.9)" fill="#000" fill-opacity="0.044"/>
<ellipse cx="483.4" cy="241.9" rx="15.83" ry="10.48" transform="rotate(127.8 483.4 241.9)" fill="#000" fill-opacity="0.077"/>
<ellipse cx="483.4" cy="241.9" rx="14.19" ry="9.40" transform="rotate(127.8 483.4 241.9)" fill="#000" fill-opacity="0.120"/>
<ellipse cx="483.4" cy="241.9" rx="12.56" ry="8.31" transform="rotate(127.8 483.4 241.9)" fill="#000" fill-opacity="0.172"/>
<ellipse cx="483.4" cy="241.9" rx="10.92" ry="7.23" transform="rotate(127.8 483.4 241.9)" fill="#000" fill-opacity="0.229"/>
<ellipse cx="483.4" cy="241.9" rx="9.28" ry="6.15" transform="rotate(127.8 483.4 241.9)" fill="#000" fill-opacity="0.289"/>
<ellipse cx="483.4" cy="241.9" rx="7.64" ry="5.06" transform="rotate(127.8 483.4 241.9)" fill="#000" fill-opacity="0.349"/>
<ellipse cx="483.4" cy="241.9" rx="6.01" ry="3.98" transform="rotate(127.8 483.4 241.9)" fill="#000" fill-opacity="0.400"/>
<ellipse cx="483.4" cy="241.9" rx="4.37" ry="2.89" transform="rotate(127.8 483.4 241.9)" fill="#000" fill-opacity="0.421"/>
<ellipse cx="483.4" cy="241.9" rx="2.73" ry="1.81" transform="rotate(127.8 483.4 241.9)" fill="#000" fill-opacity="0.360"/>
<ellipse cx="483.4" cy="241.9" rx="1.09" ry="0.72" transform="rotate(127.8 483.4 241.9)" fill="#000" fill-opacity="0.173"/>
<ellipse cx="483.4" cy="241.9" rx="10.37" ry="6.87" transform="rotate(127.8 483.4 241.9)" fill="none" stroke="#141414" stroke-width="0.95"/>
<ellipse cx="483.4" cy="241.9" rx="22.16" ry="14.68" transform="rotate(127.8 483.4 241.9)" fill="none" stroke="#141414" stroke-width="0.95"/>
<path d="M458.9 237.6L460.1 235.9L461.2 234.2L462.5 232.5L463.7 230.9L465.0 229.4L466.4 227.9L467.8 226.5L469.2 225.1L470.7 223.8L472.2 222.6L473.8 221.4L475.5 220.3L477.2 219.3L479.0 218.4L480.8 217.5L482.7 216.7L484.7 216.0L486.6 215.4L488.7 215.0L490.7 214.6L492.8 214.4L494.8 214.3L496.9 214.4L498.9 214.7L500.9 215.2L502.6 216.0L504.2 217.1L505.6 218.4L506.9 219.9L508.0 221.5L508.9 223.3L509.7 225.2L510.2 227.2L510.6 229.3L510.8 231.4L510.9 233.5L510.7 235.5L510.4 237.5L510.0 239.5L509.3 241.4L508.6 243.3L507.7 245.1L506.8 246.8L505.7 248.6L504.6 250.3L503.3 251.9L502.1 253.6L500.8 255.1L499.5 256.7L498.2 258.2L496.9 259.7L495.6 261.2L494.3 262.6L493.0 264.1L491.8 265.6L490.5 267.1L489.2 268.7L487.9 270.3L486.7 272.1L485.4 273.9L484.1 275.8L482.7 277.7L481.4 279.0L480.2 279.6L478.9 279.0L477.7 277.6L476.3 275.8L474.9 274.1L473.3 272.6L471.8 271.2L470.3 269.8L469.0 268.3L467.6 266.9L466.4 265.5L465.1 264.0L463.9 262.5L462.7 260.9L461.4 259.3L460.2 257.7L459.0 256.0L457.8 254.2L456.8 252.5L456.0 250.6L455.4 248.8L455.3 246.9L455.5 245.0L456.0 243.2L456.8 241.3L457.8 239.4Z" fill="none" stroke="#141414" stroke-width="0.95" stroke-linejoin="round"/>
</g>
<rect x="459.1" y="212.1" width="63.6" height="62.3" fill="none" stroke="#777" stroke-width="0.9"/>
<path d="M468.4 274.4v1.8M482.9 274.4v1.8M497.5 274.4v1.8M511.8 274.4v1.8M459.1 256.3h-1.8M459.1 238.5h-1.8M459.1 220.6h-1.8" stroke="#333" stroke-width="0.5"/>
<g clip-path="url(#ca33)">
<path d="M528.5 274.1V273.9H531.7V273.4H534.9V271.1H538.0V268.9H541.2V266.6H544.4V261.2H547.6V256.2H550.8V246.7H553.9V236.0H557.1V226.1H560.3V220.0H563.5V217.4H566.7V229.9H569.8V236.8H573.0V255.9H576.2V261.2H579.4V269.6H582.6V272.4H585.7V273.7H588.9V274.2H592.1" fill="none" stroke="#3c3c3c" stroke-width="0.8"/>
<path d="M552.5 212.1V274.4" stroke="#111" stroke-width="0.9" stroke-dasharray="2.3 1"/>
<path d="M562.6 212.1V274.4" stroke="#111" stroke-width="0.9" stroke-dasharray="2.3 1"/>
<path d="M570.5 212.1V274.4" stroke="#111" stroke-width="0.9" stroke-dasharray="2.3 1"/>
</g>
<rect x="528.5" y="212.1" width="63.6" height="62.3" fill="none" stroke="#777" stroke-width="0.9"/>
<path d="M547.0 274.4v1.8M565.2 274.4v1.8M583.4 274.4v1.8" stroke="#333" stroke-width="0.5"/>
<text class="lib" transform="translate(327.4,283.8) rotate(-45)" font-size="4.5" text-anchor="middle">0.60</text>
<text class="lib" transform="translate(342.6,283.8) rotate(-45)" font-size="4.5" text-anchor="middle">0.62</text>
<text class="lib" transform="translate(357.8,283.8) rotate(-45)" font-size="4.5" text-anchor="middle">0.64</text>
<text class="lib" transform="translate(373.0,283.8) rotate(-45)" font-size="4.5" text-anchor="middle">0.66</text>
<text class="lib" x="352.0" y="299.1" font-size="7" text-anchor="middle">E(B − V)</text>
<text class="lib" transform="translate(398.2,284.7) rotate(-45)" font-size="4.5" text-anchor="middle">15.20</text>
<text class="lib" transform="translate(412.8,284.7) rotate(-45)" font-size="4.5" text-anchor="middle">15.25</text>
<text class="lib" transform="translate(427.7,284.7) rotate(-45)" font-size="4.5" text-anchor="middle">15.30</text>
<text class="lib" transform="translate(442.6,284.7) rotate(-45)" font-size="4.5" text-anchor="middle">15.35</text>
<text class="lib" x="421.4" y="299.1" font-size="7" text-anchor="middle">(m − M)<tspan font-size="4.9" dy="1.2">0</tspan></text>
<text class="lib" transform="translate(469.5,283.8) rotate(-45)" font-size="4.5" text-anchor="middle">12.0</text>
<text class="lib" transform="translate(484.0,283.8) rotate(-45)" font-size="4.5" text-anchor="middle">12.8</text>
<text class="lib" transform="translate(498.6,283.8) rotate(-45)" font-size="4.5" text-anchor="middle">13.6</text>
<text class="lib" transform="translate(512.9,283.8) rotate(-45)" font-size="4.5" text-anchor="middle">14.4</text>
<text class="lib" x="490.9" y="299.1" font-size="7" text-anchor="middle">Age (Gyr)</text>
<text class="lib" transform="translate(548.1,284.7) rotate(-45)" font-size="4.5" text-anchor="middle">−1.05</text>
<text class="lib" transform="translate(566.3,284.7) rotate(-45)" font-size="4.5" text-anchor="middle">−0.90</text>
<text class="lib" transform="translate(584.5,284.7) rotate(-45)" font-size="4.5" text-anchor="middle">−0.75</text>
<text class="lib" x="560.3" y="299.1" font-size="7" text-anchor="middle">[Fe/H]</text>
<text class="lib" transform="translate(316.3,129.7) rotate(-45)" font-size="4.5" text-anchor="end">15.20</text>
<text class="lib" transform="translate(316.3,115.4) rotate(-45)" font-size="4.5" text-anchor="end">15.25</text>
<text class="lib" transform="translate(316.3,100.8) rotate(-45)" font-size="4.5" text-anchor="end">15.30</text>
<text class="lib" transform="translate(316.3,86.2) rotate(-45)" font-size="4.5" text-anchor="end">15.35</text>
<text class="lib" transform="translate(299.0,103.3) rotate(-90)" font-size="7" text-anchor="middle">(m − M)<tspan font-size="4.9" dy="1.2">0</tspan></text>
<text class="lib" transform="translate(316.3,198.0) rotate(-45)" font-size="4.5" text-anchor="end">12.0</text>
<text class="lib" transform="translate(316.3,183.8) rotate(-45)" font-size="4.5" text-anchor="end">12.8</text>
<text class="lib" transform="translate(316.3,169.5) rotate(-45)" font-size="4.5" text-anchor="end">13.6</text>
<text class="lib" transform="translate(316.3,155.5) rotate(-45)" font-size="4.5" text-anchor="end">14.4</text>
<text class="lib" transform="translate(299.0,173.3) rotate(-90)" font-size="7" text-anchor="middle">Age (Gyr)</text>
<text class="lib" transform="translate(316.3,258.9) rotate(-45)" font-size="4.5" text-anchor="end">−1.05</text>
<text class="lib" transform="translate(316.3,241.0) rotate(-45)" font-size="4.5" text-anchor="end">−0.90</text>
<text class="lib" transform="translate(316.3,223.2) rotate(-45)" font-size="4.5" text-anchor="end">−0.75</text>
<text class="lib" transform="translate(299.0,243.2) rotate(-90)" font-size="7" text-anchor="middle">[Fe/H]</text>
<rect x="481.4" y="42.4" width="78.2" height="55.6" rx="2" fill="#fff" stroke="#ececec" stroke-width="0.6"/>
<text x="483.6" y="48.8" font-size="7" word-spacing="-0.6">DSED stellar models</text>
<text x="483.6" y="60.0" font-size="7" word-spacing="-0.6">E(B − V) = 0.64<tspan font-size="4.5" stroke-width="0.06" dy="-2.9">+0.01</tspan><tspan font-size="4.5" stroke-width="0.06" dx="-13.79" dy="4.3">−0.01</tspan></text>
<text x="483.6" y="71.3" font-size="7" word-spacing="-0.6">(m − M)<tspan font-size="4.3" stroke-width="0.06" dy="1.1">0</tspan><tspan dy="-1.1"> = 15.29</tspan><tspan font-size="4.5" stroke-width="0.06" dy="-2.9">+0.03</tspan><tspan font-size="4.5" stroke-width="0.06" dx="-13.79" dy="4.3">−0.03</tspan></text>
<text x="483.6" y="82.5" font-size="7" word-spacing="-0.6">Age = 12.8<tspan font-size="4.5" stroke-width="0.06" dy="-2.9">+0.4</tspan><tspan font-size="4.5" stroke-width="0.06" dx="-10.93" dy="4.3">−0.4</tspan><tspan dx="1.00" dy="-1.4">Gyr</tspan></text>
<text x="483.6" y="93.8" font-size="7" word-spacing="-0.6">[Fe/H] = − 0.92<tspan font-size="4.5" stroke-width="0.06" dy="-2.9">+0.07</tspan><tspan font-size="4.5" stroke-width="0.06" dx="-13.79" dy="4.3">−0.08</tspan></text>
</g>
<g>
<clipPath id="cb00"><rect x="320.2" y="326.2" width="62.5" height="61.2"/></clipPath>
<clipPath id="cb10"><rect x="320.2" y="396.3" width="62.5" height="61.2"/></clipPath>
<clipPath id="cb11"><rect x="388.6" y="396.3" width="62.5" height="61.2"/></clipPath>
<clipPath id="cb20"><rect x="320.2" y="466.2" width="62.5" height="61.2"/></clipPath>
<clipPath id="cb21"><rect x="388.6" y="466.2" width="62.5" height="61.2"/></clipPath>
<clipPath id="cb22"><rect x="457.2" y="466.2" width="62.5" height="61.2"/></clipPath>
<clipPath id="cb30"><rect x="320.2" y="536.2" width="62.5" height="61.2"/></clipPath>
<clipPath id="cb31"><rect x="388.6" y="536.2" width="62.5" height="61.2"/></clipPath>
<clipPath id="cb32"><rect x="457.2" y="536.2" width="62.5" height="61.2"/></clipPath>
<clipPath id="cb33"><rect x="525.9" y="536.2" width="62.5" height="61.2"/></clipPath>
<g clip-path="url(#cb00)">
<path d="M320.2 387.1V386.9H323.3V386.9H326.4V386.4H329.6V384.9H332.7V381.9H335.8V378.1H338.9V368.3H342.1V357.8H345.2V344.2H348.3V335.2H351.4V331.4H354.6V339.7H357.7V352.5H360.8V361.6H363.9V370.6H367.1V378.1H370.2V382.7H373.3V386.0H376.4V386.9H379.6V387.2H382.7" fill="none" stroke="#3c3c3c" stroke-width="0.8"/>
<path d="M344.5 326.2V387.4" stroke="#111" stroke-width="0.9" stroke-dasharray="2.3 1"/>
<path d="M352.2 326.2V387.4" stroke="#111" stroke-width="0.9" stroke-dasharray="2.3 1"/>
<path d="M360.6 326.2V387.4" stroke="#111" stroke-width="0.9" stroke-dasharray="2.3 1"/>
</g>
<rect x="320.2" y="326.2" width="62.5" height="61.2" fill="none" stroke="#777" stroke-width="0.9"/>
<path d="M332.8 387.4v1.8M346.2 387.4v1.8M359.4 387.4v1.8M372.6 387.4v1.8" stroke="#333" stroke-width="0.5"/>
<g clip-path="url(#cb10)">
<ellipse cx="352.2" cy="428.1" rx="24.41" ry="12.78" transform="rotate(135.5 352.2 428.1)" fill="#000" fill-opacity="0.001"/>
<ellipse cx="352.2" cy="428.1" rx="22.75" ry="11.90" transform="rotate(135.5 352.2 428.1)" fill="#000" fill-opacity="0.004"/>
<ellipse cx="352.2" cy="428.1" rx="21.09" ry="11.03" transform="rotate(135.5 352.2 428.1)" fill="#000" fill-opacity="0.010"/>
<ellipse cx="352.2" cy="428.1" rx="19.42" ry="10.16" transform="rotate(135.5 352.2 428.1)" fill="#000" fill-opacity="0.022"/>
<ellipse cx="352.2" cy="428.1" rx="17.76" ry="9.29" transform="rotate(135.5 352.2 428.1)" fill="#000" fill-opacity="0.044"/>
<ellipse cx="352.2" cy="428.1" rx="16.09" ry="8.42" transform="rotate(135.5 352.2 428.1)" fill="#000" fill-opacity="0.077"/>
<ellipse cx="352.2" cy="428.1" rx="14.43" ry="7.55" transform="rotate(135.5 352.2 428.1)" fill="#000" fill-opacity="0.120"/>
<ellipse cx="352.2" cy="428.1" rx="12.76" ry="6.68" transform="rotate(135.5 352.2 428.1)" fill="#000" fill-opacity="0.172"/>
<ellipse cx="352.2" cy="428.1" rx="11.10" ry="5.81" transform="rotate(135.5 352.2 428.1)" fill="#000" fill-opacity="0.229"/>
<ellipse cx="352.2" cy="428.1" rx="9.43" ry="4.94" transform="rotate(135.5 352.2 428.1)" fill="#000" fill-opacity="0.289"/>
<ellipse cx="352.2" cy="428.1" rx="7.77" ry="4.07" transform="rotate(135.5 352.2 428.1)" fill="#000" fill-opacity="0.349"/>
<ellipse cx="352.2" cy="428.1" rx="6.10" ry="3.19" transform="rotate(135.5 352.2 428.1)" fill="#000" fill-opacity="0.400"/>
<ellipse cx="352.2" cy="428.1" rx="4.44" ry="2.32" transform="rotate(135.5 352.2 428.1)" fill="#000" fill-opacity="0.421"/>
<ellipse cx="352.2" cy="428.1" rx="2.77" ry="1.45" transform="rotate(135.5 352.2 428.1)" fill="#000" fill-opacity="0.360"/>
<ellipse cx="352.2" cy="428.1" rx="1.11" ry="0.58" transform="rotate(135.5 352.2 428.1)" fill="#000" fill-opacity="0.173"/>
<ellipse cx="352.2" cy="428.1" rx="10.54" ry="5.52" transform="rotate(135.5 352.2 428.1)" fill="none" stroke="#141414" stroke-width="0.95"/>
<ellipse cx="352.2" cy="428.1" rx="22.53" ry="11.79" transform="rotate(135.5 352.2 428.1)" fill="none" stroke="#141414" stroke-width="0.95"/>
<path d="M324.6 440.3L324.8 438.5L325.2 436.8L325.8 435.1L326.5 433.5L327.4 431.9L328.4 430.4L329.5 428.9L330.6 427.4L331.8 425.9L333.0 424.4L334.1 423.0L335.3 421.6L336.5 420.1L337.7 418.7L338.9 417.3L340.1 415.9L341.3 414.5L342.6 413.1L343.8 411.8L345.2 410.5L346.5 409.2L347.9 408.0L349.3 406.9L350.8 405.8L352.3 404.8L353.9 403.8L355.6 403.0L357.3 402.2L359.1 401.5L361.0 401.0L362.8 400.6L364.7 400.4L366.6 400.4L368.4 400.6L370.2 401.0L371.9 401.7L373.5 402.7L375.0 403.9L376.3 405.3L377.3 406.8L378.0 408.4L378.5 410.1L378.7 411.8L378.7 413.6L378.5 415.4L378.1 417.2L377.7 419.0L377.1 420.8L376.5 422.5L375.8 424.3L375.0 426.0L374.2 427.7L373.3 429.4L372.4 431.0L371.4 432.6L370.4 434.2L369.3 435.7L368.2 437.2L367.0 438.7L365.7 440.1L364.5 441.4L363.1 442.7L361.8 444.0L360.4 445.2L358.9 446.4L357.4 447.5L355.9 448.5L354.3 449.5L352.7 450.4L351.1 451.3L349.4 452.1L347.7 452.8L345.9 453.5L344.2 454.1L342.4 454.6L340.6 455.0L338.7 455.3L336.9 455.5L335.2 455.4L333.5 455.2L331.9 454.7L330.5 453.9L329.2 452.7L328.0 451.3L327.0 449.7L326.1 447.9L325.4 446.1L324.9 444.2L324.7 442.2Z" fill="none" stroke="#141414" stroke-width="0.95" stroke-linejoin="round"/>
</g>
<rect x="320.2" y="396.3" width="62.5" height="61.2" fill="none" stroke="#777" stroke-width="0.9"/>
<path d="M332.8 457.5v1.8M346.2 457.5v1.8M359.4 457.5v1.8M372.6 457.5v1.8M320.2 444.9h-1.8M320.2 432.2h-1.8M320.2 419.6h-1.8M320.2 407.0h-1.8" stroke="#333" stroke-width="0.5"/>
<g clip-path="url(#cb11)">
<path d="M388.6 457.2V457.0H391.7V456.7H394.9V456.1H398.0V452.8H401.1V446.7H404.2V439.5H407.4V427.4H410.5V414.3H413.6V405.7H416.7V401.5H419.9V404.8H423.0V414.3H426.1V427.4H429.2V439.2H432.4V447.5H435.5V452.8H438.6V455.5H441.7V456.7H444.9V457.3H448.0V457.3H451.1" fill="none" stroke="#3c3c3c" stroke-width="0.8"/>
<path d="M410.2 396.3V457.5" stroke="#111" stroke-width="0.9" stroke-dasharray="2.3 1"/>
<path d="M418.7 396.3V457.5" stroke="#111" stroke-width="0.9" stroke-dasharray="2.3 1"/>
<path d="M426.8 396.3V457.5" stroke="#111" stroke-width="0.9" stroke-dasharray="2.3 1"/>
</g>
<rect x="388.6" y="396.3" width="62.5" height="61.2" fill="none" stroke="#777" stroke-width="0.9"/>
<path d="M401.5 457.5v1.8M414.4 457.5v1.8M427.3 457.5v1.8M440.2 457.5v1.8" stroke="#333" stroke-width="0.5"/>
<g clip-path="url(#cb20)">
<ellipse cx="352.2" cy="496.9" rx="23.74" ry="15.15" transform="rotate(47.3 352.2 496.9)" fill="#000" fill-opacity="0.001"/>
<ellipse cx="352.2" cy="496.9" rx="22.13" ry="14.12" transform="rotate(47.3 352.2 496.9)" fill="#000" fill-opacity="0.004"/>
<ellipse cx="352.2" cy="496.9" rx="20.51" ry="13.09" transform="rotate(47.3 352.2 496.9)" fill="#000" fill-opacity="0.010"/>
<ellipse cx="352.2" cy="496.9" rx="18.89" ry="12.05" transform="rotate(47.3 352.2 496.9)" fill="#000" fill-opacity="0.022"/>
<ellipse cx="352.2" cy="496.9" rx="17.27" ry="11.02" transform="rotate(47.3 352.2 496.9)" fill="#000" fill-opacity="0.044"/>
<ellipse cx="352.2" cy="496.9" rx="15.65" ry="9.99" transform="rotate(47.3 352.2 496.9)" fill="#000" fill-opacity="0.077"/>
<ellipse cx="352.2" cy="496.9" rx="14.03" ry="8.95" transform="rotate(47.3 352.2 496.9)" fill="#000" fill-opacity="0.120"/>
<ellipse cx="352.2" cy="496.9" rx="12.41" ry="7.92" transform="rotate(47.3 352.2 496.9)" fill="#000" fill-opacity="0.172"/>
<ellipse cx="352.2" cy="496.9" rx="10.79" ry="6.89" transform="rotate(47.3 352.2 496.9)" fill="#000" fill-opacity="0.229"/>
<ellipse cx="352.2" cy="496.9" rx="9.17" ry="5.86" transform="rotate(47.3 352.2 496.9)" fill="#000" fill-opacity="0.289"/>
<ellipse cx="352.2" cy="496.9" rx="7.55" ry="4.82" transform="rotate(47.3 352.2 496.9)" fill="#000" fill-opacity="0.349"/>
<ellipse cx="352.2" cy="496.9" rx="5.94" ry="3.79" transform="rotate(47.3 352.2 496.9)" fill="#000" fill-opacity="0.400"/>
<ellipse cx="352.2" cy="496.9" rx="4.32" ry="2.76" transform="rotate(47.3 352.2 496.9)" fill="#000" fill-opacity="0.421"/>
<ellipse cx="352.2" cy="496.9" rx="2.70" ry="1.72" transform="rotate(47.3 352.2 496.9)" fill="#000" fill-opacity="0.360"/>
<ellipse cx="352.2" cy="496.9" rx="1.08" ry="0.69" transform="rotate(47.3 352.2 496.9)" fill="#000" fill-opacity="0.173"/>
<ellipse cx="352.2" cy="496.9" rx="10.25" ry="6.54" transform="rotate(47.3 352.2 496.9)" fill="none" stroke="#141414" stroke-width="0.95"/>
<ellipse cx="352.2" cy="496.9" rx="21.91" ry="13.98" transform="rotate(47.3 352.2 496.9)" fill="none" stroke="#141414" stroke-width="0.95"/>
<path d="M346.0 466.5L347.6 467.9L349.1 469.2L350.7 470.2L352.4 471.1L354.1 472.0L355.8 472.7L357.6 473.4L359.5 474.1L361.3 474.9L363.1 475.8L364.7 476.8L366.3 478.0L367.7 479.2L369.0 480.6L370.3 482.1L371.4 483.7L372.5 485.4L373.4 487.1L374.3 488.9L375.1 490.8L375.8 492.7L376.4 494.7L377.0 496.6L377.5 498.6L377.9 500.6L378.2 502.6L378.4 504.6L378.5 506.5L378.5 508.4L378.4 510.3L378.1 512.2L377.6 514.0L376.9 515.7L376.0 517.3L374.9 518.9L373.6 520.3L372.1 521.7L370.3 522.9L368.3 523.9L366.3 524.6L364.3 524.9L362.3 524.6L360.4 524.0L358.6 523.2L356.8 522.4L355.1 521.4L353.4 520.5L351.7 519.5L350.1 518.4L348.6 517.3L347.0 516.1L345.5 515.0L344.0 513.7L342.6 512.4L341.1 511.1L339.7 509.8L338.3 508.4L336.8 507.0L335.4 505.5L334.0 504.0L332.7 502.4L331.4 500.9L330.1 499.2L328.9 497.6L327.9 495.9L326.9 494.2L326.1 492.4L325.5 490.6L325.0 488.8L324.7 487.0L324.6 485.1L324.7 483.1L325.0 481.2L325.5 479.3L326.1 477.4L327.0 475.6L327.9 473.9L329.0 472.3L330.3 470.8L331.6 469.3L332.9 467.8L334.2 466.1L335.6 464.3L337.0 462.8L338.5 461.7L340.0 461.4L341.5 462.0L343.0 463.2L344.5 464.8Z" fill="none" stroke="#141414" stroke-width="0.95" stroke-linejoin="round"/>
</g>
<rect x="320.2" y="466.2" width="62.5" height="61.2" fill="none" stroke="#777" stroke-width="0.9"/>
<path d="M332.8 527.4v1.8M346.2 527.4v1.8M359.4 527.4v1.8M372.6 527.4v1.8M320.2 523.3h-1.8M320.2 507.6h-1.8M320.2 492.7h-1.8M320.2 478.0h-1.8" stroke="#333" stroke-width="0.5"/>
<g clip-path="url(#cb21)">
<ellipse cx="418.7" cy="496.9" rx="25.96" ry="11.32" transform="rotate(45.9 418.7 496.9)" fill="#000" fill-opacity="0.001"/>
<ellipse cx="418.7" cy="496.9" rx="24.19" ry="10.55" transform="rotate(45.9 418.7 496.9)" fill="#000" fill-opacity="0.004"/>
<ellipse cx="418.7" cy="496.9" rx="22.42" ry="9.78" transform="rotate(45.9 418.7 496.9)" fill="#000" fill-opacity="0.010"/>
<ellipse cx="418.7" cy="496.9" rx="20.65" ry="9.01" transform="rotate(45.9 418.7 496.9)" fill="#000" fill-opacity="0.022"/>
<ellipse cx="418.7" cy="496.9" rx="18.88" ry="8.24" transform="rotate(45.9 418.7 496.9)" fill="#000" fill-opacity="0.044"/>
<ellipse cx="418.7" cy="496.9" rx="17.11" ry="7.46" transform="rotate(45.9 418.7 496.9)" fill="#000" fill-opacity="0.077"/>
<ellipse cx="418.7" cy="496.9" rx="15.34" ry="6.69" transform="rotate(45.9 418.7 496.9)" fill="#000" fill-opacity="0.120"/>
<ellipse cx="418.7" cy="496.9" rx="13.57" ry="5.92" transform="rotate(45.9 418.7 496.9)" fill="#000" fill-opacity="0.172"/>
<ellipse cx="418.7" cy="496.9" rx="11.80" ry="5.15" transform="rotate(45.9 418.7 496.9)" fill="#000" fill-opacity="0.229"/>
<ellipse cx="418.7" cy="496.9" rx="10.03" ry="4.38" transform="rotate(45.9 418.7 496.9)" fill="#000" fill-opacity="0.289"/>
<ellipse cx="418.7" cy="496.9" rx="8.26" ry="3.60" transform="rotate(45.9 418.7 496.9)" fill="#000" fill-opacity="0.349"/>
<ellipse cx="418.7" cy="496.9" rx="6.49" ry="2.83" transform="rotate(45.9 418.7 496.9)" fill="#000" fill-opacity="0.400"/>
<ellipse cx="418.7" cy="496.9" rx="4.72" ry="2.06" transform="rotate(45.9 418.7 496.9)" fill="#000" fill-opacity="0.421"/>
<ellipse cx="418.7" cy="496.9" rx="2.95" ry="1.29" transform="rotate(45.9 418.7 496.9)" fill="#000" fill-opacity="0.360"/>
<ellipse cx="418.7" cy="496.9" rx="1.18" ry="0.51" transform="rotate(45.9 418.7 496.9)" fill="#000" fill-opacity="0.173"/>
<ellipse cx="418.7" cy="496.9" rx="11.21" ry="4.89" transform="rotate(45.9 418.7 496.9)" fill="none" stroke="#141414" stroke-width="0.95"/>
<ellipse cx="418.7" cy="496.9" rx="23.95" ry="10.45" transform="rotate(45.9 418.7 496.9)" fill="none" stroke="#141414" stroke-width="0.95"/>
<path d="M405.1 466.6L406.6 468.1L408.1 469.5L409.7 470.8L411.3 471.9L412.9 473.0L414.5 474.1L416.1 475.1L417.7 476.2L419.3 477.2L420.8 478.3L422.4 479.5L423.8 480.7L425.3 481.9L426.7 483.2L428.1 484.6L429.4 486.0L430.8 487.4L432.1 488.9L433.3 490.4L434.6 491.9L435.8 493.5L437.0 495.0L438.1 496.7L439.3 498.3L440.4 500.0L441.5 501.6L442.6 503.3L443.6 505.1L444.5 506.8L445.3 508.6L445.9 510.4L446.2 512.2L446.3 514.1L446.2 516.0L445.7 517.9L444.9 519.7L443.7 521.2L442.1 522.3L440.3 523.0L438.4 523.3L436.4 523.3L434.4 523.1L432.4 522.6L430.5 522.0L428.6 521.3L426.8 520.5L425.1 519.6L423.4 518.7L421.7 517.7L420.1 516.6L418.6 515.4L417.0 514.2L415.6 513.0L414.1 511.7L412.7 510.3L411.4 508.9L410.0 507.5L408.7 506.1L407.4 504.6L406.2 503.1L404.9 501.6L403.7 500.0L402.6 498.5L401.5 496.9L400.4 495.2L399.4 493.6L398.4 491.9L397.4 490.2L396.5 488.5L395.7 486.8L394.8 485.0L394.1 483.2L393.4 481.3L392.8 479.5L392.3 477.6L391.8 475.7L391.6 473.7L391.5 471.8L391.6 469.8L391.9 467.7L392.5 465.8L393.6 464.0L394.9 462.5L396.4 461.4L397.9 461.0L399.5 461.2L400.9 462.1L402.3 463.4L403.7 465.0Z" fill="none" stroke="#141414" stroke-width="0.95" stroke-linejoin="round"/>
</g>
<rect x="388.6" y="466.2" width="62.5" height="61.2" fill="none" stroke="#777" stroke-width="0.9"/>
<path d="M401.5 527.4v1.8M414.4 527.4v1.8M427.3 527.4v1.8M440.2 527.4v1.8M388.6 523.3h-1.8M388.6 507.6h-1.8M388.6 492.7h-1.8M388.6 478.0h-1.8" stroke="#333" stroke-width="0.5"/>
<g clip-path="url(#cb22)">
<path d="M457.2 527.4V527.2H460.3V526.6H463.4V525.7H466.6V523.5H469.7V519.0H472.8V513.0H475.9V504.8H479.1V486.8H482.2V479.3H485.3V472.6H488.4V471.4H491.6V479.3H494.7V490.5H497.8V501.0H500.9V509.2H504.1V517.5H507.2V522.7H510.3V525.7H513.5V526.6H516.6V527.2H519.7" fill="none" stroke="#3c3c3c" stroke-width="0.8"/>
<path d="M479.7 466.2V527.4" stroke="#111" stroke-width="0.9" stroke-dasharray="2.3 1"/>
<path d="M488.3 466.2V527.4" stroke="#111" stroke-width="0.9" stroke-dasharray="2.3 1"/>
<path d="M497.3 466.2V527.4" stroke="#111" stroke-width="0.9" stroke-dasharray="2.3 1"/>
</g>
<rect x="457.2" y="466.2" width="62.5" height="61.2" fill="none" stroke="#777" stroke-width="0.9"/>
<path d="M461.4 527.4v1.8M477.4 527.4v1.8M492.6 527.4v1.8M507.7 527.4v1.8" stroke="#333" stroke-width="0.5"/>
<g clip-path="url(#cb30)">
<ellipse cx="352.2" cy="566.5" rx="26.87" ry="8.95" transform="rotate(46.6 352.2 566.5)" fill="#000" fill-opacity="0.001"/>
<ellipse cx="352.2" cy="566.5" rx="25.04" ry="8.34" transform="rotate(46.6 352.2 566.5)" fill="#000" fill-opacity="0.004"/>
<ellipse cx="352.2" cy="566.5" rx="23.21" ry="7.73" transform="rotate(46.6 352.2 566.5)" fill="#000" fill-opacity="0.010"/>
<ellipse cx="352.2" cy="566.5" rx="21.38" ry="7.12" transform="rotate(46.6 352.2 566.5)" fill="#000" fill-opacity="0.022"/>
<ellipse cx="352.2" cy="566.5" rx="19.54" ry="6.51" transform="rotate(46.6 352.2 566.5)" fill="#000" fill-opacity="0.044"/>
<ellipse cx="352.2" cy="566.5" rx="17.71" ry="5.90" transform="rotate(46.6 352.2 566.5)" fill="#000" fill-opacity="0.077"/>
<ellipse cx="352.2" cy="566.5" rx="15.88" ry="5.29" transform="rotate(46.6 352.2 566.5)" fill="#000" fill-opacity="0.120"/>
<ellipse cx="352.2" cy="566.5" rx="14.05" ry="4.68" transform="rotate(46.6 352.2 566.5)" fill="#000" fill-opacity="0.172"/>
<ellipse cx="352.2" cy="566.5" rx="12.22" ry="4.07" transform="rotate(46.6 352.2 566.5)" fill="#000" fill-opacity="0.229"/>
<ellipse cx="352.2" cy="566.5" rx="10.38" ry="3.46" transform="rotate(46.6 352.2 566.5)" fill="#000" fill-opacity="0.289"/>
<ellipse cx="352.2" cy="566.5" rx="8.55" ry="2.85" transform="rotate(46.6 352.2 566.5)" fill="#000" fill-opacity="0.349"/>
<ellipse cx="352.2" cy="566.5" rx="6.72" ry="2.24" transform="rotate(46.6 352.2 566.5)" fill="#000" fill-opacity="0.400"/>
<ellipse cx="352.2" cy="566.5" rx="4.89" ry="1.63" transform="rotate(46.6 352.2 566.5)" fill="#000" fill-opacity="0.421"/>
<ellipse cx="352.2" cy="566.5" rx="3.05" ry="1.02" transform="rotate(46.6 352.2 566.5)" fill="#000" fill-opacity="0.360"/>
<ellipse cx="352.2" cy="566.5" rx="1.22" ry="0.41" transform="rotate(46.6 352.2 566.5)" fill="#000" fill-opacity="0.173"/>
<ellipse cx="352.2" cy="566.5" rx="11.60" ry="3.86" transform="rotate(46.6 352.2 566.5)" fill="none" stroke="#141414" stroke-width="0.95"/>
<ellipse cx="352.2" cy="566.5" rx="24.80" ry="8.26" transform="rotate(46.6 352.2 566.5)" fill="none" stroke="#141414" stroke-width="0.95"/>
<path d="M324.4 541.7L324.8 540.0L325.9 538.8L327.6 538.4L329.5 538.6L331.6 539.2L333.6 540.0L335.6 540.9L337.5 541.8L339.3 542.7L341.1 543.7L342.9 544.7L344.5 545.8L346.2 546.9L347.7 548.0L349.3 549.1L350.8 550.3L352.3 551.5L353.7 552.8L355.2 554.1L356.6 555.4L358.0 556.7L359.4 558.1L360.8 559.5L362.2 560.9L363.6 562.4L365.0 563.9L366.3 565.4L367.7 567.0L368.9 568.6L370.1 570.2L371.3 571.9L372.4 573.6L373.4 575.3L374.3 577.0L375.2 578.8L376.0 580.6L376.6 582.5L377.2 584.4L377.6 586.3L377.9 588.2L378.1 590.2L378.2 592.2L378.1 594.3L377.8 596.4L377.4 598.5L376.8 600.6L376.0 602.5L375.0 603.9L373.6 604.6L371.9 604.3L370.2 603.3L368.6 601.7L367.5 599.8L366.5 597.9L365.5 596.3L364.2 594.8L362.9 593.5L361.4 592.2L359.9 590.9L358.4 589.6L356.9 588.2L355.5 586.8L354.0 585.4L352.6 583.9L351.2 582.5L349.8 581.0L348.5 579.5L347.2 578.1L345.9 576.6L344.7 575.1L343.4 573.6L342.2 572.1L341.0 570.6L339.8 569.0L338.6 567.5L337.4 565.9L336.2 564.3L335.0 562.7L333.8 561.1L332.6 559.4L331.4 557.8L330.2 556.1L329.0 554.4L327.9 552.6L326.8 550.9L325.9 549.1L325.1 547.3L324.6 545.5L324.4 543.6Z" fill="none" stroke="#141414" stroke-width="0.95" stroke-linejoin="round"/>
</g>
<rect x="320.2" y="536.2" width="62.5" height="61.2" fill="none" stroke="#777" stroke-width="0.9"/>
<path d="M332.8 597.4v1.8M346.2 597.4v1.8M359.4 597.4v1.8M372.6 597.4v1.8M320.2 583.3h-1.8M320.2 567.6h-1.8M320.2 552.8h-1.8M320.2 537.7h-1.8" stroke="#333" stroke-width="0.5"/>
<g clip-path="url(#cb31)">
<ellipse cx="418.7" cy="566.5" rx="24.00" ry="15.32" transform="rotate(47.2 418.7 566.5)" fill="#000" fill-opacity="0.001"/>
<ellipse cx="418.7" cy="566.5" rx="22.37" ry="14.28" transform="rotate(47.2 418.7 566.5)" fill="#000" fill-opacity="0.004"/>
<ellipse cx="418.7" cy="566.5" rx="20.73" ry="13.23" transform="rotate(47.2 418.7 566.5)" fill="#000" fill-opacity="0.010"/>
<ellipse cx="418.7" cy="566.5" rx="19.09" ry="12.19" transform="rotate(47.2 418.7 566.5)" fill="#000" fill-opacity="0.022"/>
<ellipse cx="418.7" cy="566.5" rx="17.46" ry="11.14" transform="rotate(47.2 418.7 566.5)" fill="#000" fill-opacity="0.044"/>
<ellipse cx="418.7" cy="566.5" rx="15.82" ry="10.10" transform="rotate(47.2 418.7 566.5)" fill="#000" fill-opacity="0.077"/>
<ellipse cx="418.7" cy="566.5" rx="14.18" ry="9.05" transform="rotate(47.2 418.7 566.5)" fill="#000" fill-opacity="0.120"/>
<ellipse cx="418.7" cy="566.5" rx="12.55" ry="8.01" transform="rotate(47.2 418.7 566.5)" fill="#000" fill-opacity="0.172"/>
<ellipse cx="418.7" cy="566.5" rx="10.91" ry="6.96" transform="rotate(47.2 418.7 566.5)" fill="#000" fill-opacity="0.229"/>
<ellipse cx="418.7" cy="566.5" rx="9.27" ry="5.92" transform="rotate(47.2 418.7 566.5)" fill="#000" fill-opacity="0.289"/>
<ellipse cx="418.7" cy="566.5" rx="7.64" ry="4.87" transform="rotate(47.2 418.7 566.5)" fill="#000" fill-opacity="0.349"/>
<ellipse cx="418.7" cy="566.5" rx="6.00" ry="3.83" transform="rotate(47.2 418.7 566.5)" fill="#000" fill-opacity="0.400"/>
<ellipse cx="418.7" cy="566.5" rx="4.36" ry="2.79" transform="rotate(47.2 418.7 566.5)" fill="#000" fill-opacity="0.421"/>
<ellipse cx="418.7" cy="566.5" rx="2.73" ry="1.74" transform="rotate(47.2 418.7 566.5)" fill="#000" fill-opacity="0.360"/>
<ellipse cx="418.7" cy="566.5" rx="1.09" ry="0.70" transform="rotate(47.2 418.7 566.5)" fill="#000" fill-opacity="0.173"/>
<ellipse cx="418.7" cy="566.5" rx="10.36" ry="6.62" transform="rotate(47.2 418.7 566.5)" fill="none" stroke="#141414" stroke-width="0.95"/>
<ellipse cx="418.7" cy="566.5" rx="22.15" ry="14.14" transform="rotate(47.2 418.7 566.5)" fill="none" stroke="#141414" stroke-width="0.95"/>
<path d="M390.2 554.5L390.5 552.5L391.0 550.6L391.8 548.7L392.7 546.9L393.9 545.1L395.2 543.5L396.7 542.0L398.4 540.7L400.1 539.6L402.0 538.6L404.0 537.9L406.0 537.5L408.0 537.4L409.9 537.8L411.7 538.6L413.5 539.7L415.3 540.7L417.0 541.8L418.7 542.9L420.5 543.9L422.2 545.0L423.9 546.1L425.6 547.2L427.3 548.4L429.0 549.7L430.7 551.0L432.3 552.4L433.8 553.8L435.3 555.2L436.7 556.7L438.1 558.3L439.4 559.9L440.5 561.6L441.6 563.3L442.6 565.1L443.4 567.0L444.1 568.9L444.7 570.8L445.1 572.8L445.4 574.9L445.4 576.9L445.3 579.0L445.1 581.0L444.6 583.1L443.9 585.1L443.2 587.0L442.6 588.9L441.9 590.7L441.1 592.5L440.3 594.3L439.2 596.0L437.9 597.9L436.5 599.8L434.9 601.6L433.3 603.2L431.7 604.5L430.0 605.2L428.4 605.3L426.9 604.6L425.3 603.5L423.9 601.9L422.4 600.1L421.0 598.3L419.5 596.7L418.0 595.3L416.4 594.2L414.6 593.3L412.9 592.3L411.2 591.3L409.5 590.0L407.9 588.6L406.5 587.1L405.1 585.5L403.9 583.9L402.8 582.3L401.7 580.6L400.6 578.9L399.6 577.2L398.5 575.5L397.4 573.7L396.2 571.9L395.1 570.0L394.1 568.1L393.1 566.2L392.2 564.3L391.4 562.4L390.8 560.4L390.4 558.4L390.2 556.5Z" fill="none" stroke="#141414" stroke-width="0.95" stroke-linejoin="round"/>
</g>
<rect x="388.6" y="536.2" width="62.5" height="61.2" fill="none" stroke="#777" stroke-width="0.9"/>
<path d="M401.5 597.4v1.8M414.4 597.4v1.8M427.3 597.4v1.8M440.2 597.4v1.8M388.6 583.3h-1.8M388.6 567.6h-1.8M388.6 552.8h-1.8M388.6 537.7h-1.8" stroke="#333" stroke-width="0.5"/>
<g clip-path="url(#cb32)">
<ellipse cx="488.3" cy="566.5" rx="21.58" ry="19.51" transform="rotate(138.0 488.3 566.5)" fill="#000" fill-opacity="0.001"/>
<ellipse cx="488.3" cy="566.5" rx="20.11" ry="18.18" transform="rotate(138.0 488.3 566.5)" fill="#000" fill-opacity="0.004"/>
<ellipse cx="488.3" cy="566.5" rx="18.64" ry="16.85" transform="rotate(138.0 488.3 566.5)" fill="#000" fill-opacity="0.010"/>
<ellipse cx="488.3" cy="566.5" rx="17.17" ry="15.52" transform="rotate(138.0 488.3 566.5)" fill="#000" fill-opacity="0.022"/>
<ellipse cx="488.3" cy="566.5" rx="15.70" ry="14.19" transform="rotate(138.0 488.3 566.5)" fill="#000" fill-opacity="0.044"/>
<ellipse cx="488.3" cy="566.5" rx="14.22" ry="12.86" transform="rotate(138.0 488.3 566.5)" fill="#000" fill-opacity="0.077"/>
<ellipse cx="488.3" cy="566.5" rx="12.75" ry="11.53" transform="rotate(138.0 488.3 566.5)" fill="#000" fill-opacity="0.120"/>
<ellipse cx="488.3" cy="566.5" rx="11.28" ry="10.20" transform="rotate(138.0 488.3 566.5)" fill="#000" fill-opacity="0.172"/>
<ellipse cx="488.3" cy="566.5" rx="9.81" ry="8.87" transform="rotate(138.0 488.3 566.5)" fill="#000" fill-opacity="0.229"/>
<ellipse cx="488.3" cy="566.5" rx="8.34" ry="7.54" transform="rotate(138.0 488.3 566.5)" fill="#000" fill-opacity="0.289"/>
<ellipse cx="488.3" cy="566.5" rx="6.87" ry="6.21" transform="rotate(138.0 488.3 566.5)" fill="#000" fill-opacity="0.349"/>
<ellipse cx="488.3" cy="566.5" rx="5.40" ry="4.88" transform="rotate(138.0 488.3 566.5)" fill="#000" fill-opacity="0.400"/>
<ellipse cx="488.3" cy="566.5" rx="3.92" ry="3.55" transform="rotate(138.0 488.3 566.5)" fill="#000" fill-opacity="0.421"/>
<ellipse cx="488.3" cy="566.5" rx="2.45" ry="2.22" transform="rotate(138.0 488.3 566.5)" fill="#000" fill-opacity="0.360"/>
<ellipse cx="488.3" cy="566.5" rx="0.98" ry="0.89" transform="rotate(138.0 488.3 566.5)" fill="#000" fill-opacity="0.173"/>
<ellipse cx="488.3" cy="566.5" rx="9.32" ry="8.43" transform="rotate(138.0 488.3 566.5)" fill="none" stroke="#141414" stroke-width="0.95"/>
<ellipse cx="488.3" cy="566.5" rx="19.91" ry="18.00" transform="rotate(138.0 488.3 566.5)" fill="none" stroke="#141414" stroke-width="0.95"/>
<path d="M460.6 568.5L460.5 566.3L460.7 564.2L461.1 562.0L461.7 559.8L462.6 557.8L463.7 555.8L464.9 554.0L466.3 552.4L467.8 550.9L469.4 549.5L471.2 548.3L473.0 547.1L474.8 546.0L476.7 544.8L478.5 543.6L480.4 542.4L482.2 541.3L484.1 540.2L486.0 539.4L487.9 538.8L490.0 538.6L492.1 538.7L494.2 539.1L496.4 539.8L498.5 540.6L500.5 541.7L502.4 542.8L504.3 544.0L506.0 545.2L507.7 546.5L509.4 547.8L511.1 549.0L512.8 550.2L514.5 551.3L516.5 552.4L518.6 553.3L520.8 554.4L522.9 555.6L524.4 557.0L525.1 558.5L524.6 560.1L523.4 561.7L521.6 563.3L519.6 564.8L517.8 566.3L516.3 567.9L515.2 569.8L514.5 571.7L513.9 573.8L513.5 576.0L513.0 578.1L512.3 580.2L511.5 582.2L510.4 584.1L509.3 585.9L508.0 587.7L506.6 589.4L505.3 591.1L503.9 592.7L502.6 594.4L501.4 596.2L500.0 598.1L498.6 600.1L497.1 602.0L495.5 603.6L493.9 604.6L492.4 604.6L490.8 603.8L489.3 602.3L487.7 600.5L486.0 598.7L484.3 597.2L482.5 596.1L480.6 595.3L478.8 594.3L477.1 593.2L475.5 591.8L474.0 590.4L472.5 588.8L471.1 587.1L469.7 585.4L468.4 583.6L467.0 581.9L465.7 580.1L464.4 578.3L463.3 576.4L462.3 574.5L461.5 572.6L460.9 570.5Z" fill="none" stroke="#141414" stroke-width="0.95" stroke-linejoin="round"/>
</g>
<rect x="457.2" y="536.2" width="62.5" height="61.2" fill="none" stroke="#777" stroke-width="0.9"/>
<path d="M461.4 597.4v1.8M477.4 597.4v1.8M492.6 597.4v1.8M507.7 597.4v1.8M457.2 583.3h-1.8M457.2 567.6h-1.8M457.2 552.8h-1.8M457.2 537.7h-1.8" stroke="#333" stroke-width="0.5"/>
<g clip-path="url(#cb33)">
<path d="M525.9 597.1V596.9H529.0V595.2H532.1V593.3H535.3V589.9H538.4V585.7H541.5V580.8H544.6V577.0H547.8V564.1H550.9V557.3H554.0V546.7H557.1V545.6H560.3V541.4H563.4V558.8H566.5V568.7H569.6V580.8H572.8V589.9H575.9V593.7H579.0V596.0H582.1V596.9H585.3V597.2H588.4" fill="none" stroke="#3c3c3c" stroke-width="0.8"/>
<path d="M547.9 536.2V597.4" stroke="#111" stroke-width="0.9" stroke-dasharray="2.3 1"/>
<path d="M557.5 536.2V597.4" stroke="#111" stroke-width="0.9" stroke-dasharray="2.3 1"/>
<path d="M565.7 536.2V597.4" stroke="#111" stroke-width="0.9" stroke-dasharray="2.3 1"/>
</g>
<rect x="525.9" y="536.2" width="62.5" height="61.2" fill="none" stroke="#777" stroke-width="0.9"/>
<path d="M540.3 597.4v1.8M556.3 597.4v1.8M571.4 597.4v1.8M586.9 597.4v1.8" stroke="#333" stroke-width="0.5"/>
<text class="lib" transform="translate(333.9,607.7) rotate(-45)" font-size="4.5" text-anchor="middle">0.615</text>
<text class="lib" transform="translate(347.3,607.7) rotate(-45)" font-size="4.5" text-anchor="middle">0.630</text>
<text class="lib" transform="translate(360.5,607.7) rotate(-45)" font-size="4.5" text-anchor="middle">0.645</text>
<text class="lib" transform="translate(373.7,607.7) rotate(-45)" font-size="4.5" text-anchor="middle">0.660</text>
<text class="lib" x="351.4" y="622.1" font-size="7" text-anchor="middle">E(B − V)</text>
<text class="lib" transform="translate(402.6,607.7) rotate(-45)" font-size="4.5" text-anchor="middle">15.20</text>
<text class="lib" transform="translate(415.5,607.7) rotate(-45)" font-size="4.5" text-anchor="middle">15.24</text>
<text class="lib" transform="translate(428.4,607.7) rotate(-45)" font-size="4.5" text-anchor="middle">15.28</text>
<text class="lib" transform="translate(441.3,607.7) rotate(-45)" font-size="4.5" text-anchor="middle">15.32</text>
<text class="lib" x="419.9" y="622.1" font-size="7" text-anchor="middle">(m − M)<tspan font-size="4.9" dy="1.2">0</tspan></text>
<text class="lib" transform="translate(462.5,606.8) rotate(-45)" font-size="4.5" text-anchor="middle">12.0</text>
<text class="lib" transform="translate(478.5,606.8) rotate(-45)" font-size="4.5" text-anchor="middle">12.8</text>
<text class="lib" transform="translate(493.7,606.8) rotate(-45)" font-size="4.5" text-anchor="middle">13.6</text>
<text class="lib" transform="translate(508.8,606.8) rotate(-45)" font-size="4.5" text-anchor="middle">14.4</text>
<text class="lib" x="488.4" y="622.1" font-size="7" text-anchor="middle">Age (Gyr)</text>
<text class="lib" transform="translate(541.4,607.7) rotate(-45)" font-size="4.5" text-anchor="middle">−1.05</text>
<text class="lib" transform="translate(557.4,607.7) rotate(-45)" font-size="4.5" text-anchor="middle">−0.90</text>
<text class="lib" transform="translate(572.5,607.7) rotate(-45)" font-size="4.5" text-anchor="middle">−0.75</text>
<text class="lib" transform="translate(588.0,607.7) rotate(-45)" font-size="4.5" text-anchor="middle">−0.60</text>
<text class="lib" x="557.1" y="622.1" font-size="7" text-anchor="middle">[Fe/H]</text>
<text class="lib" transform="translate(316.3,447.4) rotate(-45)" font-size="4.5" text-anchor="end">15.20</text>
<text class="lib" transform="translate(316.3,434.8) rotate(-45)" font-size="4.5" text-anchor="end">15.24</text>
<text class="lib" transform="translate(316.3,422.2) rotate(-45)" font-size="4.5" text-anchor="end">15.28</text>
<text class="lib" transform="translate(316.3,409.6) rotate(-45)" font-size="4.5" text-anchor="end">15.32</text>
<text class="lib" transform="translate(299.0,426.9) rotate(-90)" font-size="7" text-anchor="middle">(m − M)<tspan font-size="4.9" dy="1.2">0</tspan></text>
<text class="lib" transform="translate(316.3,525.9) rotate(-45)" font-size="4.5" text-anchor="end">12.0</text>
<text class="lib" transform="translate(316.3,510.2) rotate(-45)" font-size="4.5" text-anchor="end">12.8</text>
<text class="lib" transform="translate(316.3,495.3) rotate(-45)" font-size="4.5" text-anchor="end">13.6</text>
<text class="lib" transform="translate(316.3,480.5) rotate(-45)" font-size="4.5" text-anchor="end">14.4</text>
<text class="lib" transform="translate(299.0,496.8) rotate(-90)" font-size="7" text-anchor="middle">Age (Gyr)</text>
<text class="lib" transform="translate(316.3,585.9) rotate(-45)" font-size="4.5" text-anchor="end">−1.05</text>
<text class="lib" transform="translate(316.3,570.2) rotate(-45)" font-size="4.5" text-anchor="end">−0.90</text>
<text class="lib" transform="translate(316.3,555.4) rotate(-45)" font-size="4.5" text-anchor="end">−0.75</text>
<text class="lib" transform="translate(316.3,540.2) rotate(-45)" font-size="4.5" text-anchor="end">−0.60</text>
<text class="lib" transform="translate(299.0,566.8) rotate(-90)" font-size="7" text-anchor="middle">[Fe/H]</text>
<rect x="478.7" y="365.6" width="78.4" height="56.0" rx="2" fill="#fff" stroke="#ececec" stroke-width="0.6"/>
<text x="480.9" y="372.0" font-size="7" word-spacing="-0.6">BaSTI stellar models</text>
<text x="480.9" y="383.2" font-size="7" word-spacing="-0.6">E(B − V) = 0.64<tspan font-size="4.5" stroke-width="0.06" dy="-2.9">+0.01</tspan><tspan font-size="4.5" stroke-width="0.06" dx="-13.79" dy="4.3">−0.01</tspan></text>
<text x="480.9" y="394.5" font-size="7" word-spacing="-0.6">(m − M)<tspan font-size="4.3" stroke-width="0.06" dy="1.1">0</tspan><tspan dy="-1.1"> = 15.25</tspan><tspan font-size="4.5" stroke-width="0.06" dy="-2.9">+0.03</tspan><tspan font-size="4.5" stroke-width="0.06" dx="-13.79" dy="4.3">−0.03</tspan></text>
<text x="480.9" y="405.8" font-size="7" word-spacing="-0.6">Age = 13.4<tspan font-size="4.5" stroke-width="0.06" dy="-2.9">+0.5</tspan><tspan font-size="4.5" stroke-width="0.06" dx="-10.93" dy="4.3">−0.4</tspan><tspan dx="1.00" dy="-1.4">Gyr</tspan></text>
<text x="480.9" y="417.0" font-size="7" word-spacing="-0.6">[Fe/H] = − 0.88<tspan font-size="4.5" stroke-width="0.06" dy="-2.9">+0.08</tspan><tspan font-size="4.5" stroke-width="0.06" dx="-13.79" dy="4.3">−0.09</tspan></text>
</g>
<g>
<clipPath id="cc00"><rect x="320.2" y="647.2" width="63.6" height="61.4"/></clipPath>
<clipPath id="cc10"><rect x="320.2" y="717.5" width="63.6" height="61.4"/></clipPath>
<clipPath id="cc11"><rect x="389.6" y="717.5" width="63.6" height="61.4"/></clipPath>
<clipPath id="cc20"><rect x="320.2" y="787.8" width="63.6" height="61.4"/></clipPath>
<clipPath id="cc21"><rect x="389.6" y="787.8" width="63.6" height="61.4"/></clipPath>
<clipPath id="cc22"><rect x="459.1" y="787.8" width="63.6" height="61.4"/></clipPath>
<clipPath id="cc30"><rect x="320.2" y="858.1" width="63.6" height="61.4"/></clipPath>
<clipPath id="cc31"><rect x="389.6" y="858.1" width="63.6" height="61.4"/></clipPath>
<clipPath id="cc32"><rect x="459.1" y="858.1" width="63.6" height="61.4"/></clipPath>
<clipPath id="cc33"><rect x="528.5" y="858.1" width="63.6" height="61.4"/></clipPath>
<g clip-path="url(#cc00)">
<path d="M320.2 708.3V708.1H323.4V707.6H326.6V706.1H329.7V703.0H332.9V698.4H336.1V693.1H339.3V679.3H342.5V667.7H345.6V659.3H348.8V652.4H352.0V655.5H355.2V662.4H358.4V673.1H361.5V683.9H364.7V691.5H367.9V702.3H371.1V705.3H374.3V707.6H377.4V708.4H380.6V708.4H383.8" fill="none" stroke="#3c3c3c" stroke-width="0.8"/>
<path d="M342.4 647.2V708.6" stroke="#111" stroke-width="0.9" stroke-dasharray="2.3 1"/>
<path d="M351.0 647.2V708.6" stroke="#111" stroke-width="0.9" stroke-dasharray="2.3 1"/>
<path d="M360.1 647.2V708.6" stroke="#111" stroke-width="0.9" stroke-dasharray="2.3 1"/>
</g>
<rect x="320.2" y="647.2" width="63.6" height="61.4" fill="none" stroke="#777" stroke-width="0.9"/>
<path d="M330.5 708.6v1.8M344.2 708.6v1.8M357.8 708.6v1.8M371.5 708.6v1.8" stroke="#333" stroke-width="0.5"/>
<g clip-path="url(#cc10)">
<ellipse cx="351.0" cy="751.8" rx="28.18" ry="11.82" transform="rotate(133.2 351.0 751.8)" fill="#000" fill-opacity="0.001"/>
<ellipse cx="351.0" cy="751.8" rx="26.26" ry="11.02" transform="rotate(133.2 351.0 751.8)" fill="#000" fill-opacity="0.004"/>
<ellipse cx="351.0" cy="751.8" rx="24.34" ry="10.21" transform="rotate(133.2 351.0 751.8)" fill="#000" fill-opacity="0.010"/>
<ellipse cx="351.0" cy="751.8" rx="22.42" ry="9.40" transform="rotate(133.2 351.0 751.8)" fill="#000" fill-opacity="0.022"/>
<ellipse cx="351.0" cy="751.8" rx="20.50" ry="8.60" transform="rotate(133.2 351.0 751.8)" fill="#000" fill-opacity="0.044"/>
<ellipse cx="351.0" cy="751.8" rx="18.57" ry="7.79" transform="rotate(133.2 351.0 751.8)" fill="#000" fill-opacity="0.077"/>
<ellipse cx="351.0" cy="751.8" rx="16.65" ry="6.99" transform="rotate(133.2 351.0 751.8)" fill="#000" fill-opacity="0.120"/>
<ellipse cx="351.0" cy="751.8" rx="14.73" ry="6.18" transform="rotate(133.2 351.0 751.8)" fill="#000" fill-opacity="0.172"/>
<ellipse cx="351.0" cy="751.8" rx="12.81" ry="5.37" transform="rotate(133.2 351.0 751.8)" fill="#000" fill-opacity="0.229"/>
<ellipse cx="351.0" cy="751.8" rx="10.89" ry="4.57" transform="rotate(133.2 351.0 751.8)" fill="#000" fill-opacity="0.289"/>
<ellipse cx="351.0" cy="751.8" rx="8.97" ry="3.76" transform="rotate(133.2 351.0 751.8)" fill="#000" fill-opacity="0.349"/>
<ellipse cx="351.0" cy="751.8" rx="7.05" ry="2.96" transform="rotate(133.2 351.0 751.8)" fill="#000" fill-opacity="0.400"/>
<ellipse cx="351.0" cy="751.8" rx="5.12" ry="2.15" transform="rotate(133.2 351.0 751.8)" fill="#000" fill-opacity="0.421"/>
<ellipse cx="351.0" cy="751.8" rx="3.20" ry="1.34" transform="rotate(133.2 351.0 751.8)" fill="#000" fill-opacity="0.360"/>
<ellipse cx="351.0" cy="751.8" rx="1.28" ry="0.54" transform="rotate(133.2 351.0 751.8)" fill="#000" fill-opacity="0.173"/>
<ellipse cx="351.0" cy="751.8" rx="12.17" ry="5.10" transform="rotate(133.2 351.0 751.8)" fill="none" stroke="#141414" stroke-width="0.95"/>
<ellipse cx="351.0" cy="751.8" rx="26.00" ry="10.91" transform="rotate(133.2 351.0 751.8)" fill="none" stroke="#141414" stroke-width="0.95"/>
<path d="M319.8 766.4L321.3 764.9L322.6 763.1L323.7 761.2L324.9 759.4L326.0 757.7L327.1 756.0L328.3 754.4L329.5 752.7L330.8 751.1L332.1 749.5L333.4 747.9L334.7 746.3L336.1 744.7L337.4 743.1L338.8 741.5L340.2 740.0L341.6 738.4L343.0 736.9L344.4 735.4L345.9 734.0L347.3 732.6L348.8 731.2L350.4 729.8L351.9 728.6L353.6 727.3L355.3 726.2L357.0 725.1L358.8 724.0L360.7 723.1L362.7 722.2L364.8 721.4L366.9 720.7L369.1 720.3L371.1 720.1L373.0 720.3L374.7 721.0L376.1 722.3L377.1 724.1L377.8 726.2L378.3 728.3L378.5 730.3L378.5 732.4L378.3 734.4L377.9 736.4L377.4 738.4L376.7 740.3L375.9 742.3L375.0 744.2L374.0 746.0L372.9 747.9L371.8 749.7L370.6 751.5L369.4 753.2L368.2 754.9L367.0 756.6L365.7 758.2L364.4 759.8L363.1 761.4L361.8 762.9L360.4 764.4L358.9 765.9L357.5 767.3L356.0 768.7L354.5 770.0L352.9 771.3L351.3 772.6L349.6 773.8L347.9 774.9L346.2 776.1L344.4 777.1L342.6 778.2L340.8 779.6L339.2 781.4L337.8 783.2L336.4 784.4L335.1 784.7L333.7 783.7L332.4 782.0L331.1 780.0L329.8 778.0L328.5 776.4L327.1 774.9L325.6 773.5L324.0 772.3L322.1 771.2L320.0 770.1L318.2 769.1L317.4 768.2L318.2 767.4Z" fill="none" stroke="#141414" stroke-width="0.95" stroke-linejoin="round"/>
</g>
<rect x="320.2" y="717.5" width="63.6" height="61.4" fill="none" stroke="#777" stroke-width="0.9"/>
<path d="M330.5 778.9v1.8M344.2 778.9v1.8M357.8 778.9v1.8M371.5 778.9v1.8M320.2 772.4h-1.8M320.2 758.0h-1.8M320.2 743.5h-1.8M320.2 729.1h-1.8" stroke="#333" stroke-width="0.5"/>
<g clip-path="url(#cc11)">
<path d="M389.6 778.3V778.1H392.8V776.9H396.0V773.8H399.1V766.2H402.3V757.8H405.5V745.1H408.7V736.9H411.9V729.3H415.0V725.8H418.2V722.7H421.4V732.6H424.6V742.5H427.8V752.8H430.9V760.8H434.1V763.9H437.3V772.3H440.5V775.3H443.7V776.9H446.8V778.1H450.0V778.4H453.2" fill="none" stroke="#3c3c3c" stroke-width="0.8"/>
<path d="M407.8 717.5V778.9" stroke="#111" stroke-width="0.9" stroke-dasharray="2.3 1"/>
<path d="M417.7 717.5V778.9" stroke="#111" stroke-width="0.9" stroke-dasharray="2.3 1"/>
<path d="M427.5 717.5V778.9" stroke="#111" stroke-width="0.9" stroke-dasharray="2.3 1"/>
</g>
<rect x="389.6" y="717.5" width="63.6" height="61.4" fill="none" stroke="#777" stroke-width="0.9"/>
<path d="M396.3 778.9v1.8M411.2 778.9v1.8M426.3 778.9v1.8M441.2 778.9v1.8" stroke="#333" stroke-width="0.5"/>
<g clip-path="url(#cc20)">
<ellipse cx="351.0" cy="817.2" rx="28.37" ry="12.56" transform="rotate(48.1 351.0 817.2)" fill="#000" fill-opacity="0.001"/>
<ellipse cx="351.0" cy="817.2" rx="26.43" ry="11.70" transform="rotate(48.1 351.0 817.2)" fill="#000" fill-opacity="0.004"/>
<ellipse cx="351.0" cy="817.2" rx="24.50" ry="10.85" transform="rotate(48.1 351.0 817.2)" fill="#000" fill-opacity="0.010"/>
<ellipse cx="351.0" cy="817.2" rx="22.57" ry="9.99" transform="rotate(48.1 351.0 817.2)" fill="#000" fill-opacity="0.022"/>
<ellipse cx="351.0" cy="817.2" rx="20.63" ry="9.13" transform="rotate(48.1 351.0 817.2)" fill="#000" fill-opacity="0.044"/>
<ellipse cx="351.0" cy="817.2" rx="18.70" ry="8.28" transform="rotate(48.1 351.0 817.2)" fill="#000" fill-opacity="0.077"/>
<ellipse cx="351.0" cy="817.2" rx="16.76" ry="7.42" transform="rotate(48.1 351.0 817.2)" fill="#000" fill-opacity="0.120"/>
<ellipse cx="351.0" cy="817.2" rx="14.83" ry="6.57" transform="rotate(48.1 351.0 817.2)" fill="#000" fill-opacity="0.172"/>
<ellipse cx="351.0" cy="817.2" rx="12.89" ry="5.71" transform="rotate(48.1 351.0 817.2)" fill="#000" fill-opacity="0.229"/>
<ellipse cx="351.0" cy="817.2" rx="10.96" ry="4.85" transform="rotate(48.1 351.0 817.2)" fill="#000" fill-opacity="0.289"/>
<ellipse cx="351.0" cy="817.2" rx="9.03" ry="4.00" transform="rotate(48.1 351.0 817.2)" fill="#000" fill-opacity="0.349"/>
<ellipse cx="351.0" cy="817.2" rx="7.09" ry="3.14" transform="rotate(48.1 351.0 817.2)" fill="#000" fill-opacity="0.400"/>
<ellipse cx="351.0" cy="817.2" rx="5.16" ry="2.28" transform="rotate(48.1 351.0 817.2)" fill="#000" fill-opacity="0.421"/>
<ellipse cx="351.0" cy="817.2" rx="3.22" ry="1.43" transform="rotate(48.1 351.0 817.2)" fill="#000" fill-opacity="0.360"/>
<ellipse cx="351.0" cy="817.2" rx="1.29" ry="0.57" transform="rotate(48.1 351.0 817.2)" fill="#000" fill-opacity="0.173"/>
<ellipse cx="351.0" cy="817.2" rx="12.25" ry="5.42" transform="rotate(48.1 351.0 817.2)" fill="none" stroke="#141414" stroke-width="0.95"/>
<ellipse cx="351.0" cy="817.2" rx="26.18" ry="11.59" transform="rotate(48.1 351.0 817.2)" fill="none" stroke="#141414" stroke-width="0.95"/>
<path d="M348.2 788.0L349.0 789.8L349.8 791.6L350.8 793.3L351.9 794.8L353.3 796.2L354.7 797.6L356.3 799.0L357.9 800.4L359.4 801.8L360.9 803.2L362.3 804.7L363.6 806.2L364.9 807.7L366.2 809.3L367.3 810.9L368.5 812.6L369.6 814.2L370.6 815.9L371.6 817.7L372.6 819.4L373.6 821.2L374.6 823.0L375.6 824.9L376.5 826.7L377.5 828.6L378.3 830.4L378.9 832.4L379.4 834.3L379.6 836.3L379.4 838.3L378.9 840.4L377.9 842.4L376.6 844.3L375.1 845.6L373.5 846.3L371.7 846.4L369.8 846.2L367.9 845.6L366.0 844.9L364.1 844.0L362.3 843.1L360.5 842.1L358.7 841.1L356.9 840.0L355.2 838.9L353.5 837.7L351.9 836.6L350.3 835.3L348.7 834.1L347.1 832.8L345.6 831.5L344.1 830.1L342.7 828.7L341.2 827.3L339.8 825.8L338.5 824.3L337.1 822.8L335.8 821.3L334.5 819.7L333.3 818.1L332.0 816.5L330.8 814.8L329.6 813.2L328.5 811.5L327.4 809.8L326.3 808.1L325.2 806.4L324.1 804.7L323.2 802.9L322.5 801.1L322.0 799.2L321.7 797.2L321.9 795.2L322.3 793.2L323.1 791.2L324.1 789.3L325.3 787.6L326.7 786.0L328.3 784.7L330.0 783.5L331.8 782.7L333.8 782.1L335.8 781.8L337.9 781.8L340.0 782.2L342.0 782.9L343.9 783.8L345.6 785.0L347.0 786.4Z" fill="none" stroke="#141414" stroke-width="0.95" stroke-linejoin="round"/>
</g>
<rect x="320.2" y="787.8" width="63.6" height="61.4" fill="none" stroke="#777" stroke-width="0.9"/>
<path d="M330.5 849.2v1.8M344.2 849.2v1.8M357.8 849.2v1.8M371.5 849.2v1.8M320.2 842.3h-1.8M320.2 827.7h-1.8M320.2 813.3h-1.8M320.2 798.9h-1.8" stroke="#333" stroke-width="0.5"/>
<g clip-path="url(#cc21)">
<ellipse cx="417.7" cy="817.2" rx="30.42" ry="10.70" transform="rotate(-135.2 417.7 817.2)" fill="#000" fill-opacity="0.001"/>
<ellipse cx="417.7" cy="817.2" rx="28.35" ry="9.97" transform="rotate(-135.2 417.7 817.2)" fill="#000" fill-opacity="0.004"/>
<ellipse cx="417.7" cy="817.2" rx="26.27" ry="9.24" transform="rotate(-135.2 417.7 817.2)" fill="#000" fill-opacity="0.010"/>
<ellipse cx="417.7" cy="817.2" rx="24.20" ry="8.51" transform="rotate(-135.2 417.7 817.2)" fill="#000" fill-opacity="0.022"/>
<ellipse cx="417.7" cy="817.2" rx="22.13" ry="7.78" transform="rotate(-135.2 417.7 817.2)" fill="#000" fill-opacity="0.044"/>
<ellipse cx="417.7" cy="817.2" rx="20.05" ry="7.05" transform="rotate(-135.2 417.7 817.2)" fill="#000" fill-opacity="0.077"/>
<ellipse cx="417.7" cy="817.2" rx="17.98" ry="6.32" transform="rotate(-135.2 417.7 817.2)" fill="#000" fill-opacity="0.120"/>
<ellipse cx="417.7" cy="817.2" rx="15.90" ry="5.59" transform="rotate(-135.2 417.7 817.2)" fill="#000" fill-opacity="0.172"/>
<ellipse cx="417.7" cy="817.2" rx="13.83" ry="4.86" transform="rotate(-135.2 417.7 817.2)" fill="#000" fill-opacity="0.229"/>
<ellipse cx="417.7" cy="817.2" rx="11.75" ry="4.13" transform="rotate(-135.2 417.7 817.2)" fill="#000" fill-opacity="0.289"/>
<ellipse cx="417.7" cy="817.2" rx="9.68" ry="3.40" transform="rotate(-135.2 417.7 817.2)" fill="#000" fill-opacity="0.349"/>
<ellipse cx="417.7" cy="817.2" rx="7.61" ry="2.67" transform="rotate(-135.2 417.7 817.2)" fill="#000" fill-opacity="0.400"/>
<ellipse cx="417.7" cy="817.2" rx="5.53" ry="1.94" transform="rotate(-135.2 417.7 817.2)" fill="#000" fill-opacity="0.421"/>
<ellipse cx="417.7" cy="817.2" rx="3.46" ry="1.22" transform="rotate(-135.2 417.7 817.2)" fill="#000" fill-opacity="0.360"/>
<ellipse cx="417.7" cy="817.2" rx="1.38" ry="0.49" transform="rotate(-135.2 417.7 817.2)" fill="#000" fill-opacity="0.173"/>
<ellipse cx="417.7" cy="817.2" rx="13.14" ry="4.62" transform="rotate(-135.2 417.7 817.2)" fill="none" stroke="#141414" stroke-width="0.95"/>
<ellipse cx="417.7" cy="817.2" rx="28.07" ry="9.87" transform="rotate(-135.2 417.7 817.2)" fill="none" stroke="#141414" stroke-width="0.95"/>
<path d="M408.5 788.4L410.1 789.8L411.7 791.2L413.3 792.6L414.8 794.0L416.4 795.4L417.9 796.7L419.5 798.1L421.0 799.5L422.5 800.9L424.0 802.2L425.5 803.6L426.9 805.0L428.4 806.5L429.8 807.9L431.2 809.3L432.6 810.8L434.0 812.3L435.3 813.8L436.7 815.4L438.0 817.0L439.3 818.6L440.6 820.3L441.9 822.0L443.1 823.7L444.3 825.5L445.5 827.3L446.7 829.2L447.7 831.1L448.5 833.0L449.0 835.0L449.1 836.9L448.8 838.9L448.1 840.7L446.9 842.4L445.5 843.7L443.8 844.4L441.9 844.8L439.9 844.9L437.8 844.6L435.7 844.2L433.6 843.6L431.5 842.9L429.6 842.0L427.7 841.1L425.8 840.2L424.0 839.1L422.3 838.0L420.6 836.8L419.0 835.6L417.4 834.3L415.8 833.0L414.3 831.6L412.8 830.2L411.3 828.7L409.8 827.3L408.4 825.8L407.0 824.3L405.6 822.8L404.2 821.2L402.9 819.6L401.6 818.1L400.3 816.5L399.0 814.9L397.7 813.2L396.4 811.6L395.2 810.0L394.0 808.3L392.7 806.7L391.4 805.0L390.1 803.4L388.7 801.7L387.2 800.1L385.9 798.4L385.0 796.7L384.5 794.9L384.7 793.0L385.3 791.0L386.5 789.1L388.0 787.3L389.7 785.7L391.7 784.3L393.8 783.3L395.9 782.6L398.0 782.4L399.9 782.7L401.7 783.4L403.5 784.4L405.2 785.6L406.8 786.9Z" fill="none" stroke="#141414" stroke-width="0.95" stroke-linejoin="round"/>
</g>
<rect x="389.6" y="787.8" width="63.6" height="61.4" fill="none" stroke="#777" stroke-width="0.9"/>
<path d="M396.3 849.2v1.8M411.2 849.2v1.8M426.3 849.2v1.8M441.2 849.2v1.8M389.6 842.3h-1.8M389.6 827.7h-1.8M389.6 813.3h-1.8M389.6 798.9h-1.8" stroke="#333" stroke-width="0.5"/>
<g clip-path="url(#cc22)">
<path d="M459.1 849.0V848.8H462.3V848.2H465.5V846.3H468.6V845.2H471.8V841.0H475.0V831.9H478.2V819.9H481.4V813.8H484.5V807.0H487.7V797.2H490.9V793.0H494.1V801.8H497.3V807.0H500.4V814.6H503.6V824.1H506.8V829.2H510.0V837.2H513.2V842.5H516.3V846.0H519.5V846.6H522.7" fill="none" stroke="#3c3c3c" stroke-width="0.8"/>
<path d="M482.2 787.8V849.2" stroke="#111" stroke-width="0.9" stroke-dasharray="2.3 1"/>
<path d="M492.2 787.8V849.2" stroke="#111" stroke-width="0.9" stroke-dasharray="2.3 1"/>
<path d="M502.7 787.8V849.2" stroke="#111" stroke-width="0.9" stroke-dasharray="2.3 1"/>
</g>
<rect x="459.1" y="787.8" width="63.6" height="61.4" fill="none" stroke="#777" stroke-width="0.9"/>
<path d="M466.2 849.2v1.8M481.4 849.2v1.8M496.3 849.2v1.8M511.2 849.2v1.8" stroke="#333" stroke-width="0.5"/>
<g clip-path="url(#cc30)">
<ellipse cx="351.0" cy="887.7" rx="27.71" ry="9.23" transform="rotate(-136.6 351.0 887.7)" fill="#000" fill-opacity="0.001"/>
<ellipse cx="351.0" cy="887.7" rx="25.82" ry="8.60" transform="rotate(-136.6 351.0 887.7)" fill="#000" fill-opacity="0.004"/>
<ellipse cx="351.0" cy="887.7" rx="23.93" ry="7.97" transform="rotate(-136.6 351.0 887.7)" fill="#000" fill-opacity="0.010"/>
<ellipse cx="351.0" cy="887.7" rx="22.05" ry="7.34" transform="rotate(-136.6 351.0 887.7)" fill="#000" fill-opacity="0.022"/>
<ellipse cx="351.0" cy="887.7" rx="20.16" ry="6.71" transform="rotate(-136.6 351.0 887.7)" fill="#000" fill-opacity="0.044"/>
<ellipse cx="351.0" cy="887.7" rx="18.27" ry="6.08" transform="rotate(-136.6 351.0 887.7)" fill="#000" fill-opacity="0.077"/>
<ellipse cx="351.0" cy="887.7" rx="16.38" ry="5.45" transform="rotate(-136.6 351.0 887.7)" fill="#000" fill-opacity="0.120"/>
<ellipse cx="351.0" cy="887.7" rx="14.49" ry="4.82" transform="rotate(-136.6 351.0 887.7)" fill="#000" fill-opacity="0.172"/>
<ellipse cx="351.0" cy="887.7" rx="12.60" ry="4.19" transform="rotate(-136.6 351.0 887.7)" fill="#000" fill-opacity="0.229"/>
<ellipse cx="351.0" cy="887.7" rx="10.71" ry="3.56" transform="rotate(-136.6 351.0 887.7)" fill="#000" fill-opacity="0.289"/>
<ellipse cx="351.0" cy="887.7" rx="8.82" ry="2.94" transform="rotate(-136.6 351.0 887.7)" fill="#000" fill-opacity="0.349"/>
<ellipse cx="351.0" cy="887.7" rx="6.93" ry="2.31" transform="rotate(-136.6 351.0 887.7)" fill="#000" fill-opacity="0.400"/>
<ellipse cx="351.0" cy="887.7" rx="5.04" ry="1.68" transform="rotate(-136.6 351.0 887.7)" fill="#000" fill-opacity="0.421"/>
<ellipse cx="351.0" cy="887.7" rx="3.15" ry="1.05" transform="rotate(-136.6 351.0 887.7)" fill="#000" fill-opacity="0.360"/>
<ellipse cx="351.0" cy="887.7" rx="1.26" ry="0.42" transform="rotate(-136.6 351.0 887.7)" fill="#000" fill-opacity="0.173"/>
<ellipse cx="351.0" cy="887.7" rx="11.97" ry="3.98" transform="rotate(-136.6 351.0 887.7)" fill="none" stroke="#141414" stroke-width="0.95"/>
<ellipse cx="351.0" cy="887.7" rx="25.57" ry="8.51" transform="rotate(-136.6 351.0 887.7)" fill="none" stroke="#141414" stroke-width="0.95"/>
<path d="M321.3 865.7L321.8 864.2L322.9 862.9L324.4 861.8L326.1 861.1L328.0 861.0L329.8 861.2L331.7 861.7L333.6 862.4L335.4 863.2L337.1 864.0L338.9 864.9L340.5 865.8L342.2 866.8L343.8 867.8L345.3 868.8L346.9 869.9L348.4 871.0L349.9 872.2L351.3 873.3L352.8 874.5L354.2 875.8L355.6 877.0L357.0 878.3L358.4 879.5L359.8 880.8L361.1 882.1L362.4 883.4L363.8 884.8L365.1 886.1L366.3 887.5L367.5 888.9L368.7 890.4L369.9 891.9L371.0 893.4L372.1 894.9L373.1 896.5L374.0 898.2L374.9 899.8L375.8 901.6L376.6 903.3L377.3 905.2L377.9 907.0L378.3 909.0L378.6 910.9L378.5 912.9L378.2 914.8L377.6 916.5L376.7 917.7L375.4 918.4L374.0 918.5L372.4 918.0L370.7 917.2L369.1 916.2L367.4 915.0L365.8 913.7L364.2 912.5L362.7 911.2L361.1 910.0L359.7 908.7L358.2 907.4L356.8 906.2L355.4 904.9L354.1 903.6L352.7 902.3L351.4 901.0L350.0 899.7L348.7 898.5L347.4 897.2L346.1 895.9L344.8 894.6L343.5 893.3L342.2 892.0L340.8 890.7L339.5 889.3L338.2 888.0L336.9 886.7L335.6 885.3L334.3 883.9L333.0 882.6L331.7 881.1L330.5 879.7L329.2 878.3L327.9 876.8L326.7 875.3L325.4 873.7L324.2 872.1L323.0 870.5L322.0 868.9L321.4 867.3Z" fill="none" stroke="#141414" stroke-width="0.95" stroke-linejoin="round"/>
</g>
<rect x="320.2" y="858.1" width="63.6" height="61.4" fill="none" stroke="#777" stroke-width="0.9"/>
<path d="M330.5 919.5v1.8M344.2 919.5v1.8M357.8 919.5v1.8M371.5 919.5v1.8M320.2 903.1h-1.8M320.2 884.7h-1.8M320.2 866.9h-1.8" stroke="#333" stroke-width="0.5"/>
<g clip-path="url(#cc31)">
<ellipse cx="417.7" cy="887.7" rx="27.36" ry="13.50" transform="rotate(-140.9 417.7 887.7)" fill="#000" fill-opacity="0.001"/>
<ellipse cx="417.7" cy="887.7" rx="25.49" ry="12.58" transform="rotate(-140.9 417.7 887.7)" fill="#000" fill-opacity="0.004"/>
<ellipse cx="417.7" cy="887.7" rx="23.63" ry="11.66" transform="rotate(-140.9 417.7 887.7)" fill="#000" fill-opacity="0.010"/>
<ellipse cx="417.7" cy="887.7" rx="21.76" ry="10.74" transform="rotate(-140.9 417.7 887.7)" fill="#000" fill-opacity="0.022"/>
<ellipse cx="417.7" cy="887.7" rx="19.90" ry="9.82" transform="rotate(-140.9 417.7 887.7)" fill="#000" fill-opacity="0.044"/>
<ellipse cx="417.7" cy="887.7" rx="18.03" ry="8.90" transform="rotate(-140.9 417.7 887.7)" fill="#000" fill-opacity="0.077"/>
<ellipse cx="417.7" cy="887.7" rx="16.16" ry="7.98" transform="rotate(-140.9 417.7 887.7)" fill="#000" fill-opacity="0.120"/>
<ellipse cx="417.7" cy="887.7" rx="14.30" ry="7.06" transform="rotate(-140.9 417.7 887.7)" fill="#000" fill-opacity="0.172"/>
<ellipse cx="417.7" cy="887.7" rx="12.43" ry="6.14" transform="rotate(-140.9 417.7 887.7)" fill="#000" fill-opacity="0.229"/>
<ellipse cx="417.7" cy="887.7" rx="10.57" ry="5.22" transform="rotate(-140.9 417.7 887.7)" fill="#000" fill-opacity="0.289"/>
<ellipse cx="417.7" cy="887.7" rx="8.70" ry="4.30" transform="rotate(-140.9 417.7 887.7)" fill="#000" fill-opacity="0.349"/>
<ellipse cx="417.7" cy="887.7" rx="6.84" ry="3.38" transform="rotate(-140.9 417.7 887.7)" fill="#000" fill-opacity="0.400"/>
<ellipse cx="417.7" cy="887.7" rx="4.97" ry="2.45" transform="rotate(-140.9 417.7 887.7)" fill="#000" fill-opacity="0.421"/>
<ellipse cx="417.7" cy="887.7" rx="3.11" ry="1.53" transform="rotate(-140.9 417.7 887.7)" fill="#000" fill-opacity="0.360"/>
<ellipse cx="417.7" cy="887.7" rx="1.24" ry="0.61" transform="rotate(-140.9 417.7 887.7)" fill="#000" fill-opacity="0.173"/>
<ellipse cx="417.7" cy="887.7" rx="11.81" ry="5.83" transform="rotate(-140.9 417.7 887.7)" fill="none" stroke="#141414" stroke-width="0.95"/>
<ellipse cx="417.7" cy="887.7" rx="25.24" ry="12.46" transform="rotate(-140.9 417.7 887.7)" fill="none" stroke="#141414" stroke-width="0.95"/>
<path d="M389.2 870.6L390.5 868.8L391.8 867.1L393.1 865.6L394.5 864.2L396.1 863.0L397.8 862.1L399.6 861.6L401.6 861.3L403.5 861.2L405.5 861.3L407.4 861.6L409.3 862.1L411.1 862.7L413.0 863.4L414.8 864.3L416.6 865.2L418.3 866.2L420.1 867.3L421.8 868.4L423.5 869.6L425.1 870.7L426.8 871.9L428.4 873.1L429.9 874.3L431.4 875.5L432.9 876.8L434.4 878.1L435.8 879.5L437.1 880.9L438.4 882.3L439.7 883.8L440.9 885.3L442.0 886.9L443.1 888.6L444.1 890.3L445.0 892.1L445.9 894.0L446.7 895.9L447.4 897.9L447.9 899.9L448.3 901.9L448.6 903.9L448.6 905.9L448.4 907.8L447.9 909.6L447.2 911.3L446.2 912.9L444.9 914.4L443.3 915.6L441.5 916.6L439.6 917.2L437.7 917.3L435.8 916.9L433.9 916.2L432.1 915.4L430.2 914.5L428.4 913.7L426.6 912.9L424.8 912.1L423.0 911.3L421.2 910.4L419.5 909.4L417.9 908.4L416.2 907.2L414.7 905.9L413.1 904.6L411.7 903.2L410.2 901.8L408.8 900.5L407.4 899.1L406.0 897.7L404.6 896.3L403.2 894.9L401.8 893.6L400.4 892.2L399.0 890.9L397.5 889.6L395.9 888.3L394.3 887.1L392.6 885.9L390.9 884.7L389.2 883.4L387.7 882.0L386.4 880.5L385.6 878.9L385.4 877.3L385.8 875.7L386.7 874.0L387.9 872.3Z" fill="none" stroke="#141414" stroke-width="0.95" stroke-linejoin="round"/>
</g>
<rect x="389.6" y="858.1" width="63.6" height="61.4" fill="none" stroke="#777" stroke-width="0.9"/>
<path d="M396.3 919.5v1.8M411.2 919.5v1.8M426.3 919.5v1.8M441.2 919.5v1.8M389.6 903.1h-1.8M389.6 884.7h-1.8M389.6 866.9h-1.8" stroke="#333" stroke-width="0.5"/>
<g clip-path="url(#cc32)">
<ellipse cx="492.2" cy="887.7" rx="26.33" ry="16.37" transform="rotate(145.1 492.2 887.7)" fill="#000" fill-opacity="0.001"/>
<ellipse cx="492.2" cy="887.7" rx="24.53" ry="15.26" transform="rotate(145.1 492.2 887.7)" fill="#000" fill-opacity="0.004"/>
<ellipse cx="492.2" cy="887.7" rx="22.74" ry="14.14" transform="rotate(145.1 492.2 887.7)" fill="#000" fill-opacity="0.010"/>
<ellipse cx="492.2" cy="887.7" rx="20.94" ry="13.02" transform="rotate(145.1 492.2 887.7)" fill="#000" fill-opacity="0.022"/>
<ellipse cx="492.2" cy="887.7" rx="19.15" ry="11.91" transform="rotate(145.1 492.2 887.7)" fill="#000" fill-opacity="0.044"/>
<ellipse cx="492.2" cy="887.7" rx="17.35" ry="10.79" transform="rotate(145.1 492.2 887.7)" fill="#000" fill-opacity="0.077"/>
<ellipse cx="492.2" cy="887.7" rx="15.56" ry="9.67" transform="rotate(145.1 492.2 887.7)" fill="#000" fill-opacity="0.120"/>
<ellipse cx="492.2" cy="887.7" rx="13.76" ry="8.56" transform="rotate(145.1 492.2 887.7)" fill="#000" fill-opacity="0.172"/>
<ellipse cx="492.2" cy="887.7" rx="11.97" ry="7.44" transform="rotate(145.1 492.2 887.7)" fill="#000" fill-opacity="0.229"/>
<ellipse cx="492.2" cy="887.7" rx="10.17" ry="6.33" transform="rotate(145.1 492.2 887.7)" fill="#000" fill-opacity="0.289"/>
<ellipse cx="492.2" cy="887.7" rx="8.38" ry="5.21" transform="rotate(145.1 492.2 887.7)" fill="#000" fill-opacity="0.349"/>
<ellipse cx="492.2" cy="887.7" rx="6.58" ry="4.09" transform="rotate(145.1 492.2 887.7)" fill="#000" fill-opacity="0.400"/>
<ellipse cx="492.2" cy="887.7" rx="4.79" ry="2.98" transform="rotate(145.1 492.2 887.7)" fill="#000" fill-opacity="0.421"/>
<ellipse cx="492.2" cy="887.7" rx="2.99" ry="1.86" transform="rotate(145.1 492.2 887.7)" fill="#000" fill-opacity="0.360"/>
<ellipse cx="492.2" cy="887.7" rx="1.20" ry="0.74" transform="rotate(145.1 492.2 887.7)" fill="#000" fill-opacity="0.173"/>
<ellipse cx="492.2" cy="887.7" rx="11.37" ry="7.07" transform="rotate(145.1 492.2 887.7)" fill="none" stroke="#141414" stroke-width="0.95"/>
<ellipse cx="492.2" cy="887.7" rx="24.29" ry="15.11" transform="rotate(145.1 492.2 887.7)" fill="none" stroke="#141414" stroke-width="0.95"/>
<path d="M461.9 896.7L461.9 894.9L462.2 893.0L462.8 891.1L463.6 889.2L464.6 887.3L465.7 885.4L466.9 883.5L468.2 881.7L469.4 880.0L470.8 878.3L472.1 876.7L473.5 875.1L474.9 873.7L476.4 872.4L477.9 871.2L479.5 870.0L481.3 869.0L483.1 868.2L485.0 867.4L486.9 866.7L488.9 866.1L490.9 865.4L492.9 864.8L494.9 864.1L496.9 863.3L498.8 862.5L500.7 861.8L502.6 861.3L504.6 861.2L506.5 861.5L508.5 862.0L510.4 862.7L512.4 863.6L514.2 864.5L516.0 865.5L517.9 866.4L519.7 867.2L521.5 868.0L523.2 869.1L524.6 870.5L525.8 872.2L526.7 874.1L527.4 876.2L527.8 878.4L527.9 880.6L527.7 882.8L527.3 885.0L526.5 887.0L525.5 888.8L524.3 890.5L522.8 891.8L521.0 892.8L519.2 893.6L517.5 894.5L515.9 895.7L514.4 897.0L513.0 898.5L511.6 900.0L510.2 901.6L508.8 903.1L507.3 904.6L505.8 906.0L504.2 907.3L502.6 908.5L500.8 909.5L499.0 910.4L497.1 911.2L495.2 911.9L493.2 912.5L491.2 913.1L489.2 913.7L487.2 914.3L485.2 915.0L483.2 915.7L481.2 916.4L479.3 916.9L477.5 917.1L475.9 916.7L474.4 915.8L473.0 914.3L471.6 912.6L470.2 910.8L468.8 909.1L467.4 907.3L466.0 905.6L464.8 903.9L463.7 902.1L462.9 900.4L462.2 898.6Z" fill="none" stroke="#141414" stroke-width="0.95" stroke-linejoin="round"/>
</g>
<rect x="459.1" y="858.1" width="63.6" height="61.4" fill="none" stroke="#777" stroke-width="0.9"/>
<path d="M466.2 919.5v1.8M481.4 919.5v1.8M496.3 919.5v1.8M511.2 919.5v1.8M459.1 903.1h-1.8M459.1 884.7h-1.8M459.1 866.9h-1.8" stroke="#333" stroke-width="0.5"/>
<g clip-path="url(#cc33)">
<path d="M528.5 919.2V919.0H531.7V918.5H534.9V917.0H538.0V915.5H541.2V910.9H544.4V907.0H547.6V898.6H550.8V892.5H553.9V876.3H557.1V872.5H560.3V867.9H563.5V863.3H566.7V878.6H569.8V880.9H573.0V905.5H576.2V907.0H579.4V917.0H582.6V918.1H585.7V919.0H588.9V919.0H592.1" fill="none" stroke="#3c3c3c" stroke-width="0.8"/>
<path d="M552.3 858.1V919.5" stroke="#111" stroke-width="0.9" stroke-dasharray="2.3 1"/>
<path d="M561.4 858.1V919.5" stroke="#111" stroke-width="0.9" stroke-dasharray="2.3 1"/>
<path d="M570.2 858.1V919.5" stroke="#111" stroke-width="0.9" stroke-dasharray="2.3 1"/>
</g>
<rect x="528.5" y="858.1" width="63.6" height="61.4" fill="none" stroke="#777" stroke-width="0.9"/>
<path d="M545.5 919.5v1.8M564.5 919.5v1.8M583.0 919.5v1.8" stroke="#333" stroke-width="0.5"/>
<text class="lib" transform="translate(331.6,929.8) rotate(-45)" font-size="4.5" text-anchor="middle">0.615</text>
<text class="lib" transform="translate(345.3,929.8) rotate(-45)" font-size="4.5" text-anchor="middle">0.630</text>
<text class="lib" transform="translate(358.9,929.8) rotate(-45)" font-size="4.5" text-anchor="middle">0.645</text>
<text class="lib" transform="translate(372.6,929.8) rotate(-45)" font-size="4.5" text-anchor="middle">0.660</text>
<text class="lib" x="352.0" y="944.2" font-size="7" text-anchor="middle">E(B − V)</text>
<text class="lib" transform="translate(397.4,929.8) rotate(-45)" font-size="4.5" text-anchor="middle">15.20</text>
<text class="lib" transform="translate(412.3,929.8) rotate(-45)" font-size="4.5" text-anchor="middle">15.25</text>
<text class="lib" transform="translate(427.4,929.8) rotate(-45)" font-size="4.5" text-anchor="middle">15.30</text>
<text class="lib" transform="translate(442.3,929.8) rotate(-45)" font-size="4.5" text-anchor="middle">15.35</text>
<text class="lib" x="421.4" y="944.2" font-size="7" text-anchor="middle">(m − M)<tspan font-size="4.9" dy="1.2">0</tspan></text>
<text class="lib" transform="translate(467.3,928.9) rotate(-45)" font-size="4.5" text-anchor="middle">12.0</text>
<text class="lib" transform="translate(482.5,928.9) rotate(-45)" font-size="4.5" text-anchor="middle">12.8</text>
<text class="lib" transform="translate(497.4,928.9) rotate(-45)" font-size="4.5" text-anchor="middle">13.6</text>
<text class="lib" transform="translate(512.3,928.9) rotate(-45)" font-size="4.5" text-anchor="middle">14.4</text>
<text class="lib" x="490.9" y="944.2" font-size="7" text-anchor="middle">Age (Gyr)</text>
<text class="lib" transform="translate(546.6,929.8) rotate(-45)" font-size="4.5" text-anchor="middle">−1.05</text>
<text class="lib" transform="translate(565.6,929.8) rotate(-45)" font-size="4.5" text-anchor="middle">−0.90</text>
<text class="lib" transform="translate(584.1,929.8) rotate(-45)" font-size="4.5" text-anchor="middle">−0.75</text>
<text class="lib" x="560.3" y="944.2" font-size="7" text-anchor="middle">[Fe/H]</text>
<text class="lib" transform="translate(316.3,775.0) rotate(-45)" font-size="4.5" text-anchor="end">15.20</text>
<text class="lib" transform="translate(316.3,760.6) rotate(-45)" font-size="4.5" text-anchor="end">15.25</text>
<text class="lib" transform="translate(316.3,746.0) rotate(-45)" font-size="4.5" text-anchor="end">15.30</text>
<text class="lib" transform="translate(316.3,731.7) rotate(-45)" font-size="4.5" text-anchor="end">15.35</text>
<text class="lib" transform="translate(299.0,748.2) rotate(-90)" font-size="7" text-anchor="middle">(m − M)<tspan font-size="4.9" dy="1.2">0</tspan></text>
<text class="lib" transform="translate(316.3,844.9) rotate(-45)" font-size="4.5" text-anchor="end">12.0</text>
<text class="lib" transform="translate(316.3,830.2) rotate(-45)" font-size="4.5" text-anchor="end">12.8</text>
<text class="lib" transform="translate(316.3,815.9) rotate(-45)" font-size="4.5" text-anchor="end">13.6</text>
<text class="lib" transform="translate(316.3,801.5) rotate(-45)" font-size="4.5" text-anchor="end">14.4</text>
<text class="lib" transform="translate(299.0,818.5) rotate(-90)" font-size="7" text-anchor="middle">Age (Gyr)</text>
<text class="lib" transform="translate(316.3,905.7) rotate(-45)" font-size="4.5" text-anchor="end">−1.05</text>
<text class="lib" transform="translate(316.3,887.3) rotate(-45)" font-size="4.5" text-anchor="end">−0.90</text>
<text class="lib" transform="translate(316.3,869.5) rotate(-45)" font-size="4.5" text-anchor="end">−0.75</text>
<text class="lib" transform="translate(299.0,888.8) rotate(-90)" font-size="7" text-anchor="middle">[Fe/H]</text>
<rect x="481.4" y="687.6" width="83.0" height="55.4" rx="2" fill="#fff" stroke="#ececec" stroke-width="0.6"/>
<text x="483.6" y="694.0" font-size="7" word-spacing="-0.6">PARSEC stellar models</text>
<text x="483.6" y="705.2" font-size="7" word-spacing="-0.6">E(B − V) = 0.64<tspan font-size="4.5" stroke-width="0.06" dy="-2.9">+0.01</tspan><tspan font-size="4.5" stroke-width="0.06" dx="-13.79" dy="4.3">−0.01</tspan></text>
<text x="483.6" y="716.5" font-size="7" word-spacing="-0.6">(m − M)<tspan font-size="4.3" stroke-width="0.06" dy="1.1">0</tspan><tspan dy="-1.1"> = 15.27</tspan><tspan font-size="4.5" stroke-width="0.06" dy="-2.9">+0.03</tspan><tspan font-size="4.5" stroke-width="0.06" dx="-13.79" dy="4.3">−0.03</tspan></text>
<text x="483.6" y="727.8" font-size="7" word-spacing="-0.6">Age = 13.4<tspan font-size="4.5" stroke-width="0.06" dy="-2.9">+0.6</tspan><tspan font-size="4.5" stroke-width="0.06" dx="-10.93" dy="4.3">−0.5</tspan><tspan dx="1.00" dy="-1.4">Gyr</tspan></text>
<text x="483.6" y="739.0" font-size="7" word-spacing="-0.6">[Fe/H] = − 0.92<tspan font-size="4.5" stroke-width="0.06" dy="-2.9">+0.07</tspan><tspan font-size="4.5" stroke-width="0.06" dx="-13.79" dy="4.3">−0.07</tspan></text>
</g>
</svg></body></html>
